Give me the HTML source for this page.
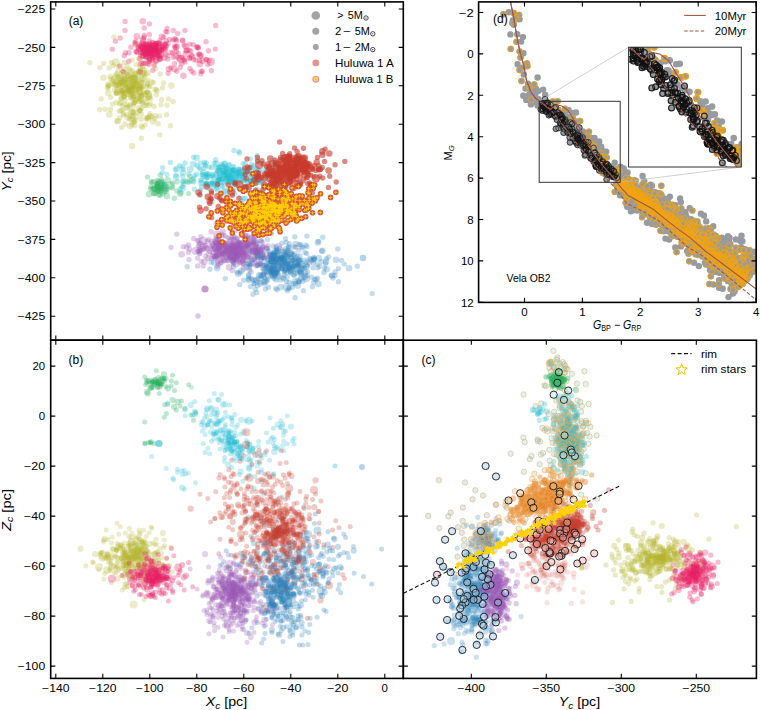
<!DOCTYPE html><html><head><meta charset="utf-8"><style>
html,body{margin:0;padding:0;background:#fff;width:760px;height:710px;overflow:hidden}
svg{display:block}
svg,text{font-family:"Liberation Sans",sans-serif}
text{fill:#000}
.r2_8 circle{r:2.8px}.r2_9 circle{r:2.9px}
.rh circle{r:2.7px}.rb circle{r:3.6px}
</style></head><body>
<svg width="760" height="710" viewBox="0 0 760 710" font-family="Liberation Sans, sans-serif">
<rect width="760" height="710" fill="#fff"/>
<g fill="none" stroke="#b3b52a" stroke-opacity="0.27" stroke-linecap="round"><path stroke-width="5.4" d="M112.7 79.5h.01M139.9 110.4h.01M133.3 82h.01M135.8 89.9h.01M139.9 84.9h.01M156.3 94.8h.01M150 113.8h.01M133.1 96.4h.01M153.5 82.6h.01M129.4 69.2h.01M129.5 119h.01M125.9 80h.01M145.8 73.9h.01M133 103.1h.01M118 77.7h.01M127.6 87.8h.01M123.4 92h.01M127.1 73.3h.01M99.9 67.6h.01M173.2 101.5h.01M142.3 65.8h.01M131 77.3h.01M103.7 63.4h.01M122 70.9h.01M146.4 117.7h.01M163.5 83h.01M121.4 81.2h.01M146.4 102.8h.01M129.5 106.2h.01M167 105.2h.01M121.6 98.5h.01M124.5 62.4h.01M141 76.4h.01M123.1 113.8h.01M150.1 86.2h.01M118.6 66.4h.01M159.8 134.9h.01M125 124h.01M135.5 45h.01M160.2 74h.01M122.4 105.9h.01M99.7 109.8h.01M131.2 91.7h.01M116.5 90.7h.01M119.8 117.8h.01M132 60.1h.01M160.9 104.7h.01M89.9 62.8h.01M141.2 119.3h.01M162.5 87.9h.01M110.5 109.3h.01M154.1 64h.01M122.9 86.4h.01M107.9 87.5h.01M154.9 89.8h.01M158.2 123.7h.01M113.5 65.8h.01M168.6 98.9h.01M109.2 67.9h.01M121.7 127.3h.01M148.1 80.3h.01M105.1 109.3h.01M155.5 68.6h.01M134.5 121.7h.01M154.3 106.5h.01M161.5 99.7h.01M170.5 125.8h.01M116.3 102.5h.01M136 73.2h.01M113.8 37.1h.01M141.3 138.2h.01M135.4 77.9h.01M155.5 115.7h.01M145.1 124.9h.01M136.4 64.5h.01M101.2 98.8h.01M133.3 87.3h.01M110.6 97.5h.01M140.5 87.6h.01M134.7 88.6h.01M166.5 114.7h.01M132.4 82.2h.01"/><path stroke-width="6.6" d="M138.3 96.7h.01M108.2 92.9h.01M141.3 56.6h.01M149.4 95.9h.01M132.1 146h.01M130.2 126.1h.01M115.7 85h.01M109.3 114.4h.01M130.9 111.6h.01M103.5 77.8h.01M153.2 121.5h.01M143.8 93.9h.01M171.3 85.6h.01M136 116.4h.01"/><path stroke-width="5.4" d="M138.7 94h.01M133.6 86.8h.01M151.6 116.5h.01M131.2 119.3h.01M110.1 76.4h.01M133.8 96.9h.01M126.5 87.3h.01M150.7 98.7h.01M121.3 76.1h.01M134 103.1h.01M128.2 76.6h.01M145.2 105.3h.01M138.3 72.7h.01M141.8 100.3h.01M139.7 110.5h.01M130.4 90.6h.01M142.9 67.3h.01M147.2 92.4h.01M152 82h.01M121 92.9h.01M150.4 103.6h.01M124.6 96.3h.01M149 85.9h.01M112.4 83.7h.01M157.1 90.7h.01M142.8 82h.01M123 110.1h.01M115.3 75h.01M117.3 88h.01M119.3 103.8h.01M127.6 104.9h.01M127.1 65.7h.01M129.1 81.9h.01M136.7 83.1h.01M144 72.5h.01M107.6 87.5h.01M132.4 91.9h.01M112.5 103.9h.01M117.7 70.9h.01M134.9 125.5h.01M139.9 59.6h.01M142.4 127.4h.01M116.2 93.4h.01M123.7 115.1h.01M159.4 115.9h.01M119.7 83.6h.01M146.8 119.1h.01M121.9 90.8h.01"/><path stroke-width="6.6" d="M142.9 87.1h.01M130 71h.01M134.5 78.4h.01M123.8 81.3h.01M132.1 111.9h.01M117.8 121.3h.01"/><path stroke-width="8.4" d="M115.7 62.5h.01"/><path stroke-width="5.4" d="M131.3 83.7h.01M138.4 89.7h.01M131.3 76.8h.01M125.6 85.1h.01M122 79.1h.01M117.6 75.9h.01M135.3 100.3h.01M132.6 115.8h.01M139.8 67.7h.01M116.5 93.6h.01M133.4 93.4h.01M133.6 105.8h.01M113.8 84.9h.01M147.4 83h.01M141.6 95.3h.01M124.9 100.3h.01M108.8 85.8h.01M155 118.7h.01M137.4 112.4h.01M149.3 105.2h.01M141.9 108.2h.01M147.7 91.8h.01M119 82.8h.01M133.4 122.4h.01M140.8 100.9h.01M138.2 76.7h.01M127.5 107.3h.01M119.4 111.2h.01M130.5 98.1h.01M131 88.5h.01M136.4 83.8h.01M156.3 89.3h.01M120.5 102.4h.01M110.5 79h.01M111.6 62.7h.01M125 82.7h.01M117.1 120.9h.01M132.7 70.9h.01M120.5 90.8h.01M141 126h.01M124.5 69.1h.01"/><path stroke-width="6.6" d="M148.8 97.2h.01M150 116.2h.01M142.7 73.3h.01M127.8 117.6h.01M141.2 82.8h.01"/><path stroke-width="8.4" d="M126.8 92.7h.01"/><path stroke-width="5.4" d="M131.9 87.5h.01M137.6 85.4h.01M134.4 76.6h.01M121.8 93.3h.01M114.3 77.5h.01M130.8 94.4h.01M116.5 92.9h.01M118.8 79.1h.01M146.5 86.5h.01M139.1 98.8h.01M140.6 69.8h.01M134.3 102.7h.01M130 104.9h.01M133.1 112.8h.01M124.1 104.5h.01M127.2 85.4h.01M144.6 77.8h.01M127.8 90.1h.01M122.1 86h.01M141.1 81.3h.01M146.1 105.2h.01M123.8 97.6h.01M135.4 120.5h.01M108.7 85.2h.01M120.9 110.4h.01M127.6 90.9h.01M126.7 114.6h.01M142.2 102.7h.01M131.7 124.8h.01M114.9 82.1h.01M145.6 98.7h.01M117.1 73.7h.01M141.5 114.2h.01"/><path stroke-width="6.6" d="M127.9 75.6h.01M132 81.8h.01M123.9 81h.01M139.8 92.6h.01M148.1 118.5h.01M148.9 93.7h.01M147.5 73.3h.01M139.3 108.1h.01"/><path stroke-width="5.4" d="M137.2 89.2h.01M134.6 84.4h.01M141 86.4h.01M123.4 75.2h.01M126.3 79.3h.01M133.7 77.2h.01M121.5 90.2h.01M130.5 90.9h.01M123.9 96.6h.01M130.9 97h.01M147.6 84.5h.01M141.8 96.3h.01M147.8 98.1h.01M138.8 101.5h.01M114.5 90.1h.01M125.7 85.6h.01M126.2 108.2h.01M134 111.3h.01M146.8 92h.01M142.9 79.2h.01M133.3 120.5h.01M118.8 76.6h.01M107.9 83.9h.01M130.1 116.6h.01M140.3 110.7h.01M144.5 69.7h.01M130.2 90h.01M148.2 117.5h.01"/><path stroke-width="6.6" d="M116.8 81.5h.01M139.3 71.7h.01"/><path stroke-width="5.4" d="M135.5 87.2h.01M140.1 88.9h.01M121.8 80.1h.01M136.4 92.3h.01M129.9 78.8h.01M129.7 88.4h.01M120.5 93.4h.01M127 83.3h.01M134 81.3h.01M125.4 92.8h.01M140.4 98h.01M112.8 81.3h.01M145.2 94.3h.01M117.7 85.4h.01M129.6 94.9h.01M138.9 81h.01M135.6 101.9h.01M144 75.1h.01M133.4 116.8h.01M139.2 71.6h.01M120.8 98.3h.01M142.5 102.9h.01M134 96.9h.01M122.2 84.8h.01"/><path stroke-width="6.6" d="M134.9 74.3h.01"/><path stroke-width="8.4" d="M123.4 73.8h.01"/><path stroke-width="5.4" d="M135.9 87.9h.01M134.9 82.8h.01M132.2 93.1h.01M140.8 87.7h.01M133.5 75.3h.01M124.8 96h.01M120.5 82.7h.01M128.1 85.8h.01M124.3 78.5h.01M140.9 95.9h.01M127.9 90.5h.01M117.5 92.1h.01M122.4 91.1h.01M135.2 88.7h.01"/><path stroke-width="6.6" d="M129.2 80.3h.01M136.6 99h.01"/><path stroke-width="5.4" d="M139.8 87.2h.01M132.4 85.8h.01M129.1 90.3h.01M133.1 77.9h.01M140.2 92.3h.01M123.3 82h.01M135.9 81.9h.01M132.9 98.9h.01"/><path stroke-width="6.6" d="M135.3 90.2h.01M119.2 86.2h.01M128.1 75.3h.01"/><path stroke-width="8.4" d="M127.4 89.8h.01"/><path stroke-width="5.4" d="M132.9 87.8h.01M128.7 90.9h.01M141.6 87.9h.01M135 81.7h.01M122.7 82.4h.01M130.5 80.2h.01M123.8 93.5h.01M132.7 94.3h.01M143.6 92.6h.01"/><path stroke-width="8.4" d="M130.1 87.8h.01"/><path stroke-width="5.4" d="M129.6 92.4h.01M137.9 86.1h.01M137 79.5h.01M132 85.9h.01M124.1 80.1h.01M122.5 90.4h.01"/><path stroke-width="8.4" d="M118 83.4h.01"/></g>
<g fill="none" stroke="#e91e63" stroke-opacity="0.3" stroke-linecap="round"><path stroke-width="5.4" d="M150.2 48.1h.01M140.3 45.7h.01M198.1 48.1h.01M160 40.4h.01M174.6 39h.01M146.5 50.9h.01M152.3 53.6h.01M128.9 52.7h.01M149.5 40.8h.01M125.1 21.4h.01M199.3 53.8h.01M156.7 50h.01M165 49h.01M145.6 43.4h.01M177 46.2h.01M168.2 73.2h.01M176.3 51.1h.01M208.9 60.7h.01M144.4 35.1h.01M190 58h.01M156.3 45.3h.01M184.5 60.1h.01M148.9 60h.01M142 63.2h.01M189.9 68.5h.01M160.7 47.4h.01M201.3 71.3h.01M208.5 50.7h.01M163.7 37.1h.01M128.7 61.3h.01M171.2 52.4h.01M139.1 58.6h.01M215.7 25.5h.01M211.4 70.7h.01M120 65.9h.01M149.4 34.5h.01M165.7 44.2h.01M173.3 57.3h.01M152.9 70.3h.01M145.6 56.4h.01M134.9 42.6h.01M140.3 71.8h.01M174.5 63.5h.01M167.8 59.1h.01M152.1 47.5h.01M215.3 49.1h.01M193.7 72.9h.01M196.1 60.2h.01M115.4 41.2h.01M206 41.8h.01M125 30.4h.01M184.9 30.4h.01M120.2 38h.01M149.4 23.9h.01M173.4 30.4h.01M167 28.5h.01M144.7 47.9h.01M151.5 53.8h.01M180.3 67.3h.01M182.7 40h.01M151.1 48.6h.01M112.3 49.2h.01M189.8 44.1h.01M136.4 51.6h.01M124.3 55.7h.01M190.7 51h.01M169.5 39.4h.01M177.7 33.5h.01M184.1 44.9h.01M149 64.6h.01M154.2 65.7h.01M156.1 43.5h.01M151.2 53.2h.01M130.9 47.3h.01M144.2 27.9h.01M157.4 55.2h.01M144.3 50.2h.01M123.2 71.4h.01"/><path stroke-width="6.6" d="M174.4 69.1h.01M202.5 60.9h.01M136.8 36.3h.01M156.5 60.7h.01M185.8 54h.01M141.5 52.3h.01M142.8 21.3h.01M179.1 58.3h.01M183.4 75.7h.01"/><path stroke-width="8.4" d="M160.6 54.4h.01"/><path stroke-width="5.4" d="M141.8 46.5h.01M149.6 56h.01M144.8 53.7h.01M125.4 52.7h.01M159.5 56h.01M149.6 43.3h.01M191.7 71.2h.01M206.3 59.4h.01M185 61.9h.01M202.4 71.2h.01M143.8 63h.01M176.8 71.2h.01M166.4 46.1h.01M175.7 39.3h.01M149.7 49.8h.01M135.2 43.8h.01M166 54.2h.01M136.9 52.4h.01M150.3 48.8h.01M154.9 53.2h.01M156 48.1h.01M151.9 60.6h.01M153.8 53.8h.01M165.7 31.6h.01M144.2 48.6h.01M198.4 47.2h.01M153.5 42.6h.01M207.8 64.5h.01M146.1 44.3h.01M193.3 44.7h.01M166.2 41h.01M182.6 40.8h.01M181.5 57.3h.01M151 50.2h.01"/><path stroke-width="6.6" d="M150.5 49.5h.01M158.7 50.9h.01M192.1 56.6h.01M199.7 64.2h.01M142.7 39.4h.01M176.1 47.4h.01M175.9 56.1h.01M158.7 43.3h.01M186.7 50.3h.01M168.9 69h.01M161.9 36.8h.01M200.3 55.2h.01M158.1 50.2h.01"/><path stroke-width="5.4" d="M147.8 52.2h.01M151.6 55.8h.01M153.8 47.7h.01M139.8 44.2h.01M160.9 50.6h.01M189.3 58.3h.01M144.1 37.3h.01M152.2 42.7h.01M138.6 49.1h.01M174.7 45.9h.01M161 45.4h.01M146.5 57h.01M149.5 51.5h.01M156.4 57.1h.01M172.7 53h.01M178.2 53.4h.01M186.3 50.6h.01M176.7 40.8h.01M164.5 58.2h.01M147.8 46.4h.01M167.9 43.8h.01M198.5 54.6h.01M145.1 63.3h.01M199.7 60.4h.01M167.1 32.1h.01M140.3 64h.01M196.9 47.5h.01M170.9 67.7h.01M154.6 50.9h.01M158.2 45h.01M135.7 41h.01M200.8 73.7h.01M145.6 57h.01M153 47.9h.01M150.3 52.8h.01"/><path stroke-width="6.6" d="M146.2 45.6h.01M155.6 50.2h.01M144.2 51.5h.01"/><path stroke-width="8.4" d="M181 59.2h.01M210.9 61.7h.01"/><path stroke-width="5.4" d="M152.1 55.1h.01M148.9 49.3h.01M144.8 53.8h.01M191.4 55.3h.01M155.3 50.8h.01M141.8 43h.01M161.6 50.2h.01M184 59.3h.01M138.5 46.4h.01M153.7 45.8h.01M150.1 50.8h.01M165 44h.01M157.7 55.1h.01M158.8 43.3h.01M142.9 49.6h.01M174.9 47.7h.01M152.5 46.7h.01M167.8 55.8h.01M193.6 59.5h.01M172.8 40.1h.01M155.8 60.7h.01M149.7 59h.01M181.8 63.5h.01M206.1 59.5h.01M189 50.2h.01M146.1 54.2h.01M200.9 56h.01M136 51.5h.01M197.1 46.7h.01M147.4 63.4h.01"/><path stroke-width="6.6" d="M146.6 44.7h.01M185.5 46.3h.01"/><path stroke-width="5.4" d="M149 52.7h.01M151.3 46.6h.01M153.3 57.5h.01M145.3 44.6h.01M161.2 54.7h.01M156.6 51.7h.01M163.5 48.6h.01M156 46.9h.01M159.8 59.1h.01M142.9 55.8h.01M154.9 51.6h.01M148.6 51.5h.01M137.9 47.5h.01M149 53.4h.01M142.5 44.5h.01M142.9 50.6h.01M143.4 39.5h.01M155.9 43.5h.01M144.3 50h.01M149.4 61.6h.01"/><path stroke-width="6.6" d="M150.7 45.8h.01"/><path stroke-width="8.4" d="M163.5 46h.01"/><path stroke-width="5.4" d="M146.4 53.3h.01M155.5 55.3h.01M152.4 59h.01M151.6 47.6h.01M151.6 52.9h.01M155.1 43.6h.01M147.8 48.3h.01M162.9 46.9h.01M140.5 47.7h.01M152.6 49.7h.01M148.4 53.2h.01M158.9 50.5h.01M146.1 47.6h.01M142.6 56.4h.01M153.6 49.9h.01M158.3 50.9h.01"/><path stroke-width="6.6" d="M159.8 58.8h.01"/><path stroke-width="5.4" d="M149.2 53.5h.01M154.3 48.2h.01M150 46h.01M145.2 51.1h.01M154.1 53.1h.01M161.4 49.7h.01M143.6 46.5h.01M140.3 49.7h.01M149.2 54.4h.01M149.9 59.9h.01M156.3 53.3h.01M148.3 47.2h.01M140.6 55h.01M160 59h.01"/><path stroke-width="6.6" d="M156 46.2h.01"/><path stroke-width="5.4" d="M145.7 54.5h.01M147.1 48.1h.01M158 55.3h.01M159.4 49.8h.01M152.8 57.1h.01M143.7 44.7h.01M147.3 53.5h.01M155.5 47.2h.01"/><path stroke-width="6.6" d="M150.6 48.8h.01M165.1 49.4h.01M150.6 51.9h.01M144.2 49.1h.01"/><path stroke-width="8.4" d="M153.7 46.3h.01"/><path stroke-width="5.4" d="M147 51.3h.01M153.7 50.4h.01M150.3 44.9h.01M151.7 50.1h.01M142.6 48.1h.01M158.9 52.3h.01M153 55.7h.01M141.9 52.8h.01M148.4 54.3h.01M158.6 44h.01M154 49.3h.01M147 57.5h.01"/><path stroke-width="5.4" d="M147.9 50.7h.01M153.8 49.7h.01M148.6 51.8h.01M150.5 44.9h.01M162.6 45.8h.01M157.2 45.2h.01M142.8 52.9h.01M152.2 55.3h.01M148.2 50.9h.01M159.6 56.4h.01M147.2 56.9h.01"/><path stroke-width="6.6" d="M155.6 50.2h.01M142.5 47.4h.01M154.5 50.8h.01"/></g>
<g fill="none" stroke="#27ae60" stroke-opacity="0.3" stroke-linecap="round"><path stroke-width="5.4" d="M151.2 181.8h.01M157 180.5h.01M158 190.9h.01M189.8 176.5h.01M174.4 198.2h.01M167.2 188.9h.01M157.2 186.4h.01M186 181h.01M160.3 174.9h.01M180.9 192.7h.01M177.1 181.7h.01M172.5 188h.01M182.2 186.4h.01M188.6 193.6h.01M161.9 187.9h.01M151 186.9h.01M162 181.5h.01M160.2 195h.01M147.5 177.1h.01"/><path stroke-width="6.6" d="M167.7 180h.01M166.9 196.1h.01M149 194.2h.01"/><path stroke-width="5.4" d="M156.6 184.9h.01M164.9 183.9h.01M151.8 182.7h.01M150.5 188.9h.01M162.9 193.9h.01M157 183.9h.01M161.5 179.5h.01"/><path stroke-width="6.6" d="M161 188.3h.01M154.7 193.2h.01M180.2 193.8h.01M192 180.4h.01"/><path stroke-width="8.4" d="M170.6 185.6h.01"/><path stroke-width="5.4" d="M164.6 191.5h.01M160.4 188.6h.01M155.3 193.1h.01M157.5 184.1h.01M166.9 186.9h.01M153.5 188.7h.01M176.8 191h.01M172.7 183h.01M157.2 183.8h.01M162.3 183.6h.01M189.4 181.9h.01"/><path stroke-width="5.4" d="M156.7 187h.01M162.3 186h.01M158.9 195.3h.01M153.7 193.5h.01M166.2 191.3h.01M158.9 181.3h.01M153.6 181.8h.01"/><path stroke-width="6.6" d="M155.1 187.9h.01"/><path stroke-width="5.4" d="M157.2 185.5h.01M158.4 187.1h.01M163.5 186.8h.01"/><path stroke-width="6.6" d="M153.2 189h.01"/><path stroke-width="5.4" d="M161.1 184.6h.01M165.7 189.7h.01"/><path stroke-width="6.6" d="M159.4 190h.01"/><path stroke-width="5.4" d="M157.6 189.9h.01"/><path stroke-width="6.6" d="M161.1 182.8h.01"/><path stroke-width="5.4" d="M158.8 186.8h.01"/><path stroke-width="6.6" d="M160.8 191.5h.01M164.5 185.9h.01"/><path stroke-width="5.4" d="M158.1 182.8h.01M154.9 189.1h.01M161 190.3h.01"/><path stroke-width="5.4" d="M157.3 184.5h.01"/><path stroke-width="6.6" d="M158.5 190.8h.01"/></g>
<g fill="none" stroke="#1fbcd2" stroke-opacity="0.3" stroke-linecap="round"><path stroke-width="5.4" d="M273.1 171.2h.01M250.2 158.9h.01M240.4 198h.01M249.3 189.9h.01M194.3 189.3h.01M205.2 183.9h.01M228.6 176.5h.01M221.4 185.2h.01M243.6 187.3h.01M224.4 167.5h.01M284.2 173.4h.01M205.5 165.9h.01M251.2 178h.01M232.8 173h.01M245.4 170.8h.01M260.1 180.9h.01M232.4 190.1h.01M226.1 181.7h.01M179.9 189.2h.01M206.4 175h.01M257.9 159.6h.01M230.8 181.8h.01M229.6 164.5h.01M242.5 179.2h.01M218 180.1h.01M175.4 169.7h.01M238.7 174.2h.01M166.9 174.5h.01M201.3 180.9h.01M255.7 170h.01M274.6 198.2h.01M260 171.8h.01M212.2 176.1h.01M194.7 175.6h.01M245.2 163.7h.01M170.4 162.4h.01M238.9 151.6h.01M274.7 190.1h.01M183.6 181.5h.01M255.9 177.5h.01M184.9 163h.01M236.9 187.3h.01M235.7 179.9h.01M258.2 197.8h.01M266.5 171.3h.01M267.8 177.4h.01M202.7 171.9h.01M285.1 159.3h.01M253.9 165.7h.01M234 150.5h.01M247.6 181.6h.01M211.7 167.4h.01M217.6 190.5h.01M268.1 185.8h.01M238.8 169h.01M164.2 184.2h.01M245.4 198.1h.01M212.1 201.4h.01M227.4 192.5h.01M255 183.5h.01M286.9 188.1h.01M200.6 162.9h.01M224.3 188.9h.01M198.9 167.4h.01M257 189.3h.01M273.3 177.9h.01M162.6 167.6h.01M200.7 190.1h.01M255.5 202.5h.01M261.5 163.4h.01M193.9 181.8h.01M162.3 172.7h.01M273.3 159.2h.01M199.9 195.5h.01M232.7 172.2h.01M233.8 166.7h.01M224.1 174h.01M179.7 165.8h.01M228.7 169.3h.01"/><path stroke-width="6.6" d="M193.2 164h.01M223.7 174.3h.01M277.8 180.9h.01M176.2 177.3h.01M216.4 163.9h.01M219 171h.01M196.6 157.9h.01M190.3 169.4h.01M182.9 172.5h.01M272.7 165.3h.01"/><path stroke-width="8.4" d="M212.8 185h.01"/><path stroke-width="5.4" d="M228.4 175.5h.01M225.9 166.7h.01M228.8 180.1h.01M209.2 167.1h.01M259.4 180.5h.01M279.6 184.3h.01M242.9 172.1h.01M226.1 171.3h.01M235.7 174.8h.01M234.5 193.8h.01M280.9 171.7h.01M276.5 178.3h.01M221.1 179.3h.01M257 155.4h.01M246.2 187.5h.01M205.8 183.9h.01M216.9 171.7h.01M193.6 178.4h.01M243 163.6h.01M213.6 177.4h.01M206.4 162.9h.01M250.8 181.2h.01M197.1 165.5h.01M221.6 164.4h.01M183.8 183.9h.01M263.8 169h.01M277 191.1h.01M233.5 169.6h.01M221.3 173.3h.01M239.9 180.6h.01M204.1 168.5h.01M251.6 164.4h.01M239.4 153.3h.01M215.6 159.8h.01M233.2 182.6h.01M201.7 186.7h.01M244.6 180h.01M208.2 188.1h.01M175.9 175.2h.01M238.7 170.1h.01M247.4 167.5h.01M223.9 195.1h.01M200.8 179.7h.01M258.9 170.6h.01M270 186.5h.01M224.4 182.9h.01M196.6 174.2h.01M182.8 176.5h.01M183.1 169.2h.01M193.7 157.3h.01M264.5 181.1h.01M260.8 191h.01M274 170.8h.01M243.9 198.7h.01M263.8 186.8h.01M267.2 173.8h.01M233.3 182.1h.01M188.9 174.2h.01M229.7 175.2h.01M241.7 188.4h.01"/><path stroke-width="6.6" d="M252.3 174.2h.01M204.3 175.9h.01M176.9 168.7h.01"/><path stroke-width="8.4" d="M215.9 183.7h.01"/><path stroke-width="5.4" d="M224.6 162.9h.01M225.4 178.5h.01M261.7 182.2h.01M256.8 180.2h.01M238 176.4h.01M232.4 178.2h.01M219.3 176.5h.01M227.2 168.2h.01M241.8 169.3h.01M217.6 180.9h.01M207.1 173.9h.01M235.2 170.4h.01M212.2 181.9h.01M187.9 182.1h.01M206.5 183.1h.01M212.5 174.9h.01M250.6 180.9h.01M276.9 185.1h.01M219.8 170.6h.01M224.2 173.9h.01M216.3 188.4h.01M242.3 174h.01M228.9 182.4h.01M202 174.9h.01M244.3 179.5h.01M204.4 162.3h.01M214.3 163.2h.01M182.4 181.5h.01M250.9 167.1h.01M266.3 187.2h.01M182.6 166.9h.01M235 170.3h.01M216.3 167.5h.01M229.9 176.1h.01M225.2 191.1h.01M200.2 169.3h.01M242.2 201.4h.01"/><path stroke-width="6.6" d="M247.6 173.6h.01M221.3 186.2h.01M237.5 182h.01M201.3 183.2h.01M256.1 169.3h.01M275.7 177.9h.01M182.7 188.4h.01"/><path stroke-width="5.4" d="M255.6 179h.01M226 176.4h.01M218.4 180.2h.01M229.6 179.4h.01M228.6 165.4h.01M236.9 173.3h.01M206.9 173.9h.01M231 171.9h.01M259 182.4h.01M207 184.3h.01M243.5 169.9h.01M243.3 176.2h.01M233.9 182.7h.01M212.5 183.5h.01M216.4 186.5h.01M204.8 164.6h.01M226.3 172.7h.01M242.8 181.5h.01M230.9 176.7h.01"/><path stroke-width="6.6" d="M212.3 175.2h.01M250.7 171.2h.01M251.6 182.7h.01"/><path stroke-width="8.4" d="M222.2 167.6h.01"/><path stroke-width="5.4" d="M231.1 181.3h.01M225.8 174h.01M222.5 178.5h.01M217.2 176.9h.01M208.3 177.3h.01M259.6 180h.01M251.5 180.2h.01M239.3 171.5h.01M234 170.8h.01M238.8 176.6h.01M230.8 174.4h.01M247.7 183h.01M216.2 183.7h.01M202.6 174.5h.01"/><path stroke-width="6.6" d="M210.1 184.4h.01M224.4 164.4h.01M248.8 169.9h.01M226.2 179.9h.01"/><path stroke-width="8.4" d="M219.4 171.2h.01"/><path stroke-width="5.4" d="M226.1 175.1h.01M208.6 173.9h.01M231.5 177.8h.01M218.4 167.8h.01M220.9 180h.01M229.6 170h.01M216.6 173.5h.01M212 183.1h.01M206.6 183.5h.01M242.6 177.5h.01"/><path stroke-width="6.6" d="M232.5 183h.01"/><path stroke-width="8.4" d="M236.6 174.1h.01M254.1 179.5h.01"/><path stroke-width="5.4" d="M227.2 178.2h.01M232.6 180.6h.01M219.2 179.8h.01M232.7 170h.01M219.3 166.9h.01M238 172.2h.01M250.7 180.8h.01M242.3 174.1h.01"/><path stroke-width="6.6" d="M206.1 177.2h.01M223.6 172h.01M232.2 175.2h.01"/><path stroke-width="5.4" d="M220 176.9h.01M234 179.6h.01M227 178.7h.01M238.7 169.5h.01M220.7 182.2h.01M234 184.7h.01M206.9 178.1h.01M254.1 179.5h.01"/><path stroke-width="6.6" d="M230 171h.01M241 175.6h.01M224 171.2h.01"/><path stroke-width="5.4" d="M232.5 178.3h.01M232.8 166.9h.01M228.3 175.5h.01M236.9 179.7h.01M236.4 174.7h.01M225.7 169h.01"/><path stroke-width="6.6" d="M219.4 178.6h.01"/><path stroke-width="8.4" d="M246 174.7h.01"/><path stroke-width="5.4" d="M228.8 179.4h.01M234.5 179.8h.01M232.5 170.4h.01M226.8 172.5h.01M239.9 172.8h.01M222.7 178.5h.01M222.5 166.7h.01"/></g>
<g fill="none" stroke="#c83a2c" stroke-opacity="0.6" stroke-linecap="round"><path stroke-width="5.4" d="M298.1 160.9h.01M302.2 169.3h.01M268 163.8h.01M303.2 181.1h.01M307.6 166.3h.01M257.4 177h.01M287 171.9h.01M285.7 164.7h.01M296.3 165.2h.01M318.5 169.6h.01M294.6 147.9h.01M344.8 161.4h.01M279.9 161.6h.01M244.9 186.9h.01M307.7 172.9h.01M238.9 198.3h.01M217.6 184.3h.01M257.4 157.3h.01M312.4 193.1h.01M322.7 178h.01M283.5 176.2h.01M296 156.6h.01M246.5 178.6h.01M282.6 153.4h.01M244.7 168.2h.01M211.3 191.3h.01M268.4 174.2h.01M312.4 169.4h.01M310.7 184.8h.01M272.9 183.8h.01M335 164.8h.01M257.2 192.5h.01M314 176.6h.01M275.2 162.3h.01M232.3 195.2h.01M290.2 167.3h.01M291.4 198.2h.01M289.5 162.1h.01M329.7 176.3h.01M199.5 207.1h.01M325.1 149.1h.01M268.3 168.8h.01M225.7 200h.01M261.9 160.6h.01M209.8 203.4h.01M294.2 188.5h.01M328.4 187.4h.01M304.4 161.8h.01M283.1 169.3h.01M249.7 167.7h.01M206.1 208.7h.01M303.5 148.2h.01M296.7 173.1h.01M279.6 142h.01M235.2 182.8h.01M247 158.9h.01M291.8 166.3h.01M290.9 172.6h.01M211.6 217.5h.01M291 183.1h.01M277 185.9h.01M267.1 202.4h.01M336.2 182h.01M228.1 184.8h.01M307.3 177.5h.01M324.5 161.4h.01M253.5 197.7h.01M294.4 160.9h.01M255.8 183.3h.01M218.3 206.5h.01M279.8 180h.01"/><path stroke-width="6.6" d="M264.4 184.7h.01M207.8 196.7h.01M198.6 192.5h.01M264.5 178.2h.01M280.6 170.2h.01M283.7 184.3h.01M316.7 162.3h.01M295.9 174.4h.01M297.1 183.4h.01M328.6 170.6h.01M217.5 196.3h.01M289 156.5h.01M329.3 153.5h.01M270.2 158.6h.01M266.5 196.4h.01M322.4 154.8h.01M206.8 186.5h.01"/><path stroke-width="8.4" d="M275.5 175.5h.01M289.7 177.3h.01M278.8 193h.01"/><path stroke-width="5.4" d="M278 178.5h.01M303.8 172.2h.01M211 198.5h.01M283.8 188.4h.01M301.4 162.1h.01M199.8 194.6h.01M296.6 171.5h.01M280.7 157.4h.01M320.4 169.6h.01M284.9 161.2h.01M289.3 163.4h.01M308.8 166.7h.01M298.5 158.4h.01M308.6 174.7h.01M263.5 164h.01M261.5 177.2h.01M280.3 171.4h.01M211.5 193.3h.01M245.1 174.4h.01M263.1 189.4h.01M317.4 157.4h.01M247.6 167h.01M289.7 157.6h.01M288.1 196.2h.01M294.7 176.1h.01M307.8 183.6h.01M283.9 177.7h.01M280.5 165.9h.01M255.7 190.3h.01M271.2 181.4h.01M300.2 177.7h.01M275.5 164.3h.01M313.5 185.6h.01M314.4 165.4h.01M222 200.9h.01M275.5 170.7h.01M297.1 151.5h.01M315.9 170.6h.01M283.3 173.1h.01M280.8 184.2h.01M295.3 169.9h.01M254 179.7h.01M304.9 165.7h.01M257.4 161.2h.01M271.4 174.4h.01"/><path stroke-width="6.6" d="M288.2 170.6h.01M299.8 183.1h.01M295.6 163.5h.01M248.6 187h.01M268.7 186.4h.01M275.7 189.5h.01M304.9 157.8h.01M322.4 151.4h.01M256.8 173.1h.01M200.6 210.6h.01M268.9 167.6h.01"/><path stroke-width="8.4" d="M289 181.2h.01M270.5 174.4h.01M288.5 169.7h.01M316 178.5h.01M239.3 184.5h.01M231.3 191.9h.01"/><path stroke-width="5.4" d="M280.8 176.1h.01M285.6 186.4h.01M285.6 169.5h.01M274.4 174.5h.01M294.8 168.8h.01M283.9 164.1h.01M297 175h.01M304.4 169.7h.01M322.2 167.5h.01M267.9 174.9h.01M287.8 174h.01M291.6 181.1h.01M310.7 175.3h.01M260 192.7h.01M266.6 166.6h.01M300.3 185h.01M257 177.7h.01M286.6 168.8h.01M289.4 157.6h.01M270.9 182.7h.01M288.4 174.2h.01M292.8 172.5h.01M309.8 183h.01M285.6 181.7h.01M219.7 198.3h.01M312.6 168.5h.01M247.4 171.6h.01M271.6 170.7h.01M281 176.5h.01M235 184.1h.01M290.9 162.5h.01M273.3 191.2h.01M293.5 178.4h.01M302.2 158.5h.01M319.6 176.2h.01M267.4 186.9h.01M258.7 173.1h.01"/><path stroke-width="6.6" d="M300.3 166.1h.01M296.7 160.2h.01M276.3 179.9h.01M209.6 201.3h.01M304.6 175.6h.01M306.2 163.4h.01M271.5 163.6h.01M282 190.2h.01M283.5 157.8h.01M245.4 187.4h.01M277.9 164.3h.01"/><path stroke-width="8.4" d="M259.1 165.1h.01M293.2 167.9h.01"/><path stroke-width="5.4" d="M287.9 183.5h.01M289.5 168.8h.01M296.9 168.2h.01M285.1 165.1h.01M281 177.9h.01M302.3 168.1h.01M296.2 175.7h.01M307.7 173.3h.01M276.1 181.5h.01M210.9 199.2h.01M287.5 169.5h.01M290.7 175.8h.01M318.4 165.7h.01M286.7 160.2h.01M299.5 185h.01M272.6 168.6h.01M221.4 200.1h.01M300.5 163.8h.01M276.8 172.3h.01M258.8 175.7h.01M272.8 185.3h.01M275.1 160.2h.01M306.2 177.9h.01M282.9 183.2h.01M278.3 166.6h.01M289.7 153.7h.01M297.1 173.4h.01"/><path stroke-width="6.6" d="M285.2 174.7h.01M272.9 175.8h.01M265.7 175.3h.01M280.5 160.3h.01"/><path stroke-width="8.4" d="M309.8 167.7h.01M297.9 158.3h.01M277.1 193.6h.01"/><path stroke-width="5.4" d="M288.9 170.3h.01M272.9 179.2h.01M305.2 165.2h.01M264.7 173.8h.01M306.6 172.1h.01M301.3 169.9h.01M292.7 159.9h.01M309.7 163.9h.01M274.7 183.9h.01M296 186h.01M272.3 170.8h.01M285.3 185.6h.01M297.4 172.5h.01"/><path stroke-width="6.6" d="M295.9 170.3h.01M297.6 163.4h.01M286.5 164h.01M288.5 169.6h.01M289.8 178.1h.01M319.2 169.2h.01M285.6 157.4h.01M278.7 177.9h.01"/><path stroke-width="8.4" d="M280.5 170.4h.01M302.9 158.8h.01M258.3 178h.01"/><path stroke-width="5.4" d="M284.2 166.9h.01M291.6 169h.01M294.6 164.6h.01M280.8 175h.01M289 178.6h.01M284.9 171.9h.01M276.6 176.8h.01M287.3 158.4h.01M298.9 159.1h.01M272.9 171.1h.01M269.6 167.5h.01M283.2 180.2h.01"/><path stroke-width="6.6" d="M286.2 173.7h.01M300.9 168.5h.01M275.3 183.3h.01M269.9 179.5h.01M267.5 172.9h.01M276 166.1h.01M307.1 164h.01M292.4 170.5h.01"/><path stroke-width="8.4" d="M295.6 173.6h.01M272.6 189.2h.01"/><path stroke-width="5.4" d="M288.2 173h.01M284.3 170.4h.01M300.5 170h.01M295.5 163.2h.01M287.9 165.3h.01M283.6 160.3h.01M268.8 173.8h.01M279.3 182h.01M289.5 179h.01M284.1 170h.01M279 167.4h.01"/><path stroke-width="6.6" d="M293.9 174.2h.01M300.7 164.6h.01M276.5 176.1h.01M306.8 168.1h.01M298.6 156.1h.01"/><path stroke-width="8.4" d="M291.1 158.7h.01"/><path stroke-width="5.4" d="M285.1 171.1h.01M289.9 172.7h.01M293 167h.01M282.3 167.3h.01M281.9 178.4h.01M287.3 165.1h.01"/><path stroke-width="6.6" d="M296.1 162.3h.01M287.8 156.9h.01"/><path stroke-width="8.4" d="M292.5 173.8h.01M276 175.9h.01M304.9 169.2h.01"/><path stroke-width="5.4" d="M286.3 172.9h.01M282.7 168.4h.01M293.7 170.3h.01M298.1 162.6h.01M303.9 170h.01M272.1 174.9h.01M290.2 177.2h.01M292.5 172.1h.01M290.2 166.7h.01M290.1 160.8h.01M286.8 172.8h.01"/><path stroke-width="6.6" d="M277.5 179.5h.01M278.5 172.1h.01M295.3 178.9h.01"/><path stroke-width="5.4" d="M289.2 171h.01M282.4 172.8h.01M294.7 171.7h.01M295.7 165.1h.01M292.8 176.1h.01M270.9 175.1h.01M296.7 159.5h.01"/><path stroke-width="6.6" d="M300.4 172.5h.01M288.7 170.8h.01"/><path stroke-width="8.4" d="M305.2 164.6h.01"/></g>
<g fill="none" stroke-linecap="round"><path stroke="#2a80b9" stroke-opacity="0.28" stroke-width="5.4" d="M291 270.6h.01M285.8 252.7h.01M271.5 272.9h.01M281.3 257.4h.01M248.5 276.3h.01M264.4 283.6h.01M257.6 278.4h.01M331 275.6h.01M287.6 263.6h.01M269.7 268.2h.01M314.8 279.2h.01M314.4 258.1h.01M276.4 273.2h.01M277.1 289.8h.01M293.6 255.1h.01M313.4 262.9h.01M258.3 252.6h.01M300.5 260.3h.01M299.6 271.1h.01M260.6 240.6h.01M317.7 267.7h.01M285.5 238.8h.01M250.3 265.3h.01M294.1 275.4h.01M253.1 250h.01M283.8 278.8h.01M209.9 269.3h.01M252.8 279.4h.01M240 272.7h.01M325.6 263.6h.01M307.4 265.6h.01M243.8 280.2h.01M261.9 249.7h.01M294.8 236.8h.01M328.6 256.9h.01M267 279h.01M257.5 265.6h.01M306.6 253.6h.01M255.2 289.2h.01M275 254.7h.01M289.4 243.8h.01M285.3 269.1h.01M307.2 275.4h.01M265.4 289h.01M303 247.6h.01M233.6 266.5h.01M338.4 281.8h.01M276.3 247.3h.01M302.9 281.2h.01M248.9 256.4h.01M249.8 270h.01M289.2 282.1h.01M211 262h.01M279.2 277.1h.01M271.6 233.6h.01M322.8 237.2h.01M323.8 272.5h.01M281.9 243.3h.01M309.6 258.3h.01M225.3 278.6h.01M253 294.3h.01M289 287.5h.01M338.5 268.6h.01M268.9 250.9h.01M372.2 293.6h.01M303.5 290.7h.01M267.4 239.6h.01M290.2 271.1h.01M281.3 254.8h.01M313 267.7h.01M344.2 264.1h.01M295.1 297.7h.01M239.7 284.4h.01M263.1 265.4h.01M298.9 250.1h.01M312.4 286.7h.01M337.8 249h.01M279.3 259.9h.01M285.2 269.5h.01M250.4 286.6h.01M274.9 265.4h.01M246.2 252.2h.01M341.5 260.4h.01M357.3 266.2h.01M306.9 236.1h.01M187.2 266.7h.01M273.3 252.9h.01M288.4 257.2h.01M293.2 267h.01M268.2 268.2h.01M274.3 278.4h.01"/><path stroke="#2a80b9" stroke-opacity="0.28" stroke-width="6.6" d="M271.6 259.3h.01M277.8 264.9h.01M264.3 271.6h.01M295.7 244h.01M317.8 242.4h.01M263.2 256.6h.01M276.9 224.6h.01M295.5 262.1h.01M256.5 259.5h.01M322.4 250.8h.01M252 228.5h.01M217.2 268.2h.01M295.1 281.3h.01M270.9 261.5h.01M349.1 268.3h.01M318.4 283.9h.01M336 259.8h.01"/><path stroke="#2a80b9" stroke-opacity="0.28" stroke-width="8.4" d="M235.4 258.6h.01M285.5 263.2h.01M244.9 244.9h.01"/><path stroke="#9b59b6" stroke-opacity="0.3" stroke-width="5.4" d="M229.6 256.3h.01M250 244h.01M243.9 258.4h.01M215.1 256.3h.01M230.1 249.4h.01M235.9 248.6h.01M270 254.6h.01M267.9 231.6h.01M241.4 249.3h.01M238 243.1h.01M231.8 243.3h.01M186.6 247h.01M261.9 258.3h.01M171.1 247.5h.01M237.2 238.2h.01M258.5 263.4h.01M219.2 252h.01M245.4 235.1h.01M260.8 251.4h.01M221.5 245.6h.01M254.2 236.4h.01M209.7 251.4h.01M223.5 260.1h.01M246.7 254.2h.01M255.3 249.9h.01M207.9 258.2h.01M199.6 253.7h.01M237.3 256.7h.01M233.2 262.4h.01M218.7 264.3h.01M267.6 245.5h.01M254.3 259.9h.01M216.3 223.6h.01M207.3 241.2h.01M176.7 234.1h.01M226.5 252.5h.01M262.4 242.5h.01M264.1 273.8h.01M240.6 248h.01M248.2 248.8h.01M234.2 251.6h.01M245 243h.01M255.8 244.2h.01M198.8 240.6h.01M229.1 248.1h.01M210.6 246.4h.01M188.5 252.3h.01M231.8 237.8h.01M203.2 266h.01M295.8 247.6h.01M225.3 236h.01M193.8 238.5h.01M189 259.6h.01M197.6 258.1h.01M238.4 254.4h.01M239.9 262.7h.01M201.3 261.5h.01M262.8 247.1h.01M226.6 243h.01M240.6 249.4h.01M248 239.3h.01M228.2 260.8h.01M231.1 257.2h.01M197.6 265.9h.01M219.1 251.5h.01M236 249.9h.01M250.9 272.1h.01M225.6 250.8h.01M286.8 251.7h.01M217 256.2h.01M221.3 244.6h.01M252.1 251.7h.01M211 231.7h.01"/><path stroke="#9b59b6" stroke-opacity="0.3" stroke-width="6.6" d="M216.2 242.9h.01M244 268.4h.01M222.7 231.5h.01M229 267.3h.01M238.3 243.3h.01M236.1 229.6h.01M181.6 254.2h.01M276.3 259h.01M230.5 249h.01"/><path stroke="#9b59b6" stroke-opacity="0.3" stroke-width="8.4" d="M203.6 247.1h.01M278.1 247.3h.01M216.3 241.3h.01"/><path stroke="#2a80b9" stroke-opacity="0.28" stroke-width="5.4" d="M275.7 261.4h.01M289.1 254.1h.01M270.8 254.9h.01M267.7 259.9h.01M292.3 268.8h.01M313.7 282.3h.01M272.3 274.2h.01M297.3 256.8h.01M278.7 269h.01M253.1 263.5h.01M288.2 261.5h.01M270.5 269.2h.01M297.2 270.9h.01M282 257.5h.01M266.3 267h.01M275.7 288.4h.01M313.8 257.4h.01M284.6 270.3h.01M250 251h.01M255.2 280.2h.01M248.5 278.9h.01M257.5 285.7h.01M305 252.4h.01M268.4 287.3h.01M293.1 283.8h.01M317.5 278.2h.01M303.5 277.8h.01M278.4 275h.01M306.9 246.8h.01M257.3 250.8h.01M233.4 263.7h.01M272.9 246h.01M333 278.1h.01M326.3 258.7h.01M276 279.9h.01M286.4 281.1h.01M254.4 258.2h.01M301.5 272.9h.01M283.1 277.7h.01M286.2 242.5h.01M307.5 271.8h.01M260.7 263.9h.01M280.1 258.5h.01M289.1 288.9h.01M294.2 246.8h.01M318.6 241.4h.01M287.8 266.7h.01M311.6 277.3h.01M317.4 264.1h.01M301.6 246.9h.01M276.2 268.5h.01M273.8 256.6h.01M335.2 271.8h.01M321.5 261.8h.01M272.9 261.5h.01M321.9 251h.01M256.7 292.5h.01M291.7 270.2h.01"/><path stroke="#2a80b9" stroke-opacity="0.28" stroke-width="6.6" d="M265.4 281.8h.01M286.3 249.1h.01M241.4 270.8h.01M256.7 243.2h.01M306.4 266.7h.01M280.6 287.2h.01M262.9 275.6h.01M298.5 280.6h.01M299 262.5h.01M281.8 263.4h.01M304.7 260.8h.01M246.5 267h.01M274.9 251.5h.01M326.8 269.3h.01M233.4 258.3h.01M214.3 262.5h.01"/><path stroke="#2a80b9" stroke-opacity="0.28" stroke-width="8.4" d="M260.6 256.3h.01M265.7 250.4h.01"/><path stroke="#9b59b6" stroke-opacity="0.3" stroke-width="5.4" d="M231.9 250.5h.01M230.5 246h.01M253.3 245.4h.01M242.9 251.4h.01M243.1 263.9h.01M213.3 252.5h.01M216 256.4h.01M233.2 239.5h.01M238 248.4h.01M229.3 254.5h.01M235.3 243.9h.01M221.6 253.8h.01M219 242.1h.01M233.5 258.4h.01M224.9 247.8h.01M250.5 237.2h.01M241.1 242.9h.01M197.8 251h.01M224.7 243.1h.01M243.8 256.9h.01M203.6 249h.01M267.4 248.4h.01M220.2 247.1h.01M252.8 249.9h.01M239.3 247.4h.01M261.5 263.7h.01M257.6 249.3h.01M205.5 256.2h.01M211.4 248.2h.01M231.9 249.9h.01M223.8 261.1h.01M263 246.1h.01M234.6 259.6h.01M225.7 251h.01M249 253h.01M188.6 245h.01M256.1 265.8h.01M197.3 240.8h.01M236.5 251.7h.01M261.4 241h.01M230.8 245.1h.01M250.3 257.9h.01M183.3 246.8h.01M244.1 249h.01M223.2 235.8h.01M228.2 237.6h.01M218.3 248.2h.01M198.5 245.4h.01M245.2 237.8h.01M225.7 250.1h.01M232.2 270.6h.01M248.6 245.8h.01M217.6 261.9h.01M236 254h.01M238.9 247h.01M211.2 258.4h.01M233.3 249.4h.01M242.8 232.7h.01M255.9 241h.01"/><path stroke="#9b59b6" stroke-opacity="0.3" stroke-width="6.6" d="M247.4 244.6h.01M269.6 255.8h.01M239 254.9h.01M204.5 261.7h.01M211.9 241.7h.01"/><path stroke="#9b59b6" stroke-opacity="0.3" stroke-width="8.4" d="M217.1 234.6h.01M258.9 255.5h.01M203.2 240.8h.01"/><path stroke="#2a80b9" stroke-opacity="0.28" stroke-width="5.4" d="M277.8 272.9h.01M274.3 255h.01M283.9 254.4h.01M284.2 261.7h.01M281.9 268.5h.01M264.3 277.9h.01M272.4 276.9h.01M278.8 258.9h.01M251 278.2h.01M314.6 259.3h.01M279.2 264.2h.01M302.1 267.7h.01M256.3 253.2h.01M266.3 265.2h.01M316.1 279.7h.01M254.2 283.2h.01M251.3 260.2h.01M298 265h.01M299.7 272.8h.01M298.9 281.9h.01M247.7 263.8h.01M272.6 270.4h.01M266.4 272.2h.01M260.5 274.9h.01M300.8 244.6h.01M306.8 262h.01M275.8 258.2h.01M257.4 265.2h.01M284 274.9h.01M288.1 262.7h.01M324.4 267.9h.01M319.5 266.3h.01M280.3 279.9h.01M305.9 245.3h.01M230 257.4h.01"/><path stroke="#2a80b9" stroke-opacity="0.28" stroke-width="6.6" d="M271.4 260.9h.01M272.4 268.6h.01M299.4 256.3h.01M238.1 273.8h.01M258.6 247.9h.01M294.1 259.5h.01M292.6 266.8h.01M260.3 283.6h.01M261.8 255.1h.01M289.3 247.7h.01M293.5 273.9h.01M332.2 275.6h.01M291 254.1h.01M284 259.5h.01M305.1 276.6h.01M326.1 261.7h.01M287.2 271.6h.01M271 254.8h.01"/><path stroke="#2a80b9" stroke-opacity="0.28" stroke-width="8.4" d="M286.8 287.1h.01M279.5 249.9h.01"/><path stroke="#9b59b6" stroke-opacity="0.3" stroke-width="5.4" d="M233.9 251.7h.01M253.8 241.5h.01M233.5 243.2h.01M239.9 248.6h.01M227.7 248.4h.01M215.6 255.6h.01M238.7 242.5h.01M219.2 245.8h.01M223 252.2h.01M243.3 260.6h.01M218.9 241.1h.01M248.8 247.5h.01M220.6 256.5h.01M231.6 259.2h.01M256.1 252.5h.01M269.1 256.7h.01M257.1 257.1h.01M221.8 234.3h.01M205.7 245.3h.01M254.9 246.1h.01M247.5 240.8h.01M264 257.8h.01M229.8 246.7h.01M247.8 257.4h.01M233.5 236h.01M242.5 255.2h.01M200.8 236.7h.01M224.7 243.3h.01M226 257.3h.01M262.8 247.5h.01M221 262.7h.01M223.1 249.6h.01M229.2 249.3h.01M237.4 254h.01M208.7 239.6h.01M227.8 254.9h.01M257.7 264.8h.01M234.3 247.8h.01M212.3 243.8h.01M199.8 243.1h.01M217.4 266.3h.01M189.5 249h.01M240 242.8h.01M229.7 247.2h.01M256.4 251.1h.01"/><path stroke="#9b59b6" stroke-opacity="0.3" stroke-width="6.6" d="M238.4 259.2h.01M215.3 249.1h.01M242.5 248.9h.01M208.8 253.2h.01M237.9 247.9h.01M251.7 263.5h.01M235 248.2h.01"/><path stroke="#9b59b6" stroke-opacity="0.3" stroke-width="8.4" d="M195.5 250.9h.01"/><path stroke="#2a80b9" stroke-opacity="0.28" stroke-width="5.4" d="M277.5 271.8h.01M275.2 276.2h.01M273.6 255.8h.01M275.8 260.8h.01M282.6 258.9h.01M286 265h.01M285.2 254.8h.01M267.3 280.8h.01M281.2 267.1h.01M263.3 274.5h.01M261.2 259.4h.01M292.4 260.6h.01M300.8 271.9h.01M248.6 274.7h.01M255.9 252.1h.01M303.5 265.6h.01M298.7 259.1h.01M237 272.1h.01M311.3 260.7h.01M292.6 266.5h.01M288.6 247.1h.01M259.6 282.4h.01M291.2 252.3h.01M292.3 287.3h.01M277.6 252.7h.01M265.7 267.9h.01M298 264.3h.01M298.8 281.9h.01M284.3 272h.01M269.7 270.6h.01M283.9 260.9h.01M287.3 290.8h.01M254 283.9h.01M334.9 275.5h.01M299.1 244.5h.01M287.2 276.8h.01"/><path stroke="#2a80b9" stroke-opacity="0.28" stroke-width="6.6" d="M269.1 258.4h.01M290.7 271.5h.01M273.8 266.4h.01M280.2 257.1h.01M248.9 280.1h.01M249 263h.01M306.5 278.9h.01M319 258.3h.01"/><path stroke="#9b59b6" stroke-opacity="0.3" stroke-width="5.4" d="M232.3 248.5h.01M236.9 246.9h.01M218.2 253.9h.01M230.3 240.5h.01M252 242.7h.01M217.1 243.1h.01M230.6 253.5h.01M215.2 258.2h.01M227 249.9h.01M256.9 252.7h.01M245.5 260.4h.01M222.3 246.1h.01M254.7 238.6h.01M240.1 243.6h.01M247.4 244.8h.01M246.6 240.1h.01M244.7 254.8h.01M206.8 247.4h.01M240.9 252.2h.01M232.3 244.9h.01M199.7 250.5h.01M223.4 253.4h.01M222.7 258.6h.01M234.7 255.8h.01M237.2 239.1h.01M257.2 247h.01M242.2 245.8h.01M229.1 258.3h.01M217.8 248.2h.01M228.2 245.2h.01M239.9 253.8h.01M212.9 245.8h.01M236.6 247.1h.01M216.3 238h.01M252.4 248.4h.01M266.7 248h.01M260.3 264.2h.01M264.2 257.1h.01M240.2 252.9h.01M237.7 247.7h.01M226 250.8h.01M220.5 262.9h.01"/><path stroke="#9b59b6" stroke-opacity="0.3" stroke-width="6.6" d="M234.8 252.1h.01"/><path stroke="#9b59b6" stroke-opacity="0.3" stroke-width="8.4" d="M237.6 259.7h.01M252.5 257.7h.01"/><path stroke="#2a80b9" stroke-opacity="0.28" stroke-width="5.4" d="M284.4 260.9h.01M272.4 255.9h.01M274.7 275.4h.01M284.9 251h.01M276.2 270.8h.01M280.8 257.2h.01M275.4 266.2h.01M288.3 268.9h.01M291.6 257.4h.01M290.9 263.7h.01M258 255.4h.01M281.9 268.8h.01M295.9 265.6h.01M261.3 278.3h.01M280.8 264.2h.01M264.4 258.7h.01M310.6 259.2h.01M277 251.8h.01M299.5 260.7h.01M267.1 266.2h.01M301.2 268.7h.01M276.8 259.6h.01M294.7 253.6h.01M295.4 283.7h.01M248.8 264.7h.01M286.9 256.2h.01"/><path stroke="#2a80b9" stroke-opacity="0.28" stroke-width="6.6" d="M271.7 261h.01M301.4 273.9h.01M256.2 280.5h.01M271 271.1h.01"/><path stroke="#2a80b9" stroke-opacity="0.28" stroke-width="8.4" d="M268.5 274.9h.01"/><path stroke="#9b59b6" stroke-opacity="0.3" stroke-width="5.4" d="M233.9 248.6h.01M215.9 251.8h.01M225.1 246.1h.01M221.8 254.7h.01M255.6 252.9h.01M213.8 256.5h.01M233.4 259.5h.01M253.3 243.5h.01M227.8 250.5h.01M217.4 244.8h.01M230.1 244.7h.01M246.6 255.9h.01M253.5 238h.01M246 245.7h.01M240.6 249.4h.01M199.8 253.4h.01M220.1 260.1h.01M225.2 260.6h.01M221.2 242h.01M206.7 248.9h.01M230.2 252h.01M234 259.7h.01M258.5 248.4h.01M236.6 252.2h.01M225.8 250.9h.01M246.4 245.8h.01M218.7 247.8h.01M249.9 250.8h.01M232.5 248.1h.01M241.4 251.9h.01"/><path stroke="#9b59b6" stroke-opacity="0.3" stroke-width="6.6" d="M240 245.8h.01M242.9 261.5h.01M238.4 254.7h.01M246.9 236.1h.01"/><path stroke="#9b59b6" stroke-opacity="0.3" stroke-width="8.4" d="M236.7 243h.01M200.9 245.5h.01M261.6 253.9h.01M234.7 250.6h.01"/><path stroke="#2a80b9" stroke-opacity="0.28" stroke-width="5.4" d="M277.5 269.9h.01M273.2 272.2h.01M286.5 264h.01M279.8 265.9h.01M285.7 255.3h.01M289.4 268.6h.01M295.4 257.9h.01M299.1 266.9h.01M272.4 253.7h.01M294.1 266.4h.01M261.3 276.3h.01M276.4 249.9h.01M313.4 259.3h.01M282.4 251.5h.01M291.7 254.2h.01M271.3 267.9h.01M281.2 257.9h.01M304.6 267.8h.01M264.1 281.8h.01M249.6 267.3h.01M302 263.2h.01M288 250.5h.01M308.9 263.2h.01"/><path stroke="#2a80b9" stroke-opacity="0.28" stroke-width="6.6" d="M280.4 259.1h.01M267.2 263.8h.01M300.9 278.7h.01M257.9 255.1h.01M296.4 272.8h.01M272.6 259h.01M304.8 272.9h.01M297.9 285.6h.01"/><path stroke="#2a80b9" stroke-opacity="0.28" stroke-width="8.4" d="M273.6 261.7h.01"/><path stroke="#9b59b6" stroke-opacity="0.3" stroke-width="5.4" d="M234.1 246.2h.01M231.1 250h.01M240.6 246.8h.01M218.9 254.8h.01M226.5 248.5h.01M256.5 251.7h.01M236.2 248.1h.01M256.4 243.5h.01M219.1 245.8h.01M216.5 250.1h.01M244 252.1h.01M223.8 254.2h.01M250 244.9h.01M245.5 246.2h.01M198.5 251.5h.01M241.7 253.7h.01M243 263.3h.01M214.6 257.1h.01M242.2 242.3h.01M239 246.5h.01M253.4 248.1h.01M236.3 253.7h.01M232.2 261h.01M231.9 245.8h.01M251.7 237.5h.01M246.4 237.3h.01M233.9 245.2h.01M217.2 239.6h.01M225.2 243.2h.01M236.8 251.9h.01M230.4 250.4h.01"/><path stroke="#9b59b6" stroke-opacity="0.3" stroke-width="6.6" d="M231.6 251.7h.01M228.3 257.1h.01M230.2 239.8h.01M243.3 252.4h.01"/><path stroke="#9b59b6" stroke-opacity="0.3" stroke-width="8.4" d="M236.4 256.6h.01M224 249.9h.01"/><path stroke="#2a80b9" stroke-opacity="0.28" stroke-width="5.4" d="M281.6 259.1h.01M278.4 263.1h.01M272.2 258.4h.01M273.3 271.6h.01M272.8 266.2h.01M268.8 263.4h.01M276.6 255.7h.01M278 270h.01M290.4 272.5h.01M313.6 260h.01M297.7 265.1h.01M303.1 268.6h.01M289.2 265.5h.01M275.5 274h.01"/><path stroke="#2a80b9" stroke-opacity="0.28" stroke-width="6.6" d="M286.7 256.8h.01M285.4 269.9h.01M259.2 275.2h.01M268.6 271.8h.01M283.2 266.8h.01"/><path stroke="#2a80b9" stroke-opacity="0.28" stroke-width="8.4" d="M290.3 264.3h.01M263.7 266.8h.01M297.1 267.5h.01"/><path stroke="#9b59b6" stroke-opacity="0.3" stroke-width="5.4" d="M233.6 248h.01M239.7 246h.01M239.1 250.8h.01M258.6 249.7h.01M217.3 255h.01M227.4 247.2h.01M222 244.7h.01M215.1 247.2h.01M243.5 253.3h.01M224 251.1h.01M228.4 247.9h.01M237.2 251.3h.01M239.6 246h.01M254.9 253.9h.01M233 247.5h.01M248.3 245.4h.01M219.3 254.5h.01M252.9 242.1h.01M237.9 251.4h.01M242.2 261.1h.01M226.4 255.3h.01M239.4 245.9h.01M234.8 237.8h.01M219.6 249.7h.01M246.1 246.8h.01M240.6 256.9h.01M221.4 243.8h.01M233.1 248.1h.01"/><path stroke="#9b59b6" stroke-opacity="0.3" stroke-width="6.6" d="M234.5 256.1h.01M216.4 242h.01M233.8 248.1h.01M201.3 249.1h.01"/><path stroke="#9b59b6" stroke-opacity="0.3" stroke-width="8.4" d="M232.2 255.3h.01M236.2 263.3h.01M231 255.4h.01"/><path stroke="#2a80b9" stroke-opacity="0.28" stroke-width="5.4" d="M273.7 261.4h.01M283.5 259.1h.01M270 265.3h.01M272.2 270.8h.01M282.8 264.1h.01M291.6 267.9h.01M274.6 252.9h.01M298.7 260.8h.01"/><path stroke="#2a80b9" stroke-opacity="0.28" stroke-width="6.6" d="M277.6 257.8h.01M286.5 268.7h.01M292.7 261.3h.01M275.2 272.4h.01M264.5 268.8h.01"/><path stroke="#2a80b9" stroke-opacity="0.28" stroke-width="8.4" d="M286.1 257h.01"/><path stroke="#9b59b6" stroke-opacity="0.3" stroke-width="5.4" d="M236.7 247.6h.01M220 251.5h.01M236.9 257.3h.01M229.4 248.8h.01M216.5 245.2h.01M243.4 256h.01M225 245.2h.01M233 261.2h.01M256 251.1h.01M232.1 255.6h.01M224.2 253.6h.01M260.5 250.1h.01M239.6 252.9h.01M213.2 248.7h.01M250.5 241.9h.01M235.9 245.2h.01M200.7 250.6h.01M231.3 249.8h.01M228.2 260.4h.01"/><path stroke="#9b59b6" stroke-opacity="0.3" stroke-width="6.6" d="M242.3 250.9h.01M236.5 248.7h.01M243.9 244.8h.01M213.3 256h.01"/><path stroke="#9b59b6" stroke-opacity="0.3" stroke-width="8.4" d="M230.3 250.4h.01"/><path stroke="#2a80b9" stroke-opacity="0.28" stroke-width="5.4" d="M288.9 267.6h.01M281.6 259.1h.01M274.3 255.7h.01M281.8 268.5h.01M273.8 266.5h.01M285.4 264.4h.01M271.3 262.3h.01M274.3 273h.01M270.2 269.8h.01M293.9 259.8h.01"/><path stroke="#2a80b9" stroke-opacity="0.28" stroke-width="6.6" d="M277.4 250.9h.01M298.2 265.5h.01M274.5 273.1h.01"/><path stroke="#2a80b9" stroke-opacity="0.28" stroke-width="8.4" d="M277.8 260.5h.01"/><path stroke="#9b59b6" stroke-opacity="0.3" stroke-width="5.4" d="M230.9 246.5h.01M234.3 250.1h.01M239.5 246.9h.01M227.8 252.5h.01M234.5 259.1h.01M237.5 254.4h.01M220.7 243.8h.01M244.7 252.6h.01M231.8 245.6h.01M221.7 253.6h.01M226.1 246.2h.01M240.5 248.8h.01M238.2 244.4h.01M247.5 243.6h.01M226.4 246h.01M232.9 251.7h.01M217 255.6h.01M252.1 242.6h.01M260.7 252.5h.01M240.4 258.7h.01"/><path stroke="#9b59b6" stroke-opacity="0.3" stroke-width="6.6" d="M232 255.8h.01M252.8 250.9h.01M219.5 248.9h.01"/><path stroke="#9b59b6" stroke-opacity="0.3" stroke-width="8.4" d="M216.1 248.3h.01"/><path stroke="#2a80b9" stroke-opacity="0.28" stroke-width="5.4" d="M289 267.4h.01M282.7 257.7h.01M271.6 258.1h.01M276.5 269.4h.01M291.1 257.6h.01M283.5 262.7h.01M271 267.6h.01M275.5 262.4h.01"/><path stroke="#2a80b9" stroke-opacity="0.28" stroke-width="6.6" d="M295.7 262.9h.01"/><path stroke="#2a80b9" stroke-opacity="0.28" stroke-width="8.4" d="M273.2 256.4h.01M272.6 274.4h.01"/><path stroke="#9b59b6" stroke-opacity="0.3" stroke-width="5.4" d="M232.9 245.2h.01M238.9 250.2h.01M232.3 251.6h.01M228.1 249h.01M219.6 248.1h.01M238 255.2h.01M234 247.3h.01M216.4 243.1h.01M252.7 252.2h.01M255.9 248.1h.01M233 247h.01M217.7 257.7h.01M238.2 251.3h.01M228.4 248.1h.01M216.8 251.3h.01"/><path stroke="#9b59b6" stroke-opacity="0.3" stroke-width="6.6" d="M238.8 244.1h.01M232.8 256.8h.01M244.9 248.5h.01M244.9 256.6h.01M222.7 248.1h.01M221.6 242.3h.01"/><path stroke="#9b59b6" stroke-opacity="0.3" stroke-width="8.4" d="M224.7 254.5h.01"/></g>
<circle cx="205" cy="289" r="3.6" fill="#9b59b6" fill-opacity=".6"/><circle cx="198" cy="316" r="2.7" fill="#9b59b6" fill-opacity=".35"/><circle cx="363" cy="258" r="3.3" fill="#2a80b9" fill-opacity=".35"/>
<path fill="none" stroke="#d0452c" stroke-opacity="0.92" stroke-width="5.6" stroke-linecap="round" d="M274.4 226.1h.01M245.0 209.9h.01M239.8 221.8h.01M265.8 224.0h.01M272.8 202.5h.01M266.4 224.8h.01M262.0 200.9h.01M268.0 213.3h.01M262.5 212.5h.01M236.0 226.3h.01M259.8 224.6h.01M289.9 200.1h.01M253.7 218.6h.01M296.1 197.8h.01M262.9 234.6h.01M282.6 207.3h.01M260.4 223.7h.01M278.7 211.2h.01M268.0 204.6h.01M279.7 208.9h.01M261.2 199.0h.01M250.6 193.6h.01M256.1 217.8h.01M256.0 202.7h.01M234.3 213.8h.01M271.1 212.6h.01M244.8 221.2h.01M312.5 212.8h.01M263.7 206.5h.01M262.5 207.6h.01M269.2 211.7h.01M252.2 184.3h.01M271.0 202.4h.01M266.6 206.7h.01M247.5 205.8h.01M222.2 242.1h.01M254.8 215.9h.01M237.6 220.9h.01M262.0 223.3h.01M288.0 205.3h.01M273.5 205.2h.01M257.6 217.8h.01M273.6 193.0h.01M218.1 224.7h.01M293.9 209.8h.01M262.0 222.1h.01M262.6 222.4h.01M277.8 211.6h.01M276.0 221.8h.01M273.7 191.6h.01M278.5 209.5h.01M247.7 229.3h.01M271.5 206.5h.01M297.0 205.2h.01M271.9 190.2h.01M263.4 211.9h.01M262.6 216.4h.01M230.8 205.6h.01M288.1 194.8h.01M290.3 214.0h.01M286.4 192.3h.01M273.4 210.9h.01M295.5 213.6h.01M257.2 205.4h.01M281.8 220.2h.01M284.9 198.5h.01M309.0 198.0h.01M285.3 214.8h.01M335.9 192.3h.01M253.5 219.5h.01M314.5 198.2h.01M220.9 193.3h.01M295.0 203.6h.01M274.6 204.1h.01M233.7 222.7h.01M267.5 206.6h.01M294.5 211.6h.01M251.1 194.4h.01M232.3 233.0h.01M265.7 218.6h.01M230.3 201.3h.01M274.6 198.3h.01M264.3 221.3h.01M284.3 216.1h.01M253.9 219.6h.01M265.7 208.4h.01M265.0 224.0h.01M241.9 235.0h.01M222.2 225.1h.01M263.0 194.3h.01M247.5 212.1h.01M261.3 211.1h.01M266.7 208.1h.01M276.4 215.0h.01M273.3 218.1h.01M261.5 216.3h.01M285.6 205.8h.01M254.3 226.2h.01M293.5 206.0h.01M260.0 196.6h.01M266.5 211.0h.01M285.6 201.1h.01M243.8 222.7h.01M320.5 193.8h.01M274.6 196.3h.01M275.8 213.7h.01M274.8 219.3h.01M249.7 204.0h.01M221.7 219.5h.01M295.7 200.1h.01M256.6 211.5h.01M278.7 215.5h.01M247.1 206.4h.01M259.6 207.1h.01M250.0 217.6h.01M306.4 209.8h.01M223.3 209.8h.01M239.7 203.2h.01M296.6 206.9h.01M312.2 203.1h.01M286.1 210.4h.01M285.4 204.6h.01M292.9 216.7h.01M227.0 197.9h.01M269.2 215.2h.01M282.1 211.4h.01M217.0 227.3h.01M250.3 209.7h.01M273.7 221.3h.01M287.9 206.5h.01M261.5 201.6h.01M262.8 227.2h.01M252.6 216.5h.01M254.6 220.6h.01M320.3 212.4h.01M307.0 202.7h.01M252.6 221.8h.01M287.5 209.3h.01M277.2 211.4h.01M255.7 208.7h.01M292.0 187.9h.01M254.6 206.1h.01M256.6 207.0h.01M251.4 210.4h.01M253.4 193.8h.01M294.0 208.1h.01M272.9 211.0h.01M274.6 207.0h.01M296.2 196.4h.01M286.8 199.5h.01M262.2 217.6h.01M257.2 213.4h.01M271.4 197.5h.01M270.8 217.3h.01M251.2 204.2h.01M302.3 196.1h.01M280.7 213.1h.01M258.3 219.3h.01M261.1 217.8h.01M297.4 220.0h.01M250.7 201.9h.01M256.6 192.2h.01M281.8 206.3h.01M264.1 215.4h.01M230.6 213.0h.01M303.0 203.8h.01M264.8 221.4h.01M314.7 185.0h.01M315.4 200.7h.01M238.1 217.5h.01M273.1 194.6h.01M286.8 200.2h.01M286.6 204.7h.01M262.9 200.4h.01M263.3 200.2h.01M273.2 206.1h.01M239.8 205.1h.01M290.6 212.0h.01M228.1 216.1h.01M305.7 216.8h.01M330.6 197.4h.01M275.5 214.3h.01M263.6 202.4h.01M257.9 228.2h.01M252.7 198.2h.01M275.5 205.8h.01M269.0 194.5h.01M254.6 208.1h.01M280.1 231.7h.01M226.1 201.8h.01M274.8 211.7h.01M274.3 220.7h.01M221.9 209.0h.01M290.8 219.5h.01M266.8 215.6h.01M274.5 205.4h.01M231.6 216.0h.01M314.0 199.1h.01M270.4 215.5h.01M249.5 209.9h.01M242.4 205.7h.01M291.2 193.6h.01M240.7 209.2h.01M254.0 202.2h.01M253.0 209.9h.01M294.6 204.7h.01M240.2 212.3h.01M253.3 213.2h.01M235.2 203.4h.01M293.5 214.8h.01M308.7 205.7h.01M259.3 213.8h.01M269.4 205.7h.01M245.0 207.8h.01M260.4 214.9h.01M278.6 213.3h.01M245.3 190.2h.01M239.1 205.5h.01M283.5 189.4h.01M273.6 203.8h.01M208.9 216.8h.01M273.5 224.4h.01M287.1 206.9h.01M270.8 228.2h.01M255.4 207.6h.01M285.0 190.9h.01M211.2 212.9h.01M230.2 227.9h.01M257.2 228.2h.01M258.7 235.2h.01M298.7 218.7h.01M299.1 209.7h.01M233.8 215.2h.01M256.9 198.1h.01M270.9 209.2h.01M247.0 206.3h.01M232.4 219.8h.01M268.4 220.0h.01M287.6 207.1h.01M261.0 216.4h.01M283.2 198.0h.01M236.4 213.7h.01M292.0 214.7h.01M255.6 203.5h.01M260.3 218.8h.01M217.4 210.9h.01M260.4 216.0h.01M228.9 210.0h.01M265.9 217.8h.01M232.8 220.4h.01M274.0 208.3h.01M255.0 214.8h.01M269.8 223.3h.01M272.0 205.1h.01M287.5 211.2h.01M265.8 199.7h.01M248.7 227.0h.01M298.4 186.4h.01M264.5 228.0h.01M274.6 205.0h.01M226.8 217.3h.01M245.9 220.3h.01M226.4 217.9h.01M301.6 218.3h.01M260.2 204.9h.01M253.7 214.6h.01M266.1 208.7h.01M251.8 208.1h.01M291.1 208.2h.01M272.0 218.9h.01M299.4 205.5h.01M271.4 221.0h.01M269.2 201.0h.01M313.2 188.4h.01M267.8 219.6h.01M250.0 228.6h.01M219.1 235.9h.01M260.6 222.7h.01M271.9 206.7h.01M246.2 214.8h.01M262.6 201.3h.01M263.5 212.0h.01M270.5 211.9h.01M251.9 219.9h.01M292.7 198.8h.01M273.3 209.5h.01M278.4 189.0h.01M258.6 218.4h.01M271.1 212.6h.01M249.5 201.4h.01M269.6 207.2h.01M254.8 198.4h.01M252.1 198.1h.01M269.7 233.1h.01M267.9 212.3h.01M304.7 210.3h.01M272.6 210.8h.01M254.6 210.8h.01M226.8 220.7h.01M234.4 213.6h.01M288.4 197.6h.01M231.4 219.2h.01M267.8 206.5h.01M309.2 193.7h.01M242.4 207.5h.01M238.4 228.2h.01M242.7 223.5h.01M264.8 196.4h.01M287.8 199.8h.01M231.8 221.2h.01M244.3 209.2h.01M308.6 188.7h.01M245.2 207.7h.01M286.0 214.1h.01M236.7 210.2h.01M271.3 216.1h.01M239.1 204.0h.01M282.4 210.0h.01M272.2 208.7h.01M296.5 216.4h.01M242.6 226.8h.01M238.9 215.2h.01M293.0 213.0h.01M254.0 215.8h.01M282.6 206.5h.01M282.4 199.2h.01M308.9 192.7h.01M279.4 204.9h.01M254.1 233.2h.01M243.5 213.0h.01M286.0 223.1h.01M222.9 212.7h.01M256.0 201.9h.01M247.3 207.0h.01M274.7 192.0h.01M308.7 208.3h.01M279.9 207.2h.01M287.1 212.5h.01M295.0 205.5h.01M229.9 205.7h.01M284.1 207.4h.01M265.0 213.1h.01M264.2 204.4h.01M249.6 208.4h.01M278.5 219.3h.01M268.7 187.6h.01M218.0 222.4h.01M307.9 205.3h.01M279.5 194.8h.01M280.2 205.9h.01M286.6 206.9h.01M259.5 230.4h.01M294.4 208.1h.01M276.1 205.8h.01M247.3 218.2h.01M281.4 204.5h.01M235.5 222.0h.01M265.0 201.7h.01M282.0 209.8h.01M290.5 211.3h.01M250.3 215.5h.01M275.5 205.2h.01M317.0 197.9h.01M287.9 220.8h.01M264.6 211.4h.01M279.4 192.3h.01M276.1 204.1h.01M273.3 198.3h.01M292.4 203.5h.01M288.2 213.7h.01M299.1 207.3h.01M248.2 221.3h.01M257.0 231.8h.01M239.3 215.7h.01M248.7 203.3h.01M252.9 207.1h.01M275.2 219.3h.01M266.5 213.0h.01M252.9 173.8h.01M279.6 213.3h.01M277.2 220.7h.01M295.3 215.3h.01M289.3 209.9h.01M275.4 215.7h.01M285.8 202.7h.01M280.7 206.6h.01M278.4 207.8h.01M256.4 213.8h.01M259.3 197.7h.01M241.9 213.3h.01M283.1 203.2h.01M275.9 211.8h.01M240.0 214.6h.01M278.8 227.6h.01M247.0 215.0h.01M259.1 218.9h.01M254.4 192.3h.01M251.4 218.0h.01M284.4 184.3h.01M238.5 204.7h.01M260.9 228.3h.01M271.2 206.8h.01M277.3 217.3h.01M290.4 213.8h.01M271.0 203.9h.01M281.8 217.2h.01M268.4 209.3h.01M268.4 196.0h.01M273.1 209.4h.01M269.4 215.8h.01M262.3 204.6h.01M278.4 220.1h.01M240.4 221.3h.01M279.7 220.0h.01M280.7 191.9h.01M270.0 228.6h.01M281.0 208.7h.01M286.6 194.4h.01M237.6 219.1h.01M248.6 217.2h.01M276.3 210.2h.01M256.2 214.8h.01M278.5 221.8h.01M272.6 198.2h.01M272.9 212.0h.01M265.8 212.4h.01M271.5 228.3h.01M264.2 221.0h.01M264.4 186.6h.01M281.9 201.0h.01M256.8 216.5h.01M261.9 197.2h.01M293.0 214.3h.01M263.9 216.2h.01M270.9 221.9h.01M284.7 194.0h.01M294.5 207.6h.01M267.7 214.3h.01M301.0 203.9h.01M229.6 220.6h.01M257.7 210.9h.01M296.6 221.0h.01M241.6 221.4h.01M258.7 223.1h.01M244.9 219.3h.01M259.9 218.7h.01M268.2 215.3h.01M255.4 211.9h.01M266.5 217.2h.01M304.4 200.4h.01M268.9 204.6h.01M239.7 224.4h.01M283.4 206.0h.01M299.8 200.8h.01M264.6 202.1h.01M245.2 239.4h.01M274.4 207.4h.01M259.2 217.0h.01M250.4 193.0h.01M308.5 205.4h.01M254.8 209.3h.01M256.1 223.4h.01M291.6 203.6h.01M255.4 207.0h.01M264.6 212.0h.01M286.6 212.4h.01M279.1 210.5h.01M312.5 184.7h.01M265.3 198.5h.01M264.7 217.8h.01M260.3 193.8h.01M226.4 207.5h.01M257.3 205.5h.01M229.7 221.1h.01M309.3 200.5h.01M258.4 229.6h.01M273.6 221.6h.01M299.3 195.7h.01M283.1 203.0h.01M258.0 208.6h.01M259.2 211.3h.01M243.2 213.7h.01M312.7 198.8h.01M266.5 216.1h.01M230.4 188.9h.01M278.1 199.1h.01M246.5 222.8h.01M234.5 212.2h.01M281.9 198.2h.01M271.5 211.6h.01M262.7 208.5h.01M256.2 212.2h.01M265.9 203.0h.01M288.3 195.9h.01M267.0 233.4h.01M240.6 218.3h.01M243.4 191.2h.01M305.5 204.9h.01M251.9 217.0h.01M271.1 214.3h.01M279.6 229.0h.01M263.8 210.8h.01M252.9 219.9h.01M245.9 208.2h.01M230.3 204.2h.01M241.5 233.7h.01M264.2 212.4h.01M308.0 192.7h.01M266.8 207.6h.01M244.3 229.5h.01M273.3 205.3h.01M278.2 206.5h.01M239.9 188.9h.01M279.3 206.5h.01M275.6 210.0h.01M274.1 190.1h.01M291.1 211.4h.01M260.5 210.8h.01M247.3 205.1h.01M264.7 207.4h.01"/>
<path fill="#ffcc00" d="M274.4 223.6l.55 1.95 1.95.55-1.95.55-.55 1.95-.55-1.95-1.95-.55 1.95-.55zM245.0 207.4l.55 1.95 1.95.55-1.95.55-.55 1.95-.55-1.95-1.95-.55 1.95-.55zM239.8 219.3l.55 1.95 1.95.55-1.95.55-.55 1.95-.55-1.95-1.95-.55 1.95-.55zM265.8 221.5l.55 1.95 1.95.55-1.95.55-.55 1.95-.55-1.95-1.95-.55 1.95-.55zM272.8 200.0l.55 1.95 1.95.55-1.95.55-.55 1.95-.55-1.95-1.95-.55 1.95-.55zM266.4 222.3l.55 1.95 1.95.55-1.95.55-.55 1.95-.55-1.95-1.95-.55 1.95-.55zM262.0 198.4l.55 1.95 1.95.55-1.95.55-.55 1.95-.55-1.95-1.95-.55 1.95-.55zM268.0 210.8l.55 1.95 1.95.55-1.95.55-.55 1.95-.55-1.95-1.95-.55 1.95-.55zM262.5 210.0l.55 1.95 1.95.55-1.95.55-.55 1.95-.55-1.95-1.95-.55 1.95-.55zM236.0 223.8l.55 1.95 1.95.55-1.95.55-.55 1.95-.55-1.95-1.95-.55 1.95-.55zM259.8 222.1l.55 1.95 1.95.55-1.95.55-.55 1.95-.55-1.95-1.95-.55 1.95-.55zM289.9 197.6l.55 1.95 1.95.55-1.95.55-.55 1.95-.55-1.95-1.95-.55 1.95-.55zM253.7 216.1l.55 1.95 1.95.55-1.95.55-.55 1.95-.55-1.95-1.95-.55 1.95-.55zM296.1 195.3l.55 1.95 1.95.55-1.95.55-.55 1.95-.55-1.95-1.95-.55 1.95-.55zM262.9 232.1l.55 1.95 1.95.55-1.95.55-.55 1.95-.55-1.95-1.95-.55 1.95-.55zM282.6 204.8l.55 1.95 1.95.55-1.95.55-.55 1.95-.55-1.95-1.95-.55 1.95-.55zM260.4 221.2l.55 1.95 1.95.55-1.95.55-.55 1.95-.55-1.95-1.95-.55 1.95-.55zM278.7 208.7l.55 1.95 1.95.55-1.95.55-.55 1.95-.55-1.95-1.95-.55 1.95-.55zM268.0 202.1l.55 1.95 1.95.55-1.95.55-.55 1.95-.55-1.95-1.95-.55 1.95-.55zM279.7 206.4l.55 1.95 1.95.55-1.95.55-.55 1.95-.55-1.95-1.95-.55 1.95-.55zM261.2 196.5l.55 1.95 1.95.55-1.95.55-.55 1.95-.55-1.95-1.95-.55 1.95-.55zM250.6 191.1l.55 1.95 1.95.55-1.95.55-.55 1.95-.55-1.95-1.95-.55 1.95-.55zM256.1 215.3l.55 1.95 1.95.55-1.95.55-.55 1.95-.55-1.95-1.95-.55 1.95-.55zM256.0 200.2l.55 1.95 1.95.55-1.95.55-.55 1.95-.55-1.95-1.95-.55 1.95-.55zM234.3 211.3l.55 1.95 1.95.55-1.95.55-.55 1.95-.55-1.95-1.95-.55 1.95-.55zM271.1 210.1l.55 1.95 1.95.55-1.95.55-.55 1.95-.55-1.95-1.95-.55 1.95-.55zM244.8 218.7l.55 1.95 1.95.55-1.95.55-.55 1.95-.55-1.95-1.95-.55 1.95-.55zM312.5 210.3l.55 1.95 1.95.55-1.95.55-.55 1.95-.55-1.95-1.95-.55 1.95-.55zM263.7 204.0l.55 1.95 1.95.55-1.95.55-.55 1.95-.55-1.95-1.95-.55 1.95-.55zM262.5 205.1l.55 1.95 1.95.55-1.95.55-.55 1.95-.55-1.95-1.95-.55 1.95-.55zM269.2 209.2l.55 1.95 1.95.55-1.95.55-.55 1.95-.55-1.95-1.95-.55 1.95-.55zM252.2 181.8l.55 1.95 1.95.55-1.95.55-.55 1.95-.55-1.95-1.95-.55 1.95-.55zM271.0 199.9l.55 1.95 1.95.55-1.95.55-.55 1.95-.55-1.95-1.95-.55 1.95-.55zM266.6 204.2l.55 1.95 1.95.55-1.95.55-.55 1.95-.55-1.95-1.95-.55 1.95-.55zM247.5 203.3l.55 1.95 1.95.55-1.95.55-.55 1.95-.55-1.95-1.95-.55 1.95-.55zM222.2 239.6l.55 1.95 1.95.55-1.95.55-.55 1.95-.55-1.95-1.95-.55 1.95-.55zM254.8 213.4l.55 1.95 1.95.55-1.95.55-.55 1.95-.55-1.95-1.95-.55 1.95-.55zM237.6 218.4l.55 1.95 1.95.55-1.95.55-.55 1.95-.55-1.95-1.95-.55 1.95-.55zM262.0 220.8l.55 1.95 1.95.55-1.95.55-.55 1.95-.55-1.95-1.95-.55 1.95-.55zM288.0 202.8l.55 1.95 1.95.55-1.95.55-.55 1.95-.55-1.95-1.95-.55 1.95-.55zM273.5 202.7l.55 1.95 1.95.55-1.95.55-.55 1.95-.55-1.95-1.95-.55 1.95-.55zM257.6 215.3l.55 1.95 1.95.55-1.95.55-.55 1.95-.55-1.95-1.95-.55 1.95-.55zM273.6 190.5l.55 1.95 1.95.55-1.95.55-.55 1.95-.55-1.95-1.95-.55 1.95-.55zM218.1 222.2l.55 1.95 1.95.55-1.95.55-.55 1.95-.55-1.95-1.95-.55 1.95-.55zM293.9 207.3l.55 1.95 1.95.55-1.95.55-.55 1.95-.55-1.95-1.95-.55 1.95-.55zM262.0 219.6l.55 1.95 1.95.55-1.95.55-.55 1.95-.55-1.95-1.95-.55 1.95-.55zM262.6 219.9l.55 1.95 1.95.55-1.95.55-.55 1.95-.55-1.95-1.95-.55 1.95-.55zM277.8 209.1l.55 1.95 1.95.55-1.95.55-.55 1.95-.55-1.95-1.95-.55 1.95-.55zM276.0 219.3l.55 1.95 1.95.55-1.95.55-.55 1.95-.55-1.95-1.95-.55 1.95-.55zM273.7 189.1l.55 1.95 1.95.55-1.95.55-.55 1.95-.55-1.95-1.95-.55 1.95-.55zM278.5 207.0l.55 1.95 1.95.55-1.95.55-.55 1.95-.55-1.95-1.95-.55 1.95-.55zM247.7 226.8l.55 1.95 1.95.55-1.95.55-.55 1.95-.55-1.95-1.95-.55 1.95-.55zM271.5 204.0l.55 1.95 1.95.55-1.95.55-.55 1.95-.55-1.95-1.95-.55 1.95-.55zM297.0 202.7l.55 1.95 1.95.55-1.95.55-.55 1.95-.55-1.95-1.95-.55 1.95-.55zM271.9 187.7l.55 1.95 1.95.55-1.95.55-.55 1.95-.55-1.95-1.95-.55 1.95-.55zM263.4 209.4l.55 1.95 1.95.55-1.95.55-.55 1.95-.55-1.95-1.95-.55 1.95-.55zM262.6 213.9l.55 1.95 1.95.55-1.95.55-.55 1.95-.55-1.95-1.95-.55 1.95-.55zM230.8 203.1l.55 1.95 1.95.55-1.95.55-.55 1.95-.55-1.95-1.95-.55 1.95-.55zM288.1 192.3l.55 1.95 1.95.55-1.95.55-.55 1.95-.55-1.95-1.95-.55 1.95-.55zM290.3 211.5l.55 1.95 1.95.55-1.95.55-.55 1.95-.55-1.95-1.95-.55 1.95-.55zM286.4 189.8l.55 1.95 1.95.55-1.95.55-.55 1.95-.55-1.95-1.95-.55 1.95-.55zM273.4 208.4l.55 1.95 1.95.55-1.95.55-.55 1.95-.55-1.95-1.95-.55 1.95-.55zM295.5 211.1l.55 1.95 1.95.55-1.95.55-.55 1.95-.55-1.95-1.95-.55 1.95-.55zM257.2 202.9l.55 1.95 1.95.55-1.95.55-.55 1.95-.55-1.95-1.95-.55 1.95-.55zM281.8 217.7l.55 1.95 1.95.55-1.95.55-.55 1.95-.55-1.95-1.95-.55 1.95-.55zM284.9 196.0l.55 1.95 1.95.55-1.95.55-.55 1.95-.55-1.95-1.95-.55 1.95-.55zM309.0 195.5l.55 1.95 1.95.55-1.95.55-.55 1.95-.55-1.95-1.95-.55 1.95-.55zM285.3 212.3l.55 1.95 1.95.55-1.95.55-.55 1.95-.55-1.95-1.95-.55 1.95-.55zM335.9 189.8l.55 1.95 1.95.55-1.95.55-.55 1.95-.55-1.95-1.95-.55 1.95-.55zM253.5 217.0l.55 1.95 1.95.55-1.95.55-.55 1.95-.55-1.95-1.95-.55 1.95-.55zM314.5 195.7l.55 1.95 1.95.55-1.95.55-.55 1.95-.55-1.95-1.95-.55 1.95-.55zM220.9 190.8l.55 1.95 1.95.55-1.95.55-.55 1.95-.55-1.95-1.95-.55 1.95-.55zM295.0 201.1l.55 1.95 1.95.55-1.95.55-.55 1.95-.55-1.95-1.95-.55 1.95-.55zM274.6 201.6l.55 1.95 1.95.55-1.95.55-.55 1.95-.55-1.95-1.95-.55 1.95-.55zM233.7 220.2l.55 1.95 1.95.55-1.95.55-.55 1.95-.55-1.95-1.95-.55 1.95-.55zM267.5 204.1l.55 1.95 1.95.55-1.95.55-.55 1.95-.55-1.95-1.95-.55 1.95-.55zM294.5 209.1l.55 1.95 1.95.55-1.95.55-.55 1.95-.55-1.95-1.95-.55 1.95-.55zM251.1 191.9l.55 1.95 1.95.55-1.95.55-.55 1.95-.55-1.95-1.95-.55 1.95-.55zM232.3 230.5l.55 1.95 1.95.55-1.95.55-.55 1.95-.55-1.95-1.95-.55 1.95-.55zM265.7 216.1l.55 1.95 1.95.55-1.95.55-.55 1.95-.55-1.95-1.95-.55 1.95-.55zM230.3 198.8l.55 1.95 1.95.55-1.95.55-.55 1.95-.55-1.95-1.95-.55 1.95-.55zM274.6 195.8l.55 1.95 1.95.55-1.95.55-.55 1.95-.55-1.95-1.95-.55 1.95-.55zM264.3 218.8l.55 1.95 1.95.55-1.95.55-.55 1.95-.55-1.95-1.95-.55 1.95-.55zM284.3 213.6l.55 1.95 1.95.55-1.95.55-.55 1.95-.55-1.95-1.95-.55 1.95-.55zM253.9 217.1l.55 1.95 1.95.55-1.95.55-.55 1.95-.55-1.95-1.95-.55 1.95-.55zM265.7 205.9l.55 1.95 1.95.55-1.95.55-.55 1.95-.55-1.95-1.95-.55 1.95-.55zM265.0 221.5l.55 1.95 1.95.55-1.95.55-.55 1.95-.55-1.95-1.95-.55 1.95-.55zM241.9 232.5l.55 1.95 1.95.55-1.95.55-.55 1.95-.55-1.95-1.95-.55 1.95-.55zM222.2 222.6l.55 1.95 1.95.55-1.95.55-.55 1.95-.55-1.95-1.95-.55 1.95-.55zM263.0 191.8l.55 1.95 1.95.55-1.95.55-.55 1.95-.55-1.95-1.95-.55 1.95-.55zM247.5 209.6l.55 1.95 1.95.55-1.95.55-.55 1.95-.55-1.95-1.95-.55 1.95-.55zM261.3 208.6l.55 1.95 1.95.55-1.95.55-.55 1.95-.55-1.95-1.95-.55 1.95-.55zM266.7 205.6l.55 1.95 1.95.55-1.95.55-.55 1.95-.55-1.95-1.95-.55 1.95-.55zM276.4 212.5l.55 1.95 1.95.55-1.95.55-.55 1.95-.55-1.95-1.95-.55 1.95-.55zM273.3 215.6l.55 1.95 1.95.55-1.95.55-.55 1.95-.55-1.95-1.95-.55 1.95-.55zM261.5 213.8l.55 1.95 1.95.55-1.95.55-.55 1.95-.55-1.95-1.95-.55 1.95-.55zM285.6 203.3l.55 1.95 1.95.55-1.95.55-.55 1.95-.55-1.95-1.95-.55 1.95-.55zM254.3 223.7l.55 1.95 1.95.55-1.95.55-.55 1.95-.55-1.95-1.95-.55 1.95-.55zM293.5 203.5l.55 1.95 1.95.55-1.95.55-.55 1.95-.55-1.95-1.95-.55 1.95-.55zM260.0 194.1l.55 1.95 1.95.55-1.95.55-.55 1.95-.55-1.95-1.95-.55 1.95-.55zM266.5 208.5l.55 1.95 1.95.55-1.95.55-.55 1.95-.55-1.95-1.95-.55 1.95-.55zM285.6 198.6l.55 1.95 1.95.55-1.95.55-.55 1.95-.55-1.95-1.95-.55 1.95-.55zM243.8 220.2l.55 1.95 1.95.55-1.95.55-.55 1.95-.55-1.95-1.95-.55 1.95-.55zM320.5 191.3l.55 1.95 1.95.55-1.95.55-.55 1.95-.55-1.95-1.95-.55 1.95-.55zM274.6 193.8l.55 1.95 1.95.55-1.95.55-.55 1.95-.55-1.95-1.95-.55 1.95-.55zM275.8 211.2l.55 1.95 1.95.55-1.95.55-.55 1.95-.55-1.95-1.95-.55 1.95-.55zM274.8 216.8l.55 1.95 1.95.55-1.95.55-.55 1.95-.55-1.95-1.95-.55 1.95-.55zM249.7 201.5l.55 1.95 1.95.55-1.95.55-.55 1.95-.55-1.95-1.95-.55 1.95-.55zM221.7 217.0l.55 1.95 1.95.55-1.95.55-.55 1.95-.55-1.95-1.95-.55 1.95-.55zM295.7 197.6l.55 1.95 1.95.55-1.95.55-.55 1.95-.55-1.95-1.95-.55 1.95-.55zM256.6 209.0l.55 1.95 1.95.55-1.95.55-.55 1.95-.55-1.95-1.95-.55 1.95-.55zM278.7 213.0l.55 1.95 1.95.55-1.95.55-.55 1.95-.55-1.95-1.95-.55 1.95-.55zM247.1 203.9l.55 1.95 1.95.55-1.95.55-.55 1.95-.55-1.95-1.95-.55 1.95-.55zM259.6 204.6l.55 1.95 1.95.55-1.95.55-.55 1.95-.55-1.95-1.95-.55 1.95-.55zM250.0 215.1l.55 1.95 1.95.55-1.95.55-.55 1.95-.55-1.95-1.95-.55 1.95-.55zM306.4 207.3l.55 1.95 1.95.55-1.95.55-.55 1.95-.55-1.95-1.95-.55 1.95-.55zM223.3 207.3l.55 1.95 1.95.55-1.95.55-.55 1.95-.55-1.95-1.95-.55 1.95-.55zM239.7 200.7l.55 1.95 1.95.55-1.95.55-.55 1.95-.55-1.95-1.95-.55 1.95-.55zM296.6 204.4l.55 1.95 1.95.55-1.95.55-.55 1.95-.55-1.95-1.95-.55 1.95-.55zM312.2 200.6l.55 1.95 1.95.55-1.95.55-.55 1.95-.55-1.95-1.95-.55 1.95-.55zM286.1 207.9l.55 1.95 1.95.55-1.95.55-.55 1.95-.55-1.95-1.95-.55 1.95-.55zM285.4 202.1l.55 1.95 1.95.55-1.95.55-.55 1.95-.55-1.95-1.95-.55 1.95-.55zM292.9 214.2l.55 1.95 1.95.55-1.95.55-.55 1.95-.55-1.95-1.95-.55 1.95-.55zM227.0 195.4l.55 1.95 1.95.55-1.95.55-.55 1.95-.55-1.95-1.95-.55 1.95-.55zM269.2 212.7l.55 1.95 1.95.55-1.95.55-.55 1.95-.55-1.95-1.95-.55 1.95-.55zM282.1 208.9l.55 1.95 1.95.55-1.95.55-.55 1.95-.55-1.95-1.95-.55 1.95-.55zM217.0 224.8l.55 1.95 1.95.55-1.95.55-.55 1.95-.55-1.95-1.95-.55 1.95-.55zM250.3 207.2l.55 1.95 1.95.55-1.95.55-.55 1.95-.55-1.95-1.95-.55 1.95-.55zM273.7 218.8l.55 1.95 1.95.55-1.95.55-.55 1.95-.55-1.95-1.95-.55 1.95-.55zM287.9 204.0l.55 1.95 1.95.55-1.95.55-.55 1.95-.55-1.95-1.95-.55 1.95-.55zM261.5 199.1l.55 1.95 1.95.55-1.95.55-.55 1.95-.55-1.95-1.95-.55 1.95-.55zM262.8 224.7l.55 1.95 1.95.55-1.95.55-.55 1.95-.55-1.95-1.95-.55 1.95-.55zM252.6 214.0l.55 1.95 1.95.55-1.95.55-.55 1.95-.55-1.95-1.95-.55 1.95-.55zM254.6 218.1l.55 1.95 1.95.55-1.95.55-.55 1.95-.55-1.95-1.95-.55 1.95-.55zM320.3 209.9l.55 1.95 1.95.55-1.95.55-.55 1.95-.55-1.95-1.95-.55 1.95-.55zM307.0 200.2l.55 1.95 1.95.55-1.95.55-.55 1.95-.55-1.95-1.95-.55 1.95-.55zM252.6 219.3l.55 1.95 1.95.55-1.95.55-.55 1.95-.55-1.95-1.95-.55 1.95-.55zM287.5 206.8l.55 1.95 1.95.55-1.95.55-.55 1.95-.55-1.95-1.95-.55 1.95-.55zM277.2 208.9l.55 1.95 1.95.55-1.95.55-.55 1.95-.55-1.95-1.95-.55 1.95-.55zM255.7 206.2l.55 1.95 1.95.55-1.95.55-.55 1.95-.55-1.95-1.95-.55 1.95-.55zM292.0 185.4l.55 1.95 1.95.55-1.95.55-.55 1.95-.55-1.95-1.95-.55 1.95-.55zM254.6 203.6l.55 1.95 1.95.55-1.95.55-.55 1.95-.55-1.95-1.95-.55 1.95-.55zM256.6 204.5l.55 1.95 1.95.55-1.95.55-.55 1.95-.55-1.95-1.95-.55 1.95-.55zM251.4 207.9l.55 1.95 1.95.55-1.95.55-.55 1.95-.55-1.95-1.95-.55 1.95-.55zM253.4 191.3l.55 1.95 1.95.55-1.95.55-.55 1.95-.55-1.95-1.95-.55 1.95-.55zM294.0 205.6l.55 1.95 1.95.55-1.95.55-.55 1.95-.55-1.95-1.95-.55 1.95-.55zM272.9 208.5l.55 1.95 1.95.55-1.95.55-.55 1.95-.55-1.95-1.95-.55 1.95-.55zM274.6 204.5l.55 1.95 1.95.55-1.95.55-.55 1.95-.55-1.95-1.95-.55 1.95-.55zM296.2 193.9l.55 1.95 1.95.55-1.95.55-.55 1.95-.55-1.95-1.95-.55 1.95-.55zM286.8 197.0l.55 1.95 1.95.55-1.95.55-.55 1.95-.55-1.95-1.95-.55 1.95-.55zM262.2 215.1l.55 1.95 1.95.55-1.95.55-.55 1.95-.55-1.95-1.95-.55 1.95-.55zM257.2 210.9l.55 1.95 1.95.55-1.95.55-.55 1.95-.55-1.95-1.95-.55 1.95-.55zM271.4 195.0l.55 1.95 1.95.55-1.95.55-.55 1.95-.55-1.95-1.95-.55 1.95-.55zM270.8 214.8l.55 1.95 1.95.55-1.95.55-.55 1.95-.55-1.95-1.95-.55 1.95-.55zM251.2 201.7l.55 1.95 1.95.55-1.95.55-.55 1.95-.55-1.95-1.95-.55 1.95-.55zM302.3 193.6l.55 1.95 1.95.55-1.95.55-.55 1.95-.55-1.95-1.95-.55 1.95-.55zM280.7 210.6l.55 1.95 1.95.55-1.95.55-.55 1.95-.55-1.95-1.95-.55 1.95-.55zM258.3 216.8l.55 1.95 1.95.55-1.95.55-.55 1.95-.55-1.95-1.95-.55 1.95-.55zM261.1 215.3l.55 1.95 1.95.55-1.95.55-.55 1.95-.55-1.95-1.95-.55 1.95-.55zM297.4 217.5l.55 1.95 1.95.55-1.95.55-.55 1.95-.55-1.95-1.95-.55 1.95-.55zM250.7 199.4l.55 1.95 1.95.55-1.95.55-.55 1.95-.55-1.95-1.95-.55 1.95-.55zM256.6 189.7l.55 1.95 1.95.55-1.95.55-.55 1.95-.55-1.95-1.95-.55 1.95-.55zM281.8 203.8l.55 1.95 1.95.55-1.95.55-.55 1.95-.55-1.95-1.95-.55 1.95-.55zM264.1 212.9l.55 1.95 1.95.55-1.95.55-.55 1.95-.55-1.95-1.95-.55 1.95-.55zM230.6 210.5l.55 1.95 1.95.55-1.95.55-.55 1.95-.55-1.95-1.95-.55 1.95-.55zM303.0 201.3l.55 1.95 1.95.55-1.95.55-.55 1.95-.55-1.95-1.95-.55 1.95-.55zM264.8 218.9l.55 1.95 1.95.55-1.95.55-.55 1.95-.55-1.95-1.95-.55 1.95-.55zM314.7 182.5l.55 1.95 1.95.55-1.95.55-.55 1.95-.55-1.95-1.95-.55 1.95-.55zM315.4 198.2l.55 1.95 1.95.55-1.95.55-.55 1.95-.55-1.95-1.95-.55 1.95-.55zM238.1 215.0l.55 1.95 1.95.55-1.95.55-.55 1.95-.55-1.95-1.95-.55 1.95-.55zM273.1 192.1l.55 1.95 1.95.55-1.95.55-.55 1.95-.55-1.95-1.95-.55 1.95-.55zM286.8 197.7l.55 1.95 1.95.55-1.95.55-.55 1.95-.55-1.95-1.95-.55 1.95-.55zM286.6 202.2l.55 1.95 1.95.55-1.95.55-.55 1.95-.55-1.95-1.95-.55 1.95-.55zM262.9 197.9l.55 1.95 1.95.55-1.95.55-.55 1.95-.55-1.95-1.95-.55 1.95-.55zM263.3 197.7l.55 1.95 1.95.55-1.95.55-.55 1.95-.55-1.95-1.95-.55 1.95-.55zM273.2 203.6l.55 1.95 1.95.55-1.95.55-.55 1.95-.55-1.95-1.95-.55 1.95-.55zM239.8 202.6l.55 1.95 1.95.55-1.95.55-.55 1.95-.55-1.95-1.95-.55 1.95-.55zM290.6 209.5l.55 1.95 1.95.55-1.95.55-.55 1.95-.55-1.95-1.95-.55 1.95-.55zM228.1 213.6l.55 1.95 1.95.55-1.95.55-.55 1.95-.55-1.95-1.95-.55 1.95-.55zM305.7 214.3l.55 1.95 1.95.55-1.95.55-.55 1.95-.55-1.95-1.95-.55 1.95-.55zM330.6 194.9l.55 1.95 1.95.55-1.95.55-.55 1.95-.55-1.95-1.95-.55 1.95-.55zM275.5 211.8l.55 1.95 1.95.55-1.95.55-.55 1.95-.55-1.95-1.95-.55 1.95-.55zM263.6 199.9l.55 1.95 1.95.55-1.95.55-.55 1.95-.55-1.95-1.95-.55 1.95-.55zM257.9 225.7l.55 1.95 1.95.55-1.95.55-.55 1.95-.55-1.95-1.95-.55 1.95-.55zM252.7 195.7l.55 1.95 1.95.55-1.95.55-.55 1.95-.55-1.95-1.95-.55 1.95-.55zM275.5 203.3l.55 1.95 1.95.55-1.95.55-.55 1.95-.55-1.95-1.95-.55 1.95-.55zM269.0 192.0l.55 1.95 1.95.55-1.95.55-.55 1.95-.55-1.95-1.95-.55 1.95-.55zM254.6 205.6l.55 1.95 1.95.55-1.95.55-.55 1.95-.55-1.95-1.95-.55 1.95-.55zM280.1 229.2l.55 1.95 1.95.55-1.95.55-.55 1.95-.55-1.95-1.95-.55 1.95-.55zM226.1 199.3l.55 1.95 1.95.55-1.95.55-.55 1.95-.55-1.95-1.95-.55 1.95-.55zM274.8 209.2l.55 1.95 1.95.55-1.95.55-.55 1.95-.55-1.95-1.95-.55 1.95-.55zM274.3 218.2l.55 1.95 1.95.55-1.95.55-.55 1.95-.55-1.95-1.95-.55 1.95-.55zM221.9 206.5l.55 1.95 1.95.55-1.95.55-.55 1.95-.55-1.95-1.95-.55 1.95-.55zM290.8 217.0l.55 1.95 1.95.55-1.95.55-.55 1.95-.55-1.95-1.95-.55 1.95-.55zM266.8 213.1l.55 1.95 1.95.55-1.95.55-.55 1.95-.55-1.95-1.95-.55 1.95-.55zM274.5 202.9l.55 1.95 1.95.55-1.95.55-.55 1.95-.55-1.95-1.95-.55 1.95-.55zM231.6 213.5l.55 1.95 1.95.55-1.95.55-.55 1.95-.55-1.95-1.95-.55 1.95-.55zM314.0 196.6l.55 1.95 1.95.55-1.95.55-.55 1.95-.55-1.95-1.95-.55 1.95-.55zM270.4 213.0l.55 1.95 1.95.55-1.95.55-.55 1.95-.55-1.95-1.95-.55 1.95-.55zM249.5 207.4l.55 1.95 1.95.55-1.95.55-.55 1.95-.55-1.95-1.95-.55 1.95-.55zM242.4 203.2l.55 1.95 1.95.55-1.95.55-.55 1.95-.55-1.95-1.95-.55 1.95-.55zM291.2 191.1l.55 1.95 1.95.55-1.95.55-.55 1.95-.55-1.95-1.95-.55 1.95-.55zM240.7 206.7l.55 1.95 1.95.55-1.95.55-.55 1.95-.55-1.95-1.95-.55 1.95-.55zM254.0 199.7l.55 1.95 1.95.55-1.95.55-.55 1.95-.55-1.95-1.95-.55 1.95-.55zM253.0 207.4l.55 1.95 1.95.55-1.95.55-.55 1.95-.55-1.95-1.95-.55 1.95-.55zM294.6 202.2l.55 1.95 1.95.55-1.95.55-.55 1.95-.55-1.95-1.95-.55 1.95-.55zM240.2 209.8l.55 1.95 1.95.55-1.95.55-.55 1.95-.55-1.95-1.95-.55 1.95-.55zM253.3 210.7l.55 1.95 1.95.55-1.95.55-.55 1.95-.55-1.95-1.95-.55 1.95-.55zM235.2 200.9l.55 1.95 1.95.55-1.95.55-.55 1.95-.55-1.95-1.95-.55 1.95-.55zM293.5 212.3l.55 1.95 1.95.55-1.95.55-.55 1.95-.55-1.95-1.95-.55 1.95-.55zM308.7 203.2l.55 1.95 1.95.55-1.95.55-.55 1.95-.55-1.95-1.95-.55 1.95-.55zM259.3 211.3l.55 1.95 1.95.55-1.95.55-.55 1.95-.55-1.95-1.95-.55 1.95-.55zM269.4 203.2l.55 1.95 1.95.55-1.95.55-.55 1.95-.55-1.95-1.95-.55 1.95-.55zM245.0 205.3l.55 1.95 1.95.55-1.95.55-.55 1.95-.55-1.95-1.95-.55 1.95-.55zM260.4 212.4l.55 1.95 1.95.55-1.95.55-.55 1.95-.55-1.95-1.95-.55 1.95-.55zM278.6 210.8l.55 1.95 1.95.55-1.95.55-.55 1.95-.55-1.95-1.95-.55 1.95-.55zM245.3 187.7l.55 1.95 1.95.55-1.95.55-.55 1.95-.55-1.95-1.95-.55 1.95-.55zM239.1 203.0l.55 1.95 1.95.55-1.95.55-.55 1.95-.55-1.95-1.95-.55 1.95-.55zM283.5 186.9l.55 1.95 1.95.55-1.95.55-.55 1.95-.55-1.95-1.95-.55 1.95-.55zM273.6 201.3l.55 1.95 1.95.55-1.95.55-.55 1.95-.55-1.95-1.95-.55 1.95-.55zM208.9 214.3l.55 1.95 1.95.55-1.95.55-.55 1.95-.55-1.95-1.95-.55 1.95-.55zM273.5 221.9l.55 1.95 1.95.55-1.95.55-.55 1.95-.55-1.95-1.95-.55 1.95-.55zM287.1 204.4l.55 1.95 1.95.55-1.95.55-.55 1.95-.55-1.95-1.95-.55 1.95-.55zM270.8 225.7l.55 1.95 1.95.55-1.95.55-.55 1.95-.55-1.95-1.95-.55 1.95-.55zM255.4 205.1l.55 1.95 1.95.55-1.95.55-.55 1.95-.55-1.95-1.95-.55 1.95-.55zM285.0 188.4l.55 1.95 1.95.55-1.95.55-.55 1.95-.55-1.95-1.95-.55 1.95-.55zM211.2 210.4l.55 1.95 1.95.55-1.95.55-.55 1.95-.55-1.95-1.95-.55 1.95-.55zM230.2 225.4l.55 1.95 1.95.55-1.95.55-.55 1.95-.55-1.95-1.95-.55 1.95-.55zM257.2 225.7l.55 1.95 1.95.55-1.95.55-.55 1.95-.55-1.95-1.95-.55 1.95-.55zM258.7 232.7l.55 1.95 1.95.55-1.95.55-.55 1.95-.55-1.95-1.95-.55 1.95-.55zM298.7 216.2l.55 1.95 1.95.55-1.95.55-.55 1.95-.55-1.95-1.95-.55 1.95-.55zM299.1 207.2l.55 1.95 1.95.55-1.95.55-.55 1.95-.55-1.95-1.95-.55 1.95-.55zM233.8 212.7l.55 1.95 1.95.55-1.95.55-.55 1.95-.55-1.95-1.95-.55 1.95-.55zM256.9 195.6l.55 1.95 1.95.55-1.95.55-.55 1.95-.55-1.95-1.95-.55 1.95-.55zM270.9 206.7l.55 1.95 1.95.55-1.95.55-.55 1.95-.55-1.95-1.95-.55 1.95-.55zM247.0 203.8l.55 1.95 1.95.55-1.95.55-.55 1.95-.55-1.95-1.95-.55 1.95-.55zM232.4 217.3l.55 1.95 1.95.55-1.95.55-.55 1.95-.55-1.95-1.95-.55 1.95-.55zM268.4 217.5l.55 1.95 1.95.55-1.95.55-.55 1.95-.55-1.95-1.95-.55 1.95-.55zM287.6 204.6l.55 1.95 1.95.55-1.95.55-.55 1.95-.55-1.95-1.95-.55 1.95-.55zM261.0 213.9l.55 1.95 1.95.55-1.95.55-.55 1.95-.55-1.95-1.95-.55 1.95-.55zM283.2 195.5l.55 1.95 1.95.55-1.95.55-.55 1.95-.55-1.95-1.95-.55 1.95-.55zM236.4 211.2l.55 1.95 1.95.55-1.95.55-.55 1.95-.55-1.95-1.95-.55 1.95-.55zM292.0 212.2l.55 1.95 1.95.55-1.95.55-.55 1.95-.55-1.95-1.95-.55 1.95-.55zM255.6 201.0l.55 1.95 1.95.55-1.95.55-.55 1.95-.55-1.95-1.95-.55 1.95-.55zM260.3 216.3l.55 1.95 1.95.55-1.95.55-.55 1.95-.55-1.95-1.95-.55 1.95-.55zM217.4 208.4l.55 1.95 1.95.55-1.95.55-.55 1.95-.55-1.95-1.95-.55 1.95-.55zM260.4 213.5l.55 1.95 1.95.55-1.95.55-.55 1.95-.55-1.95-1.95-.55 1.95-.55zM228.9 207.5l.55 1.95 1.95.55-1.95.55-.55 1.95-.55-1.95-1.95-.55 1.95-.55zM265.9 215.3l.55 1.95 1.95.55-1.95.55-.55 1.95-.55-1.95-1.95-.55 1.95-.55zM232.8 217.9l.55 1.95 1.95.55-1.95.55-.55 1.95-.55-1.95-1.95-.55 1.95-.55zM274.0 205.8l.55 1.95 1.95.55-1.95.55-.55 1.95-.55-1.95-1.95-.55 1.95-.55zM255.0 212.3l.55 1.95 1.95.55-1.95.55-.55 1.95-.55-1.95-1.95-.55 1.95-.55zM269.8 220.8l.55 1.95 1.95.55-1.95.55-.55 1.95-.55-1.95-1.95-.55 1.95-.55zM272.0 202.6l.55 1.95 1.95.55-1.95.55-.55 1.95-.55-1.95-1.95-.55 1.95-.55zM287.5 208.7l.55 1.95 1.95.55-1.95.55-.55 1.95-.55-1.95-1.95-.55 1.95-.55zM265.8 197.2l.55 1.95 1.95.55-1.95.55-.55 1.95-.55-1.95-1.95-.55 1.95-.55zM248.7 224.5l.55 1.95 1.95.55-1.95.55-.55 1.95-.55-1.95-1.95-.55 1.95-.55zM298.4 183.9l.55 1.95 1.95.55-1.95.55-.55 1.95-.55-1.95-1.95-.55 1.95-.55zM264.5 225.5l.55 1.95 1.95.55-1.95.55-.55 1.95-.55-1.95-1.95-.55 1.95-.55zM274.6 202.5l.55 1.95 1.95.55-1.95.55-.55 1.95-.55-1.95-1.95-.55 1.95-.55zM226.8 214.8l.55 1.95 1.95.55-1.95.55-.55 1.95-.55-1.95-1.95-.55 1.95-.55zM245.9 217.8l.55 1.95 1.95.55-1.95.55-.55 1.95-.55-1.95-1.95-.55 1.95-.55zM226.4 215.4l.55 1.95 1.95.55-1.95.55-.55 1.95-.55-1.95-1.95-.55 1.95-.55zM301.6 215.8l.55 1.95 1.95.55-1.95.55-.55 1.95-.55-1.95-1.95-.55 1.95-.55zM260.2 202.4l.55 1.95 1.95.55-1.95.55-.55 1.95-.55-1.95-1.95-.55 1.95-.55zM253.7 212.1l.55 1.95 1.95.55-1.95.55-.55 1.95-.55-1.95-1.95-.55 1.95-.55zM266.1 206.2l.55 1.95 1.95.55-1.95.55-.55 1.95-.55-1.95-1.95-.55 1.95-.55zM251.8 205.6l.55 1.95 1.95.55-1.95.55-.55 1.95-.55-1.95-1.95-.55 1.95-.55zM291.1 205.7l.55 1.95 1.95.55-1.95.55-.55 1.95-.55-1.95-1.95-.55 1.95-.55zM272.0 216.4l.55 1.95 1.95.55-1.95.55-.55 1.95-.55-1.95-1.95-.55 1.95-.55zM299.4 203.0l.55 1.95 1.95.55-1.95.55-.55 1.95-.55-1.95-1.95-.55 1.95-.55zM271.4 218.5l.55 1.95 1.95.55-1.95.55-.55 1.95-.55-1.95-1.95-.55 1.95-.55zM269.2 198.5l.55 1.95 1.95.55-1.95.55-.55 1.95-.55-1.95-1.95-.55 1.95-.55zM313.2 185.9l.55 1.95 1.95.55-1.95.55-.55 1.95-.55-1.95-1.95-.55 1.95-.55zM267.8 217.1l.55 1.95 1.95.55-1.95.55-.55 1.95-.55-1.95-1.95-.55 1.95-.55zM250.0 226.1l.55 1.95 1.95.55-1.95.55-.55 1.95-.55-1.95-1.95-.55 1.95-.55zM219.1 233.4l.55 1.95 1.95.55-1.95.55-.55 1.95-.55-1.95-1.95-.55 1.95-.55zM260.6 220.2l.55 1.95 1.95.55-1.95.55-.55 1.95-.55-1.95-1.95-.55 1.95-.55zM271.9 204.2l.55 1.95 1.95.55-1.95.55-.55 1.95-.55-1.95-1.95-.55 1.95-.55zM246.2 212.3l.55 1.95 1.95.55-1.95.55-.55 1.95-.55-1.95-1.95-.55 1.95-.55zM262.6 198.8l.55 1.95 1.95.55-1.95.55-.55 1.95-.55-1.95-1.95-.55 1.95-.55zM263.5 209.5l.55 1.95 1.95.55-1.95.55-.55 1.95-.55-1.95-1.95-.55 1.95-.55zM270.5 209.4l.55 1.95 1.95.55-1.95.55-.55 1.95-.55-1.95-1.95-.55 1.95-.55zM251.9 217.4l.55 1.95 1.95.55-1.95.55-.55 1.95-.55-1.95-1.95-.55 1.95-.55zM292.7 196.3l.55 1.95 1.95.55-1.95.55-.55 1.95-.55-1.95-1.95-.55 1.95-.55zM273.3 207.0l.55 1.95 1.95.55-1.95.55-.55 1.95-.55-1.95-1.95-.55 1.95-.55zM278.4 186.5l.55 1.95 1.95.55-1.95.55-.55 1.95-.55-1.95-1.95-.55 1.95-.55zM258.6 215.9l.55 1.95 1.95.55-1.95.55-.55 1.95-.55-1.95-1.95-.55 1.95-.55zM271.1 210.1l.55 1.95 1.95.55-1.95.55-.55 1.95-.55-1.95-1.95-.55 1.95-.55zM249.5 198.9l.55 1.95 1.95.55-1.95.55-.55 1.95-.55-1.95-1.95-.55 1.95-.55zM269.6 204.7l.55 1.95 1.95.55-1.95.55-.55 1.95-.55-1.95-1.95-.55 1.95-.55zM254.8 195.9l.55 1.95 1.95.55-1.95.55-.55 1.95-.55-1.95-1.95-.55 1.95-.55zM252.1 195.6l.55 1.95 1.95.55-1.95.55-.55 1.95-.55-1.95-1.95-.55 1.95-.55zM269.7 230.6l.55 1.95 1.95.55-1.95.55-.55 1.95-.55-1.95-1.95-.55 1.95-.55zM267.9 209.8l.55 1.95 1.95.55-1.95.55-.55 1.95-.55-1.95-1.95-.55 1.95-.55zM304.7 207.8l.55 1.95 1.95.55-1.95.55-.55 1.95-.55-1.95-1.95-.55 1.95-.55zM272.6 208.3l.55 1.95 1.95.55-1.95.55-.55 1.95-.55-1.95-1.95-.55 1.95-.55zM254.6 208.3l.55 1.95 1.95.55-1.95.55-.55 1.95-.55-1.95-1.95-.55 1.95-.55zM226.8 218.2l.55 1.95 1.95.55-1.95.55-.55 1.95-.55-1.95-1.95-.55 1.95-.55zM234.4 211.1l.55 1.95 1.95.55-1.95.55-.55 1.95-.55-1.95-1.95-.55 1.95-.55zM288.4 195.1l.55 1.95 1.95.55-1.95.55-.55 1.95-.55-1.95-1.95-.55 1.95-.55zM231.4 216.7l.55 1.95 1.95.55-1.95.55-.55 1.95-.55-1.95-1.95-.55 1.95-.55zM267.8 204.0l.55 1.95 1.95.55-1.95.55-.55 1.95-.55-1.95-1.95-.55 1.95-.55zM309.2 191.2l.55 1.95 1.95.55-1.95.55-.55 1.95-.55-1.95-1.95-.55 1.95-.55zM242.4 205.0l.55 1.95 1.95.55-1.95.55-.55 1.95-.55-1.95-1.95-.55 1.95-.55zM238.4 225.7l.55 1.95 1.95.55-1.95.55-.55 1.95-.55-1.95-1.95-.55 1.95-.55zM242.7 221.0l.55 1.95 1.95.55-1.95.55-.55 1.95-.55-1.95-1.95-.55 1.95-.55zM264.8 193.9l.55 1.95 1.95.55-1.95.55-.55 1.95-.55-1.95-1.95-.55 1.95-.55zM287.8 197.3l.55 1.95 1.95.55-1.95.55-.55 1.95-.55-1.95-1.95-.55 1.95-.55zM231.8 218.7l.55 1.95 1.95.55-1.95.55-.55 1.95-.55-1.95-1.95-.55 1.95-.55zM244.3 206.7l.55 1.95 1.95.55-1.95.55-.55 1.95-.55-1.95-1.95-.55 1.95-.55zM308.6 186.2l.55 1.95 1.95.55-1.95.55-.55 1.95-.55-1.95-1.95-.55 1.95-.55zM245.2 205.2l.55 1.95 1.95.55-1.95.55-.55 1.95-.55-1.95-1.95-.55 1.95-.55zM286.0 211.6l.55 1.95 1.95.55-1.95.55-.55 1.95-.55-1.95-1.95-.55 1.95-.55zM236.7 207.7l.55 1.95 1.95.55-1.95.55-.55 1.95-.55-1.95-1.95-.55 1.95-.55zM271.3 213.6l.55 1.95 1.95.55-1.95.55-.55 1.95-.55-1.95-1.95-.55 1.95-.55zM239.1 201.5l.55 1.95 1.95.55-1.95.55-.55 1.95-.55-1.95-1.95-.55 1.95-.55zM282.4 207.5l.55 1.95 1.95.55-1.95.55-.55 1.95-.55-1.95-1.95-.55 1.95-.55zM272.2 206.2l.55 1.95 1.95.55-1.95.55-.55 1.95-.55-1.95-1.95-.55 1.95-.55zM296.5 213.9l.55 1.95 1.95.55-1.95.55-.55 1.95-.55-1.95-1.95-.55 1.95-.55zM242.6 224.3l.55 1.95 1.95.55-1.95.55-.55 1.95-.55-1.95-1.95-.55 1.95-.55zM238.9 212.7l.55 1.95 1.95.55-1.95.55-.55 1.95-.55-1.95-1.95-.55 1.95-.55zM293.0 210.5l.55 1.95 1.95.55-1.95.55-.55 1.95-.55-1.95-1.95-.55 1.95-.55zM254.0 213.3l.55 1.95 1.95.55-1.95.55-.55 1.95-.55-1.95-1.95-.55 1.95-.55zM282.6 204.0l.55 1.95 1.95.55-1.95.55-.55 1.95-.55-1.95-1.95-.55 1.95-.55zM282.4 196.7l.55 1.95 1.95.55-1.95.55-.55 1.95-.55-1.95-1.95-.55 1.95-.55zM308.9 190.2l.55 1.95 1.95.55-1.95.55-.55 1.95-.55-1.95-1.95-.55 1.95-.55zM279.4 202.4l.55 1.95 1.95.55-1.95.55-.55 1.95-.55-1.95-1.95-.55 1.95-.55zM254.1 230.7l.55 1.95 1.95.55-1.95.55-.55 1.95-.55-1.95-1.95-.55 1.95-.55zM243.5 210.5l.55 1.95 1.95.55-1.95.55-.55 1.95-.55-1.95-1.95-.55 1.95-.55zM286.0 220.6l.55 1.95 1.95.55-1.95.55-.55 1.95-.55-1.95-1.95-.55 1.95-.55zM222.9 210.2l.55 1.95 1.95.55-1.95.55-.55 1.95-.55-1.95-1.95-.55 1.95-.55zM256.0 199.4l.55 1.95 1.95.55-1.95.55-.55 1.95-.55-1.95-1.95-.55 1.95-.55zM247.3 204.5l.55 1.95 1.95.55-1.95.55-.55 1.95-.55-1.95-1.95-.55 1.95-.55zM274.7 189.5l.55 1.95 1.95.55-1.95.55-.55 1.95-.55-1.95-1.95-.55 1.95-.55zM308.7 205.8l.55 1.95 1.95.55-1.95.55-.55 1.95-.55-1.95-1.95-.55 1.95-.55zM279.9 204.7l.55 1.95 1.95.55-1.95.55-.55 1.95-.55-1.95-1.95-.55 1.95-.55zM287.1 210.0l.55 1.95 1.95.55-1.95.55-.55 1.95-.55-1.95-1.95-.55 1.95-.55zM295.0 203.0l.55 1.95 1.95.55-1.95.55-.55 1.95-.55-1.95-1.95-.55 1.95-.55zM229.9 203.2l.55 1.95 1.95.55-1.95.55-.55 1.95-.55-1.95-1.95-.55 1.95-.55zM284.1 204.9l.55 1.95 1.95.55-1.95.55-.55 1.95-.55-1.95-1.95-.55 1.95-.55zM265.0 210.6l.55 1.95 1.95.55-1.95.55-.55 1.95-.55-1.95-1.95-.55 1.95-.55zM264.2 201.9l.55 1.95 1.95.55-1.95.55-.55 1.95-.55-1.95-1.95-.55 1.95-.55zM249.6 205.9l.55 1.95 1.95.55-1.95.55-.55 1.95-.55-1.95-1.95-.55 1.95-.55zM278.5 216.8l.55 1.95 1.95.55-1.95.55-.55 1.95-.55-1.95-1.95-.55 1.95-.55zM268.7 185.1l.55 1.95 1.95.55-1.95.55-.55 1.95-.55-1.95-1.95-.55 1.95-.55zM218.0 219.9l.55 1.95 1.95.55-1.95.55-.55 1.95-.55-1.95-1.95-.55 1.95-.55zM307.9 202.8l.55 1.95 1.95.55-1.95.55-.55 1.95-.55-1.95-1.95-.55 1.95-.55zM279.5 192.3l.55 1.95 1.95.55-1.95.55-.55 1.95-.55-1.95-1.95-.55 1.95-.55zM280.2 203.4l.55 1.95 1.95.55-1.95.55-.55 1.95-.55-1.95-1.95-.55 1.95-.55zM286.6 204.4l.55 1.95 1.95.55-1.95.55-.55 1.95-.55-1.95-1.95-.55 1.95-.55zM259.5 227.9l.55 1.95 1.95.55-1.95.55-.55 1.95-.55-1.95-1.95-.55 1.95-.55zM294.4 205.6l.55 1.95 1.95.55-1.95.55-.55 1.95-.55-1.95-1.95-.55 1.95-.55zM276.1 203.3l.55 1.95 1.95.55-1.95.55-.55 1.95-.55-1.95-1.95-.55 1.95-.55zM247.3 215.7l.55 1.95 1.95.55-1.95.55-.55 1.95-.55-1.95-1.95-.55 1.95-.55zM281.4 202.0l.55 1.95 1.95.55-1.95.55-.55 1.95-.55-1.95-1.95-.55 1.95-.55zM235.5 219.5l.55 1.95 1.95.55-1.95.55-.55 1.95-.55-1.95-1.95-.55 1.95-.55zM265.0 199.2l.55 1.95 1.95.55-1.95.55-.55 1.95-.55-1.95-1.95-.55 1.95-.55zM282.0 207.3l.55 1.95 1.95.55-1.95.55-.55 1.95-.55-1.95-1.95-.55 1.95-.55zM290.5 208.8l.55 1.95 1.95.55-1.95.55-.55 1.95-.55-1.95-1.95-.55 1.95-.55zM250.3 213.0l.55 1.95 1.95.55-1.95.55-.55 1.95-.55-1.95-1.95-.55 1.95-.55zM275.5 202.7l.55 1.95 1.95.55-1.95.55-.55 1.95-.55-1.95-1.95-.55 1.95-.55zM317.0 195.4l.55 1.95 1.95.55-1.95.55-.55 1.95-.55-1.95-1.95-.55 1.95-.55zM287.9 218.3l.55 1.95 1.95.55-1.95.55-.55 1.95-.55-1.95-1.95-.55 1.95-.55zM264.6 208.9l.55 1.95 1.95.55-1.95.55-.55 1.95-.55-1.95-1.95-.55 1.95-.55zM279.4 189.8l.55 1.95 1.95.55-1.95.55-.55 1.95-.55-1.95-1.95-.55 1.95-.55zM276.1 201.6l.55 1.95 1.95.55-1.95.55-.55 1.95-.55-1.95-1.95-.55 1.95-.55zM273.3 195.8l.55 1.95 1.95.55-1.95.55-.55 1.95-.55-1.95-1.95-.55 1.95-.55zM292.4 201.0l.55 1.95 1.95.55-1.95.55-.55 1.95-.55-1.95-1.95-.55 1.95-.55zM288.2 211.2l.55 1.95 1.95.55-1.95.55-.55 1.95-.55-1.95-1.95-.55 1.95-.55zM299.1 204.8l.55 1.95 1.95.55-1.95.55-.55 1.95-.55-1.95-1.95-.55 1.95-.55zM248.2 218.8l.55 1.95 1.95.55-1.95.55-.55 1.95-.55-1.95-1.95-.55 1.95-.55zM257.0 229.3l.55 1.95 1.95.55-1.95.55-.55 1.95-.55-1.95-1.95-.55 1.95-.55zM239.3 213.2l.55 1.95 1.95.55-1.95.55-.55 1.95-.55-1.95-1.95-.55 1.95-.55zM248.7 200.8l.55 1.95 1.95.55-1.95.55-.55 1.95-.55-1.95-1.95-.55 1.95-.55zM252.9 204.6l.55 1.95 1.95.55-1.95.55-.55 1.95-.55-1.95-1.95-.55 1.95-.55zM275.2 216.8l.55 1.95 1.95.55-1.95.55-.55 1.95-.55-1.95-1.95-.55 1.95-.55zM266.5 210.5l.55 1.95 1.95.55-1.95.55-.55 1.95-.55-1.95-1.95-.55 1.95-.55zM252.9 171.3l.55 1.95 1.95.55-1.95.55-.55 1.95-.55-1.95-1.95-.55 1.95-.55zM279.6 210.8l.55 1.95 1.95.55-1.95.55-.55 1.95-.55-1.95-1.95-.55 1.95-.55zM277.2 218.2l.55 1.95 1.95.55-1.95.55-.55 1.95-.55-1.95-1.95-.55 1.95-.55zM295.3 212.8l.55 1.95 1.95.55-1.95.55-.55 1.95-.55-1.95-1.95-.55 1.95-.55zM289.3 207.4l.55 1.95 1.95.55-1.95.55-.55 1.95-.55-1.95-1.95-.55 1.95-.55zM275.4 213.2l.55 1.95 1.95.55-1.95.55-.55 1.95-.55-1.95-1.95-.55 1.95-.55zM285.8 200.2l.55 1.95 1.95.55-1.95.55-.55 1.95-.55-1.95-1.95-.55 1.95-.55zM280.7 204.1l.55 1.95 1.95.55-1.95.55-.55 1.95-.55-1.95-1.95-.55 1.95-.55zM278.4 205.3l.55 1.95 1.95.55-1.95.55-.55 1.95-.55-1.95-1.95-.55 1.95-.55zM256.4 211.3l.55 1.95 1.95.55-1.95.55-.55 1.95-.55-1.95-1.95-.55 1.95-.55zM259.3 195.2l.55 1.95 1.95.55-1.95.55-.55 1.95-.55-1.95-1.95-.55 1.95-.55zM241.9 210.8l.55 1.95 1.95.55-1.95.55-.55 1.95-.55-1.95-1.95-.55 1.95-.55zM283.1 200.7l.55 1.95 1.95.55-1.95.55-.55 1.95-.55-1.95-1.95-.55 1.95-.55zM275.9 209.3l.55 1.95 1.95.55-1.95.55-.55 1.95-.55-1.95-1.95-.55 1.95-.55zM240.0 212.1l.55 1.95 1.95.55-1.95.55-.55 1.95-.55-1.95-1.95-.55 1.95-.55zM278.8 225.1l.55 1.95 1.95.55-1.95.55-.55 1.95-.55-1.95-1.95-.55 1.95-.55zM247.0 212.5l.55 1.95 1.95.55-1.95.55-.55 1.95-.55-1.95-1.95-.55 1.95-.55zM259.1 216.4l.55 1.95 1.95.55-1.95.55-.55 1.95-.55-1.95-1.95-.55 1.95-.55zM254.4 189.8l.55 1.95 1.95.55-1.95.55-.55 1.95-.55-1.95-1.95-.55 1.95-.55zM251.4 215.5l.55 1.95 1.95.55-1.95.55-.55 1.95-.55-1.95-1.95-.55 1.95-.55zM284.4 181.8l.55 1.95 1.95.55-1.95.55-.55 1.95-.55-1.95-1.95-.55 1.95-.55zM238.5 202.2l.55 1.95 1.95.55-1.95.55-.55 1.95-.55-1.95-1.95-.55 1.95-.55zM260.9 225.8l.55 1.95 1.95.55-1.95.55-.55 1.95-.55-1.95-1.95-.55 1.95-.55zM271.2 204.3l.55 1.95 1.95.55-1.95.55-.55 1.95-.55-1.95-1.95-.55 1.95-.55zM277.3 214.8l.55 1.95 1.95.55-1.95.55-.55 1.95-.55-1.95-1.95-.55 1.95-.55zM290.4 211.3l.55 1.95 1.95.55-1.95.55-.55 1.95-.55-1.95-1.95-.55 1.95-.55zM271.0 201.4l.55 1.95 1.95.55-1.95.55-.55 1.95-.55-1.95-1.95-.55 1.95-.55zM281.8 214.7l.55 1.95 1.95.55-1.95.55-.55 1.95-.55-1.95-1.95-.55 1.95-.55zM268.4 206.8l.55 1.95 1.95.55-1.95.55-.55 1.95-.55-1.95-1.95-.55 1.95-.55zM268.4 193.5l.55 1.95 1.95.55-1.95.55-.55 1.95-.55-1.95-1.95-.55 1.95-.55zM273.1 206.9l.55 1.95 1.95.55-1.95.55-.55 1.95-.55-1.95-1.95-.55 1.95-.55zM269.4 213.3l.55 1.95 1.95.55-1.95.55-.55 1.95-.55-1.95-1.95-.55 1.95-.55zM262.3 202.1l.55 1.95 1.95.55-1.95.55-.55 1.95-.55-1.95-1.95-.55 1.95-.55zM278.4 217.6l.55 1.95 1.95.55-1.95.55-.55 1.95-.55-1.95-1.95-.55 1.95-.55zM240.4 218.8l.55 1.95 1.95.55-1.95.55-.55 1.95-.55-1.95-1.95-.55 1.95-.55zM279.7 217.5l.55 1.95 1.95.55-1.95.55-.55 1.95-.55-1.95-1.95-.55 1.95-.55zM280.7 189.4l.55 1.95 1.95.55-1.95.55-.55 1.95-.55-1.95-1.95-.55 1.95-.55zM270.0 226.1l.55 1.95 1.95.55-1.95.55-.55 1.95-.55-1.95-1.95-.55 1.95-.55zM281.0 206.2l.55 1.95 1.95.55-1.95.55-.55 1.95-.55-1.95-1.95-.55 1.95-.55zM286.6 191.9l.55 1.95 1.95.55-1.95.55-.55 1.95-.55-1.95-1.95-.55 1.95-.55zM237.6 216.6l.55 1.95 1.95.55-1.95.55-.55 1.95-.55-1.95-1.95-.55 1.95-.55zM248.6 214.7l.55 1.95 1.95.55-1.95.55-.55 1.95-.55-1.95-1.95-.55 1.95-.55zM276.3 207.7l.55 1.95 1.95.55-1.95.55-.55 1.95-.55-1.95-1.95-.55 1.95-.55zM256.2 212.3l.55 1.95 1.95.55-1.95.55-.55 1.95-.55-1.95-1.95-.55 1.95-.55zM278.5 219.3l.55 1.95 1.95.55-1.95.55-.55 1.95-.55-1.95-1.95-.55 1.95-.55zM272.6 195.7l.55 1.95 1.95.55-1.95.55-.55 1.95-.55-1.95-1.95-.55 1.95-.55zM272.9 209.5l.55 1.95 1.95.55-1.95.55-.55 1.95-.55-1.95-1.95-.55 1.95-.55zM265.8 209.9l.55 1.95 1.95.55-1.95.55-.55 1.95-.55-1.95-1.95-.55 1.95-.55zM271.5 225.8l.55 1.95 1.95.55-1.95.55-.55 1.95-.55-1.95-1.95-.55 1.95-.55zM264.2 218.5l.55 1.95 1.95.55-1.95.55-.55 1.95-.55-1.95-1.95-.55 1.95-.55zM264.4 184.1l.55 1.95 1.95.55-1.95.55-.55 1.95-.55-1.95-1.95-.55 1.95-.55zM281.9 198.5l.55 1.95 1.95.55-1.95.55-.55 1.95-.55-1.95-1.95-.55 1.95-.55zM256.8 214.0l.55 1.95 1.95.55-1.95.55-.55 1.95-.55-1.95-1.95-.55 1.95-.55zM261.9 194.7l.55 1.95 1.95.55-1.95.55-.55 1.95-.55-1.95-1.95-.55 1.95-.55zM293.0 211.8l.55 1.95 1.95.55-1.95.55-.55 1.95-.55-1.95-1.95-.55 1.95-.55zM263.9 213.7l.55 1.95 1.95.55-1.95.55-.55 1.95-.55-1.95-1.95-.55 1.95-.55zM270.9 219.4l.55 1.95 1.95.55-1.95.55-.55 1.95-.55-1.95-1.95-.55 1.95-.55zM284.7 191.5l.55 1.95 1.95.55-1.95.55-.55 1.95-.55-1.95-1.95-.55 1.95-.55zM294.5 205.1l.55 1.95 1.95.55-1.95.55-.55 1.95-.55-1.95-1.95-.55 1.95-.55zM267.7 211.8l.55 1.95 1.95.55-1.95.55-.55 1.95-.55-1.95-1.95-.55 1.95-.55zM301.0 201.4l.55 1.95 1.95.55-1.95.55-.55 1.95-.55-1.95-1.95-.55 1.95-.55zM229.6 218.1l.55 1.95 1.95.55-1.95.55-.55 1.95-.55-1.95-1.95-.55 1.95-.55zM257.7 208.4l.55 1.95 1.95.55-1.95.55-.55 1.95-.55-1.95-1.95-.55 1.95-.55zM296.6 218.5l.55 1.95 1.95.55-1.95.55-.55 1.95-.55-1.95-1.95-.55 1.95-.55zM241.6 218.9l.55 1.95 1.95.55-1.95.55-.55 1.95-.55-1.95-1.95-.55 1.95-.55zM258.7 220.6l.55 1.95 1.95.55-1.95.55-.55 1.95-.55-1.95-1.95-.55 1.95-.55zM244.9 216.8l.55 1.95 1.95.55-1.95.55-.55 1.95-.55-1.95-1.95-.55 1.95-.55zM259.9 216.2l.55 1.95 1.95.55-1.95.55-.55 1.95-.55-1.95-1.95-.55 1.95-.55zM268.2 212.8l.55 1.95 1.95.55-1.95.55-.55 1.95-.55-1.95-1.95-.55 1.95-.55zM255.4 209.4l.55 1.95 1.95.55-1.95.55-.55 1.95-.55-1.95-1.95-.55 1.95-.55zM266.5 214.7l.55 1.95 1.95.55-1.95.55-.55 1.95-.55-1.95-1.95-.55 1.95-.55zM304.4 197.9l.55 1.95 1.95.55-1.95.55-.55 1.95-.55-1.95-1.95-.55 1.95-.55zM268.9 202.1l.55 1.95 1.95.55-1.95.55-.55 1.95-.55-1.95-1.95-.55 1.95-.55zM239.7 221.9l.55 1.95 1.95.55-1.95.55-.55 1.95-.55-1.95-1.95-.55 1.95-.55zM283.4 203.5l.55 1.95 1.95.55-1.95.55-.55 1.95-.55-1.95-1.95-.55 1.95-.55zM299.8 198.3l.55 1.95 1.95.55-1.95.55-.55 1.95-.55-1.95-1.95-.55 1.95-.55zM264.6 199.6l.55 1.95 1.95.55-1.95.55-.55 1.95-.55-1.95-1.95-.55 1.95-.55zM245.2 236.9l.55 1.95 1.95.55-1.95.55-.55 1.95-.55-1.95-1.95-.55 1.95-.55zM274.4 204.9l.55 1.95 1.95.55-1.95.55-.55 1.95-.55-1.95-1.95-.55 1.95-.55zM259.2 214.5l.55 1.95 1.95.55-1.95.55-.55 1.95-.55-1.95-1.95-.55 1.95-.55zM250.4 190.5l.55 1.95 1.95.55-1.95.55-.55 1.95-.55-1.95-1.95-.55 1.95-.55zM308.5 202.9l.55 1.95 1.95.55-1.95.55-.55 1.95-.55-1.95-1.95-.55 1.95-.55zM254.8 206.8l.55 1.95 1.95.55-1.95.55-.55 1.95-.55-1.95-1.95-.55 1.95-.55zM256.1 220.9l.55 1.95 1.95.55-1.95.55-.55 1.95-.55-1.95-1.95-.55 1.95-.55zM291.6 201.1l.55 1.95 1.95.55-1.95.55-.55 1.95-.55-1.95-1.95-.55 1.95-.55zM255.4 204.5l.55 1.95 1.95.55-1.95.55-.55 1.95-.55-1.95-1.95-.55 1.95-.55zM264.6 209.5l.55 1.95 1.95.55-1.95.55-.55 1.95-.55-1.95-1.95-.55 1.95-.55zM286.6 209.9l.55 1.95 1.95.55-1.95.55-.55 1.95-.55-1.95-1.95-.55 1.95-.55zM279.1 208.0l.55 1.95 1.95.55-1.95.55-.55 1.95-.55-1.95-1.95-.55 1.95-.55zM312.5 182.2l.55 1.95 1.95.55-1.95.55-.55 1.95-.55-1.95-1.95-.55 1.95-.55zM265.3 196.0l.55 1.95 1.95.55-1.95.55-.55 1.95-.55-1.95-1.95-.55 1.95-.55zM264.7 215.3l.55 1.95 1.95.55-1.95.55-.55 1.95-.55-1.95-1.95-.55 1.95-.55zM260.3 191.3l.55 1.95 1.95.55-1.95.55-.55 1.95-.55-1.95-1.95-.55 1.95-.55zM226.4 205.0l.55 1.95 1.95.55-1.95.55-.55 1.95-.55-1.95-1.95-.55 1.95-.55zM257.3 203.0l.55 1.95 1.95.55-1.95.55-.55 1.95-.55-1.95-1.95-.55 1.95-.55zM229.7 218.6l.55 1.95 1.95.55-1.95.55-.55 1.95-.55-1.95-1.95-.55 1.95-.55zM309.3 198.0l.55 1.95 1.95.55-1.95.55-.55 1.95-.55-1.95-1.95-.55 1.95-.55zM258.4 227.1l.55 1.95 1.95.55-1.95.55-.55 1.95-.55-1.95-1.95-.55 1.95-.55zM273.6 219.1l.55 1.95 1.95.55-1.95.55-.55 1.95-.55-1.95-1.95-.55 1.95-.55zM299.3 193.2l.55 1.95 1.95.55-1.95.55-.55 1.95-.55-1.95-1.95-.55 1.95-.55zM283.1 200.5l.55 1.95 1.95.55-1.95.55-.55 1.95-.55-1.95-1.95-.55 1.95-.55zM258.0 206.1l.55 1.95 1.95.55-1.95.55-.55 1.95-.55-1.95-1.95-.55 1.95-.55zM259.2 208.8l.55 1.95 1.95.55-1.95.55-.55 1.95-.55-1.95-1.95-.55 1.95-.55zM243.2 211.2l.55 1.95 1.95.55-1.95.55-.55 1.95-.55-1.95-1.95-.55 1.95-.55zM312.7 196.3l.55 1.95 1.95.55-1.95.55-.55 1.95-.55-1.95-1.95-.55 1.95-.55zM266.5 213.6l.55 1.95 1.95.55-1.95.55-.55 1.95-.55-1.95-1.95-.55 1.95-.55zM230.4 186.4l.55 1.95 1.95.55-1.95.55-.55 1.95-.55-1.95-1.95-.55 1.95-.55zM278.1 196.6l.55 1.95 1.95.55-1.95.55-.55 1.95-.55-1.95-1.95-.55 1.95-.55zM246.5 220.3l.55 1.95 1.95.55-1.95.55-.55 1.95-.55-1.95-1.95-.55 1.95-.55zM234.5 209.7l.55 1.95 1.95.55-1.95.55-.55 1.95-.55-1.95-1.95-.55 1.95-.55zM281.9 195.7l.55 1.95 1.95.55-1.95.55-.55 1.95-.55-1.95-1.95-.55 1.95-.55zM271.5 209.1l.55 1.95 1.95.55-1.95.55-.55 1.95-.55-1.95-1.95-.55 1.95-.55zM262.7 206.0l.55 1.95 1.95.55-1.95.55-.55 1.95-.55-1.95-1.95-.55 1.95-.55zM256.2 209.7l.55 1.95 1.95.55-1.95.55-.55 1.95-.55-1.95-1.95-.55 1.95-.55zM265.9 200.5l.55 1.95 1.95.55-1.95.55-.55 1.95-.55-1.95-1.95-.55 1.95-.55zM288.3 193.4l.55 1.95 1.95.55-1.95.55-.55 1.95-.55-1.95-1.95-.55 1.95-.55zM267.0 230.9l.55 1.95 1.95.55-1.95.55-.55 1.95-.55-1.95-1.95-.55 1.95-.55zM240.6 215.8l.55 1.95 1.95.55-1.95.55-.55 1.95-.55-1.95-1.95-.55 1.95-.55zM243.4 188.7l.55 1.95 1.95.55-1.95.55-.55 1.95-.55-1.95-1.95-.55 1.95-.55zM305.5 202.4l.55 1.95 1.95.55-1.95.55-.55 1.95-.55-1.95-1.95-.55 1.95-.55zM251.9 214.5l.55 1.95 1.95.55-1.95.55-.55 1.95-.55-1.95-1.95-.55 1.95-.55zM271.1 211.8l.55 1.95 1.95.55-1.95.55-.55 1.95-.55-1.95-1.95-.55 1.95-.55zM279.6 226.5l.55 1.95 1.95.55-1.95.55-.55 1.95-.55-1.95-1.95-.55 1.95-.55zM263.8 208.3l.55 1.95 1.95.55-1.95.55-.55 1.95-.55-1.95-1.95-.55 1.95-.55zM252.9 217.4l.55 1.95 1.95.55-1.95.55-.55 1.95-.55-1.95-1.95-.55 1.95-.55zM245.9 205.7l.55 1.95 1.95.55-1.95.55-.55 1.95-.55-1.95-1.95-.55 1.95-.55zM230.3 201.7l.55 1.95 1.95.55-1.95.55-.55 1.95-.55-1.95-1.95-.55 1.95-.55zM241.5 231.2l.55 1.95 1.95.55-1.95.55-.55 1.95-.55-1.95-1.95-.55 1.95-.55zM264.2 209.9l.55 1.95 1.95.55-1.95.55-.55 1.95-.55-1.95-1.95-.55 1.95-.55zM308.0 190.2l.55 1.95 1.95.55-1.95.55-.55 1.95-.55-1.95-1.95-.55 1.95-.55zM266.8 205.1l.55 1.95 1.95.55-1.95.55-.55 1.95-.55-1.95-1.95-.55 1.95-.55zM244.3 227.0l.55 1.95 1.95.55-1.95.55-.55 1.95-.55-1.95-1.95-.55 1.95-.55zM273.3 202.8l.55 1.95 1.95.55-1.95.55-.55 1.95-.55-1.95-1.95-.55 1.95-.55zM278.2 204.0l.55 1.95 1.95.55-1.95.55-.55 1.95-.55-1.95-1.95-.55 1.95-.55zM239.9 186.4l.55 1.95 1.95.55-1.95.55-.55 1.95-.55-1.95-1.95-.55 1.95-.55zM279.3 204.0l.55 1.95 1.95.55-1.95.55-.55 1.95-.55-1.95-1.95-.55 1.95-.55zM275.6 207.5l.55 1.95 1.95.55-1.95.55-.55 1.95-.55-1.95-1.95-.55 1.95-.55zM274.1 187.6l.55 1.95 1.95.55-1.95.55-.55 1.95-.55-1.95-1.95-.55 1.95-.55zM291.1 208.9l.55 1.95 1.95.55-1.95.55-.55 1.95-.55-1.95-1.95-.55 1.95-.55zM260.5 208.3l.55 1.95 1.95.55-1.95.55-.55 1.95-.55-1.95-1.95-.55 1.95-.55zM247.3 202.6l.55 1.95 1.95.55-1.95.55-.55 1.95-.55-1.95-1.95-.55 1.95-.55zM264.7 204.9l.55 1.95 1.95.55-1.95.55-.55 1.95-.55-1.95-1.95-.55 1.95-.55z"/>
<g fill="none" stroke="#27ae60" stroke-opacity="0.3" stroke-linecap="round"><path stroke-width="5" d="M164 379.1h.01M159.3 393.4h.01M181.4 401.1h.01M162.1 383.9h.01M190.9 415h.01M188.7 384.7h.01M184.9 408.6h.01M157.5 384h.01M166.1 386.6h.01M148.5 442.5h.01M195.7 413.2h.01M156.3 370.7h.01M164.7 404.7h.01M172.5 375.3h.01M144.7 422h.01M171.1 386.1h.01M171.3 380.9h.01M176.2 382.8h.01M164.2 417.2h.01M180.1 406h.01M166.4 413.4h.01M174.5 390.5h.01M193.5 420.3h.01M154.2 443.4h.01M144.7 377.1h.01"/><path stroke-width="6.2" d="M151.2 387.5h.01M148.3 380.9h.01M158.5 378.1h.01M147 392h.01M174.1 406.8h.01M172.6 400.1h.01"/><path stroke-width="5" d="M166.1 378.6h.01M152.4 381.7h.01M150.9 441.6h.01M144.7 443.7h.01M176.3 410.1h.01M148.1 381.6h.01M159.7 387.4h.01M167.6 404.3h.01"/><path stroke-width="6.2" d="M150.2 388.1h.01M158.8 381.6h.01M147.8 393.5h.01M167.9 388.4h.01M177.7 401.9h.01"/><path stroke-width="5" d="M164.5 381.2h.01M153 387.3h.01M155.1 381.5h.01M160.2 379.1h.01M160.9 385.6h.01M150.3 442.8h.01M145.1 443.1h.01M146.4 380.3h.01M145.6 384.5h.01M150.4 382.9h.01"/><path stroke-width="6.2" d="M163.9 374.4h.01"/><path stroke-width="5" d="M163.4 378.9h.01M158.4 381.3h.01M154.5 383.9h.01M157.6 387.8h.01M151.5 387.4h.01M146.9 383.1h.01M151.6 379.9h.01M151.1 442.9h.01"/><path stroke-width="5" d="M157.3 382.1h.01M164 378.3h.01M161.4 384.1h.01M152.9 381.7h.01M157.5 386.7h.01"/><path stroke-width="5" d="M157.8 383.4h.01M155.5 379.8h.01M162.1 378.1h.01M152.5 383.2h.01"/><path stroke-width="6.2" d="M158.7 383.4h.01"/><path stroke-width="5" d="M160.6 384.1h.01M154.6 384.8h.01M154.8 379.3h.01"/><path stroke-width="5" d="M156.8 382.9h.01M162.4 381.2h.01M152.3 382.2h.01"/><path stroke-width="5" d="M160.2 383.8h.01M154.3 382.3h.01"/><path stroke-width="5" d="M156.9 383.1h.01"/></g>
<g fill="none" stroke="#1fbcd2" stroke-opacity="0.25" stroke-linecap="round"><path stroke-width="5" d="M212.9 434.8h.01M247.7 477.3h.01M247.6 447.1h.01M282.7 423.9h.01M251.2 451.8h.01M209.8 421.7h.01M274.4 446.3h.01M213.9 439h.01M238.7 453.2h.01M272.8 437.3h.01M255 476.5h.01M261.8 458.1h.01M229.2 432.9h.01M231.6 418.6h.01M254.1 488.5h.01M204.5 417.9h.01M232 424.7h.01M223.9 433.1h.01M219.3 442.7h.01M258.6 441.6h.01M235.5 435.7h.01M167.5 402.9h.01M195.5 482.7h.01M209.4 400.7h.01M242 459.2h.01M270.1 418.1h.01M225.4 450.2h.01M225.3 426.7h.01M219.9 448.9h.01M177.3 469.3h.01M219.1 421.3h.01M224.7 457.6h.01M203.3 443.7h.01M224.2 417.5h.01M272.6 474.6h.01M216.8 414.7h.01M292.4 440.6h.01M151.6 456.5h.01M269.6 460.3h.01M285.6 430.9h.01M184.4 489.5h.01M263.6 494.4h.01M236.2 460.8h.01M236.9 441.7h.01M248.6 455.4h.01M218.8 437.7h.01M211.8 426.8h.01M214.8 423.4h.01M246.6 459.8h.01M201.8 421.8h.01M278.7 448.9h.01M221.5 394.5h.01M282 497h.01M266.4 433.1h.01M252.2 421.3h.01M207.9 448.2h.01M202.4 431.3h.01M205.2 434.6h.01M246.3 440.6h.01M185.5 473.9h.01M266.8 475.2h.01M231.7 467.8h.01M166.2 468.6h.01M287 443.7h.01M257.2 461.9h.01M251.1 459.8h.01M192.6 415.1h.01M209.7 453.8h.01M211.5 414.7h.01M261 472.3h.01M214.3 393.5h.01M225.4 412.3h.01M194.6 411.1h.01M283.5 450.4h.01M283.7 440.9h.01M257.4 466.3h.01M253 447.7h.01M258.3 446.3h.01M282.7 445.6h.01M229.8 405h.01M185.2 415.7h.01M283.6 435.3h.01M172.9 478.3h.01M265.1 452.4h.01M242.6 481.3h.01M223.6 441.4h.01M220.4 430.5h.01M268.1 441.9h.01M234.9 414.6h.01M225.5 437.3h.01M181.9 470.8h.01M287.3 415.9h.01M194.6 401.8h.01M273.4 428.3h.01M191.5 387.5h.01M237.8 424.8h.01M246.3 420.7h.01M205.6 413.2h.01M261.9 481.6h.01M205.1 452.4h.01"/><path stroke-width="6.2" d="M204.7 426.5h.01M231.6 449.8h.01M277.6 424.5h.01M249.3 467.3h.01M274.3 452h.01M243.6 432.2h.01M240.6 471.7h.01M185.1 409.6h.01M211.3 409.2h.01M190.7 405.1h.01M218.4 399.8h.01M225.1 404.2h.01M291 426.6h.01M241.2 419.8h.01"/><path stroke-width="8" d="M230.6 441.3h.01M241.6 448.1h.01"/><path stroke-width="5" d="M276.9 447.3h.01M246.4 446.4h.01M226.7 443.2h.01M206.8 416.6h.01M230.4 447.9h.01M228.7 435.8h.01M239.8 458.5h.01M223.8 429.6h.01M233.2 437.8h.01M225.2 424.6h.01M280.8 420.8h.01M228.1 430.9h.01M232.3 420.8h.01M249 451h.01M294.1 443.9h.01M228.2 416.4h.01M283.6 431.6h.01M234.7 443.8h.01M211.5 441.3h.01M233.8 458.6h.01M214.8 422.9h.01M207.4 424.5h.01M224.3 461.3h.01M177.6 472.3h.01M239.5 474.4h.01M249.2 459.3h.01M221.7 440.8h.01M272.9 442.9h.01M273.9 473.7h.01M224.8 450.5h.01M253.5 452.5h.01M209.3 420.6h.01M259.9 463.2h.01M249.3 475.2h.01M210.7 407.2h.01M247.5 442.2h.01M184.3 470.5h.01M251.8 465.1h.01M271.1 438.5h.01M206.8 409.8h.01M219.2 423.5h.01M195.8 411.8h.01M218.2 399.6h.01M265.2 454.6h.01M294.2 438.3h.01M240.2 434.2h.01M261.6 469.8h.01M253.1 448.2h.01M182.4 474.4h.01M234.5 432h.01M188.1 472.9h.01M173.6 479.8h.01M222.4 419.8h.01M236 427.3h.01M201.2 424.8h.01M216.3 417.5h.01M234.8 444.7h.01"/><path stroke-width="6.2" d="M234.1 452.7h.01M216 409.7h.01M281.7 426.9h.01M228.2 464.9h.01M182.1 487.5h.01M222.9 404.5h.01"/><path stroke-width="8" d="M258.7 454.6h.01M239.2 449.3h.01M215.4 432.5h.01M248.6 420.7h.01"/><path stroke-width="5" d="M249.9 448h.01M241.4 448.6h.01M231.9 451.4h.01M239.2 456.1h.01M229.1 446.1h.01M247.7 443.7h.01M236.7 446.7h.01M231.7 417.5h.01M216.1 432.3h.01M217.9 420.9h.01M207.7 424.7h.01M220 439.5h.01M230.8 432.5h.01M274.8 439.5h.01M233.9 436.2h.01M217.7 412.7h.01M250 461.3h.01M211 420.8h.01M216 424.8h.01M210.4 432.1h.01M226 431.6h.01M274.8 448.2h.01M237 442.2h.01M203.1 422.3h.01M280 427.4h.01"/><path stroke-width="6.2" d="M231.4 441.3h.01M225.8 437h.01M220.6 429.7h.01M207.1 408.5h.01M249.2 468.7h.01M194.9 414.3h.01M224.3 445.9h.01"/><path stroke-width="5" d="M231 436.8h.01M240 446.6h.01M231.1 449.8h.01M240 457.7h.01M234.3 441.5h.01M250 444.2h.01M230.6 443.9h.01M214.9 434.1h.01M216.9 424.7h.01M221.9 440.3h.01M228.6 433h.01M208 424.2h.01M226.3 447.2h.01M239.7 452.8h.01M220.9 420.4h.01"/><path stroke-width="6.2" d="M249.5 450.6h.01M222.3 433.9h.01M214.6 413h.01"/><path stroke-width="5" d="M228.3 439.6h.01M241.6 454.2h.01M218.3 421.9h.01M229.3 449.1h.01M213.7 433.7h.01M237.3 449.4h.01M230 430.7h.01M218.1 439.2h.01M236.2 444.6h.01M252.7 449.6h.01M230.4 453.9h.01M249.4 444.2h.01"/><path stroke-width="6.2" d="M230.9 444.4h.01"/><path stroke-width="5" d="M232.5 445.2h.01M227.4 441.5h.01M216.6 432.9h.01M237.5 454.4h.01M231.4 437.4h.01M233.8 451.1h.01M227.3 449.2h.01M241.6 458.3h.01M240.1 445.6h.01M242.4 450.9h.01M237.2 441.4h.01"/><path stroke-width="5" d="M234 441.5h.01M237.8 455.9h.01M232.7 448.7h.01M229.2 443.4h.01"/><path stroke-width="6.2" d="M228.6 436.3h.01"/><path stroke-width="5" d="M234.3 442.8h.01M232.4 439h.01M228.3 441.2h.01"/><path stroke-width="5" d="M234.7 442.8h.01M228.8 443h.01M228.8 436.6h.01"/><path stroke-width="5" d="M234.6 442.2h.01M229.1 440.2h.01"/></g>
<g fill="none" stroke="#b3b52a" stroke-opacity="0.25" stroke-linecap="round"><path stroke-width="5" d="M100 554.7h.01M138.8 565h.01M103.8 578.9h.01M121.5 558.5h.01M123.3 573.9h.01M114.4 557.2h.01M132.9 554.8h.01M156.7 544.3h.01M122.6 546.1h.01M118.4 569.3h.01M104.6 573.5h.01M137.4 547.5h.01M158.8 562.4h.01M137.6 553h.01M144.6 548.1h.01M129.9 561.5h.01M126.3 583.6h.01M146.3 558.8h.01M125.3 554.7h.01M128.9 550.5h.01M143 587h.01M141.3 540.3h.01M117 523.3h.01M131.9 532.9h.01M106.2 530h.01M151 527h.01M111.2 560h.01M146.4 536.3h.01M125.4 562.7h.01M106.4 558h.01M148.1 573.3h.01M155.5 553h.01M172.4 571.8h.01M144.1 599.7h.01M140.4 558.1h.01M114.1 572.6h.01M149.2 532.7h.01M133.4 576h.01M131.3 571.9h.01M142.2 578.6h.01M133.4 559.2h.01M163.6 564.2h.01M117.3 550.6h.01M152.4 558.1h.01M111.7 542.9h.01M138 537.5h.01M93.5 562.7h.01M85.7 566.1h.01M117.7 561.6h.01M107.4 553h.01M141.9 551.8h.01M125.3 533.3h.01M124.5 587.7h.01M139.4 533.1h.01M118.9 534.3h.01M170.9 547.3h.01M156 538.9h.01M143.5 530.3h.01M133.8 567.5h.01M166.6 559.1h.01M117.4 543.6h.01M161.5 553.5h.01M112.1 537.1h.01M159.8 548.7h.01M164.2 539.9h.01M133.3 551.2h.01M164.4 545.7h.01M161.7 557.8h.01M120.3 526.6h.01M128.5 576.4h.01M111.1 582.8h.01M129.2 557.6h.01M129.3 528.6h.01M146.5 580.9h.01M125.3 555.8h.01M128.8 536.3h.01"/><path stroke-width="6.2" d="M169 566.2h.01M148.8 554.3h.01M80.5 548.7h.01M104.7 539h.01M149.7 543.8h.01M152.1 564.9h.01M112.5 549.1h.01M162.8 533.1h.01M117.6 578.6h.01M95.1 554.2h.01M134.8 557.6h.01"/><path stroke-width="8" d="M99.1 567.3h.01M126.1 568.7h.01M131.2 541.9h.01M112.5 566.7h.01M143.1 568.8h.01M156.8 571.4h.01M133.7 604.4h.01"/><path stroke-width="5" d="M120.6 548.3h.01M128.8 546h.01M133.9 549.8h.01M124.4 558.5h.01M144.6 553.1h.01M136.9 554.8h.01M126.7 565.4h.01M117.5 557.9h.01M152.6 564.9h.01M116 549.5h.01M137.4 543.7h.01M143.1 544.4h.01M130.9 536.8h.01M143 557.3h.01M121.4 568.6h.01M147.1 559.3h.01M137 568h.01M103.8 540h.01M139.5 539h.01M105.9 556.1h.01M99 569.8h.01M136.3 578h.01M108.3 561.7h.01M128.5 569.9h.01M153.2 543.1h.01M126.7 586.6h.01M145.3 579.6h.01M158.4 560.5h.01M109.4 570.4h.01M165.6 568.1h.01M159 572.6h.01M116 567.8h.01M111.5 557.4h.01M131.1 578.2h.01M129.5 550.3h.01M140.9 573.1h.01M148.6 574.1h.01M152 528.2h.01M123.9 577.8h.01M130 557.9h.01M124 542.9h.01M139 530h.01M122.4 590.1h.01M128.3 563.3h.01M108 539.4h.01M135.1 555.4h.01M149 552.4h.01M125.6 552.5h.01M117.5 562.3h.01M132.6 565.7h.01M139.5 549.4h.01M163.6 547.7h.01M92.5 562.1h.01M116 572.9h.01M140.5 579.3h.01M157.5 566.2h.01"/><path stroke-width="6.2" d="M129.5 556.9h.01M138.9 548.3h.01M154.4 554.1h.01M122.7 553h.01M102.4 552.8h.01M137.7 560.2h.01M144.6 565.8h.01M153.6 572.9h.01"/><path stroke-width="5" d="M131.9 558.4h.01M145.8 553.8h.01M146.8 546.4h.01M134.2 546.2h.01M143.1 542.3h.01M128.2 546.1h.01M123.6 556.2h.01M122.7 561.6h.01M136 550.7h.01M131.5 550.6h.01M123.4 548.3h.01M152.4 564.4h.01M127.9 555.9h.01M136.7 567.4h.01M124.1 565.8h.01M136.3 555.3h.01M139 539.2h.01M101.9 552.6h.01M111.1 563.7h.01M107.5 554.5h.01M146.8 560.3h.01M100.7 557.1h.01M116.2 550.4h.01M141.2 552.7h.01M115.8 554.9h.01M133.6 575.6h.01M157 552.5h.01M127.3 572.9h.01M116.7 565.9h.01M141.8 548.1h.01M127.8 586.8h.01M118.3 570.6h.01M140.2 534h.01M155 544.8h.01M134.9 536.5h.01M110.1 569.1h.01M135.9 550.4h.01M118.4 544.8h.01M156 560.8h.01M157.9 557h.01M150 572.1h.01M121.9 575.4h.01M141.1 563.7h.01M133 559.3h.01M103.5 542h.01M156.2 572.8h.01M162.6 565.6h.01M145.1 565.4h.01M129.3 565.4h.01"/><path stroke-width="6.2" d="M141.7 558h.01M144.2 575.2h.01"/><path stroke-width="8" d="M130.8 564.8h.01"/><path stroke-width="5" d="M145.3 546.5h.01M129.8 546h.01M129.7 560.1h.01M126 562.5h.01M138.5 550.8h.01M129.4 554.1h.01M134.7 553.3h.01M130.5 565h.01M141.9 542.2h.01M137.9 565.7h.01M122.6 551.9h.01M145.5 551.2h.01M137 575.2h.01M153.6 566.2h.01M133.5 543.5h.01M116.7 550.3h.01M111.9 554.5h.01M140.3 554.8h.01M154 553.9h.01M126.2 571.4h.01M138.9 559h.01M145.3 573.6h.01M136.5 538.5h.01M143.7 558.3h.01M124.8 584.3h.01M148.8 564.8h.01M125.6 557.9h.01M133.9 558.7h.01M100.8 552.9h.01M120.8 544.7h.01M126.6 575.6h.01M133.7 553.9h.01M113.7 566.3h.01M155.1 558.1h.01M135.1 569.4h.01M131.2 578.4h.01M141.9 563.6h.01M162.4 565.3h.01M110 564.1h.01M115.9 556.7h.01"/><path stroke-width="6.2" d="M105.1 558h.01M121.2 557.8h.01M122.5 566.4h.01"/><path stroke-width="8" d="M107.3 569.9h.01"/><path stroke-width="5" d="M130.4 548.5h.01M145.4 542.5h.01M126.2 554.1h.01M129.4 568.5h.01M138.9 550.4h.01M136.2 556.3h.01M132.4 552.6h.01M105.5 557.6h.01M124.6 549.7h.01M128.3 543.6h.01M157.4 551.7h.01M141.2 560.6h.01M135.2 542.7h.01M144.9 552.7h.01M134.8 551.7h.01M139.4 569h.01M109.4 559.8h.01M154 563.5h.01M123.6 565.1h.01M147.4 556.7h.01M120.7 557.8h.01M119.5 547.9h.01M125.4 571.6h.01M140.9 544.5h.01M100.4 553.4h.01M117.6 566.5h.01M146.8 572.1h.01M133.7 576.8h.01M134.8 556.5h.01M139.5 554.9h.01M113 548.9h.01"/><path stroke-width="8" d="M127.7 560.4h.01M135.5 562.9h.01"/><path stroke-width="5" d="M126.9 557.8h.01M126.5 563.8h.01M137.2 549.8h.01M128.4 567.6h.01M130.5 544.9h.01M142 541.8h.01M124.1 554.7h.01M131.3 551.1h.01M139 558.6h.01M147.5 551.1h.01M142.3 550.1h.01M138.6 568h.01M108.4 556.6h.01M124.6 549.7h.01M116.4 549h.01M138.1 552.4h.01M120.6 545.4h.01M150.5 561.8h.01M128.6 572.9h.01M133.7 553h.01"/><path stroke-width="6.2" d="M132.6 557.9h.01M144.5 545.8h.01M135.3 545h.01M102.4 558.6h.01"/><path stroke-width="8" d="M142.9 564.2h.01"/><path stroke-width="5" d="M126.6 556h.01M131.3 556.8h.01M135.9 552.4h.01M140.3 552.5h.01M122.8 558.4h.01M142.8 544h.01M129.2 561.4h.01M138.5 556.4h.01M143.4 560.7h.01M108.5 557.3h.01M136.6 546.3h.01M126.2 565.8h.01M146.5 551.2h.01M139.1 565h.01M120.6 547.9h.01M130.6 552h.01M131.7 556.2h.01"/><path stroke-width="8" d="M131.8 542.1h.01"/><path stroke-width="5" d="M122.8 562.1h.01M141.8 549.5h.01M136.3 553.4h.01M130.2 555.5h.01M139 542.4h.01M131.3 547.1h.01M144.4 540.6h.01M132.2 554.3h.01M125.6 567.4h.01M135.9 558.6h.01M137.8 563.5h.01M141.3 566.1h.01M124.9 557.9h.01M146.9 549.8h.01M117.6 546.7h.01"/><path stroke-width="6.2" d="M129.4 560.8h.01M125.7 553.4h.01M107.7 554.9h.01M139.4 554.9h.01"/><path stroke-width="5" d="M127 563.2h.01M127.7 558.4h.01M123.9 552.8h.01M134.7 549.7h.01M142.8 553.2h.01M132.2 561.2h.01M137.3 562.1h.01M141.7 558.8h.01M144.3 543h.01"/><path stroke-width="8" d="M138.4 549.2h.01M136.7 556h.01"/><path stroke-width="5" d="M128.8 562.8h.01M131.9 556.7h.01M135.1 550h.01M126.8 557.4h.01M139.2 552.3h.01M136.3 557.1h.01M124.2 552.8h.01M123 561.6h.01M142.2 548.8h.01M139.6 564.7h.01"/></g>
<g fill="none" stroke="#e91e63" stroke-opacity="0.3" stroke-linecap="round"><path stroke-width="5" d="M155.3 597.6h.01M156.9 578.4h.01M166.8 577.6h.01M129 563.4h.01M150.9 560.5h.01M138.4 585h.01M150.4 565.9h.01M143.7 566.7h.01M122.1 575.4h.01M161.9 576.3h.01M139.6 571.2h.01M180.2 570.2h.01M148.1 582.6h.01M153 584.1h.01M166.4 584.2h.01M133.2 578.9h.01M157.5 586.2h.01M163.3 567.5h.01M161.8 594.3h.01M146.7 587.6h.01M173.9 577.8h.01M139.3 594.6h.01M178.5 582.8h.01M155.4 591.9h.01M161.1 580.8h.01M178.1 575.3h.01M162.1 589.7h.01M154.6 568.4h.01M166.6 558.1h.01M168.4 601h.01M172.6 590.7h.01M149.8 578.7h.01M192.6 586.7h.01M171.5 548.6h.01M143 580.6h.01M135.3 590.1h.01M132.5 585.8h.01M129.8 582.5h.01M153.6 573.8h.01M138.5 564.9h.01M154.1 574.9h.01M188.5 562.4h.01M158.8 563.3h.01M127.5 574.4h.01M153.2 581.5h.01M148.8 577.8h.01M168.3 568.5h.01M171.1 583.2h.01M158.3 554.5h.01M173.9 555.7h.01M184.2 590.1h.01"/><path stroke-width="6.2" d="M165.9 572.7h.01M159.4 570.9h.01M138.9 577h.01M147.6 572.4h.01M145.2 554.6h.01M186.1 575.7h.01M150.4 595.8h.01M182.1 565h.01"/><path stroke-width="8" d="M133.2 572.8h.01M111.9 578.7h.01"/><path stroke-width="5" d="M153.7 577.6h.01M158.4 566.9h.01M167.8 571.3h.01M157.8 573.9h.01M139.4 585.9h.01M159.4 579.4h.01M148.9 564.9h.01M166.6 588h.01M164.4 573.7h.01M139.7 568.4h.01M148.8 569.4h.01M157.7 584.7h.01M132.2 576.4h.01M168.8 579.2h.01M130.5 571.7h.01M163.5 592.9h.01M163 568.7h.01M143.6 570.3h.01M180.9 585h.01M149 578.2h.01M172.8 592.5h.01M159.8 590.3h.01M152.2 572.8h.01M133.7 591.2h.01M141.3 594.4h.01M155.1 577.5h.01M153.6 561.6h.01M164.2 582.9h.01M163.9 577.5h.01M154.1 578.5h.01M159 580.4h.01M146 596.5h.01M150.5 574.1h.01"/><path stroke-width="6.2" d="M151.5 595.6h.01M143.7 575.7h.01M152.3 584.1h.01M147.1 589.4h.01M138.5 574.8h.01M148 558.3h.01M144.9 583.2h.01M183.7 577.3h.01"/><path stroke-width="8" d="M133.8 584.9h.01M178.1 567.6h.01"/><path stroke-width="5" d="M153.8 595.9h.01M162.3 577.9h.01M152.7 568.2h.01M156.2 572.6h.01M151.8 586.8h.01M149.2 570.9h.01M167.9 571.5h.01M143.7 588h.01M139.9 575.3h.01M148.3 576.9h.01M158.8 583.2h.01M135.4 571.5h.01M167.2 585.2h.01M148.5 594.9h.01M165.3 593.5h.01M129.4 579.1h.01M144.9 563.6h.01M143.5 569.4h.01M172.6 580.5h.01M134.6 578.1h.01M164.7 566.1h.01M146.4 558.9h.01M159.3 575.6h.01M152.1 580.2h.01M130.8 571.4h.01M159.6 593.1h.01M169.8 576.5h.01M159.2 569.5h.01M179.1 572.6h.01M155.7 577.3h.01M163.8 575.2h.01"/><path stroke-width="6.2" d="M151.1 561.1h.01M139.8 584h.01"/><path stroke-width="8" d="M154.1 579.2h.01"/><path stroke-width="5" d="M153.6 583.8h.01M160.4 576.2h.01M160.1 581.2h.01M151.2 566.8h.01M152.4 594.3h.01M165 579h.01M151.4 561.6h.01M147.5 576h.01M155 569.3h.01M140.7 573.6h.01M150.4 587.4h.01M163.1 568.3h.01M147.9 570.1h.01M134.6 580.2h.01M155.8 576.9h.01M144.7 564.7h.01M145.4 584.7h.01M156 571.6h.01"/><path stroke-width="6.2" d="M148.3 580.7h.01M167.8 566.8h.01M170 588h.01"/><path stroke-width="8" d="M155 577.4h.01"/><path stroke-width="5" d="M153.4 581.7h.01M157.6 578.5h.01M165.3 579.1h.01M151.1 569.2h.01M146.1 576.1h.01M150.1 574.2h.01M147 567.3h.01M155.8 572.1h.01M148.2 580.5h.01M141.8 575.4h.01M154.9 565.2h.01M166.1 567.9h.01M138.2 579h.01M152.8 578.4h.01M151 586.8h.01M136.9 573.4h.01"/><path stroke-width="6.2" d="M152.2 593.2h.01M158.4 576.7h.01M161.7 569.8h.01"/><path stroke-width="5" d="M150.6 580.5h.01M155.3 584.6h.01M155.2 579.1h.01M161.5 579.6h.01M157.7 574.4h.01M151.3 570.6h.01M148.4 574.3h.01M156.8 569.9h.01M138 575.2h.01M146.3 580.1h.01M141.6 571.8h.01M151.7 576h.01M165 569.4h.01"/><path stroke-width="6.2" d="M166.7 577.9h.01"/><path stroke-width="5" d="M160.4 577.2h.01M151.3 582.1h.01M151.4 570.2h.01M148.5 575.5h.01M155.7 581.1h.01M156.3 575.4h.01M143.6 571.6h.01M155.8 569.9h.01M155.8 580.8h.01M140.8 575.3h.01M164.8 578.1h.01M160 577.8h.01M145.6 580h.01M163.3 566.3h.01"/><path stroke-width="5" d="M157.7 580.3h.01M160.1 576.6h.01M150.9 574.5h.01M155.7 574.4h.01M152.7 569.9h.01M145.8 578.5h.01M152 581.7h.01M167.6 578.6h.01"/><path stroke-width="8" d="M151.3 581.4h.01"/><path stroke-width="5" d="M151.7 573.9h.01M152.2 579.5h.01M156.3 581.8h.01M151.4 584.5h.01M154.4 570.1h.01"/><path stroke-width="6.2" d="M149.5 579.7h.01"/><path stroke-width="8" d="M161.1 576.4h.01"/><path stroke-width="5" d="M147.5 574.1h.01M152.2 575.8h.01M153.4 580.7h.01M157.7 581.6h.01M166.6 576.9h.01"/><path stroke-width="6.2" d="M162.2 579h.01"/><path stroke-width="8" d="M158.2 574.1h.01"/></g>
<circle cx="335" cy="466" r="2.5" fill="#1fbcd2" fill-opacity=".35"/><circle cx="362" cy="467" r="3" fill="#2a80b9" fill-opacity=".35"/><circle cx="159" cy="443.5" r="3.6" fill="#1fbcd2" fill-opacity=".6"/>
<g fill="none" stroke-linecap="round"><path stroke="#9b59b6" stroke-opacity="0.27" stroke-width="5" d="M231.5 575.4h.01M250 601.7h.01M235.1 597.7h.01M203.3 594.8h.01M218.1 592.5h.01M212.9 599.9h.01M208.9 603.5h.01M244 590.6h.01M225.8 602.3h.01M229.3 629.7h.01M240.8 587.7h.01M266.6 580.2h.01M225.5 615.3h.01M224.3 588h.01M228.3 591.7h.01M210.5 615.7h.01M233.5 602h.01M236.2 593.3h.01M253.1 572h.01M236.4 566.4h.01M233.4 623h.01M226 621.4h.01M209.9 607.6h.01M208.6 567.1h.01M221.6 596.7h.01M231.1 596.3h.01M238.7 607.9h.01M240.4 602.8h.01M245.5 620.1h.01M240.4 612.8h.01M237.3 625.8h.01M265.9 591.5h.01M235.6 583.4h.01M263.2 604.5h.01M248.1 582.4h.01M213.3 586.8h.01M229.6 584.8h.01M237.8 579.7h.01M214.1 622.7h.01M219.5 582.5h.01M259.8 594.1h.01M268.7 612.1h.01M231.7 617.7h.01M190.2 569h.01M218.6 612.9h.01M244.5 605.8h.01M212 580.1h.01M257.6 584.3h.01M229.6 604.3h.01M215.6 604.4h.01M224.3 625.6h.01M251.5 589.1h.01M235.2 588.3h.01M219 572.9h.01M247.9 595.6h.01M243.3 580.7h.01M236.1 571.5h.01M204 610.4h.01M218.2 627.4h.01M240.6 595.8h.01M247 642.2h.01M246.3 610.8h.01M217.2 577h.01M233.3 589.8h.01M259 602.9h.01M197.1 589h.01M227.7 592h.01M251 558.4h.01M256.5 616.7h.01M263.4 583.2h.01M233.6 631h.01M233.8 562.3h.01M273 608.4h.01M218.2 617.6h.01M222.1 605.7h.01M228.2 554.7h.01M254.4 607.5h.01M207.8 583.1h.01M209 633.8h.01M241 620.6h.01M241.3 568.6h.01M208.6 593.1h.01M224.6 568.3h.01M231.4 580.4h.01M242 629.3h.01M244.1 591.7h.01M272.4 625.1h.01M230.6 613.2h.01M253.8 599.7h.01M230.3 596.2h.01M255.3 592.3h.01M235.6 613h.01M220.5 557.3h.01M245.2 557.8h.01M265.4 625.2h.01M257.7 575h.01M222.1 564.7h.01M237.2 617.4h.01M254 632.5h.01M223 636.9h.01M240.6 586.1h.01M245.1 598.9h.01M225.9 597.1h.01M214.6 630.8h.01M240.2 596.8h.01"/><path stroke="#9b59b6" stroke-opacity="0.27" stroke-width="6.2" d="M232.9 608.9h.01M264.6 619.9h.01M261.9 612.6h.01M246.2 571.9h.01M229.5 568.3h.01M205.1 554.2h.01M254.5 622.4h.01M271.8 601.8h.01M247 633h.01M250.7 637h.01M252.4 578.3h.01M209.3 620.8h.01"/><path stroke="#9b59b6" stroke-opacity="0.27" stroke-width="8" d="M224.7 579.5h.01"/><path stroke="#2a80b9" stroke-opacity="0.28" stroke-width="5" d="M282 585h.01M293.5 593.4h.01M279.5 579.3h.01M266.9 558.6h.01M288.4 585.4h.01M343.8 534h.01M272.2 567.8h.01M273.8 578.6h.01M285.2 604.6h.01M266 577.8h.01M277.6 570.4h.01M275.7 604.8h.01M316.5 569.1h.01M260.9 570.2h.01M303.5 547.7h.01M291.7 564.1h.01M270.5 555.4h.01M273.6 613.9h.01M291.4 604.4h.01M223.6 561.4h.01M302.7 582.8h.01M274.6 591.9h.01M219.9 565.4h.01M270.3 596.1h.01M316.7 578.3h.01M306 594.3h.01M286.5 626.7h.01M298 615.8h.01M296.9 588.2h.01M264 553.2h.01M282.1 549.3h.01M325.9 572.3h.01M277.1 534h.01M270.3 587.3h.01M339.4 584.5h.01M299.2 556.7h.01M311.4 555h.01M268.5 601.7h.01M285 588.6h.01M261.4 606.6h.01M275.5 597.6h.01M271.9 632.6h.01M267.8 612.1h.01M305 568.7h.01M256 570h.01M276.5 558.2h.01M336 567.7h.01M265 633.5h.01M283.6 555.2h.01M280.8 561.2h.01M283.8 599.3h.01M287.2 593.7h.01M348.7 557.4h.01M275.9 553.8h.01M281 620.5h.01M276.5 585.6h.01M287.9 579.2h.01M270.4 572.1h.01M298.1 577.6h.01M282.2 592.8h.01M234 584h.01M290 636.4h.01M321.4 570.7h.01M288.8 541.3h.01M257.4 622.5h.01M284.1 565.4h.01M318.3 584.5h.01M326.1 611.5h.01M338.2 589.2h.01M276.4 609h.01M226.7 567h.01M298.3 608.9h.01M275.5 538.9h.01M289.7 614.3h.01M293.7 568.4h.01M303.9 576.6h.01M272.4 533.4h.01M254.8 563.5h.01M332.7 575.4h.01M303.5 507h.01M313.4 585.1h.01M290.9 590.1h.01M309.1 546.4h.01M320.7 555.1h.01M243.7 592.2h.01M341.6 568.3h.01M240.7 553.1h.01M304.3 563.1h.01M293.2 559.8h.01M302.1 627h.01M282.9 641.6h.01M317.7 546.5h.01M282.9 613.1h.01M333.7 538h.01M285.1 560h.01M317.1 617.2h.01M226.2 550.7h.01M308.8 578.3h.01M264.1 626.2h.01M291 625.1h.01M246.4 619.7h.01M293.5 577.4h.01M290 600h.01M363.5 576.4h.01M305.1 551.9h.01M338 573h.01M340.1 554.3h.01M294.9 621.9h.01M371.6 584.1h.01M303.9 557.6h.01M258.7 580.2h.01M311.9 565.6h.01M340.7 592.8h.01M301.9 635h.01M286.7 617.9h.01M333.6 559.7h.01M313.1 597.3h.01M347.4 553.2h.01M310.1 618.3h.01M301.6 601.1h.01M328.2 582.6h.01M286.3 544.9h.01M315.1 513.9h.01M332.6 551h.01M273.1 528.9h.01M300.5 593.2h.01M284.8 576.1h.01M278 616.6h.01M304.9 631h.01M314.3 523.4h.01M264.9 595.7h.01M327.9 531.7h.01M251.7 557.4h.01M296.5 603.4h.01M278.3 580.9h.01M278.2 527.9h.01M257.7 557.5h.01M272.1 546.8h.01M308.5 541.4h.01M278.6 520h.01M312.5 590.2h.01M256.9 596.2h.01M285.3 581.8h.01M323.4 576h.01M238.3 590.9h.01M263.7 638.9h.01M269.6 606.8h.01M308 644.4h.01M251.9 627.8h.01M282.8 527h.01M248.4 517.3h.01M280.2 626.5h.01M264.5 524.9h.01M290.3 551.9h.01M281.3 630.8h.01M287.3 610.5h.01M381.6 549h.01M325.4 565.4h.01M262.5 582.1h.01M299.5 563h.01M236.8 564.6h.01M282.1 601.6h.01M270.1 540.1h.01M278.2 634h.01M290.7 532.4h.01M271 563.7h.01M250.9 536.2h.01M241.2 576.9h.01M309.8 624.4h.01M283.9 519h.01M316.1 541.7h.01M272.1 618h.01M260.6 561.3h.01M261.7 642.9h.01M323.7 547.5h.01M288 556.5h.01M249.3 633.2h.01M261.9 611h.01M278 588h.01M329 559.2h.01M326.7 552h.01M275 621.4h.01M314 574.3h.01M231.2 555.3h.01M264.6 565.8h.01M280.3 597.7h.01M266.3 619.3h.01M244 610.2h.01M302.7 644.9h.01M354.1 573.3h.01"/><path stroke="#2a80b9" stroke-opacity="0.28" stroke-width="6.2" d="M318.9 564.9h.01M327.7 544.7h.01M248.7 562.5h.01M242.7 557.4h.01M296.6 627h.01M254.1 543.2h.01M294.5 582.2h.01M252.1 583.2h.01M265.1 544.1h.01M259.8 518.3h.01M338 546.8h.01M257.2 552.6h.01M353.7 550.6h.01M299.8 535.7h.01"/><path stroke="#2a80b9" stroke-opacity="0.28" stroke-width="8" d="M308.1 534.3h.01M289.4 571.9h.01M320.7 590.9h.01M292.1 546.6h.01M291.5 630.9h.01M317.4 530.5h.01"/><path stroke="#c83a2c" stroke-opacity="0.27" stroke-width="5" d="M233 513.1h.01M245.7 572.5h.01M268 560.7h.01M288.2 527.4h.01M266.8 509h.01M246.7 489.2h.01M284.3 543.9h.01M224.9 487h.01M228.8 469.8h.01M285.1 478.2h.01M296.7 537.2h.01M230.9 539.2h.01M293.1 529.9h.01M218.9 477.9h.01M255.3 505.4h.01M294.2 576.5h.01M263.3 545.3h.01M250.4 554.2h.01M214.6 518.6h.01M255.5 556.5h.01M280.7 503h.01M273.1 506.4h.01M244.9 522.2h.01M275.9 527h.01M287.4 512.5h.01M266.9 482.2h.01M298.3 519.9h.01M309.5 514.8h.01M271.3 491.2h.01M288.8 573.5h.01M275.7 537.9h.01M298.3 515.1h.01M294 520.6h.01M271 543.7h.01M246.6 546.3h.01M261.7 540.7h.01M244.3 504.7h.01M259.5 562h.01M288 582h.01M300.4 561.6h.01M286.8 533.3h.01M268.5 503.6h.01M266.6 450.8h.01M278.2 574.1h.01M318.8 511.4h.01M300 547h.01M277.7 531.3h.01M274.6 580.3h.01M253.6 519.1h.01M344.5 578.6h.01M291.5 508.8h.01M303.3 522.4h.01M253.5 497.5h.01M291.3 534.1h.01M277.8 499.6h.01M257.6 544.4h.01M285.3 499.3h.01M297.1 502.9h.01M231.1 476.6h.01M231.2 482.8h.01M252.3 539.8h.01M256.4 525.3h.01M320.9 501h.01M257.9 515.1h.01M261.7 521.1h.01M263.4 607.4h.01M268.2 532.8h.01M299.9 525.4h.01M307.7 538.7h.01M283.1 568.3h.01M283 589.8h.01M274.8 512.4h.01M257 569h.01M319.2 534h.01M246.3 500.2h.01M263.3 485.1h.01M295.2 542.9h.01M262.1 588.2h.01M270 525.4h.01M267.5 515.8h.01M287.4 483.6h.01M263 532.8h.01M218.8 553.8h.01M215.8 491.8h.01M311.9 578.9h.01M240.4 528.1h.01M280.7 481.9h.01M224.7 513.7h.01M242.4 539.5h.01M312.6 499.5h.01M261.4 499.2h.01M296.6 559.3h.01M240.2 461.3h.01M286.3 522.5h.01M219.8 512.8h.01M229.6 497.5h.01M244.9 577.2h.01M237.3 494.2h.01M256.3 491.6h.01M339 527.8h.01M255 532.5h.01M279.4 516.2h.01M306.5 496.2h.01M285.3 516.8h.01M304.8 529.6h.01M304.1 508.4h.01M291.6 524.5h.01M261.8 577.9h.01M283 539.2h.01M310.1 545.2h.01M263 511.4h.01M276.8 522.5h.01M295.2 511.8h.01M314 536.7h.01M262.9 572.4h.01M266.2 539.4h.01M224.2 477.4h.01M207.8 498.5h.01M289.1 548.3h.01M313.9 574.9h.01M251.3 487h.01M309.4 550.4h.01M303.7 558.8h.01M303.8 586.6h.01M300 491.6h.01M264.7 492.8h.01M272.2 518.7h.01M286.1 505h.01M210.6 522.1h.01M288.1 494.1h.01M245.6 511h.01M286.4 556.5h.01M280.9 534.8h.01M234.7 555.8h.01M254.7 511h.01M262.9 479.7h.01M231.6 506.1h.01M252.1 491.5h.01M245.9 478.3h.01M258 472.2h.01M332.8 547.5h.01M266.7 499.5h.01M302.3 575.6h.01M319.1 523.1h.01M319.5 570.7h.01M235.8 544h.01M256.2 585h.01M307.3 618.3h.01M283.9 560.4h.01M252.5 566.1h.01M272.9 501.5h.01M310 519.1h.01M270.8 510.8h.01M222.4 517.4h.01M230.2 492.6h.01M241.8 513h.01M296 553.4h.01M244.8 551.4h.01M286.2 607.5h.01M316.8 584.2h.01M247.8 564.7h.01M281.3 450.8h.01M242.9 562.1h.01M302.4 542.3h.01M335.7 520.8h.01M291.4 516.9h.01M241.1 489h.01M228.7 527.2h.01M220 539.2h.01M244.3 493.7h.01M267.4 566.8h.01M272 604h.01M282.2 581.2h.01M281.1 526.4h.01M332.6 530h.01M268.6 521.4h.01M237.2 484.8h.01M264.9 474.1h.01M267.7 546.5h.01M228.4 566.7h.01M286.2 462.6h.01M323.9 544.8h.01M254.4 551.3h.01M305.7 503.4h.01M302.7 570.4h.01M231.6 460.3h.01M252.1 464.3h.01M224.3 497.7h.01M251.6 522.9h.01M273.3 564.9h.01M280 463.4h.01M259 450.2h.01M277.9 564.6h.01M254.1 574.4h.01M294.8 568.6h.01M253.5 561.4h.01M200 494.3h.01M275.2 484.3h.01M350.2 526.4h.01M289.9 542.9h.01M243.8 455.4h.01M270.5 496.7h.01M278.4 530.8h.01M232.7 529.8h.01M277.8 594.6h.01M225.2 504h.01M282.6 520.2h.01M271.1 537.3h.01M269.1 556.2h.01M281.2 534.5h.01M274.4 532.6h.01M260.5 455.3h.01M328.2 566.8h.01M259.3 461.9h.01M257.2 537.6h.01M308.9 507.5h.01M228.5 509.1h.01M284.9 531.5h.01M287.8 589h.01"/><path stroke="#c83a2c" stroke-opacity="0.27" stroke-width="6.2" d="M273.1 476.6h.01M273.1 571h.01M283 550.3h.01M280.9 511.3h.01M291.3 475.9h.01M274.2 554.1h.01M264.8 526.4h.01M273.4 589.2h.01M266.7 551.2h.01M277.7 543.6h.01M244.1 557.2h.01M238 504.6h.01M320.5 600.4h.01M312.9 562.2h.01M314.4 507.2h.01M190.6 508.7h.01M294.2 582.7h.01M258.2 481.1h.01M250.7 504h.01M255.3 454.7h.01M315.5 480.3h.01M232.7 522.1h.01M318.2 541.9h.01"/><path stroke="#c83a2c" stroke-opacity="0.27" stroke-width="8" d="M246.4 432.2h.01M240.8 534.2h.01M314 489.9h.01M329.1 585.2h.01M245.8 445.1h.01"/><path stroke="#9b59b6" stroke-opacity="0.27" stroke-width="5" d="M231.7 573.8h.01M241.9 589h.01M220.4 593.5h.01M225.5 590.5h.01M216.4 589.6h.01M226.3 586h.01M239.6 583.9h.01M233.3 613.1h.01M238.8 593.2h.01M260.6 601.4h.01M214.2 626h.01M214.7 596h.01M243.6 614.8h.01M227.6 600.8h.01M222.1 616.6h.01M246.5 599.9h.01M214 614.8h.01M260.8 611.9h.01M237.7 610.3h.01M229.3 631.7h.01M222.2 600.2h.01M248.6 605.7h.01M225.8 605.3h.01M230.8 582h.01M248.9 584.7h.01M236.7 577.3h.01M247.3 590h.01M207.9 580.2h.01M223.9 576.5h.01M221.9 585.5h.01M211.9 599.6h.01M242.7 601.9h.01M218.5 582.5h.01M238.6 615.3h.01M255.2 584.5h.01M213 609.7h.01M219.4 570h.01M202.6 596.2h.01M242.8 623.3h.01M207.1 612.5h.01M232.8 592.7h.01M226.7 591.7h.01M228.6 578.1h.01M248 572.3h.01M248.2 611h.01M212.8 578.7h.01M212.3 583.2h.01M230.9 607h.01M226.2 570.9h.01M243.9 594.1h.01M207.5 596.2h.01M255.1 590.1h.01M234.6 597h.01M254.6 602.1h.01M262.3 622.9h.01M243.6 629.6h.01M210.2 622.1h.01M224.4 595.8h.01M239.7 566.9h.01M274.9 609.2h.01M237.4 589h.01M270.9 603h.01M236.4 570.6h.01M253.5 610.7h.01M244.4 607h.01M230.1 596.4h.01M239.4 594.5h.01M223.7 609.5h.01M233.3 563.9h.01M256.1 620.4h.01"/><path stroke="#9b59b6" stroke-opacity="0.27" stroke-width="6.2" d="M233.1 586.6h.01M233.3 602.7h.01M243 579.1h.01M227.1 626.4h.01M219 605.6h.01M232.4 592.1h.01M232.3 587.9h.01M264.5 577.9h.01M267.9 609.4h.01"/><path stroke="#9b59b6" stroke-opacity="0.27" stroke-width="8" d="M233.2 594.2h.01M232 619.2h.01M251.7 579.5h.01"/><path stroke="#2a80b9" stroke-opacity="0.28" stroke-width="5" d="M280.2 583.3h.01M285.3 586h.01M294.2 596.3h.01M277.8 592h.01M290.4 607h.01M271.4 601.9h.01M274.3 580.1h.01M276 560.7h.01M274.7 567.3h.01M299.5 554.6h.01M286.5 594h.01M268.5 584.5h.01M303.8 545.8h.01M286.4 580.4h.01M307.6 567.7h.01M269.1 572.6h.01M318 564.2h.01M287.4 600.5h.01M304.9 581.4h.01M277.3 620h.01M262 577.6h.01M286.6 616.8h.01M301 576.4h.01M284.8 604.7h.01M316.4 582h.01M293.4 574.4h.01M268.6 559.4h.01M272.6 606.4h.01M309.1 592.4h.01M252.6 563.6h.01M280.8 596h.01M309.5 584.9h.01M298 579.8h.01M306.2 532.5h.01M273 611.1h.01M298.7 589.3h.01M264.3 554h.01M293.4 567.3h.01M303.3 565.8h.01M287.5 567.7h.01M252.2 584.9h.01M286.3 572.4h.01M268.6 553.4h.01M299.1 606.4h.01M278.9 602.9h.01M308.2 548.4h.01M338.5 556h.01M258.2 608.6h.01M277.3 607.8h.01M304 537h.01M273.1 597.8h.01M273.8 571.9h.01M233.9 587.8h.01M291.5 621h.01M293.4 625.1h.01M279.5 555.3h.01M298.7 560h.01M344 552.6h.01M285.1 610.6h.01M290.2 611.4h.01M292.3 556.5h.01M289 590.3h.01M345.5 537.6h.01M262.1 542.8h.01M282.8 620.6h.01M323.9 610h.01M230.4 568.7h.01M306.2 562h.01M282.8 552.4h.01M298.5 619.8h.01M244.9 555.8h.01M266.7 577.7h.01M294.1 562.5h.01M310.6 580h.01M305.4 599.8h.01M320.5 586.1h.01M255.9 566.4h.01M258.2 572.9h.01M304.2 591.3h.01M332.1 571.8h.01M271.7 617.6h.01M300.5 615.2h.01M284.7 589.9h.01M294.3 542.8h.01M308.4 574.7h.01M290 630.2h.01M292.7 635h.01M274.5 550.8h.01M308.8 632.5h.01M323.3 556.4h.01M280 568.1h.01M290.3 548.5h.01M266.7 544.1h.01M300.6 549.7h.01M329 578.7h.01M328.4 583.2h.01M289.1 542.7h.01M280.9 578.5h.01M318.5 557.7h.01M266.9 604.3h.01M265 612.9h.01M306.6 540.7h.01M306.7 553.5h.01M282.5 545.8h.01M353.5 546.5h.01M320.6 595.2h.01M236.2 594.4h.01M330 550.7h.01M262.1 585.8h.01M283.5 603.2h.01M299.4 644.9h.01M324.6 567.5h.01M282 597.4h.01"/><path stroke="#2a80b9" stroke-opacity="0.28" stroke-width="6.2" d="M277 614.7h.01M272.1 590.4h.01M267.1 596h.01M340.1 567.1h.01M322.5 573.6h.01M324.7 592.2h.01M285.5 563.1h.01M280.2 586.9h.01M283.1 627.7h.01M334.4 539.3h.01M279.2 634.8h.01M303.3 557.6h.01M315.8 546.5h.01M271.9 630.1h.01M273.6 536.5h.01M241.3 563.8h.01"/><path stroke="#2a80b9" stroke-opacity="0.28" stroke-width="8" d="M293.2 585.5h.01M281.1 531.8h.01"/><path stroke="#c83a2c" stroke-opacity="0.27" stroke-width="5" d="M283.4 547.9h.01M274.6 502.5h.01M289.9 530.5h.01M273.6 524.6h.01M295.9 513.8h.01M269.9 510.7h.01M287.3 511.2h.01M284.4 531.5h.01M273.2 529.2h.01M278.8 505.1h.01M256.9 504.1h.01M260.4 540.5h.01M259.6 512.4h.01M294.9 521.6h.01M267.1 533.2h.01M294.2 533.1h.01M258.2 547.5h.01M301.7 514.5h.01M274.5 545.9h.01M308.9 518.8h.01M303.1 544.2h.01M281.6 543.2h.01M267.8 484.7h.01M266.2 610.3h.01M262.8 588.8h.01M246.3 521.8h.01M285.9 524.8h.01M262.2 500.3h.01M235 514.4h.01M244 505.8h.01M256.8 497.5h.01M275.4 570.1h.01M248.1 487.3h.01M342.7 574.8h.01M281.4 567.6h.01M282.2 522.4h.01M318.3 511.6h.01M266.8 548.6h.01M263.1 535.4h.01M293.9 503.8h.01M296.6 562.4h.01M299 528.1h.01M270.7 551.1h.01M284.3 515.7h.01M265.5 509.2h.01M234.1 474.4h.01M228.4 482.3h.01M256.4 530.8h.01M253.4 516.2h.01M231.5 541.2h.01M285.2 538.6h.01M252.8 538h.01M239.9 540.1h.01M266.9 519.5h.01M274 512.7h.01M287.2 579h.01M273.9 492.8h.01M245.9 533.1h.01M269.3 525.7h.01M240.7 528.1h.01M243 553.2h.01M316.7 574.3h.01M280 516.9h.01M292.6 541.6h.01M292.4 507.9h.01M310.3 552.4h.01M269.4 477.3h.01M272.7 507.1h.01M248.5 503.7h.01M226.1 511.2h.01M244.1 499.6h.01M266.5 542.7h.01M236.5 492.2h.01M215 518.4h.01M282.6 485.4h.01M242.1 561.2h.01M277.3 480.5h.01M261.7 573h.01M244.8 578.7h.01M262.5 522.9h.01M228.1 506.8h.01M238.5 506.3h.01M303 519.8h.01M288 556.7h.01M224.8 478.9h.01M305.8 498.9h.01M285.7 565h.01M256.2 526.3h.01M261.7 490.7h.01M235.3 557.5h.01M257.9 518.4h.01M288.9 474.5h.01M271.4 567.1h.01M279.5 509.5h.01M301.3 532h.01M226.6 493.4h.01M315.5 493.9h.01M265.2 561.3h.01M291.1 572.7h.01M320.5 568.3h.01M278 528.4h.01M260.8 527.3h.01M288.1 542.8h.01M278.5 574.9h.01M283.4 474.7h.01M245.4 511.1h.01M272.5 487h.01M274.7 563.8h.01M305.2 526.2h.01M230.5 490.5h.01M263.7 514.4h.01M271.5 497.4h.01M299.6 571.4h.01M292.4 526.3h.01M220.1 474.5h.01M260.8 479.3h.01M256.6 553.8h.01M237 483.2h.01M253.2 508.9h.01M250.5 564.9h.01M279.8 536.1h.01M247.6 552.4h.01M245.7 570h.01M266.9 538.3h.01M265 480.6h.01M279.2 550.1h.01M275.6 535.1h.01M271.4 587.6h.01"/><path stroke="#c83a2c" stroke-opacity="0.27" stroke-width="6.2" d="M276.8 535.7h.01M299.6 558h.01M260 557.8h.01M296.1 548.4h.01M278.8 527.5h.01M270.7 572.8h.01M279.9 498.6h.01M270.7 557.2h.01M299 539.1h.01M272.1 539.2h.01M221.3 516.8h.01M258.3 566.8h.01M259.9 578.6h.01M301.7 579.1h.01M284.8 589.2h.01M289.8 521h.01M287.7 494.4h.01M252.6 560.2h.01M230.3 516.5h.01M279.9 558.7h.01"/><path stroke="#c83a2c" stroke-opacity="0.27" stroke-width="8" d="M268.1 492.4h.01M289.2 488.3h.01M249.4 477.7h.01"/><path stroke="#9b59b6" stroke-opacity="0.27" stroke-width="5" d="M230.6 589.6h.01M228.8 593.7h.01M235.1 593.2h.01M233.4 611.4h.01M218 592.6h.01M241 581.5h.01M233.3 574.6h.01M233.7 582.2h.01M212.3 598.2h.01M223.2 586.4h.01M226.8 603.5h.01M233.7 602.5h.01M223.4 619.1h.01M244.2 612.2h.01M231 615.5h.01M226.3 582.1h.01M228.8 599.4h.01M237.1 586.3h.01M251.4 585.7h.01M247.4 594.1h.01M243.3 585.3h.01M213.8 586.7h.01M238.9 606.6h.01M218.9 581.8h.01M222.2 597.9h.01M230.7 625.3h.01M240.5 615.9h.01M222.7 591.8h.01M221.8 576.3h.01M233.3 607.1h.01M229.1 573.7h.01M232.7 595.9h.01M213.4 617.9h.01M239.7 599.3h.01M225.2 614h.01M221.5 606.1h.01M226.6 589.2h.01M209.2 581.1h.01M251.2 574.4h.01M233.9 590.2h.01M206.9 614.6h.01M256.2 583.7h.01M240.6 590.4h.01M217.5 573.2h.01M230.9 589.8h.01M229.7 584.3h.01M242.2 626.7h.01M212.5 577.3h.01M258.2 609.2h.01M234.4 600.2h.01M254.8 601.2h.01M211.4 614.1h.01M244 603.8h.01M251.1 591.9h.01M246.6 589.5h.01M211.7 607.9h.01M238.9 565h.01M206.9 609.9h.01M236.8 587.2h.01M217 610.9h.01M238.9 576.1h.01"/><path stroke="#9b59b6" stroke-opacity="0.27" stroke-width="6.2" d="M241 590.8h.01M248.8 599.3h.01M206.8 594h.01M244.8 621.2h.01"/><path stroke="#9b59b6" stroke-opacity="0.27" stroke-width="8" d="M229.3 564h.01"/><path stroke="#2a80b9" stroke-opacity="0.28" stroke-width="5" d="M277.8 581.2h.01M279.9 587.2h.01M285.9 585.6h.01M294 607.1h.01M270.9 593.1h.01M292.3 584.3h.01M276.3 568.8h.01M299.3 556.5h.01M273.8 578.2h.01M270.1 603h.01M276.2 591h.01M283.6 596.5h.01M268.2 587.7h.01M307.2 570.8h.01M267.5 580.9h.01M323.6 573h.01M268.6 598.5h.01M273.7 586.8h.01M274.5 604.6h.01M301.2 586.7h.01M307.4 590.9h.01M281.5 591.5h.01M314.4 566.3h.01M276.3 557.6h.01M288.6 560.2h.01M292 564.5h.01M272 610.2h.01M288.2 619.4h.01M281.4 561.2h.01M286.9 607h.01M285.6 601.4h.01M262.8 556h.01M281 621.5h.01M285.6 564.9h.01M262.8 580.1h.01M276.2 597.1h.01M286.4 593.2h.01M305.6 585.2h.01M302.2 566.6h.01M295.7 562h.01M280.4 612.5h.01M265.9 591.7h.01M291 577.8h.01M313.5 583.3h.01M319.8 563.7h.01M250.5 560.6h.01M267 551.5h.01M288.9 597.1h.01M301 617.2h.01M324.4 588.2h.01M305.5 558.6h.01M293.4 621.5h.01M299.1 592.2h.01M287 587.2h.01M318.7 571.4h.01M285.5 614.9h.01M267.8 542.6h.01M283.9 581.7h.01M290.3 552.4h.01M306.3 538h.01M296.1 577.7h.01M273.4 564.9h.01M308.9 595.2h.01M311.1 579.1h.01M292.7 617.2h.01M255.4 566.7h.01M297.4 567.6h.01M301.9 575.3h.01M297.4 619.5h.01M308 575.7h.01M284.5 554.1h.01M264.6 613.9h.01M309.2 556.1h.01M261.1 584.5h.01M321.7 553.6h.01M279.9 608.2h.01M329.6 548.1h.01M296 627.5h.01"/><path stroke="#2a80b9" stroke-opacity="0.28" stroke-width="6.2" d="M291.3 572.6h.01M268.7 560.5h.01M293.5 595.2h.01M292.8 600.6h.01M322 595.9h.01M279 575.5h.01M300.9 605.3h.01M334.1 568.8h.01M301.6 622.8h.01"/><path stroke="#2a80b9" stroke-opacity="0.28" stroke-width="8" d="M285.4 575.3h.01"/><path stroke="#c83a2c" stroke-opacity="0.27" stroke-width="5" d="M277.1 536.8h.01M286.6 513.9h.01M267.4 512.1h.01M259.5 558.5h.01M257.8 505.3h.01M295.4 534.6h.01M294.2 511.6h.01M266.7 531.4h.01M293 520.1h.01M302 518.1h.01M278.8 531h.01M269.6 523.3h.01M296.1 515.7h.01M288.2 534.2h.01M255.1 499.3h.01M286.3 524.6h.01M282.9 521h.01M232.8 511.2h.01M246.3 518.9h.01M285.8 508.9h.01M275.4 544.4h.01M262.4 536.3h.01M284.6 550.4h.01M268.8 547.4h.01M263.9 522h.01M284.5 537.7h.01M303.2 546.4h.01M243.8 508.7h.01M273.9 532.3h.01M259.8 515h.01M274.6 551.8h.01M287.9 529.3h.01M255.2 518.1h.01M278 571.6h.01M254.2 532.2h.01M282.3 533.9h.01M275.5 505h.01M257.4 547.8h.01M276.7 511.8h.01M242.7 525.9h.01M263.4 502.9h.01M265 542.8h.01M259 540.8h.01M269.2 541.4h.01M267.9 552.8h.01M241.7 537.5h.01M298.2 548h.01M232.7 473.4h.01M274.1 574.7h.01M282.2 512.8h.01M270.1 518.1h.01M228.4 507h.01M287.8 498h.01M269.9 477.2h.01M288.9 492.5h.01M261.1 491.7h.01M250 500.5h.01M281.5 526.2h.01M230.6 541.6h.01M284.2 561.1h.01M291.6 571h.01M303.8 542h.01M299.1 511.9h.01M297.7 538.6h.01M300 534.6h.01M289.3 472.9h.01M314.5 577.2h.01M291 538.9h.01M274.8 565.4h.01M253.8 551.3h.01M244.6 496.6h.01M283 545.5h.01M270.3 499.3h.01M237.4 494.3h.01M247.8 486h.01M285.9 541.9h.01M278 529.6h.01M269.8 568.3h.01"/><path stroke="#c83a2c" stroke-opacity="0.27" stroke-width="6.2" d="M271.7 536.7h.01M294.1 543.7h.01M294.3 527.8h.01M274.7 520.6h.01M268.4 558.3h.01M258.3 528.8h.01M303.4 527.7h.01M265.1 516.6h.01M233.5 487.3h.01M288.4 546.1h.01M273.4 527.2h.01M236.7 555.4h.01M230.2 515.9h.01"/><path stroke="#c83a2c" stroke-opacity="0.27" stroke-width="8" d="M298.3 559.6h.01M291.1 559.1h.01"/><path stroke="#9b59b6" stroke-opacity="0.27" stroke-width="5" d="M234.7 593.4h.01M239.8 588.9h.01M230.4 597.5h.01M239.9 580h.01M215.2 589.5h.01M238.9 594.5h.01M234.5 610.8h.01M222.9 588.2h.01M227.6 588.4h.01M233.6 574.2h.01M235.1 583.7h.01M242.5 615.9h.01M232.9 589.3h.01M235.2 599.6h.01M228.8 580.9h.01M211.4 597.8h.01M222 583.9h.01M245.9 598.4h.01M234.3 605.8h.01M224.9 600.4h.01M254.3 585.2h.01M245.7 591.2h.01M217.8 579.7h.01M221.2 573.5h.01M250.2 583.2h.01M229 594.7h.01M230.6 612.8h.01M240.7 609.3h.01M230.2 571.6h.01M219.5 608.7h.01M220.8 593h.01M224.1 579h.01M246.5 612.7h.01M210.9 602.2h.01M225.2 592.2h.01M235.2 598.8h.01M238.6 588.1h.01M234.4 617.9h.01M212.8 616.8h.01M252.7 593.3h.01M228.8 618.1h.01M253.7 576.9h.01M234.5 589.9h.01M206.7 592h.01M233.5 584.9h.01"/><path stroke="#9b59b6" stroke-opacity="0.27" stroke-width="6.2" d="M216.8 596.9h.01M242.6 602.2h.01M223.6 612.1h.01M245.2 585.5h.01M239.4 623.7h.01"/><path stroke="#9b59b6" stroke-opacity="0.27" stroke-width="8" d="M227.6 624.1h.01M249.7 603.9h.01"/><path stroke="#2a80b9" stroke-opacity="0.28" stroke-width="5" d="M280.6 579.4h.01M273.6 592.8h.01M271.6 600.2h.01M277.4 590.9h.01M304.9 570.9h.01M270.9 581h.01M290.2 587.4h.01M280.1 598.5h.01M281.3 593.1h.01M273.7 605.6h.01M290.2 594.1h.01M292.7 572.4h.01M284.4 577.1h.01M285.3 584h.01M294.6 593.4h.01M298.7 558.6h.01M271.3 585.8h.01M269.1 604.6h.01M285.7 591.4h.01M304.8 583.6h.01M275.3 582h.01M289.9 598.6h.01M293.7 562.9h.01M315 580.8h.01M319.9 572.3h.01M278.5 616h.01M280 583.8h.01M284.3 600.7h.01M290.9 617.3h.01M304.5 561.9h.01M322.8 577.1h.01M299.4 579.3h.01M268.3 611h.01M322.9 568.9h.01M299.4 593.3h.01M287.6 558.9h.01M282.8 616.2h.01M270.7 567.4h.01M265.6 553.4h.01M293 576.9h.01"/><path stroke="#2a80b9" stroke-opacity="0.28" stroke-width="6.2" d="M280.5 585.6h.01M276 575.9h.01M326.6 572.6h.01M268.7 591.7h.01M283.7 564.7h.01M272.4 614.8h.01M294.7 585.4h.01M288.1 605.8h.01M298.8 552.2h.01M285.9 584.4h.01"/><path stroke="#2a80b9" stroke-opacity="0.28" stroke-width="8" d="M263.8 579h.01M278.1 559.5h.01"/><path stroke="#c83a2c" stroke-opacity="0.27" stroke-width="5" d="M301.8 562.2h.01M275.6 530.4h.01M266.5 532.9h.01M258.2 557.8h.01M292.3 547.4h.01M234.3 511.7h.01M293.6 534.5h.01M283.9 518.7h.01M281.3 530.8h.01M290.1 529.6h.01M288.8 536.8h.01M281.8 507.9h.01M287 513.5h.01M276.4 570.3h.01M285.4 529h.01M297.4 557.4h.01M266.6 522.6h.01M271.7 523.6h.01M300.3 543.3h.01M274.7 501.1h.01M270.8 544.1h.01M289.9 509.1h.01M301.4 524.5h.01M260.9 524.4h.01M283.7 540.5h.01M269.1 560.4h.01M283 523.8h.01M281.4 550.4h.01M299.2 514.4h.01M257 513.9h.01M299.6 548h.01M258.5 497h.01M256.6 503h.01M261.5 518h.01M242.4 506.7h.01M247.3 497.9h.01M303.1 518.5h.01M252.6 530.3h.01M295 519.3h.01M270.2 535.3h.01M265 538.5h.01M234.5 485.2h.01M296.5 562.8h.01M288.5 542.2h.01M245.4 512.2h.01M272.5 515.5h.01M263.7 546.6h.01M268.1 473.4h.01M294.5 512.6h.01"/><path stroke="#c83a2c" stroke-opacity="0.27" stroke-width="6.2" d="M277.2 535.5h.01M245.5 519.7h.01M288.9 521.5h.01M299.6 534.6h.01M252.9 518.1h.01M287.1 553.5h.01"/><path stroke="#c83a2c" stroke-opacity="0.27" stroke-width="8" d="M267.1 511.2h.01M278.1 512.5h.01"/><path stroke="#9b59b6" stroke-opacity="0.27" stroke-width="5" d="M234 590.4h.01M239.4 591.6h.01M231.7 596.1h.01M227.2 588h.01M217.6 589.9h.01M215.9 597.7h.01M243.6 590.6h.01M234 602.6h.01M230.8 574.8h.01M232.1 585.1h.01M221.2 581.6h.01M238.1 581.7h.01M243.7 579.2h.01M236.3 586.8h.01M242.1 598.2h.01M220 577.4h.01M222 589.6h.01M236.1 596.2h.01M222.7 598.4h.01M254.3 587.8h.01M240.7 587h.01M241.9 604.9h.01M228.3 580.4h.01M229 599.9h.01M231.3 594.5h.01M226.4 594.1h.01M227.6 589h.01M247.7 585h.01M256.1 582.7h.01M245.2 610.7h.01M235.4 577.9h.01"/><path stroke="#9b59b6" stroke-opacity="0.27" stroke-width="6.2" d="M232.6 591.3h.01M221.7 611.9h.01M238.6 616.3h.01M231.6 585.7h.01"/><path stroke="#9b59b6" stroke-opacity="0.27" stroke-width="8" d="M237.2 609.3h.01M248.3 596.3h.01M221.8 605.1h.01"/><path stroke="#2a80b9" stroke-opacity="0.28" stroke-width="5" d="M278.2 580.5h.01M276.8 585.7h.01M273 601.9h.01M283.4 582.8h.01M284.5 593h.01M279.5 597.6h.01M291.4 586.3h.01M286 587.6h.01M271.2 597.1h.01M277.5 593.5h.01M283.3 600.7h.01M268.6 585.7h.01M288.4 576.9h.01M289.8 604.6h.01M284.4 607.7h.01M275.5 577.2h.01M288.2 596.5h.01M293.1 559h.01M274 612.9h.01M311.3 580.5h.01M286.8 586.9h.01M295.6 563.7h.01M307.8 569.5h.01M286 567.8h.01M269.4 606h.01M298.8 559.4h.01M266.4 610.3h.01"/><path stroke="#2a80b9" stroke-opacity="0.28" stroke-width="6.2" d="M273.5 590.9h.01M292.7 594.4h.01M294.2 570.9h.01M266.5 592.1h.01"/><path stroke="#c83a2c" stroke-opacity="0.27" stroke-width="5" d="M274.4 537h.01M298.6 560.2h.01M272.1 532.2h.01M264.6 510h.01M292.5 522.1h.01M268 535.2h.01M258 559.5h.01M282.4 517.7h.01M286 533.8h.01M288.1 524.7h.01M283.7 513.3h.01M273.2 503.8h.01M270.3 520.3h.01M274.4 511.4h.01M295.3 545.9h.01M245.1 523.4h.01M292.4 530.1h.01M264 520.7h.01M286.6 540h.01M255.4 514.5h.01M258.8 501.5h.01M270.1 514.2h.01M287.8 532.2h.01M301.7 538.9h.01M299.3 525.4h.01M278 502h.01M257.8 527h.01M298.7 550.5h.01M301.1 519.2h.01M303.5 532.5h.01M291 511.3h.01M247.2 519.1h.01"/><path stroke="#c83a2c" stroke-opacity="0.27" stroke-width="6.2" d="M297.1 534h.01M278.8 531.7h.01M298.1 515.2h.01M271 540.5h.01M260.7 517.2h.01"/><path stroke="#c83a2c" stroke-opacity="0.27" stroke-width="8" d="M279.6 528.5h.01M280.9 539h.01M253.1 519.7h.01M288.1 553.2h.01"/><path stroke="#9b59b6" stroke-opacity="0.27" stroke-width="5" d="M243 593.5h.01M238.6 589.2h.01M235.4 597.1h.01M226.7 592.1h.01M238.6 610.4h.01M225.4 584.4h.01M234.3 605.2h.01M232.9 589.8h.01M241.7 581.9h.01M234.5 582.4h.01M243.3 587h.01M216.6 586.5h.01M221.2 581.5h.01M240.2 598.5h.01M229 576.9h.01M217.7 607.8h.01M225.7 590.2h.01M221.7 588.1h.01M251.4 587.8h.01M237.3 591h.01M220.6 604.6h.01M232 572.3h.01M235.3 595.3h.01M243.4 610.6h.01M235.3 599.7h.01M248.2 593.7h.01M241.4 606.2h.01M236.5 585h.01"/><path stroke="#9b59b6" stroke-opacity="0.27" stroke-width="6.2" d="M233.2 590.8h.01M229.2 597.5h.01M230.3 584.8h.01M245.3 599.2h.01M222.5 595.1h.01M235.4 576h.01M242 592.6h.01M241.9 619.9h.01"/><path stroke="#9b59b6" stroke-opacity="0.27" stroke-width="8" d="M214.5 595.8h.01M229.4 597.4h.01"/><path stroke="#2a80b9" stroke-opacity="0.28" stroke-width="5" d="M279.8 580.1h.01M271.1 592.4h.01M280.3 598.8h.01M281.1 592h.01M274 605.5h.01M276.9 576.9h.01M287.6 590.1h.01M270.2 597.8h.01M280.5 586.5h.01M290.7 596.1h.01M275 595.2h.01M284.7 605.5h.01M268.1 585.6h.01M286.4 597.7h.01M287 575.8h.01M283.8 587.9h.01"/><path stroke="#2a80b9" stroke-opacity="0.28" stroke-width="6.2" d="M283.8 583h.01M289.2 604h.01"/><path stroke="#2a80b9" stroke-opacity="0.28" stroke-width="8" d="M274.5 587.8h.01M293.6 575.3h.01M265.5 592.8h.01"/><path stroke="#c83a2c" stroke-opacity="0.27" stroke-width="5" d="M281.1 518.1h.01M266.1 508.6h.01M256.5 555.7h.01M293 520.6h.01M284.7 530.8h.01M266.8 533.2h.01M285.5 523.6h.01M301.7 517.2h.01M296.8 534.2h.01M265.9 520.5h.01M259.9 521h.01M277 531.2h.01M257.3 501.8h.01M280.2 513.4h.01M284.1 509.2h.01M287.1 537.2h.01M286.7 553.1h.01M293.3 527.3h.01M276.7 503.4h.01M272.3 521.5h.01"/><path stroke="#c83a2c" stroke-opacity="0.27" stroke-width="6.2" d="M276.6 530.6h.01M280.5 535.6h.01M256.2 514.7h.01M272 534.4h.01M282.2 541h.01M298.2 524.2h.01"/><path stroke="#c83a2c" stroke-opacity="0.27" stroke-width="8" d="M274.6 542.6h.01M285.8 531h.01"/><path stroke="#9b59b6" stroke-opacity="0.27" stroke-width="5" d="M233.4 590.9h.01M241.9 589.9h.01M227.9 594.7h.01M224.6 589.2h.01M234.4 610.7h.01M232.5 592.1h.01M238 594.2h.01M228.6 586.5h.01M223.9 583.3h.01M248.5 599.9h.01M214.4 594.5h.01M239.6 601.6h.01M217.5 589.1h.01M232.9 605.8h.01M237.4 606.3h.01M241.4 578.9h.01M234.7 585.5h.01M222.5 578h.01M220.4 597.4h.01M241.9 590.3h.01M232.9 581.9h.01M240.4 613.6h.01M247.8 586.4h.01"/><path stroke="#9b59b6" stroke-opacity="0.27" stroke-width="6.2" d="M232 600.1h.01M245.5 594.1h.01M237.4 584.6h.01M230.6 575.8h.01"/><path stroke="#2a80b9" stroke-opacity="0.28" stroke-width="5" d="M284.9 585.9h.01M282.2 596.3h.01M279.1 591.5h.01M281.8 601.9h.01M267.1 588.3h.01M275.4 604.9h.01M280.7 587.4h.01M291.4 594.3h.01M287.4 581.8h.01M285.8 606h.01M270.6 605.2h.01M271.3 592.6h.01M287.8 597.1h.01M291.7 572.1h.01M290.9 588.4h.01M272.8 577.8h.01M268.7 599.1h.01"/><path stroke="#2a80b9" stroke-opacity="0.28" stroke-width="6.2" d="M281 579.8h.01"/><path stroke="#2a80b9" stroke-opacity="0.28" stroke-width="8" d="M273.9 583.8h.01"/><path stroke="#c83a2c" stroke-opacity="0.27" stroke-width="5" d="M277.3 531.1h.01M267.6 534.4h.01M287 528.3h.01M280 527.8h.01M282.7 521.7h.01M264.9 510.7h.01M293.5 532.3h.01M265.9 506.1h.01M298 533.8h.01M267.7 521.5h.01M273 543.7h.01M281.6 514.1h.01M271 539.5h.01M255.9 515.1h.01M282.8 542h.01M285.8 510.1h.01M275.3 501.1h.01"/><path stroke="#c83a2c" stroke-opacity="0.27" stroke-width="6.2" d="M258.1 559.4h.01M276.4 515.3h.01M285.4 551h.01"/><path stroke="#c83a2c" stroke-opacity="0.27" stroke-width="8" d="M282.9 534.8h.01M275.3 534.9h.01"/><path stroke="#9b59b6" stroke-opacity="0.27" stroke-width="5" d="M242.7 593.3h.01M240.1 588.2h.01M230.6 593.1h.01M225.1 590.4h.01M233.6 589.5h.01M236.2 606.9h.01M231 593h.01M239.8 601.8h.01M232.6 582.4h.01M225.6 583h.01M235.3 594.5h.01M223.6 599.1h.01M235.8 585.4h.01M244.5 581h.01M248.2 587.8h.01M239.6 580.5h.01M227.7 601.6h.01M228.8 580.1h.01M221.4 585h.01M243 610.5h.01M225.6 586h.01"/><path stroke="#9b59b6" stroke-opacity="0.27" stroke-width="6.2" d="M230.8 587.5h.01M233.4 600.8h.01M248.4 597.4h.01M239.7 588.8h.01"/><path stroke="#9b59b6" stroke-opacity="0.27" stroke-width="8" d="M235.2 596.6h.01"/><path stroke="#2a80b9" stroke-opacity="0.28" stroke-width="5" d="M281.4 592.5h.01M286 588.5h.01M275.4 590.4h.01M293.6 593.9h.01M288.4 593.3h.01M277.5 594.8h.01"/><path stroke="#2a80b9" stroke-opacity="0.28" stroke-width="6.2" d="M272.8 604.7h.01M276.5 581.5h.01"/><path stroke="#2a80b9" stroke-opacity="0.28" stroke-width="8" d="M281.1 583.6h.01M283.9 599.7h.01"/><path stroke="#c83a2c" stroke-opacity="0.27" stroke-width="5" d="M277.2 529.6h.01M276.2 534.3h.01M267.5 533.8h.01M281.7 518.5h.01M286.1 530.9h.01M284.5 524.3h.01M266.6 519.3h.01M271 543.7h.01M294.7 535.3h.01"/><path stroke="#c83a2c" stroke-opacity="0.27" stroke-width="6.2" d="M282.2 534.2h.01"/><path stroke="#c83a2c" stroke-opacity="0.27" stroke-width="8" d="M273.9 534.3h.01M283.3 530.3h.01"/><path stroke="#9b59b6" stroke-opacity="0.27" stroke-width="5" d="M242.1 589.6h.01M236.2 589.1h.01M232.1 585.8h.01M230 589.5h.01M233.5 607.2h.01M240.3 595.1h.01M236.4 591.4h.01M228.1 583.3h.01M222.1 580.7h.01M229.3 599.2h.01M231.7 595.5h.01M224.5 587h.01M249.5 599.1h.01"/><path stroke="#9b59b6" stroke-opacity="0.27" stroke-width="6.2" d="M230.1 590.2h.01M233.8 596.3h.01M251.4 587.9h.01"/><path stroke="#9b59b6" stroke-opacity="0.27" stroke-width="8" d="M221.7 595.1h.01"/><path stroke="#2a80b9" stroke-opacity="0.28" stroke-width="5" d="M284.3 585h.01M280.4 595.7h.01M280.9 591.5h.01M283.3 599.9h.01M287.6 594.3h.01M286.6 588.7h.01M273.8 592.4h.01"/><path stroke="#2a80b9" stroke-opacity="0.28" stroke-width="6.2" d="M281.1 580.6h.01M277.4 588h.01M274.3 606.1h.01M272.2 601.3h.01"/><path stroke="#c83a2c" stroke-opacity="0.27" stroke-width="5" d="M276.6 532.6h.01M278.7 528.3h.01M274.2 536.7h.01M289.6 529.9h.01M293.6 534.7h.01M283 518.2h.01M270.1 520.6h.01"/><path stroke="#c83a2c" stroke-opacity="0.27" stroke-width="6.2" d="M285.2 525.2h.01"/><path stroke="#c83a2c" stroke-opacity="0.27" stroke-width="8" d="M284.3 533h.01M266.3 538h.01"/><path stroke="#9b59b6" stroke-opacity="0.27" stroke-width="5" d="M232.7 587h.01M229.7 590.9h.01M230.6 596.2h.01M243 589h.01M238.2 585.9h.01M235.5 599.6h.01M234.1 591.9h.01M225.6 589h.01M233.1 582.5h.01M222.2 584.8h.01M240 590.5h.01M235.5 597.3h.01M228.5 583.4h.01M248.4 598.4h.01"/><path stroke="#9b59b6" stroke-opacity="0.27" stroke-width="6.2" d="M234.9 592.1h.01M242.6 597.9h.01"/><path stroke="#2a80b9" stroke-opacity="0.28" stroke-width="5" d="M279.7 584.2h.01M285.7 585.8h.01M281.7 595.1h.01M281.8 601.9h.01M274.1 587.9h.01M274.4 605.1h.01M287.1 593.1h.01"/><path stroke="#c83a2c" stroke-opacity="0.27" stroke-width="5" d="M279 535.8h.01M279.9 530.4h.01M273.8 530.4h.01M264.9 536.8h.01M284.4 531.4h.01M276.2 539.2h.01M266.4 532.5h.01M286.4 531h.01M287.1 526.1h.01"/></g>
<g fill="none" stroke="#b3b52a" stroke-opacity="0.28" stroke-linecap="round"><path stroke-width="5.2" d="M612 557.2h.01M675.7 558.1h.01M666.2 556.6h.01M625 562.4h.01M642.6 565.7h.01M646.8 571.5h.01M687 560.1h.01M656.9 586.5h.01M654.3 558h.01M581.3 567.2h.01M636.5 556h.01M658.9 557.7h.01M648.5 563.4h.01M699.4 560.9h.01M672.4 569.1h.01M674.5 542.6h.01M632.5 565.1h.01M673.8 575.1h.01M668.7 548.7h.01M679.1 550.8h.01M657 538h.01M653.9 543.7h.01M612.4 602.4h.01M674.2 553.9h.01M637.6 561.7h.01M665.4 582.1h.01M623 571.2h.01M626.6 550.6h.01M664.5 562.5h.01M687.2 544.8h.01M648.8 541.5h.01M693.7 572h.01M660.2 569.2h.01M680.1 556.8h.01M644 533.2h.01M658 563.8h.01M677.3 568h.01M669.6 560.3h.01M684.7 565.1h.01M669.3 537.7h.01M636.9 579.1h.01M647.4 550h.01M628.6 545.9h.01M673 547.5h.01M632.2 560.5h.01M631.3 550.4h.01M615.8 563h.01M660.9 548.7h.01M652.9 565.6h.01M649.8 579.6h.01M675.6 588.3h.01M641.5 571.3h.01M618.6 540.1h.01M679.3 577.5h.01M632.8 529.1h.01M626.1 575.7h.01M656 573.3h.01M659.4 554.5h.01M624.1 588.9h.01M637.2 536.4h.01M690.8 562.7h.01M616.8 549.3h.01M661.5 586.6h.01M678.2 545.1h.01M606 564.9h.01M630.9 579.6h.01M662 558h.01M621 565.2h.01M631.1 601.4h.01M627.9 557.6h.01M708.9 539.2h.01M657.7 563h.01M629.6 569.1h.01M628.7 583.8h.01M615.4 575.1h.01M666 569.1h.01M639.4 588.4h.01M669.6 600h.01M653.4 548.7h.01M637.9 550.4h.01M662.1 592.3h.01M574.9 549h.01M653 522.9h.01M653.7 560h.01M692.3 549.9h.01M613.5 569.9h.01M668.5 543.7h.01M665.2 561.6h.01M660.9 553.3h.01M561.9 528.7h.01M736.4 526.7h.01M702.7 568.9h.01M696.5 515.1h.01"/><path stroke-width="6.2" d="M643.1 554.5h.01M640.8 542.7h.01M635.6 573h.01M700.2 552.8h.01M649.2 556h.01M683.4 541.8h.01M661.7 526h.01M618.7 557.2h.01M562.5 517.5h.01"/><path stroke-width="5.2" d="M666.6 553.5h.01M660 556.9h.01M654.9 554.3h.01M642.4 550.6h.01M665 558.1h.01M650.8 565.9h.01M649.8 572.7h.01M654.4 544.3h.01M651.4 558.5h.01M698.8 563.6h.01M658.8 561.8h.01M614 559.6h.01M646.8 560.3h.01M660.2 571.2h.01M632.7 568.6h.01M674.6 559.9h.01M673.7 546.4h.01M669.9 559.9h.01M681.2 564.6h.01M612 554.3h.01M633.1 554.2h.01M659 546.6h.01M671.8 578.7h.01M628.4 549.3h.01M581.6 568.3h.01M637.9 556.5h.01M632.1 532h.01M640.3 546.6h.01M669.3 569.2h.01M669.4 548.1h.01M639.1 571.4h.01M663 550.5h.01M623.1 577.6h.01M627.3 564.3h.01M635.1 581.1h.01M641.2 566h.01M625.7 545.1h.01M659.9 558.2h.01M625.5 581.6h.01M680.4 579.3h.01M676.5 584.5h.01M644.2 571.6h.01M640 560.5h.01M618.8 553.1h.01M639 592h.01M635 561.1h.01M690.3 552.6h.01M680.5 557h.01M630 578.1h.01M621.3 571.5h.01"/><path stroke-width="6.2" d="M674.2 554.3h.01M675.6 541.3h.01M657.4 536.3h.01M642.3 537.8h.01M614.3 545.8h.01M648.1 552.7h.01M662 563.7h.01"/><path stroke-width="8" d="M648.7 542.8h.01"/><path stroke-width="5.2" d="M665 552.7h.01M651.7 556.4h.01M656.4 555h.01M660 557.6h.01M652.5 564.7h.01M674 557.1h.01M665.7 558.5h.01M652.8 545.6h.01M644.4 552.5h.01M643.4 546.4h.01M648.5 569.4h.01M669.6 556.3h.01M653.4 540.7h.01M644.5 558.5h.01M678.1 541.8h.01M669.8 562.5h.01M656.3 560.5h.01M659.2 568.6h.01M679.8 561.2h.01M634.6 569.9h.01M658 550.6h.01M639.9 554.9h.01M670.2 567.7h.01M650.9 576h.01M662.5 561.7h.01M643.9 568.3h.01M679 554.6h.01M634.2 534.9h.01M648 562.2h.01M662.5 547.5h.01M653.2 570.5h.01M635.2 559.7h.01M630.8 563.1h.01M673.3 539.2h.01M629.3 549.9h.01M677 565.1h.01M654.7 560.3h.01M669.3 551.6h.01M683.2 567.9h.01M624.4 573.9h.01M663.1 553.9h.01M622.2 569.7h.01M669.2 580.1h.01"/><path stroke-width="6.2" d="M674.2 551.2h.01M671.2 546.4h.01M651.2 550.8h.01"/><path stroke-width="8" d="M627.9 568.3h.01M687.6 547.7h.01"/><path stroke-width="5.2" d="M658.8 558.6h.01M662.9 555.8h.01M664 562.2h.01M674.6 552.8h.01M653.5 555.7h.01M669.3 557.5h.01M656 564.3h.01M647.8 567.7h.01M650.6 545.9h.01M675.1 546.8h.01M673.6 560.8h.01M656.6 569h.01M645.9 572.7h.01M655.8 540.2h.01M640.8 558.8h.01M678.3 560.4h.01M641.7 564.7h.01M632.7 569.6h.01M683.4 562.2h.01M657.7 558.1h.01M649.2 553.3h.01M670.2 568.6h.01M652.9 575.4h.01M663 566.6h.01M657.6 551.5h.01M664.3 561.7h.01M660 546.2h.01M631.1 564.6h.01M649.8 538.7h.01M641 545.2h.01M636.4 572.4h.01M634.9 561.4h.01"/><path stroke-width="6.2" d="M666.4 551.7h.01M643.5 552.1h.01M663.6 556.5h.01M647.4 562.1h.01"/><path stroke-width="8" d="M626.9 546.9h.01"/><path stroke-width="5.2" d="M662.2 556h.01M666.4 551h.01M649.8 569.3h.01M654.9 557.4h.01M650.9 564.6h.01M670.7 559.6h.01M655.2 563h.01M663.5 558.2h.01M659.7 565.3h.01M678 553h.01M639.5 554.3h.01M640.1 559.1h.01M650.2 555.3h.01M648.5 573.8h.01M645.3 566.4h.01M657.7 572.2h.01M647.3 559.4h.01M654.1 542.2h.01M676.7 562.2h.01M666.1 569h.01M645.4 552.8h.01M661 549.6h.01M668.8 555.5h.01M644.5 548h.01M632.2 570.3h.01M671 550.4h.01"/><path stroke-width="6.2" d="M661.2 557.9h.01M656.2 548.1h.01"/><path stroke-width="5.2" d="M658.8 556.8h.01M664.6 555.4h.01M665.2 560.5h.01M653.6 561.3h.01M672.1 559.5h.01M659.8 561.8h.01M650.6 556h.01M644.3 566.3h.01M668.6 547.6h.01M674.1 551.1h.01M663.3 549.3h.01M653.4 541h.01M658 568h.01M645.8 553.2h.01M642 562.1h.01M659.6 556.6h.01M676.8 558.2h.01M641.5 557.5h.01M678.2 564.9h.01M650.2 575.3h.01M652 567.5h.01"/><path stroke-width="6.2" d="M648.2 560.7h.01M658.8 556.8h.01"/><path stroke-width="5.2" d="M656.9 557.9h.01M661.8 555h.01M649.1 559h.01M670.3 550.4h.01M674.5 555.4h.01M664.1 551.2h.01M648.3 568.1h.01M650.7 563.2h.01M643.8 564.4h.01M645 554.3h.01M661.4 565.6h.01M658.7 571.5h.01M656.1 543.6h.01"/><path stroke-width="6.2" d="M667.8 554.7h.01M664 559.3h.01M663.8 559.7h.01M656.5 558.9h.01"/><path stroke-width="5.2" d="M661.7 557h.01M655.9 561.1h.01M655.7 555.5h.01M661.6 559.4h.01M675.5 554.4h.01M647.2 564.5h.01M663.9 551.7h.01M669.3 558.4h.01"/><path stroke-width="8" d="M648.5 558.8h.01M664.9 563.7h.01"/><path stroke-width="5.2" d="M660.1 556.3h.01M648.4 556.6h.01M655.3 557.3h.01M677.2 553.1h.01M648.3 562.6h.01M654.6 562.5h.01M663.7 553h.01"/><path stroke-width="6.2" d="M660.4 561.1h.01M666.7 558.9h.01"/><path stroke-width="5.2" d="M663.4 556.2h.01M662.5 561.1h.01M657.3 562.3h.01M647.4 557.8h.01M645.4 563.8h.01M659.2 555.8h.01M659.2 557.9h.01"/><path stroke-width="6.2" d="M652.5 556.2h.01"/></g>
<g fill="none" stroke="#e91e63" stroke-opacity="0.3" stroke-linecap="round"><path stroke-width="5.2" d="M705.6 575.9h.01M695.3 577.2h.01M698.9 555h.01M695.7 584.2h.01M672.6 578.2h.01M696.3 567.8h.01M688.6 582.9h.01M671.6 594h.01M688.1 576.7h.01M681.3 552.2h.01M689.7 597.2h.01M698.8 574.3h.01M701 586.2h.01M713.4 574.7h.01M686 547.1h.01M690.8 566.3h.01M675.1 571.9h.01M694.8 572.3h.01M681.9 585.8h.01M710.6 587.7h.01M681.9 575.8h.01M678.7 581.2h.01M684.7 580.8h.01M695.4 560.4h.01M693 601.8h.01M708.1 582.9h.01M702.5 580.2h.01M685.1 563.3h.01M703.3 568.7h.01M718 562.2h.01M673 565.1h.01M697.4 598.8h.01M701.3 593.9h.01M695.3 578.2h.01M710.8 555.2h.01M697.3 566.2h.01M717.3 583.5h.01M693.2 572.5h.01M689.8 576.5h.01"/><path stroke-width="6.2" d="M703.5 560.9h.01M690 571.2h.01M695 589h.01M678.8 590.1h.01M705.3 552.6h.01"/><path stroke-width="8" d="M689.1 556.6h.01M712.2 566.5h.01"/><path stroke-width="5.2" d="M695.4 556.1h.01M692.2 576.1h.01M696 580.9h.01M701.8 555.7h.01M683.9 555.5h.01M696.2 571.4h.01M701.1 587.3h.01M687.1 585.2h.01M685.9 577h.01M691.8 570.5h.01M710.2 569.9h.01M683.9 572.9h.01M674.7 570.5h.01M687 569.6h.01M682.1 579.9h.01M692.5 586.4h.01M706.5 578.9h.01M688.8 561.3h.01M711.5 584.2h.01M714.3 567.8h.01M700.3 582.5h.01M692.2 599.9h.01M698.7 575.2h.01M694 576.8h.01M681.5 549.6h.01M702.1 568.9h.01M698.4 560.5h.01M673.9 592.7h.01M704.6 573.9h.01M701.2 594.3h.01M694.9 564.7h.01M691.7 571.3h.01"/><path stroke-width="6.2" d="M696.5 565.5h.01M676.7 580.4h.01M706.1 565.3h.01M713.1 576.1h.01M690.6 580.9h.01M694.4 591.1h.01M689.3 553.8h.01M678.8 587.1h.01"/><path stroke-width="5.2" d="M694.2 576.1h.01M689 575.3h.01M699.3 573.2h.01M697.3 568.2h.01M695.9 581.8h.01M703 583.7h.01M691.5 566.5h.01M688.8 581.9h.01M683.2 584h.01M711.3 568h.01M696.5 563h.01M686 560h.01M700.2 589.9h.01M684.5 578.3h.01M700.8 554.3h.01M690.1 593h.01M706.4 570.6h.01M675.6 570.8h.01M705.4 578.6h.01M696.4 577.4h.01M700.7 578.6h.01M676 579.4h.01M684.1 555.1h.01M692 570.8h.01M708.9 563.1h.01M695.3 587.4h.01"/><path stroke-width="6.2" d="M696.8 557.5h.01M711.7 586.6h.01"/><path stroke-width="8" d="M683.4 571.6h.01M702.7 562.5h.01"/><path stroke-width="5.2" d="M694 578.7h.01M688.9 571.2h.01M693.1 567.3h.01M692.8 557h.01M680.6 574.5h.01M703.1 588.4h.01M704.8 563.2h.01M700.3 552.7h.01M684 586.6h.01M689.6 576.5h.01M700.5 573.3h.01M708.5 577.1h.01M702.8 577.2h.01M688.4 584.6h.01M679.2 583.9h.01M698.7 567.6h.01M687.7 566.2h.01M693.1 573.6h.01"/><path stroke-width="6.2" d="M694.3 572h.01M709.6 568h.01M705.1 583.3h.01M684.1 579.6h.01M695.6 571.8h.01"/><path stroke-width="8" d="M697 577.9h.01"/><path stroke-width="5.2" d="M696.8 576.8h.01M697.6 572.3h.01M686.3 574.1h.01M691.8 582.1h.01M693.3 567.4h.01M688.1 569.1h.01M706.3 568.6h.01M697.1 581.3h.01M702.4 559.6h.01M681.2 578.7h.01M704.1 588h.01M690.9 573.8h.01M687.6 578.5h.01M708.9 573.3h.01M703.5 564.1h.01M701.7 583.5h.01M702 571.6h.01M699.3 567.4h.01M687.3 585.5h.01M695.4 571.9h.01"/><path stroke-width="6.2" d="M693 573.8h.01M676.4 576.5h.01M706.1 580.1h.01"/><path stroke-width="5.2" d="M690.3 573.7h.01M695.1 572.6h.01M696.8 577h.01M697.2 567h.01M683.3 573.9h.01M693.3 570h.01M700.6 572.2h.01M705.2 566.2h.01M701.1 585h.01M692.9 565.2h.01"/><path stroke-width="6.2" d="M689.5 578.8h.01M688.6 580.3h.01"/><path stroke-width="5.2" d="M695.3 571.9h.01M692.9 576.6h.01M695.2 581h.01M696.9 566h.01M691.3 571.8h.01M685 579.2h.01M704.3 562h.01M693.3 563.1h.01M689.3 580.9h.01"/><path stroke-width="6.2" d="M686.5 571.4h.01"/><path stroke-width="8" d="M701.1 572.2h.01"/><path stroke-width="5.2" d="M694 576h.01M690.1 579.8h.01M689.2 573.9h.01M696.2 575.3h.01M695 570.1h.01"/><path stroke-width="8" d="M694.5 568.3h.01M681.8 576.7h.01M704.6 569.5h.01"/><path stroke-width="5.2" d="M695.6 572.7h.01M692.6 577h.01M686.8 571.2h.01M690.2 574.2h.01M693.5 566.3h.01M686.7 581.5h.01M696.9 572.5h.01M682.8 573.5h.01"/><path stroke-width="6.2" d="M697.2 578.8h.01"/><path stroke-width="5.2" d="M692.5 581.2h.01"/><path stroke-width="6.2" d="M693.4 575.6h.01M688.1 576.9h.01M692.7 575h.01M698.3 570.1h.01"/><path stroke-width="8" d="M695.9 569.4h.01M699.9 579.1h.01"/></g>
<g fill="none" stroke="#1fbcd2" stroke-opacity="0.3" stroke-linecap="round"><path stroke-width="5.2" d="M568.3 439.9h.01M571.8 443h.01M565.8 426.1h.01M575.5 473.6h.01M571.6 432.9h.01M534.2 409.9h.01M566.1 445.6h.01M556.4 439.3h.01M539.3 420.2h.01M572.7 426.5h.01M563.8 459.4h.01M583.8 445h.01M576.4 444.6h.01M561.1 452.2h.01M575.5 452.2h.01M539.6 412.7h.01M570.2 457.9h.01M561.2 445.9h.01M565.8 411h.01M582.8 463.1h.01M568.5 452.6h.01M568.8 473h.01M575.8 459.1h.01M573 468.1h.01M586.3 456.4h.01M571.5 444.5h.01M572.3 406.6h.01M571.9 395.5h.01M546.2 418.5h.01M561.4 435.1h.01M553.9 461.4h.01M574.9 438.3h.01M570.1 447.6h.01M569.4 493.4h.01M560.7 416.9h.01M575.7 431.1h.01M575.2 416.3h.01M557.6 469.9h.01M561.4 407.6h.01M566.5 440.2h.01M553.7 424h.01M555 449.2h.01M576.4 443.7h.01M560.3 422.3h.01M569.1 484.9h.01M558 495.3h.01M566.7 466.1h.01M544.7 403.9h.01M566.9 432.9h.01M557.9 455.9h.01M581 456.6h.01M560.1 403.1h.01M565.7 393.8h.01M566.1 450.7h.01M577.5 405.9h.01M566.3 444.2h.01M553.1 466.4h.01M576.3 447h.01M575.4 389.2h.01"/><path stroke-width="6.2" d="M546.8 411.6h.01M581.8 436.2h.01M567.5 420.8h.01M582.2 472.1h.01M570.8 447.8h.01M561.4 465.1h.01M554.6 415.7h.01M574.7 411.3h.01"/><path stroke-width="8" d="M559.9 397.3h.01"/><path stroke-width="5.2" d="M566 458.3h.01M572.3 476.4h.01M574.6 434.3h.01M564.3 428.6h.01M557.2 435.1h.01M576.7 443.5h.01M576.2 426.5h.01M562.7 411.7h.01M563.4 463.7h.01M571 461.7h.01M570.5 451h.01M566.5 409.3h.01M570.4 443.9h.01M570.1 456.5h.01M573.9 409.9h.01M564.1 438.4h.01M560.2 458.7h.01M544.8 419.2h.01M565.1 470.9h.01M568.7 398.2h.01M574.4 448.2h.01M575.6 461.6h.01M569.3 436.6h.01M537.6 414.4h.01M576.8 456h.01M568.6 425.3h.01M563.5 396.8h.01M581.2 463.7h.01M576.7 415.1h.01M582.7 445.3h.01M562 420.7h.01M568.6 419.4h.01M570.7 430.2h.01M577.7 442.7h.01M563.7 416h.01M570.3 482.4h.01M560.2 426.6h.01M582.5 438.7h.01"/><path stroke-width="6.2" d="M573.8 439.3h.01M539.3 408.2h.01M561.9 453h.01M560.2 445h.01M570.2 469.2h.01M532.6 409.9h.01M568.8 445.9h.01M574.3 419.9h.01M553.5 424h.01M568.8 443.4h.01M575.9 448.2h.01"/><path stroke-width="8" d="M568.8 444.6h.01M570.1 404.7h.01"/><path stroke-width="5.2" d="M567 443.4h.01M572.4 444h.01M573.8 439.5h.01M565.3 447.6h.01M577.1 445.1h.01M576.6 427.8h.01M561.9 409.1h.01M563.4 428.8h.01M564.4 460.8h.01M543.1 409h.01M571.2 446.2h.01M574.5 434.3h.01M573.2 459.1h.01M561.5 441.7h.01M568 439.1h.01M571.7 446.2h.01M569.6 469.2h.01M582.8 460.1h.01M577.7 449.5h.01M568.9 476.9h.01M575.9 416.1h.01M564.5 468.4h.01M572.4 444.6h.01M577.1 454.6h.01M554.9 437.6h.01M576.2 410.8h.01M565.8 443h.01M584.4 442.5h.01M567.7 434.5h.01"/><path stroke-width="6.2" d="M571 452.8h.01M538 412.4h.01M559.7 452h.01M572.9 406h.01M570.9 416.1h.01M568.1 448.1h.01"/><path stroke-width="8" d="M568.6 423.4h.01"/><path stroke-width="5.2" d="M569.6 439.2h.01M573.1 446.4h.01M564.4 408.3h.01M566.6 425.9h.01M567.8 444.5h.01M565.1 462.2h.01M577 435h.01M567.5 450.4h.01M573.1 430.4h.01M541.4 411.9h.01M570.2 454.8h.01M567.7 444.3h.01M557.8 441.6h.01M568.9 418.4h.01M559.4 447.4h.01M575.6 418.6h.01M563.8 429.7h.01M571.9 409.3h.01M567.6 472.9h.01M571.5 465.5h.01M571.4 434.9h.01M579.1 454.1h.01M568.3 443.5h.01"/><path stroke-width="6.2" d="M563.2 453.3h.01M575.5 446.3h.01M572.5 440.4h.01M570.1 449.3h.01"/><path stroke-width="8" d="M565.8 443.5h.01M581.3 444.3h.01"/><path stroke-width="5.2" d="M568.5 445h.01M564.4 441.3h.01M565.6 425.6h.01M579.1 445h.01M571.9 444.6h.01M567.2 451.5h.01M569.9 438.4h.01M577.8 440.1h.01M571.7 445.8h.01M575.5 448.2h.01M574.1 456.5h.01M570.4 438.7h.01M569.9 424.4h.01M567.4 420.3h.01M565.3 441.6h.01M568.1 456h.01M558.1 449h.01M567.8 446.5h.01M538.1 413.4h.01M539.9 408.8h.01M567.5 445.9h.01"/><path stroke-width="6.2" d="M575.5 428.1h.01M564.5 459.6h.01M571.4 433.1h.01M576.8 416.9h.01M580.1 457.9h.01"/><path stroke-width="8" d="M567 414.5h.01"/><path stroke-width="5.2" d="M571.2 444.6h.01M566.3 441.7h.01M566.4 448.1h.01M575.7 444.4h.01M580 442h.01M570.5 444.5h.01M572.9 439.4h.01M569.5 435.8h.01M571 445h.01M566.6 440.8h.01M577.5 447h.01M568.6 426.1h.01M568 418.4h.01M565.7 442.4h.01M577.1 415.4h.01M567.2 462.4h.01M561.8 461h.01M570.3 445.3h.01M563.2 451.8h.01"/><path stroke-width="6.2" d="M573.9 429.3h.01M573.4 451.1h.01"/><path stroke-width="8" d="M563.1 427.6h.01M559.3 442.7h.01"/><path stroke-width="5.2" d="M569.6 448.7h.01M574.4 445.7h.01M563 443h.01M569.7 444h.01M569.7 435h.01M567.7 427h.01M566.1 439.5h.01M575.1 439.2h.01M567.1 419.8h.01M575.1 444.2h.01M574.2 450.3h.01M565.4 451.7h.01"/><path stroke-width="6.2" d="M570.1 442.8h.01M574.4 428.2h.01M569.6 444.4h.01"/><path stroke-width="5.2" d="M570.5 442.7h.01M571.2 448.1h.01M567.1 439.5h.01M566.6 451.3h.01M569.4 443.5h.01M569.3 447.5h.01M563.8 427.8h.01M573.4 433.3h.01M574.8 443.2h.01M564.3 444.2h.01M569.8 447.2h.01M567 422.2h.01"/><path stroke-width="6.2" d="M575.8 446.1h.01M560 441h.01"/><path stroke-width="5.2" d="M569.6 448.2h.01M574.1 444.5h.01M573.3 444.5h.01M568.6 445.9h.01M563.6 440.2h.01M567.9 443.4h.01M567.8 426.5h.01M575.7 449.7h.01"/><path stroke-width="6.2" d="M568.7 443h.01"/><path stroke-width="8" d="M567.4 435.5h.01"/><path stroke-width="5.2" d="M570.7 444.2h.01M565.2 443.4h.01M573.7 440.3h.01M575.2 444.5h.01M568.1 447.9h.01M565.4 443.4h.01M571 446.3h.01M565.6 441.7h.01M568.7 424.3h.01"/><path stroke-width="8" d="M571.8 449.8h.01M571.3 431.3h.01M571.3 442.2h.01"/></g>
<g fill="none" stroke="#e67e22" stroke-opacity="0.42" stroke-linecap="round"><path stroke-width="5.2" d="M545.3 492.2h.01M524.5 497.8h.01M559.8 485.3h.01M552.9 501.3h.01M546.5 497.6h.01M558.1 498.7h.01M521.7 513.1h.01M547 510.6h.01M523.3 503.9h.01M582 480.6h.01M540.3 502.9h.01M554.4 507h.01M550.1 489.8h.01M545.1 483.1h.01M539.9 496h.01M574.9 462.6h.01M571 483.7h.01M576.1 481.3h.01M532.4 507.8h.01M539.9 514.5h.01M528.5 495.9h.01M558.4 489.6h.01M528.3 509.7h.01M551.7 495h.01M527.6 514.5h.01M569.1 493.4h.01M562 494.8h.01M551.4 511.1h.01M544.8 506.4h.01M535.8 501.3h.01M545.2 501.9h.01M570.7 479.1h.01M516.9 507.2h.01M510.8 509h.01M534.9 495.4h.01M565.8 480.6h.01M520.4 520.2h.01M550.5 502.5h.01M540.3 496.7h.01M576.9 488.4h.01M563.8 490.3h.01M513.4 515.8h.01M551.4 495.2h.01M539.9 477.1h.01M524.2 522.9h.01M571.9 473.7h.01M569.7 488.6h.01M540.9 503.6h.01M491.5 522.2h.01M529.8 502.8h.01M562.5 502.9h.01M557 498.5h.01M591.7 474.9h.01M499.6 520.7h.01M540.8 522.4h.01M513.9 522.3h.01M525.4 505.2h.01"/><path stroke-width="6.2" d="M553.6 485.4h.01M534.5 488.6h.01M513.2 498.4h.01M540.1 509h.01"/><path stroke-width="5.2" d="M544.2 493.1h.01M524.3 508h.01M559.7 483.3h.01M545.8 506.5h.01M522.7 499.4h.01M520.9 503.5h.01M538.4 500.6h.01M554.4 490.4h.01M529.3 500.2h.01M539.8 507.4h.01M548.9 492.1h.01M531 491h.01M569.5 485.5h.01M576.3 479.8h.01M538.4 487h.01M536.8 491.8h.01M524.8 512.6h.01M560.5 492h.01M533.9 501.5h.01M571.8 495.9h.01M517.6 510.8h.01M551.7 486.8h.01M531.3 496.1h.01M558 496.2h.01M541.5 482.3h.01M548.4 499h.01M531.3 512.3h.01M565.8 492.7h.01M537.9 499.5h.01M554 512.9h.01M534.4 509h.01M546.3 485.4h.01M543.8 498h.01M543.9 511.5h.01M553 495h.01M552.1 508.5h.01M558.7 498.9h.01M566.2 505h.01M511.3 511.1h.01"/><path stroke-width="6.2" d="M553.3 497.9h.01M552.3 503.3h.01M545.3 499.9h.01M530.1 505.7h.01M585 482h.01M540.2 506.4h.01"/><path stroke-width="8" d="M568.1 479.5h.01M576.3 486.1h.01"/><path stroke-width="5.2" d="M542.3 493.3h.01M560.6 481.8h.01M547.8 501.1h.01M531.7 507.8h.01M551.6 497.7h.01M540.8 506.4h.01M542.3 501.1h.01M522 500.8h.01M551 504.7h.01M539 488h.01M556.4 495.2h.01M546.8 489.8h.01M551 493.2h.01M518.7 514.5h.01M518.9 506.5h.01M546.9 495.1h.01M532.7 503.4h.01M549 484.4h.01M527.3 502.4h.01M544.7 479.7h.01M545.3 510.8h.01M570 493.7h.01M562.3 486.8h.01M568.3 482.1h.01M546.8 495.7h.01M528.3 495.8h.01M579 482.1h.01M539.9 506.6h.01M533.9 503.8h.01M536.9 511.5h.01M548.4 489.4h.01M551.5 514h.01M552.5 498.5h.01"/><path stroke-width="6.2" d="M526.8 508.1h.01M556.1 484.2h.01M535.2 484.1h.01M534.5 497.5h.01M558.5 490.7h.01M537.2 498.7h.01M555.8 508.6h.01"/><path stroke-width="8" d="M557.1 500.7h.01"/><path stroke-width="5.2" d="M544.3 496.4h.01M545.1 490h.01M551.3 499.1h.01M557.7 482.1h.01M562.3 485.4h.01M555.3 495.8h.01M540 501.4h.01M531 505.9h.01M526.7 507.2h.01M534.7 499.2h.01M548.4 503.5h.01M549 494.2h.01M556.9 500.8h.01M560.1 494.5h.01M522.6 501.6h.01M537.9 494.4h.01M527.4 499.7h.01M549.5 483h.01M532.8 487.8h.01M535.6 506.1h.01M540.6 506.6h.01M557.1 490.7h.01M541 501.6h.01M546.1 501.2h.01M532.8 510.6h.01"/><path stroke-width="6.2" d="M544.3 507h.01M551.8 490h.01M544.9 480.4h.01M567.8 494.2h.01"/><path stroke-width="5.2" d="M545.5 492.7h.01M541.2 493.7h.01M549.4 498.6h.01M541.3 505.1h.01M557 496h.01M561 485.8h.01M532.9 504.3h.01M527.3 508.8h.01M523.1 505.4h.01M554.2 503.1h.01M550.7 497.8h.01M533.8 498.2h.01M536.3 493.4h.01M549.1 505.9h.01M554.2 483.8h.01M534.1 486.7h.01M541.8 498.6h.01M567.1 492.1h.01M546.1 502.6h.01M537.8 504.3h.01M545.3 508.2h.01M558 490.3h.01"/><path stroke-width="6.2" d="M544.4 499.9h.01M551.2 489.5h.01M523 496.9h.01"/><path stroke-width="5.2" d="M544.1 495.3h.01M549.6 499.6h.01M543.1 499.6h.01M543.5 506.7h.01M558 495.5h.01M551 500.2h.01M548 495.2h.01M550.3 487.7h.01M535.8 503.2h.01M564 482.7h.01M541.8 490.9h.01M558.5 486.8h.01M537.5 496.7h.01M553.1 483h.01M553.5 492.8h.01M552.6 504.5h.01M528.8 509.4h.01M547.7 504.4h.01M543.4 505.8h.01M543.6 501.4h.01"/><path stroke-width="6.2" d="M525.8 505h.01M557.4 500.8h.01M520.9 502.8h.01M533.6 502.2h.01"/><path stroke-width="5.2" d="M549.2 495.7h.01M544.1 498.2h.01M549.5 502.5h.01M560.2 498.5h.01M540.6 502.2h.01M531.8 504.2h.01M534.2 500.2h.01M522.4 501.9h.01M549.1 486h.01M558.9 483.7h.01M550.3 498h.01M563.4 484.3h.01M552.9 498.8h.01M544 503.1h.01M559.3 493h.01M536.8 507.4h.01"/><path stroke-width="6.2" d="M543.8 490.7h.01M539.2 497.2h.01"/><path stroke-width="8" d="M526.1 508.6h.01M555.1 487.9h.01"/><path stroke-width="5.2" d="M550.9 496.2h.01M541.9 500.5h.01M549 500.5h.01M542.6 505.4h.01M544.8 495.1h.01M532.9 502.6h.01M537.9 503.3h.01M560.7 487.4h.01M551.2 502h.01M557.2 492.2h.01M520.7 498.2h.01"/><path stroke-width="6.2" d="M525 509.1h.01M550.2 490h.01"/><path stroke-width="8" d="M545.6 494.2h.01M558.2 500.1h.01M564.1 482h.01"/><path stroke-width="5.2" d="M545.8 492.7h.01M551.3 498.5h.01M541 493.7h.01M541.7 498.2h.01M557.4 495h.01M530.5 505.5h.01M526 506.1h.01M562.1 482.4h.01M550.4 489.5h.01M553.1 499.9h.01M543.4 498.3h.01M551.6 504.7h.01"/><path stroke-width="6.2" d="M534.6 501.3h.01"/><path stroke-width="8" d="M541.3 503.9h.01"/><path stroke-width="5.2" d="M549.9 501.5h.01M545.7 493.8h.01M549.6 496.6h.01M541.3 498.6h.01M560.4 495.8h.01M541.8 505.4h.01M556 498.9h.01M542.5 489.8h.01M526.8 507h.01M560.8 485.8h.01M551.6 489.6h.01M550.8 502.3h.01"/><path stroke-width="8" d="M536.7 502.5h.01"/></g>
<g fill="none" stroke="#c83a2c" stroke-opacity="0.32" stroke-linecap="round"><path stroke-width="5.2" d="M571.2 529.7h.01M568 512.8h.01M546.3 528.8h.01M558.7 518.7h.01M531.2 554.3h.01M562 540.8h.01M548.2 547.6h.01M524.2 533.4h.01M535 543.6h.01M552.7 547.7h.01M579.9 518.3h.01M568.7 519.9h.01M554.3 536h.01M529.6 548.1h.01M550.2 531.3h.01M534.9 522.6h.01M562.5 530.9h.01M541.7 540.7h.01M543.8 522.7h.01M587 523.7h.01M536.9 537.6h.01M560.6 535h.01M567.6 533h.01M560.3 514.4h.01M582.9 542.1h.01M592.2 516.1h.01M546.1 554.5h.01M545.4 517.5h.01M573.9 515.4h.01M590.3 505.3h.01M530.7 534.8h.01M550.9 554.8h.01M565.6 547.2h.01M539.1 528.6h.01M586.4 530.2h.01M545.3 533.2h.01M574.3 535.2h.01M555.1 528.7h.01M556 541.9h.01M570 538h.01M519.1 533h.01M529 563.2h.01M521.4 545.6h.01M564 522.6h.01M580.2 525.4h.01M526.2 539.5h.01M579.9 531.5h.01M555.8 506.4h.01M560.7 545.7h.01M536.5 551.3h.01M577.5 511.7h.01M564.8 527h.01M604.4 510.3h.01M596.1 526.4h.01M567.5 507.1h.01M568.3 551.5h.01M574.5 546.2h.01M540.1 544.9h.01M560.1 525.2h.01M540.8 570h.01M551.2 523.5h.01M562.6 553.9h.01M577.1 522.1h.01M564.6 517h.01M563.5 503.7h.01M540.8 533.2h.01M608.7 489.8h.01M545.4 537.7h.01M573.9 526.1h.01M600.3 522.8h.01M571.3 521h.01M566.5 527.9h.01M572.8 531h.01M582 526.1h.01M554.1 517.3h.01M576.9 502.7h.01M508.2 551.5h.01"/><path stroke-width="6.2" d="M574.9 525.4h.01M550.6 539.8h.01M565.1 524.6h.01"/><path stroke-width="5.2" d="M571.2 531.5h.01M580.6 516.6h.01M565.7 532.9h.01M571.3 519.5h.01M564.9 511.9h.01M562.1 529.1h.01M560.3 534.6h.01M555.5 520h.01M561.6 519h.01M560.5 510.1h.01M569 527.5h.01M559.6 541h.01M543.1 542h.01M554.7 540.1h.01M535.8 537h.01M566.5 544.6h.01M546 536h.01M587.9 528.5h.01M552.3 547.1h.01M579.2 522.2h.01M577.1 534.6h.01M530.1 536.3h.01M574.6 514.5h.01M565.6 521.6h.01M553.7 552.7h.01M544.4 524.9h.01M583.6 524.9h.01M573.4 538h.01M536.5 541.6h.01M598.1 530h.01M542.1 553.7h.01M531.5 542.8h.01M538.7 546.4h.01M566.3 552.6h.01M548.6 526.4h.01M553.9 508.3h.01M581.6 511.3h.01M525.5 539h.01M561.6 555.8h.01M535.6 522.1h.01M563.6 526.8h.01M582.3 532.9h.01M548.1 542.6h.01M592.5 518.5h.01M561.9 549.1h.01M565.7 533.1h.01M573.4 525.7h.01M557.2 535.6h.01M582.5 544.7h.01M566.2 522.2h.01M574 526.7h.01M568.4 539.1h.01"/><path stroke-width="6.2" d="M551.4 532.5h.01M539 528.4h.01M555.6 525.1h.01M557.5 545.6h.01M544.9 547.9h.01M572.4 519.5h.01M593.3 512.4h.01M547.7 537h.01"/><path stroke-width="8" d="M575.3 527.2h.01M532 554.3h.01M569.5 508.3h.01"/><path stroke-width="5.2" d="M563.2 530.4h.01M577.5 514.2h.01M545.7 544.3h.01M561.8 540.8h.01M569.8 515.5h.01M555.7 534.3h.01M544.2 539.2h.01M533.8 538.7h.01M569.7 523.5h.01M540.2 544.2h.01M555.1 527.7h.01M560.9 525.8h.01M566.4 510.9h.01M551.8 531.8h.01M581.3 517.3h.01M541.4 524.8h.01M574.1 537.3h.01M584.3 524.2h.01M539.3 529.3h.01M548 529.3h.01M545.3 533.8h.01M538.9 535.9h.01M556 517.2h.01M568.6 528.6h.01M562.3 514.1h.01M549.6 553.3h.01M573 522.4h.01M551.2 519.7h.01M570.8 545h.01M565.7 520.4h.01M526 537.4h.01M548.8 548.7h.01M587.9 527.1h.01"/><path stroke-width="6.2" d="M578.3 522.8h.01M565 535.6h.01M550.7 539.2h.01M563.9 525.2h.01M575.3 528.8h.01"/><path stroke-width="8" d="M570.3 532.3h.01M577.7 530.4h.01M556.4 551h.01M534.8 547.2h.01"/><path stroke-width="5.2" d="M559.4 530.8h.01M574 523.9h.01M545.3 537.5h.01M554.3 538.2h.01M547.5 541.8h.01M567.3 519.8h.01M564.3 542.7h.01M574.9 517.2h.01M563.2 527.5h.01M577.3 521h.01M582.2 521.1h.01M550.7 530.8h.01M579.1 515.3h.01M572.6 536.6h.01M545.4 527.5h.01M540 542.6h.01M559.3 522.7h.01M568.1 524.2h.01M544.5 547.9h.01M536.4 529.4h.01M569.4 513.1h.01M579.1 535.5h.01M546.3 532.6h.01M554.3 526.7h.01M534.2 545.6h.01M575.5 511h.01M551.7 519.6h.01M530.4 539.6h.01M566.3 529.7h.01M573.5 529.1h.01M555.9 517.9h.01M545.8 541.9h.01"/><path stroke-width="6.2" d="M567 531h.01M562.4 537.8h.01M535.9 538.2h.01M573 531.5h.01M581 526.5h.01M552.7 548.3h.01M561.4 532.3h.01M539 533.7h.01"/><path stroke-width="5.2" d="M569.1 528.2h.01M561.1 530.2h.01M562.6 536.7h.01M558.5 540.4h.01M557.7 534.2h.01M562.8 523.5h.01M552.5 528.2h.01M576.6 532.1h.01M542.9 537.2h.01M547.6 531.3h.01M536.6 538.6h.01M557.2 527.4h.01M566.1 529.8h.01M582.6 524.4h.01M537.8 543.6h.01M542.8 543.8h.01M549.7 549.8h.01M577.9 514.7h.01M547.8 536h.01M572.9 537.3h.01M535.6 548.6h.01M560 516.3h.01M564.7 527.5h.01M573.2 518.3h.01M565.2 542.8h.01M553.1 533h.01"/><path stroke-width="6.2" d="M577.3 522.1h.01M568.8 521.4h.01M567.8 534.7h.01M552.7 538.7h.01M571.9 527.2h.01M536 531.3h.01M557.3 520.6h.01M577.8 525.5h.01M570.9 527.5h.01"/><path stroke-width="8" d="M557.2 547.3h.01"/><path stroke-width="5.2" d="M566.1 530.3h.01M574.1 520.8h.01M558.3 539h.01M562.6 534.6h.01M559.5 531h.01M567.2 523.6h.01M548.2 538.1h.01M572.4 529.9h.01M570 517.8h.01M550.8 532.3h.01M559.9 522.1h.01M565.3 530.5h.01M543 541.3h.01M532.7 540.6h.01M584.2 521.2h.01M570.4 538.6h.01M566.7 525.9h.01M561.1 528.8h.01M538.9 531.3h.01M572.4 527.2h.01M539.7 546.1h.01M574.9 522.1h.01M576.3 533.6h.01"/><path stroke-width="6.2" d="M539.6 537.8h.01M545 532.3h.01"/><path stroke-width="8" d="M578.2 527h.01M564.7 541.4h.01M554.1 524.2h.01"/><path stroke-width="5.2" d="M565.7 534.6h.01M578 522.2h.01M559 537.6h.01M573 520.7h.01M576.3 517.6h.01M576.2 526.7h.01M566.5 523.1h.01M572.1 530.6h.01M549 538.8h.01M548.4 530.7h.01M562.9 529.9h.01M562 523.8h.01M582.2 524.2h.01M541.2 540.5h.01M558.4 531.5h.01M553.2 529.6h.01M571.6 523.1h.01M578.5 531.5h.01M572.1 537h.01"/><path stroke-width="6.2" d="M567.2 528.3h.01M535.4 537.3h.01M539.8 528h.01"/><path stroke-width="8" d="M565.3 517.5h.01"/><path stroke-width="5.2" d="M565 528.8h.01M569.9 528.2h.01M562.7 532.6h.01M573.3 523.2h.01M578.2 521.3h.01M558.4 535.9h.01M578.7 526.7h.01M551 536.3h.01M565.2 536.6h.01M560.7 522.9h.01M568.3 521.4h.01M557 529.1h.01M573.6 531.3h.01M549.9 530.4h.01M566.2 523.8h.01M540.6 543.9h.01M561.2 540.6h.01M551.8 525.8h.01M532.3 538.6h.01M545 540.7h.01M538.9 530.4h.01M565 528.1h.01"/><path stroke-width="6.2" d="M543.7 537.7h.01M568.9 533.7h.01"/><path stroke-width="5.2" d="M564.6 527h.01M572 520.6h.01M576.5 519.9h.01M558.8 535.1h.01M561.5 530.4h.01M569.1 526.1h.01M562.9 536.8h.01M548.2 534.3h.01M581.4 523.1h.01M551.6 537.4h.01M540.3 539.6h.01M534.2 540.5h.01M566 522.5h.01M570.8 528.4h.01"/><path stroke-width="6.2" d="M566.2 532h.01M574.5 524.8h.01M563.9 521.5h.01M546.1 539.5h.01M577.1 530.4h.01"/><path stroke-width="5.2" d="M567.1 527.7h.01M569.2 532.1h.01M563.5 530.7h.01M573.6 521.3h.01M574.7 527.6h.01M556.6 538.2h.01M577.8 519.5h.01M561.7 537.5h.01M564.4 522.8h.01M569.2 523.7h.01M545.8 540h.01M579 524.2h.01M538.6 542.2h.01M548 535.3h.01"/><path stroke-width="6.2" d="M572.4 527.6h.01"/></g>
<g fill="none" stroke="#c83a2c" stroke-opacity="0.15" stroke-linecap="round"><path stroke-width="5.2" d="M545.3 555.9h.01M526.8 586.7h.01M551.8 581.8h.01M561.6 557h.01M547.9 568.6h.01M538.9 589.2h.01M547.1 602.7h.01M517.6 574.8h.01M521.9 568h.01M547.3 591.9h.01M560.3 588.6h.01M582.5 601.8h.01M558.6 565.7h.01M567.2 572.2h.01M538.7 562h.01M552.8 553.4h.01M532.6 570h.01M547.7 577.7h.01M543.8 565.7h.01M571.3 603.4h.01M540.9 574.2h.01M544.6 582.4h.01M562.9 566.7h.01M564.1 578.6h.01M552.6 557.9h.01M526.6 563.7h.01M582.9 592.5h.01M506.9 568.4h.01M574.1 589.3h.01M589 558.4h.01M526.6 574.8h.01M570.1 540.4h.01M550.5 564.8h.01M553.7 544.2h.01M561.2 542.1h.01M536.1 573.6h.01M546.6 551.1h.01M547.4 560.2h.01M573.8 577.2h.01M560.1 547.8h.01M556.8 560.2h.01M547.7 545.7h.01M571.1 554h.01M545 537.5h.01"/><path stroke-width="6.2" d="M534 557.6h.01M566.9 551.5h.01M561.3 582.7h.01"/><path stroke-width="8" d="M557.4 574.9h.01M533.6 584.8h.01M585.3 566.1h.01"/><path stroke-width="5.2" d="M546.8 553.3h.01M561.1 575.3h.01M554.8 571.7h.01M555.2 564.9h.01M542.4 557.9h.01M544.8 564.5h.01M543.8 576.4h.01M530.2 566.5h.01M550.3 574.1h.01M548.2 587.9h.01M541.9 569.2h.01M539.2 563.9h.01M567 549.8h.01M534.9 571.2h.01M529.3 573.9h.01"/><path stroke-width="6.2" d="M556.9 586.1h.01M534.5 556.3h.01M533 581.8h.01M521.6 564.7h.01M573.5 573.3h.01M537.4 589.3h.01M564.3 555.2h.01"/><path stroke-width="8" d="M563.6 565.1h.01M557.7 554.6h.01"/><path stroke-width="5.2" d="M562.7 564.9h.01M557.3 575.1h.01M540.9 566.2h.01M546.3 574.9h.01M546.1 558.4h.01M558.7 589.7h.01M540 578.4h.01M542.5 552.9h.01M556.4 553.7h.01M553.5 584.7h.01M564.3 570.2h.01M562.3 574.1h.01M545.5 567.9h.01M542.2 572.9h.01M533.9 560.4h.01M533.4 572.2h.01M552 575.1h.01M522.7 568.7h.01"/><path stroke-width="5.2" d="M543.8 572.1h.01M543 553.5h.01M557.1 553.8h.01M559.2 571.3h.01M562.5 577.5h.01M545.9 562.1h.01M558.9 564.3h.01M536.4 560.2h.01"/><path stroke-width="6.2" d="M563.5 567.7h.01M548.8 555.5h.01M564.7 562.5h.01M551.5 585.2h.01"/><path stroke-width="5.2" d="M545.1 574h.01M542.9 556.7h.01M548.6 557.1h.01M564.6 565.4h.01"/><path stroke-width="5.2" d="M544 575.3h.01M545.6 555.3h.01"/></g>
<g fill="none" stroke="#2a80b9" stroke-opacity="0.24" stroke-linecap="round"><path stroke-width="5.2" d="M454.8 584.6h.01M485.2 632.2h.01M483.2 593.3h.01M460.3 627.7h.01M460.8 572.6h.01M481.8 610.9h.01M471.6 559h.01M489.1 590.1h.01M499.8 523.9h.01M468.3 571.3h.01M470.3 578.2h.01M474.4 610.8h.01M470.8 585.2h.01M453.5 608.4h.01M465.3 618.7h.01M488 608.9h.01M483.6 540h.01M457.3 621.4h.01M488.8 574.8h.01M478.9 575.9h.01M469.1 594.6h.01M500.7 534.1h.01M481.9 606.4h.01M486.2 535.9h.01M465.5 605.2h.01M478.2 595.6h.01M462.2 583.9h.01M487 616.5h.01M492.8 563.8h.01M475.6 583.4h.01M473.8 538.6h.01M484.5 549.3h.01M481 531h.01M465.9 580.9h.01M488.1 641h.01M465.2 555.7h.01M486.7 581.7h.01M477.3 619.3h.01M462 642.1h.01M477.4 605.6h.01M474.5 572.1h.01M476.1 529.1h.01M478.7 542.3h.01M492.3 605.5h.01M480.7 557.7h.01M490.3 585.6h.01M498.2 539.9h.01M457.2 548.3h.01M480.1 536h.01M456.8 598h.01M434.2 645.6h.01M477.6 589.5h.01M484.8 588.8h.01M483 584.7h.01M471.6 629.6h.01M468.4 563.8h.01M461.8 602.7h.01M461.2 612.1h.01M486.7 627.9h.01M464.3 633.3h.01M479.6 601h.01M484.2 526.9h.01M448.3 621.6h.01M484.9 577.2h.01M472.1 618.3h.01M499.7 571.5h.01M454.4 591.9h.01M454.6 625.8h.01M472.2 544.1h.01M477.8 517.3h.01M496.5 607.8h.01M451 602.2h.01M466.5 525.1h.01M461.2 652.1h.01M471.8 526.6h.01M497.4 576.2h.01M465.7 600.1h.01M496.2 593h.01M491.6 525.3h.01M486.2 561.9h.01M476.3 657.2h.01M464.5 591.3h.01M486 622.6h.01M480 632.3h.01M492.4 539.7h.01M455.2 577.2h.01M503.5 598.8h.01M471.9 604h.01M450.3 584.5h.01M460.2 563.9h.01M475 623.7h.01M495.9 518.6h.01M521.2 616.6h.01M491.4 621.2h.01M493 545.3h.01M444.1 567.7h.01M465.1 574.4h.01M489.2 558.4h.01M473.6 598.2h.01M458.3 633.7h.01M495.1 597.7h.01M486 604.2h.01M470.3 552.3h.01M477.3 642h.01M479.7 589.2h.01M475 590.1h.01M448.6 570.1h.01M444.1 643.9h.01M477.9 584.2h.01M466.4 623.2h.01M481 623.5h.01M476.6 549.6h.01M471 586h.01M454.5 615.2h.01M492 579.1h.01M467 582.1h.01"/><path stroke-width="6.2" d="M494.8 534.4h.01M487.9 542.4h.01M473 598.4h.01M473.1 565.2h.01M483.1 568.6h.01M492.4 630.7h.01M487.2 530.9h.01M467.8 610.1h.01M500 589.5h.01M494.6 550.6h.01"/><path stroke-width="8" d="M488.7 597.2h.01M451.1 641h.01"/><path stroke-width="5.2" d="M474.1 601.9h.01M460.4 621h.01M485 572.8h.01M473.9 568.7h.01M465.3 594.1h.01M464.8 586.1h.01M459.4 583.6h.01M482.6 594.2h.01M475.8 585.1h.01M471.6 610.2h.01M465.7 578.9h.01M481.7 548.5h.01M451.7 607.2h.01M468.5 553.8h.01M478.1 542.7h.01M471 590.6h.01M478.7 568.8h.01M477.2 605.1h.01M469.6 604.4h.01M486.2 538.4h.01M487.3 568.5h.01M471.9 595.8h.01M477.1 610h.01M489.6 630.4h.01M477.5 595.5h.01M481.4 576.4h.01M496.4 539.6h.01M488.4 544.6h.01M495.7 530.5h.01M461.1 603.4h.01M483.9 605.7h.01M458.8 597.1h.01M466.9 607.9h.01M487.2 643.7h.01M468.1 631.6h.01M452.9 588.1h.01M479.1 589.6h.01M490.2 535.3h.01M463.8 598.9h.01M463.2 569.3h.01M467.2 566.9h.01M469.2 599.4h.01M473.1 617.6h.01M481.8 539.9h.01M484 526.9h.01M461.2 616.4h.01M462.8 644.8h.01M488.9 563.9h.01M450.5 600.7h.01M454.9 619.2h.01M471.4 545.5h.01M456.6 625.1h.01M454.2 594.4h.01M458.3 577.5h.01M485.2 628.6h.01M483.7 611.7h.01M451.7 579h.01M466.2 616.5h.01M463 625.3h.01M475.2 574.6h.01M491.6 585.5h.01M481.1 581.9h.01M487.5 590.4h.01M457.7 608.5h.01M453.9 628.8h.01M486.8 582.8h.01M486.2 621.8h.01M474.6 556.3h.01M486 600.3h.01M501.5 532.8h.01M491.8 547.9h.01M482.6 616.1h.01M499.7 586.5h.01"/><path stroke-width="6.2" d="M470.8 583.4h.01M484.1 532.5h.01M470.9 560.8h.01M469.6 575.4h.01M489.8 595.2h.01M483.3 586.7h.01M467.3 621.4h.01M472.1 624.9h.01M493.8 621.6h.01"/><path stroke-width="8" d="M478.7 621h.01M480.1 560.6h.01M465.3 558.4h.01"/><path stroke-width="5.2" d="M475.8 600.4h.01M458.6 624.6h.01M474.5 566.1h.01M470 568.7h.01M459.5 582.6h.01M474.5 583.6h.01M487.1 535.8h.01M481.3 552.1h.01M466.1 576.7h.01M483.3 591.4h.01M464.2 619.5h.01M467.6 586.3h.01M467.9 606.4h.01M468.8 594.4h.01M461.8 587.7h.01M480.8 541.8h.01M469.5 600.5h.01M490.9 626.4h.01M479 585.4h.01M496.6 540.7h.01M458.3 594.2h.01M494.8 535.9h.01M479.3 579.8h.01M478.6 606.6h.01M475.4 618.6h.01M488.8 543.5h.01M479.8 619.6h.01M480.3 535.3h.01M487.9 586.9h.01M468.6 560.9h.01M477 570h.01M464.7 599.7h.01M472.1 631.9h.01M475 560.1h.01M485.7 643.7h.01M468.7 580.9h.01M465 611.9h.01M470.8 575.3h.01M468.8 555.3h.01M470.8 621.4h.01M485.1 540.6h.01M459.7 603.2h.01M468.7 543.6h.01M458.1 613.4h.01M451.7 621.1h.01M477.3 575.6h.01M486.2 529.6h.01M454.7 588.6h.01M492.3 584.4h.01M475.3 545.1h.01M462.6 593.3h.01M485.1 626.8h.01M479.8 558.5h.01M454.5 579.3h.01M484 574.9h.01M473.3 605.3h.01M491.6 631.5h.01M480.7 591h.01M466.1 630.2h.01"/><path stroke-width="6.2" d="M482.7 569.2h.01M476.1 540.2h.01M485.2 596.2h.01M452 606.1h.01M487.3 613.1h.01M483.5 561.6h.01"/><path stroke-width="8" d="M475.3 593.2h.01M477.4 612.5h.01"/><path stroke-width="5.2" d="M486.5 571.3h.01M472.1 599.3h.01M471.8 583.9h.01M478 570.2h.01M462.8 578h.01M475.3 586.9h.01M483.2 590.3h.01M476.9 582.1h.01M479 598.7h.01M470.1 595.1h.01M487.3 593.3h.01M468.8 577.1h.01M486 540.1h.01M477.1 594.6h.01M491.5 535.9h.01M481.8 585.3h.01M460.7 584.3h.01M461.8 603h.01M498.5 539.8h.01M478.3 538.1h.01M471.7 629.1h.01M467.7 602.1h.01M486.5 583.8h.01M452.9 604.7h.01M453.4 620.1h.01M485.6 640.1h.01M473.8 599.7h.01M484.2 611.3h.01M469.1 572.6h.01M492.4 546h.01M474.1 576.4h.01M456.3 596.9h.01M473.5 613.6h.01M487.4 529.6h.01M469 608.8h.01M493.4 587.2h.01M484.2 578.5h.01M472.8 624.7h.01M472.5 603.9h.01M466.5 592.1h.01M472.1 590h.01M483 595.7h.01M468.9 553.9h.01"/><path stroke-width="6.2" d="M477.3 604.7h.01M463.8 621.5h.01M478.3 618.2h.01M479.5 546.4h.01M470 559.3h.01M467.3 586.2h.01"/><path stroke-width="8" d="M488.7 598.9h.01M472.3 568h.01M469.2 617.9h.01"/><path stroke-width="5.2" d="M468.6 583.8h.01M466.4 596.3h.01M464.7 579.6h.01M480.5 579.7h.01M461.1 623.7h.01M479.6 569h.01M484.9 589.6h.01M479.3 619.9h.01M476.2 584.7h.01M468.4 576.2h.01M484.7 569.5h.01M488.5 538.1h.01M484.8 594.9h.01M476.2 593.4h.01M471.7 572.3h.01M467.1 569h.01M482.3 540.9h.01M474.2 604.5h.01M472.9 557.1h.01M473 617.4h.01M479.7 589.7h.01M466.9 604h.01M471.3 561.3h.01M453.6 623.7h.01M481.8 598.2h.01M478.9 607.7h.01M486.2 582.9h.01M463.2 619.3h.01M471.6 592.1h.01M470.4 607h.01M467.1 613.4h.01M471.5 579.4h.01M459.2 597h.01M466.2 551.9h.01"/><path stroke-width="6.2" d="M472.1 599.8h.01M491.6 534.1h.01M488.5 543.9h.01"/><path stroke-width="8" d="M496.9 543.7h.01M461 603.8h.01M486.8 529.4h.01M474.3 623.8h.01"/><path stroke-width="5.2" d="M469.5 597.9h.01M476.7 568.1h.01M470.8 584.5h.01M463 582.4h.01M463.9 620.5h.01M479.6 573.2h.01M475.1 598.2h.01M481.2 568.1h.01M478.6 592.1h.01M469.9 567.9h.01M468 574.4h.01M471 556.2h.01M476.6 586.7h.01M487.1 536.2h.01M469.9 604.8h.01M467.1 592h.01M460.8 604.9h.01M470.5 595.3h.01M482.6 578.5h.01M459.5 598.2h.01M480.9 538.2h.01M475.5 607h.01"/><path stroke-width="6.2" d="M481.9 587.2h.01M476 581.1h.01M486.2 542.5h.01"/><path stroke-width="8" d="M475.5 621.9h.01M467.6 612.1h.01"/><path stroke-width="5.2" d="M471.8 596.4h.01M480.2 619.1h.01M471.3 582.2h.01M481.2 584h.01M473.3 587.6h.01M467.3 599.5h.01M480.8 590.7h.01M470.6 576.2h.01M482.7 572.1h.01M470.5 555.4h.01M484.7 538.7h.01M466.1 579.4h.01M473.4 604h.01M468.9 587.3h.01M474.9 621.4h.01M460.8 620.7h.01M489.4 544.4h.01M467.7 565.2h.01M469.2 611.7h.01"/><path stroke-width="6.2" d="M478.5 566.4h.01M477.1 600.4h.01M485.8 589.9h.01M476 572.6h.01"/><path stroke-width="8" d="M481.8 596.2h.01"/><path stroke-width="5.2" d="M469.8 595h.01M481.5 582.6h.01M474.1 584.6h.01M474.4 594.2h.01M477.9 590.5h.01M469.8 577.4h.01M462.9 581.3h.01M488.2 540.1h.01M482 594.3h.01M475.6 567.5h.01M472.4 556h.01M486.3 587.4h.01M476.4 599.8h.01M473.1 606.8h.01"/><path stroke-width="6.2" d="M476.1 619.6h.01M471.7 601.2h.01"/><path stroke-width="5.2" d="M478.7 584.4h.01M476.3 588.4h.01M472.1 585h.01M480.1 591.1h.01M475.5 617.1h.01M470 594h.01M466 582.2h.01M487 543.7h.01"/><path stroke-width="6.2" d="M472.9 598.1h.01M480.4 621.7h.01"/><path stroke-width="8" d="M465.2 575.2h.01"/><path stroke-width="5.2" d="M470.4 598.9h.01M480.2 584.7h.01M471.2 587.1h.01M478.9 589.1h.01M464.3 579.7h.01M476.9 593.6h.01M477.8 617.4h.01M473.1 618.3h.01M466.4 575.7h.01"/></g>
<g fill="none" stroke="#9b59b6" stroke-opacity="0.32" stroke-linecap="round"><path stroke-width="5.2" d="M498.4 602.1h.01M501.5 620.9h.01M510.1 593.3h.01M495.9 573.5h.01M503.7 575h.01M494.8 591.5h.01M488.2 616.2h.01M502.3 589h.01M499.1 615.3h.01M492.7 611.2h.01M507.9 599.1h.01M479.6 589.6h.01M490.1 574.9h.01M493.2 584.4h.01M488.2 599.4h.01M503.5 596.7h.01M498.8 630.6h.01M487.1 585.7h.01M501.8 563.7h.01M487.7 591.1h.01M507.6 619.1h.01M494.2 603.6h.01M479 600.9h.01M509.9 588.4h.01M494 619.7h.01M515.4 586.3h.01M492 625h.01M486.7 606.3h.01M512.3 570.9h.01M502.8 583.5h.01M487.3 611.7h.01M508.3 580.3h.01M483.8 595h.01M507.8 610.2h.01M502.1 602.7h.01M482 605.2h.01M502.3 570.3h.01M514.8 595.4h.01M496.1 585.7h.01M497 587.1h.01M501.9 598.2h.01M504.9 628h.01M504.4 607h.01M516.2 603.7h.01M495.1 569.2h.01M500.7 609.7h.01M491.4 595.4h.01M492.7 602.8h.01M497.1 602.2h.01"/><path stroke-width="6.2" d="M489.9 579.9h.01M496 597h.01M501.9 608.3h.01M497.4 580.9h.01"/><path stroke-width="5.2" d="M497.9 599h.01M504.1 586h.01M506.1 599.4h.01M502.5 603.5h.01M491.7 590.4h.01M493.9 581.5h.01M508.1 591.1h.01M500.1 613.2h.01M491.7 600.7h.01M490.6 585.2h.01M500.8 595.3h.01M496.7 589.6h.01M485.3 597.6h.01M487.2 573.5h.01M486.7 592.2h.01M494.4 612.7h.01M497.7 605.9h.01M485.3 587.5h.01M494.7 576.8h.01M499.4 583.2h.01M506.2 616.3h.01M496.7 569.7h.01M510.5 596h.01M509.1 603h.01M495 594.7h.01M492.1 573h.01M506.5 579.6h.01M505.6 608.3h.01M496.7 620h.01M501.4 561.2h.01M498.1 605h.01M499.9 599.9h.01M486 603h.01M490.6 596.3h.01"/><path stroke-width="6.2" d="M499.7 577.4h.01M487.6 611.8h.01M516.9 582.7h.01M506.3 564.3h.01M498.5 584.7h.01M491.3 601.5h.01"/><path stroke-width="5.2" d="M497.1 598.9h.01M506.7 598.4h.01M495.1 590.6h.01M490.2 582.4h.01M499.5 614.3h.01M498.9 594.6h.01M502.9 578.6h.01M503.6 604.5h.01M498.1 575.9h.01M484.6 590.2h.01M499.9 609.7h.01M498.5 604.7h.01M491.6 573.5h.01M489.7 589.4h.01M491.2 598.1h.01M495.9 570.5h.01M508.5 588.6h.01M493.4 614.1h.01M503.8 595.1h.01M507 618.2h.01M491.2 604.7h.01M500.1 600.1h.01M486.9 616.2h.01M486.9 585.7h.01M493.8 583.9h.01M486 574.8h.01M495.4 580.7h.01M509.2 593h.01M491.3 610.1h.01M506.6 581.2h.01M499 587.6h.01M495.4 603.2h.01"/><path stroke-width="6.2" d="M486.8 607.5h.01"/><path stroke-width="8" d="M500.3 584h.01"/><path stroke-width="5.2" d="M500.4 601h.01M499.3 613.2h.01M498.2 589.9h.01M491.6 590.6h.01M493 582.9h.01M503.7 606.8h.01M494.2 604.8h.01M488.1 585.3h.01M505.2 583.8h.01M484.3 590.8h.01M500.8 586h.01M501.6 574.1h.01M499 601.7h.01M497.8 571.7h.01M500.8 617.6h.01M494.9 577h.01M498.4 597.1h.01M492.5 570.8h.01M488.6 574.9h.01M495.2 617.4h.01M493.4 598.2h.01M495.7 587.4h.01"/><path stroke-width="6.2" d="M503.7 596.9h.01M492.5 598.9h.01M498.5 581.2h.01M498.5 607.3h.01M488.9 604.3h.01M490.1 611.2h.01M506.6 616h.01"/><path stroke-width="5.2" d="M500.7 600.5h.01M500.8 580.7h.01M491.1 580.8h.01M499.4 589.7h.01M495.8 585.8h.01M500.5 607.4h.01M490.6 598.9h.01M488.8 588.2h.01M499.4 594.1h.01M486 593.2h.01M494.9 605.8h.01M505.6 582.6h.01M496.7 602.9h.01M488.4 610.9h.01M481.9 589.4h.01M491.8 614.5h.01M509.3 619.2h.01M495.9 581h.01"/><path stroke-width="6.2" d="M503.8 614.4h.01M504.6 596.3h.01M493.5 593.3h.01M497.9 576.2h.01M498 617.9h.01M486.7 576.4h.01"/><path stroke-width="5.2" d="M498.2 602h.01M502.7 593.2h.01M490.3 591.8h.01M501 580.1h.01M494 599.4h.01M501.8 611.7h.01M491.5 586h.01M496.9 577.3h.01M498.6 597.3h.01M487 587h.01M495 593.1h.01M493.5 613.6h.01M498 584h.01M505.7 579.5h.01M504.9 585.4h.01M503.4 599.2h.01M493.5 604.3h.01"/><path stroke-width="6.2" d="M491.9 580.4h.01M496.6 588.5h.01M504.7 605h.01M496.2 607.7h.01M498.3 602.3h.01"/><path stroke-width="5.2" d="M497.3 600.4h.01M493.4 591.8h.01M496 587.4h.01M500.4 583.7h.01M491.4 585.1h.01M491.2 599.7h.01M497.2 606.1h.01M488.6 589.3h.01M500.3 613.2h.01M494.3 581.5h.01M502 591.8h.01M501.3 597.5h.01M499.2 576.8h.01M505.7 594.5h.01M494 575.6h.01M496.6 601.9h.01"/><path stroke-width="6.2" d="M502.8 603.4h.01M488.9 580.9h.01M498.1 593.8h.01"/><path stroke-width="5.2" d="M498.1 601.2h.01M494.7 586.5h.01M499.5 586.1h.01M500.5 580.6h.01M501.2 607.5h.01M490.9 590.6h.01M496 606.3h.01M495.6 579.5h.01M490.9 602.4h.01M493 594.6h.01M491.5 582.5h.01M501.4 594h.01M487.1 586.9h.01M495.4 605.7h.01"/><path stroke-width="6.2" d="M498.6 599h.01"/><path stroke-width="8" d="M500.5 573.7h.01"/><path stroke-width="5.2" d="M498 598.5h.01M499.2 602.8h.01M502.9 606.2h.01M496.4 602.8h.01M491.5 598.6h.01M498.4 610.2h.01M496.6 577.1h.01M501.6 591.9h.01M499.1 581.4h.01"/><path stroke-width="6.2" d="M494.6 584.6h.01M489.2 589.8h.01"/><path stroke-width="8" d="M498.5 589.9h.01"/><path stroke-width="5.2" d="M499.1 599.4h.01M493.4 583.2h.01M496.7 588.8h.01M502.5 603.2h.01M500.2 609.3h.01M495.4 601.8h.01M498.1 584.2h.01M494.4 609h.01M493.8 595.4h.01M486.8 591.3h.01"/><path stroke-width="8" d="M492.9 579.3h.01"/></g>
<g class="rh" stroke="#eba855" stroke-opacity=".62" stroke-width=".8"><g fill="#1fbcd2" fill-opacity=".16"><circle cx="562.3" cy="428.7" r="2.7"/><circle cx="559.0" cy="430.1" r="2.7"/><circle cx="564.6" cy="420.6" r="2.7"/><circle cx="577.0" cy="414.7" r="2.7"/><circle cx="569.8" cy="426.1" r="2.7"/><circle cx="567.6" cy="369.2" r="2.7"/><circle cx="560.5" cy="431.6" r="2.7"/><circle cx="576.0" cy="390.1" r="2.7"/><circle cx="576.2" cy="437.9" r="2.7"/><circle cx="569.7" cy="403.2" r="2.7"/><circle cx="569.1" cy="435.6" r="2.7"/><circle cx="560.5" cy="424.2" r="2.7"/><circle cx="570.5" cy="423.5" r="2.7"/><circle cx="564.9" cy="403.2" r="2.7"/><circle cx="570.0" cy="453.2" r="2.7"/><circle cx="560.7" cy="433.2" r="2.7"/><circle cx="565.3" cy="456.9" r="2.7"/><circle cx="571.3" cy="436.1" r="2.7"/><circle cx="567.9" cy="474.3" r="2.7"/><circle cx="565.6" cy="454.9" r="2.7"/><circle cx="581.3" cy="451.5" r="2.7"/><circle cx="578.1" cy="460.5" r="2.7"/><circle cx="582.6" cy="433.9" r="2.7"/><circle cx="590.3" cy="426.9" r="2.7"/><circle cx="574.1" cy="448.4" r="2.7"/><circle cx="556.2" cy="400.5" r="2.7"/><circle cx="557.8" cy="434.8" r="2.7"/><circle cx="560.7" cy="464.2" r="2.7"/><circle cx="574.0" cy="407.2" r="2.7"/><circle cx="583.8" cy="433.3" r="2.7"/><circle cx="589.6" cy="436.6" r="2.7"/><circle cx="572.4" cy="417.5" r="2.7"/><circle cx="566.6" cy="450.5" r="2.7"/><circle cx="584.4" cy="371.2" r="2.7"/><circle cx="577.9" cy="444.0" r="2.7"/><circle cx="565.2" cy="399.9" r="2.7"/><circle cx="571.4" cy="404.2" r="2.7"/><circle cx="560.3" cy="457.5" r="2.7"/><circle cx="578.6" cy="436.0" r="2.7"/><circle cx="558.5" cy="434.6" r="2.7"/><circle cx="553.8" cy="418.4" r="2.7"/><circle cx="570.0" cy="431.2" r="2.7"/><circle cx="546.5" cy="428.6" r="2.7"/><circle cx="582.6" cy="443.2" r="2.7"/><circle cx="560.4" cy="415.5" r="2.7"/><circle cx="560.6" cy="459.3" r="2.7"/><circle cx="566.2" cy="423.5" r="2.7"/><circle cx="566.9" cy="429.5" r="2.7"/><circle cx="569.9" cy="462.7" r="2.7"/><circle cx="565.2" cy="448.8" r="2.7"/><circle cx="568.4" cy="451.7" r="2.7"/><circle cx="568.2" cy="413.9" r="2.7"/><circle cx="568.3" cy="425.3" r="2.7"/><circle cx="567.1" cy="446.2" r="2.7"/><circle cx="566.4" cy="446.8" r="2.7"/><circle cx="558.5" cy="472.2" r="2.7"/><circle cx="576.9" cy="441.1" r="2.7"/><circle cx="564.8" cy="464.6" r="2.7"/><circle cx="564.6" cy="455.0" r="2.7"/><circle cx="580.1" cy="401.9" r="2.7"/><circle cx="560.6" cy="421.6" r="2.7"/><circle cx="567.0" cy="393.7" r="2.7"/><circle cx="569.7" cy="407.4" r="2.7"/><circle cx="581.3" cy="420.9" r="2.7"/><circle cx="559.3" cy="439.8" r="2.7"/><circle cx="567.6" cy="454.2" r="2.7"/><circle cx="588.5" cy="404.0" r="2.7"/><circle cx="577.1" cy="438.0" r="2.7"/><circle cx="570.1" cy="438.7" r="2.7"/><circle cx="573.3" cy="441.7" r="2.7"/><circle cx="564.0" cy="398.6" r="2.7"/><circle cx="557.7" cy="448.6" r="2.7"/><circle cx="570.8" cy="454.7" r="2.7"/><circle cx="572.3" cy="473.9" r="2.7"/><circle cx="567.9" cy="449.0" r="2.7"/><circle cx="585.9" cy="423.0" r="2.7"/><circle cx="564.3" cy="434.4" r="2.7"/><circle cx="564.1" cy="421.8" r="2.7"/><circle cx="581.2" cy="494.6" r="2.7"/><circle cx="565.0" cy="432.6" r="2.7"/><circle cx="565.0" cy="469.4" r="2.7"/><circle cx="549.7" cy="460.7" r="2.7"/><circle cx="581.9" cy="406.1" r="2.7"/><circle cx="573.8" cy="447.2" r="2.7"/><circle cx="575.5" cy="465.6" r="2.7"/><circle cx="571.8" cy="373.8" r="2.7"/><circle cx="559.7" cy="408.1" r="2.7"/><circle cx="563.9" cy="443.3" r="2.7"/><circle cx="586.0" cy="420.8" r="2.7"/><circle cx="580.4" cy="464.7" r="2.7"/><circle cx="552.6" cy="428.1" r="2.7"/><circle cx="562.1" cy="416.5" r="2.7"/><circle cx="565.2" cy="468.3" r="2.7"/><circle cx="567.8" cy="445.4" r="2.7"/><circle cx="571.9" cy="462.3" r="2.7"/><circle cx="562.7" cy="377.0" r="2.7"/><circle cx="577.5" cy="400.4" r="2.7"/><circle cx="579.8" cy="464.2" r="2.7"/><circle cx="560.7" cy="447.0" r="2.7"/><circle cx="570.5" cy="470.5" r="2.7"/><circle cx="582.3" cy="423.1" r="2.7"/><circle cx="559.6" cy="405.7" r="2.7"/><circle cx="574.1" cy="461.3" r="2.7"/><circle cx="566.3" cy="435.3" r="2.7"/><circle cx="559.7" cy="437.0" r="2.7"/><circle cx="551.7" cy="438.3" r="2.7"/><circle cx="587.1" cy="433.0" r="2.7"/><circle cx="562.5" cy="445.6" r="2.7"/><circle cx="567.7" cy="418.3" r="2.7"/><circle cx="569.7" cy="456.1" r="2.7"/><circle cx="575.4" cy="427.9" r="2.7"/><circle cx="569.5" cy="421.2" r="2.7"/><circle cx="571.1" cy="441.3" r="2.7"/><circle cx="557.1" cy="441.4" r="2.7"/><circle cx="571.9" cy="407.6" r="2.7"/><circle cx="553.8" cy="420.0" r="2.7"/><circle cx="576.0" cy="426.4" r="2.7"/><circle cx="579.2" cy="432.7" r="2.7"/><circle cx="568.0" cy="454.1" r="2.7"/><circle cx="567.6" cy="443.7" r="2.7"/><circle cx="559.6" cy="421.5" r="2.7"/><circle cx="556.7" cy="454.7" r="2.7"/><circle cx="583.7" cy="449.0" r="2.7"/><circle cx="567.7" cy="504.2" r="2.7"/><circle cx="558.6" cy="399.4" r="2.7"/><circle cx="565.8" cy="430.3" r="2.7"/><circle cx="577.6" cy="427.3" r="2.7"/><circle cx="577.2" cy="420.9" r="2.7"/><circle cx="557.9" cy="439.4" r="2.7"/><circle cx="566.4" cy="464.1" r="2.7"/><circle cx="579.3" cy="449.2" r="2.7"/><circle cx="577.5" cy="440.6" r="2.7"/><circle cx="588.2" cy="423.3" r="2.7"/><circle cx="571.5" cy="451.8" r="2.7"/><circle cx="548.6" cy="414.1" r="2.7"/><circle cx="570.5" cy="475.4" r="2.7"/><circle cx="560.8" cy="463.1" r="2.7"/><circle cx="555.9" cy="443.0" r="2.7"/><circle cx="588.4" cy="443.8" r="2.7"/><circle cx="571.4" cy="431.7" r="2.7"/><circle cx="557.5" cy="423.6" r="2.7"/><circle cx="580.8" cy="459.7" r="2.7"/><circle cx="583.0" cy="426.8" r="2.7"/><circle cx="571.4" cy="469.2" r="2.7"/><circle cx="564.1" cy="414.1" r="2.7"/><circle cx="573.5" cy="417.3" r="2.7"/><circle cx="579.8" cy="439.3" r="2.7"/><circle cx="564.5" cy="470.7" r="2.7"/><circle cx="578.9" cy="441.8" r="2.7"/><circle cx="572.8" cy="469.6" r="2.7"/><circle cx="573.0" cy="438.3" r="2.7"/><circle cx="568.5" cy="401.8" r="2.7"/><circle cx="576.9" cy="457.2" r="2.7"/><circle cx="562.6" cy="427.7" r="2.7"/><circle cx="571.5" cy="478.7" r="2.7"/><circle cx="571.9" cy="440.5" r="2.7"/><circle cx="585.7" cy="473.2" r="2.7"/><circle cx="580.9" cy="454.3" r="2.7"/><circle cx="553.6" cy="468.2" r="2.7"/><circle cx="565.8" cy="438.3" r="2.7"/><circle cx="568.8" cy="440.5" r="2.7"/><circle cx="569.6" cy="452.6" r="2.7"/><circle cx="564.8" cy="466.6" r="2.7"/><circle cx="570.1" cy="406.1" r="2.7"/><circle cx="582.1" cy="434.9" r="2.7"/><circle cx="576.8" cy="383.6" r="2.7"/><circle cx="568.6" cy="444.6" r="2.7"/><circle cx="562.8" cy="385.8" r="2.7"/><circle cx="566.5" cy="411.7" r="2.7"/><circle cx="572.3" cy="468.8" r="2.7"/><circle cx="565.9" cy="368.5" r="2.7"/><circle cx="554.4" cy="367.9" r="2.7"/><circle cx="551.4" cy="363.4" r="2.7"/><circle cx="559.8" cy="363.7" r="2.7"/><circle cx="565.1" cy="372.4" r="2.7"/><circle cx="560.6" cy="367.7" r="2.7"/><circle cx="551.7" cy="361.7" r="2.7"/><circle cx="556.3" cy="371.4" r="2.7"/><circle cx="557.0" cy="359.5" r="2.7"/><circle cx="548.8" cy="363.2" r="2.7"/><circle cx="562.6" cy="362.2" r="2.7"/><circle cx="557.3" cy="357.4" r="2.7"/><circle cx="565.4" cy="365.9" r="2.7"/><circle cx="553.9" cy="366.9" r="2.7"/><circle cx="550.2" cy="361.8" r="2.7"/><circle cx="550.4" cy="362.4" r="2.7"/><circle cx="550.9" cy="371.4" r="2.7"/><circle cx="553.1" cy="366.8" r="2.7"/><circle cx="549.4" cy="363.9" r="2.7"/><circle cx="563.8" cy="364.4" r="2.7"/><circle cx="553.4" cy="350.8" r="2.7"/><circle cx="560.3" cy="376.2" r="2.7"/><circle cx="549.3" cy="367.9" r="2.7"/><circle cx="557.2" cy="362.6" r="2.7"/><circle cx="564.0" cy="368.9" r="2.7"/><circle cx="554.2" cy="454.1" r="2.7"/><circle cx="573.5" cy="436.5" r="2.7"/><circle cx="578.1" cy="449.2" r="2.7"/><circle cx="571.1" cy="466.3" r="2.7"/><circle cx="523.9" cy="471.8" r="2.7"/><circle cx="561.0" cy="451.5" r="2.7"/><circle cx="579.8" cy="456.9" r="2.7"/><circle cx="529.8" cy="459.2" r="2.7"/><circle cx="585.6" cy="384.0" r="2.7"/><circle cx="556.3" cy="429.1" r="2.7"/><circle cx="541.2" cy="403.5" r="2.7"/><circle cx="564.7" cy="466.6" r="2.7"/><circle cx="554.9" cy="428.7" r="2.7"/><circle cx="537.8" cy="441.0" r="2.7"/><circle cx="570.1" cy="452.3" r="2.7"/><circle cx="578.1" cy="450.5" r="2.7"/><circle cx="566.5" cy="428.5" r="2.7"/><circle cx="596.6" cy="435.4" r="2.7"/><circle cx="543.8" cy="482.2" r="2.7"/><circle cx="579.1" cy="461.6" r="2.7"/><circle cx="554.2" cy="411.8" r="2.7"/><circle cx="537.7" cy="439.5" r="2.7"/><circle cx="564.1" cy="436.7" r="2.7"/><circle cx="566.1" cy="449.2" r="2.7"/><circle cx="558.2" cy="416.1" r="2.7"/><circle cx="540.1" cy="441.6" r="2.7"/><circle cx="583.6" cy="426.1" r="2.7"/><circle cx="547.4" cy="431.3" r="2.7"/><circle cx="576.2" cy="446.8" r="2.7"/><circle cx="552.5" cy="442.8" r="2.7"/><circle cx="535.8" cy="406.2" r="2.7"/><circle cx="539.7" cy="464.3" r="2.7"/><circle cx="555.3" cy="418.4" r="2.7"/><circle cx="510.6" cy="453.7" r="2.7"/><circle cx="543.0" cy="452.9" r="2.7"/><circle cx="552.6" cy="430.9" r="2.7"/><circle cx="545.8" cy="386.1" r="2.7"/><circle cx="549.3" cy="449.8" r="2.7"/><circle cx="559.8" cy="438.8" r="2.7"/><circle cx="541.0" cy="454.6" r="2.7"/><circle cx="561.2" cy="442.2" r="2.7"/><circle cx="542.4" cy="427.8" r="2.7"/><circle cx="561.8" cy="404.2" r="2.7"/><circle cx="544.7" cy="429.8" r="2.7"/><circle cx="531.4" cy="456.0" r="2.7"/><circle cx="559.0" cy="438.8" r="2.7"/><circle cx="566.3" cy="416.1" r="2.7"/><circle cx="578.2" cy="434.5" r="2.7"/><circle cx="524.7" cy="442.1" r="2.7"/><circle cx="523.4" cy="437.5" r="2.7"/><circle cx="573.0" cy="442.5" r="2.7"/><circle cx="563.1" cy="427.7" r="2.7"/><circle cx="556.5" cy="419.7" r="2.7"/><circle cx="597.1" cy="498.7" r="2.7"/><circle cx="567.2" cy="429.3" r="2.7"/><circle cx="581.2" cy="411.6" r="2.7"/><circle cx="550.8" cy="465.3" r="2.7"/><circle cx="564.9" cy="435.0" r="2.7"/><circle cx="523.6" cy="394.5" r="2.7"/><circle cx="561.4" cy="445.7" r="2.7"/></g><g fill="#27ae60" fill-opacity=".16"><circle cx="555.1" cy="389.0" r="2.7"/><circle cx="566.2" cy="381.3" r="2.7"/><circle cx="560.6" cy="378.1" r="2.7"/><circle cx="564.3" cy="372.9" r="2.7"/><circle cx="554.4" cy="381.3" r="2.7"/><circle cx="553.3" cy="378.0" r="2.7"/><circle cx="564.6" cy="390.0" r="2.7"/><circle cx="554.9" cy="383.1" r="2.7"/><circle cx="553.8" cy="373.2" r="2.7"/><circle cx="554.4" cy="376.0" r="2.7"/><circle cx="553.3" cy="379.1" r="2.7"/><circle cx="544.5" cy="385.4" r="2.7"/></g><g fill="#e67e22" fill-opacity=".16"><circle cx="551.9" cy="501.0" r="2.7"/><circle cx="556.6" cy="505.2" r="2.7"/><circle cx="515.0" cy="491.2" r="2.7"/><circle cx="539.7" cy="498.5" r="2.7"/><circle cx="570.4" cy="479.1" r="2.7"/><circle cx="551.2" cy="497.9" r="2.7"/><circle cx="547.9" cy="506.1" r="2.7"/><circle cx="533.0" cy="502.9" r="2.7"/><circle cx="535.6" cy="483.7" r="2.7"/><circle cx="550.2" cy="478.6" r="2.7"/><circle cx="543.5" cy="497.8" r="2.7"/><circle cx="569.8" cy="491.4" r="2.7"/><circle cx="546.2" cy="501.6" r="2.7"/><circle cx="577.1" cy="471.9" r="2.7"/><circle cx="557.8" cy="490.3" r="2.7"/><circle cx="560.8" cy="506.2" r="2.7"/><circle cx="543.0" cy="493.0" r="2.7"/><circle cx="523.7" cy="505.2" r="2.7"/><circle cx="545.1" cy="498.4" r="2.7"/><circle cx="544.1" cy="481.2" r="2.7"/><circle cx="547.1" cy="482.5" r="2.7"/><circle cx="539.9" cy="495.7" r="2.7"/><circle cx="558.9" cy="505.5" r="2.7"/><circle cx="512.8" cy="511.1" r="2.7"/><circle cx="535.3" cy="509.9" r="2.7"/><circle cx="561.2" cy="508.7" r="2.7"/><circle cx="561.6" cy="486.9" r="2.7"/><circle cx="527.4" cy="510.4" r="2.7"/><circle cx="554.4" cy="491.0" r="2.7"/><circle cx="564.4" cy="487.9" r="2.7"/><circle cx="551.2" cy="474.9" r="2.7"/><circle cx="559.8" cy="487.6" r="2.7"/><circle cx="523.6" cy="495.3" r="2.7"/><circle cx="538.5" cy="483.7" r="2.7"/><circle cx="535.3" cy="511.7" r="2.7"/><circle cx="561.4" cy="500.4" r="2.7"/><circle cx="545.6" cy="494.5" r="2.7"/><circle cx="560.7" cy="475.7" r="2.7"/><circle cx="510.2" cy="515.7" r="2.7"/><circle cx="542.5" cy="525.9" r="2.7"/><circle cx="540.4" cy="494.9" r="2.7"/><circle cx="550.0" cy="505.9" r="2.7"/><circle cx="498.3" cy="517.4" r="2.7"/><circle cx="530.4" cy="487.1" r="2.7"/><circle cx="526.5" cy="493.6" r="2.7"/><circle cx="533.2" cy="486.0" r="2.7"/><circle cx="564.7" cy="497.5" r="2.7"/><circle cx="521.7" cy="510.7" r="2.7"/><circle cx="530.5" cy="489.9" r="2.7"/><circle cx="544.7" cy="470.2" r="2.7"/><circle cx="542.0" cy="514.6" r="2.7"/><circle cx="534.8" cy="530.8" r="2.7"/><circle cx="529.1" cy="501.8" r="2.7"/><circle cx="524.4" cy="511.8" r="2.7"/><circle cx="546.9" cy="498.4" r="2.7"/><circle cx="545.8" cy="494.1" r="2.7"/><circle cx="545.8" cy="499.5" r="2.7"/><circle cx="552.3" cy="482.6" r="2.7"/><circle cx="519.5" cy="518.2" r="2.7"/><circle cx="536.4" cy="517.3" r="2.7"/><circle cx="529.6" cy="497.2" r="2.7"/><circle cx="521.8" cy="499.0" r="2.7"/><circle cx="544.0" cy="544.9" r="2.7"/><circle cx="511.2" cy="518.2" r="2.7"/><circle cx="546.7" cy="531.0" r="2.7"/><circle cx="523.9" cy="511.1" r="2.7"/><circle cx="527.3" cy="490.2" r="2.7"/><circle cx="527.9" cy="498.0" r="2.7"/><circle cx="536.6" cy="509.9" r="2.7"/><circle cx="523.4" cy="502.0" r="2.7"/><circle cx="514.9" cy="514.6" r="2.7"/><circle cx="553.8" cy="504.0" r="2.7"/><circle cx="556.0" cy="498.5" r="2.7"/><circle cx="558.8" cy="493.1" r="2.7"/><circle cx="520.5" cy="511.1" r="2.7"/><circle cx="531.9" cy="502.4" r="2.7"/><circle cx="539.7" cy="504.8" r="2.7"/><circle cx="530.9" cy="501.3" r="2.7"/><circle cx="550.5" cy="470.5" r="2.7"/><circle cx="531.5" cy="508.7" r="2.7"/><circle cx="547.3" cy="494.8" r="2.7"/><circle cx="541.1" cy="494.3" r="2.7"/><circle cx="552.2" cy="511.2" r="2.7"/><circle cx="553.9" cy="490.9" r="2.7"/><circle cx="540.7" cy="493.2" r="2.7"/><circle cx="544.4" cy="490.1" r="2.7"/><circle cx="550.6" cy="489.9" r="2.7"/><circle cx="507.3" cy="519.0" r="2.7"/><circle cx="528.9" cy="514.2" r="2.7"/><circle cx="558.0" cy="483.0" r="2.7"/><circle cx="527.9" cy="501.3" r="2.7"/><circle cx="514.1" cy="511.1" r="2.7"/><circle cx="548.7" cy="488.2" r="2.7"/><circle cx="522.2" cy="504.7" r="2.7"/><circle cx="513.0" cy="510.0" r="2.7"/><circle cx="527.8" cy="497.1" r="2.7"/><circle cx="585.2" cy="499.0" r="2.7"/><circle cx="541.2" cy="528.1" r="2.7"/><circle cx="555.6" cy="493.4" r="2.7"/><circle cx="525.4" cy="519.0" r="2.7"/><circle cx="528.1" cy="490.1" r="2.7"/><circle cx="530.1" cy="513.0" r="2.7"/><circle cx="535.3" cy="502.3" r="2.7"/><circle cx="539.8" cy="501.7" r="2.7"/><circle cx="535.4" cy="495.0" r="2.7"/><circle cx="548.5" cy="470.0" r="2.7"/><circle cx="564.7" cy="491.6" r="2.7"/><circle cx="552.4" cy="485.1" r="2.7"/><circle cx="545.1" cy="499.4" r="2.7"/><circle cx="553.2" cy="490.6" r="2.7"/><circle cx="495.8" cy="504.8" r="2.7"/><circle cx="542.0" cy="493.4" r="2.7"/><circle cx="523.9" cy="514.4" r="2.7"/><circle cx="526.4" cy="502.9" r="2.7"/><circle cx="564.7" cy="518.0" r="2.7"/><circle cx="517.9" cy="509.0" r="2.7"/><circle cx="528.1" cy="510.4" r="2.7"/><circle cx="532.3" cy="507.4" r="2.7"/><circle cx="506.8" cy="507.8" r="2.7"/><circle cx="520.1" cy="496.2" r="2.7"/><circle cx="541.2" cy="503.7" r="2.7"/><circle cx="515.5" cy="510.1" r="2.7"/><circle cx="542.0" cy="499.3" r="2.7"/><circle cx="555.6" cy="484.8" r="2.7"/><circle cx="558.2" cy="486.2" r="2.7"/><circle cx="539.9" cy="493.1" r="2.7"/><circle cx="547.6" cy="491.9" r="2.7"/><circle cx="535.2" cy="494.9" r="2.7"/><circle cx="537.0" cy="500.3" r="2.7"/><circle cx="542.0" cy="494.0" r="2.7"/><circle cx="546.3" cy="514.4" r="2.7"/><circle cx="523.8" cy="512.2" r="2.7"/><circle cx="553.5" cy="475.8" r="2.7"/><circle cx="526.1" cy="510.4" r="2.7"/><circle cx="505.5" cy="501.5" r="2.7"/><circle cx="534.4" cy="473.8" r="2.7"/><circle cx="554.2" cy="516.6" r="2.7"/><circle cx="557.5" cy="477.0" r="2.7"/><circle cx="534.8" cy="481.6" r="2.7"/><circle cx="539.3" cy="511.0" r="2.7"/><circle cx="536.0" cy="500.6" r="2.7"/><circle cx="531.5" cy="493.4" r="2.7"/><circle cx="518.7" cy="528.7" r="2.7"/><circle cx="531.2" cy="511.1" r="2.7"/><circle cx="530.3" cy="511.8" r="2.7"/><circle cx="535.3" cy="483.7" r="2.7"/><circle cx="553.2" cy="508.8" r="2.7"/><circle cx="536.2" cy="492.4" r="2.7"/><circle cx="510.7" cy="514.0" r="2.7"/><circle cx="543.5" cy="511.6" r="2.7"/><circle cx="534.7" cy="493.8" r="2.7"/><circle cx="537.1" cy="509.1" r="2.7"/><circle cx="524.0" cy="496.7" r="2.7"/><circle cx="530.1" cy="489.4" r="2.7"/><circle cx="529.0" cy="501.6" r="2.7"/><circle cx="556.6" cy="499.0" r="2.7"/><circle cx="553.2" cy="497.0" r="2.7"/><circle cx="524.8" cy="506.5" r="2.7"/><circle cx="542.0" cy="492.6" r="2.7"/><circle cx="517.6" cy="508.0" r="2.7"/><circle cx="528.6" cy="494.7" r="2.7"/><circle cx="519.7" cy="515.0" r="2.7"/><circle cx="532.2" cy="478.9" r="2.7"/><circle cx="552.9" cy="474.0" r="2.7"/><circle cx="536.8" cy="495.4" r="2.7"/><circle cx="522.5" cy="520.5" r="2.7"/><circle cx="539.9" cy="494.0" r="2.7"/><circle cx="546.0" cy="482.9" r="2.7"/><circle cx="546.0" cy="498.2" r="2.7"/><circle cx="564.2" cy="493.0" r="2.7"/><circle cx="565.2" cy="500.5" r="2.7"/><circle cx="536.0" cy="501.6" r="2.7"/><circle cx="525.9" cy="504.4" r="2.7"/><circle cx="518.1" cy="515.2" r="2.7"/><circle cx="553.1" cy="479.8" r="2.7"/><circle cx="542.7" cy="490.9" r="2.7"/><circle cx="533.2" cy="490.2" r="2.7"/><circle cx="530.0" cy="498.6" r="2.7"/><circle cx="556.9" cy="486.8" r="2.7"/><circle cx="552.1" cy="472.1" r="2.7"/><circle cx="525.3" cy="505.7" r="2.7"/><circle cx="535.6" cy="505.5" r="2.7"/><circle cx="545.0" cy="482.9" r="2.7"/><circle cx="545.5" cy="521.1" r="2.7"/><circle cx="512.7" cy="519.8" r="2.7"/><circle cx="555.2" cy="490.4" r="2.7"/><circle cx="519.5" cy="521.7" r="2.7"/><circle cx="516.9" cy="508.3" r="2.7"/><circle cx="537.8" cy="497.4" r="2.7"/><circle cx="559.9" cy="500.9" r="2.7"/></g><g fill="#2a80b9" fill-opacity=".16"><circle cx="509.3" cy="520.6" r="2.7"/><circle cx="462.6" cy="520.9" r="2.7"/><circle cx="428.2" cy="515.8" r="2.7"/><circle cx="496.2" cy="504.6" r="2.7"/><circle cx="486.8" cy="515.2" r="2.7"/><circle cx="454.3" cy="573.9" r="2.7"/><circle cx="484.9" cy="525.9" r="2.7"/><circle cx="483.2" cy="535.2" r="2.7"/><circle cx="505.5" cy="505.7" r="2.7"/><circle cx="472.5" cy="560.7" r="2.7"/><circle cx="487.0" cy="525.0" r="2.7"/><circle cx="484.6" cy="532.8" r="2.7"/><circle cx="476.6" cy="534.4" r="2.7"/><circle cx="461.8" cy="532.8" r="2.7"/><circle cx="475.3" cy="490.2" r="2.7"/><circle cx="464.2" cy="539.6" r="2.7"/><circle cx="483.6" cy="564.9" r="2.7"/><circle cx="439.3" cy="528.1" r="2.7"/><circle cx="484.9" cy="523.0" r="2.7"/><circle cx="464.0" cy="525.9" r="2.7"/><circle cx="471.0" cy="539.2" r="2.7"/><circle cx="476.8" cy="534.0" r="2.7"/><circle cx="494.8" cy="523.2" r="2.7"/><circle cx="463.9" cy="545.6" r="2.7"/><circle cx="458.1" cy="527.2" r="2.7"/><circle cx="470.6" cy="562.0" r="2.7"/><circle cx="470.7" cy="547.4" r="2.7"/><circle cx="475.6" cy="534.8" r="2.7"/><circle cx="450.7" cy="512.5" r="2.7"/><circle cx="479.7" cy="525.3" r="2.7"/><circle cx="488.0" cy="538.4" r="2.7"/><circle cx="483.0" cy="495.5" r="2.7"/><circle cx="465.0" cy="482.5" r="2.7"/><circle cx="438.9" cy="480.1" r="2.7"/><circle cx="509.6" cy="501.0" r="2.7"/><circle cx="457.5" cy="556.6" r="2.7"/><circle cx="472.6" cy="499.2" r="2.7"/><circle cx="448.3" cy="516.3" r="2.7"/><circle cx="495.9" cy="522.3" r="2.7"/><circle cx="462.9" cy="507.5" r="2.7"/><circle cx="482.2" cy="540.3" r="2.7"/><circle cx="480.4" cy="538.4" r="2.7"/><circle cx="488.4" cy="530.2" r="2.7"/><circle cx="488.5" cy="538.4" r="2.7"/><circle cx="484.2" cy="545.6" r="2.7"/><circle cx="475.4" cy="533.4" r="2.7"/><circle cx="492.2" cy="542.0" r="2.7"/><circle cx="476.4" cy="546.1" r="2.7"/><circle cx="475.8" cy="550.2" r="2.7"/><circle cx="486.3" cy="551.1" r="2.7"/><circle cx="489.0" cy="546.5" r="2.7"/><circle cx="491.3" cy="544.9" r="2.7"/><circle cx="482.5" cy="543.1" r="2.7"/><circle cx="479.3" cy="546.3" r="2.7"/><circle cx="490.6" cy="535.2" r="2.7"/><circle cx="472.3" cy="541.5" r="2.7"/><circle cx="486.6" cy="537.9" r="2.7"/><circle cx="476.4" cy="539.3" r="2.7"/><circle cx="482.5" cy="538.2" r="2.7"/><circle cx="486.4" cy="536.1" r="2.7"/><circle cx="483.4" cy="543.9" r="2.7"/><circle cx="490.8" cy="536.4" r="2.7"/><circle cx="485.5" cy="544.6" r="2.7"/><circle cx="471.9" cy="526.6" r="2.7"/><circle cx="490.6" cy="538.2" r="2.7"/><circle cx="490.3" cy="542.2" r="2.7"/><circle cx="483.6" cy="551.2" r="2.7"/><circle cx="479.6" cy="529.5" r="2.7"/><circle cx="486.9" cy="551.0" r="2.7"/><circle cx="486.2" cy="548.7" r="2.7"/></g></g>
<g fill="none" stroke="#27ae60" stroke-opacity="0.4" stroke-linecap="round"><path stroke-width="5.2" d="M558.9 379.2h.01M551.6 380.9h.01M563.2 381.3h.01M558 384.4h.01M561.2 388.3h.01M558.5 369.9h.01M554.8 374.1h.01M558.8 380.1h.01M550.3 375.4h.01M545.9 376.9h.01M567.9 378.2h.01M551.9 386.1h.01"/><path stroke-width="5.2" d="M557.8 382.1h.01M559 387.5h.01M560.7 378.1h.01M552.2 378h.01M556.5 380.7h.01M553.9 376.9h.01M553.8 385.8h.01M560.7 377.6h.01"/><path stroke-width="5.2" d="M556.1 377.1h.01M562.9 386.2h.01M550.8 378.3h.01M557.9 380.3h.01M557.9 386.2h.01M558.9 381.5h.01"/><path stroke-width="6.2" d="M562.3 380.3h.01"/><path stroke-width="8" d="M552.9 383.5h.01"/><path stroke-width="5.2" d="M554.3 380.3h.01M564.5 379.8h.01M559.3 379.6h.01M558.7 375.1h.01M557.8 384.8h.01M548.9 376.6h.01"/><path stroke-width="5.2" d="M556 383.8h.01M550.9 378.9h.01M557.4 376.5h.01M561.6 378.3h.01M556.3 381.9h.01M560.6 383.6h.01"/><path stroke-width="5.2" d="M556.3 377.9h.01M559.5 383h.01M563 378.9h.01M554.6 382.5h.01"/><path stroke-width="5.2" d="M560.1 382.4h.01M559 377.4h.01M555 381h.01M553.8 376.7h.01"/><path stroke-width="5.2" d="M562 379.4h.01M553.5 384.4h.01M557 380.2h.01M557.8 385.8h.01"/><path stroke-width="6.2" d="M556 380.1h.01"/><path stroke-width="5.2" d="M559.2 381.2h.01M558.3 376.8h.01M554.6 381.8h.01"/><path stroke-width="5.2" d="M557.6 384.2h.01M557.6 375.9h.01M552.3 381.7h.01"/><path stroke-width="8" d="M563.2 380h.01"/></g>
<g class="rb" stroke="#111" stroke-opacity=".85" stroke-width="1"><g fill="#9fc8e8" fill-opacity=".45"><circle cx="465.4" cy="570.8" r="3.6"/><circle cx="452.1" cy="531.2" r="3.6"/><circle cx="489.4" cy="574.3" r="3.6"/><circle cx="490.5" cy="584.8" r="3.6"/><circle cx="473.5" cy="588.8" r="3.6"/><circle cx="486.0" cy="562.7" r="3.6"/><circle cx="465.6" cy="602.4" r="3.6"/><circle cx="490.9" cy="564.9" r="3.6"/><circle cx="445.1" cy="539.7" r="3.6"/><circle cx="484.0" cy="616.7" r="3.6"/><circle cx="447.5" cy="599.2" r="3.6"/><circle cx="463.7" cy="618.9" r="3.6"/><circle cx="461.7" cy="572.6" r="3.6"/><circle cx="459.8" cy="592.2" r="3.6"/><circle cx="487.8" cy="579.3" r="3.6"/><circle cx="447.1" cy="620.0" r="3.6"/><circle cx="466.2" cy="568.5" r="3.6"/><circle cx="450.6" cy="572.2" r="3.6"/><circle cx="482.1" cy="576.8" r="3.6"/><circle cx="482.6" cy="604.0" r="3.6"/><circle cx="435.0" cy="582.6" r="3.6"/><circle cx="476.7" cy="644.9" r="3.6"/><circle cx="474.7" cy="559.7" r="3.6"/><circle cx="462.0" cy="605.4" r="3.6"/><circle cx="512.9" cy="555.2" r="3.6"/><circle cx="459.2" cy="615.8" r="3.6"/><circle cx="443.1" cy="566.6" r="3.6"/><circle cx="482.0" cy="624.0" r="3.6"/><circle cx="439.9" cy="561.2" r="3.6"/><circle cx="475.7" cy="592.8" r="3.6"/><circle cx="485.3" cy="554.9" r="3.6"/><circle cx="505.2" cy="593.0" r="3.6"/><circle cx="477.8" cy="599.8" r="3.6"/><circle cx="479.7" cy="635.6" r="3.6"/><circle cx="465.5" cy="553.3" r="3.6"/><circle cx="467.2" cy="582.4" r="3.6"/><circle cx="498.0" cy="602.5" r="3.6"/><circle cx="484.4" cy="596.6" r="3.6"/><circle cx="485.9" cy="586.3" r="3.6"/><circle cx="440.2" cy="636.8" r="3.6"/><circle cx="467.3" cy="595.9" r="3.6"/><circle cx="484.5" cy="569.5" r="3.6"/><circle cx="436.5" cy="599.9" r="3.6"/><circle cx="483.5" cy="625.7" r="3.6"/><circle cx="460.2" cy="608.4" r="3.6"/><circle cx="495.9" cy="622.4" r="3.6"/><circle cx="473.5" cy="567.0" r="3.6"/><circle cx="480.9" cy="531.2" r="3.6"/><circle cx="473.6" cy="599.8" r="3.6"/><circle cx="495.4" cy="617.1" r="3.6"/><circle cx="534.9" cy="580.0" r="3.6"/><circle cx="493.0" cy="636.4" r="3.6"/><circle cx="475.9" cy="562.1" r="3.6"/><circle cx="462.4" cy="649.9" r="3.6"/><circle cx="463.7" cy="599.1" r="3.6"/></g><g fill="#f0b0a8" fill-opacity=".45"><circle cx="574.6" cy="532.7" r="3.6"/><circle cx="577.2" cy="544.5" r="3.6"/><circle cx="571.7" cy="540.2" r="3.6"/><circle cx="548.6" cy="528.9" r="3.6"/><circle cx="549.3" cy="553.4" r="3.6"/><circle cx="560.2" cy="529.8" r="3.6"/><circle cx="564.5" cy="532.7" r="3.6"/><circle cx="560.4" cy="569.4" r="3.6"/><circle cx="536.9" cy="544.1" r="3.6"/><circle cx="550.3" cy="553.4" r="3.6"/><circle cx="536.7" cy="534.6" r="3.6"/><circle cx="539.7" cy="529.9" r="3.6"/><circle cx="575.9" cy="534.6" r="3.6"/><circle cx="552.6" cy="541.3" r="3.6"/><circle cx="560.0" cy="533.5" r="3.6"/><circle cx="574.6" cy="549.1" r="3.6"/><circle cx="542.7" cy="522.1" r="3.6"/><circle cx="530.5" cy="538.5" r="3.6"/><circle cx="549.5" cy="551.9" r="3.6"/><circle cx="561.8" cy="553.1" r="3.6"/><circle cx="594.2" cy="553.4" r="3.6"/><circle cx="582.7" cy="560.6" r="3.6"/><circle cx="546.5" cy="566.1" r="3.6"/><circle cx="551.3" cy="562.1" r="3.6"/><circle cx="545.3" cy="548.0" r="3.6"/><circle cx="561.4" cy="555.8" r="3.6"/><circle cx="562.9" cy="537.6" r="3.6"/><circle cx="550.6" cy="540.6" r="3.6"/><circle cx="577.3" cy="563.5" r="3.6"/><circle cx="566.3" cy="529.2" r="3.6"/><circle cx="559.2" cy="556.5" r="3.6"/><circle cx="582.2" cy="539.3" r="3.6"/><circle cx="520.2" cy="538.4" r="3.6"/><circle cx="528.2" cy="550.4" r="3.6"/><circle cx="565.0" cy="550.9" r="3.6"/></g><g fill="#f0c090" fill-opacity=".45"><circle cx="538.6" cy="520.8" r="3.6"/><circle cx="567.2" cy="522.6" r="3.6"/><circle cx="573.6" cy="499.5" r="3.6"/><circle cx="553.3" cy="486.2" r="3.6"/><circle cx="559.8" cy="491.6" r="3.6"/><circle cx="558.4" cy="500.8" r="3.6"/><circle cx="508.5" cy="500.5" r="3.6"/><circle cx="559.7" cy="494.0" r="3.6"/><circle cx="531.3" cy="502.3" r="3.6"/><circle cx="578.6" cy="485.9" r="3.6"/><circle cx="520.2" cy="493.2" r="3.6"/><circle cx="533.4" cy="507.8" r="3.6"/></g><g fill="#b0e4ea" fill-opacity=".45"><circle cx="563.9" cy="399.9" r="3.6"/><circle cx="568.2" cy="390.5" r="3.6"/><circle cx="564.6" cy="435.4" r="3.6"/><circle cx="563.4" cy="455.2" r="3.6"/><circle cx="570.8" cy="449.6" r="3.6"/><circle cx="574.9" cy="456.2" r="3.6"/><circle cx="553.7" cy="394.7" r="3.6"/><circle cx="571.8" cy="452.5" r="3.6"/></g><g fill="#60c090" fill-opacity=".45"><circle cx="558.8" cy="372.2" r="3.6"/><circle cx="557.4" cy="382.8" r="3.6"/></g><g fill="#b8d8ee" fill-opacity=".6"><circle cx="485.6" cy="466" r="3.6"/><circle cx="496" cy="476.5" r="3.6"/></g><circle cx="437" cy="574.7" r="3.6" fill="#f0c8d8" fill-opacity=".7"/></g>
<path d="M403.5 593.3L620.5 485.5" stroke="#111" stroke-width="1.1" stroke-dasharray="4 2.4" fill="none"/>
<path fill="#ffd200" d="M507.0 535.8l.8 1.7 1.8.2-1.3 1.3.3 1.8-1.6-.9-1.6.9.3-1.8-1.3-1.3 1.8-.2zM511.5 537.7l.8 1.7 1.8.2-1.3 1.3.3 1.8-1.6-.9-1.6.9.3-1.8-1.3-1.3 1.8-.2zM519.5 532.2l.8 1.7 1.8.2-1.3 1.3.3 1.8-1.6-.9-1.6.9.3-1.8-1.3-1.3 1.8-.2zM574.0 505.8l.8 1.7 1.8.2-1.3 1.3.3 1.8-1.6-.9-1.6.9.3-1.8-1.3-1.3 1.8-.2zM584.4 498.6l.8 1.7 1.8.2-1.3 1.3.3 1.8-1.6-.9-1.6.9.3-1.8-1.3-1.3 1.8-.2zM571.4 506.0l.8 1.7 1.8.2-1.3 1.3.3 1.8-1.6-.9-1.6.9.3-1.8-1.3-1.3 1.8-.2zM564.5 510.2l.8 1.7 1.8.2-1.3 1.3.3 1.8-1.6-.9-1.6.9.3-1.8-1.3-1.3 1.8-.2zM582.1 500.4l.8 1.7 1.8.2-1.3 1.3.3 1.8-1.6-.9-1.6.9.3-1.8-1.3-1.3 1.8-.2zM497.8 540.4l.8 1.7 1.8.2-1.3 1.3.3 1.8-1.6-.9-1.6.9.3-1.8-1.3-1.3 1.8-.2zM469.1 557.6l.8 1.7 1.8.2-1.3 1.3.3 1.8-1.6-.9-1.6.9.3-1.8-1.3-1.3 1.8-.2zM476.5 551.3l.8 1.7 1.8.2-1.3 1.3.3 1.8-1.6-.9-1.6.9.3-1.8-1.3-1.3 1.8-.2zM572.2 506.3l.8 1.7 1.8.2-1.3 1.3.3 1.8-1.6-.9-1.6.9.3-1.8-1.3-1.3 1.8-.2zM568.4 506.8l.8 1.7 1.8.2-1.3 1.3.3 1.8-1.6-.9-1.6.9.3-1.8-1.3-1.3 1.8-.2zM522.8 530.7l.8 1.7 1.8.2-1.3 1.3.3 1.8-1.6-.9-1.6.9.3-1.8-1.3-1.3 1.8-.2zM481.0 550.0l.8 1.7 1.8.2-1.3 1.3.3 1.8-1.6-.9-1.6.9.3-1.8-1.3-1.3 1.8-.2zM570.5 504.8l.8 1.7 1.8.2-1.3 1.3.3 1.8-1.6-.9-1.6.9.3-1.8-1.3-1.3 1.8-.2zM521.9 530.9l.8 1.7 1.8.2-1.3 1.3.3 1.8-1.6-.9-1.6.9.3-1.8-1.3-1.3 1.8-.2zM579.5 502.9l.8 1.7 1.8.2-1.3 1.3.3 1.8-1.6-.9-1.6.9.3-1.8-1.3-1.3 1.8-.2zM508.3 537.4l.8 1.7 1.8.2-1.3 1.3.3 1.8-1.6-.9-1.6.9.3-1.8-1.3-1.3 1.8-.2zM476.5 557.5l.8 1.7 1.8.2-1.3 1.3.3 1.8-1.6-.9-1.6.9.3-1.8-1.3-1.3 1.8-.2zM501.5 541.4l.8 1.7 1.8.2-1.3 1.3.3 1.8-1.6-.9-1.6.9.3-1.8-1.3-1.3 1.8-.2zM492.3 545.9l.8 1.7 1.8.2-1.3 1.3.3 1.8-1.6-.9-1.6.9.3-1.8-1.3-1.3 1.8-.2zM465.6 557.8l.8 1.7 1.8.2-1.3 1.3.3 1.8-1.6-.9-1.6.9.3-1.8-1.3-1.3 1.8-.2zM566.3 507.8l.8 1.7 1.8.2-1.3 1.3.3 1.8-1.6-.9-1.6.9.3-1.8-1.3-1.3 1.8-.2zM498.6 542.1l.8 1.7 1.8.2-1.3 1.3.3 1.8-1.6-.9-1.6.9.3-1.8-1.3-1.3 1.8-.2zM505.9 538.9l.8 1.7 1.8.2-1.3 1.3.3 1.8-1.6-.9-1.6.9.3-1.8-1.3-1.3 1.8-.2zM531.0 529.2l.8 1.7 1.8.2-1.3 1.3.3 1.8-1.6-.9-1.6.9.3-1.8-1.3-1.3 1.8-.2zM537.6 523.4l.8 1.7 1.8.2-1.3 1.3.3 1.8-1.6-.9-1.6.9.3-1.8-1.3-1.3 1.8-.2zM473.2 557.0l.8 1.7 1.8.2-1.3 1.3.3 1.8-1.6-.9-1.6.9.3-1.8-1.3-1.3 1.8-.2zM546.3 519.5l.8 1.7 1.8.2-1.3 1.3.3 1.8-1.6-.9-1.6.9.3-1.8-1.3-1.3 1.8-.2zM504.5 540.9l.8 1.7 1.8.2-1.3 1.3.3 1.8-1.6-.9-1.6.9.3-1.8-1.3-1.3 1.8-.2zM486.7 546.1l.8 1.7 1.8.2-1.3 1.3.3 1.8-1.6-.9-1.6.9.3-1.8-1.3-1.3 1.8-.2zM580.6 501.1l.8 1.7 1.8.2-1.3 1.3.3 1.8-1.6-.9-1.6.9.3-1.8-1.3-1.3 1.8-.2zM544.5 520.1l.8 1.7 1.8.2-1.3 1.3.3 1.8-1.6-.9-1.6.9.3-1.8-1.3-1.3 1.8-.2zM495.5 544.5l.8 1.7 1.8.2-1.3 1.3.3 1.8-1.6-.9-1.6.9.3-1.8-1.3-1.3 1.8-.2zM525.8 531.3l.8 1.7 1.8.2-1.3 1.3.3 1.8-1.6-.9-1.6.9.3-1.8-1.3-1.3 1.8-.2zM512.3 534.6l.8 1.7 1.8.2-1.3 1.3.3 1.8-1.6-.9-1.6.9.3-1.8-1.3-1.3 1.8-.2zM475.2 555.3l.8 1.7 1.8.2-1.3 1.3.3 1.8-1.6-.9-1.6.9.3-1.8-1.3-1.3 1.8-.2zM487.7 545.2l.8 1.7 1.8.2-1.3 1.3.3 1.8-1.6-.9-1.6.9.3-1.8-1.3-1.3 1.8-.2zM469.4 557.5l.8 1.7 1.8.2-1.3 1.3.3 1.8-1.6-.9-1.6.9.3-1.8-1.3-1.3 1.8-.2zM568.8 508.2l.8 1.7 1.8.2-1.3 1.3.3 1.8-1.6-.9-1.6.9.3-1.8-1.3-1.3 1.8-.2zM489.6 546.2l.8 1.7 1.8.2-1.3 1.3.3 1.8-1.6-.9-1.6.9.3-1.8-1.3-1.3 1.8-.2zM500.4 544.2l.8 1.7 1.8.2-1.3 1.3.3 1.8-1.6-.9-1.6.9.3-1.8-1.3-1.3 1.8-.2zM464.2 559.6l.8 1.7 1.8.2-1.3 1.3.3 1.8-1.6-.9-1.6.9.3-1.8-1.3-1.3 1.8-.2zM514.8 536.7l.8 1.7 1.8.2-1.3 1.3.3 1.8-1.6-.9-1.6.9.3-1.8-1.3-1.3 1.8-.2zM470.8 555.3l.8 1.7 1.8.2-1.3 1.3.3 1.8-1.6-.9-1.6.9.3-1.8-1.3-1.3 1.8-.2zM493.2 550.0l.8 1.7 1.8.2-1.3 1.3.3 1.8-1.6-.9-1.6.9.3-1.8-1.3-1.3 1.8-.2zM571.3 506.8l.8 1.7 1.8.2-1.3 1.3.3 1.8-1.6-.9-1.6.9.3-1.8-1.3-1.3 1.8-.2zM560.7 507.2l.8 1.7 1.8.2-1.3 1.3.3 1.8-1.6-.9-1.6.9.3-1.8-1.3-1.3 1.8-.2zM501.9 540.3l.8 1.7 1.8.2-1.3 1.3.3 1.8-1.6-.9-1.6.9.3-1.8-1.3-1.3 1.8-.2zM526.4 530.3l.8 1.7 1.8.2-1.3 1.3.3 1.8-1.6-.9-1.6.9.3-1.8-1.3-1.3 1.8-.2zM462.4 562.5l.8 1.7 1.8.2-1.3 1.3.3 1.8-1.6-.9-1.6.9.3-1.8-1.3-1.3 1.8-.2zM544.6 518.1l.8 1.7 1.8.2-1.3 1.3.3 1.8-1.6-.9-1.6.9.3-1.8-1.3-1.3 1.8-.2zM550.8 514.1l.8 1.7 1.8.2-1.3 1.3.3 1.8-1.6-.9-1.6.9.3-1.8-1.3-1.3 1.8-.2zM530.3 532.0l.8 1.7 1.8.2-1.3 1.3.3 1.8-1.6-.9-1.6.9.3-1.8-1.3-1.3 1.8-.2zM522.4 533.0l.8 1.7 1.8.2-1.3 1.3.3 1.8-1.6-.9-1.6.9.3-1.8-1.3-1.3 1.8-.2zM470.6 556.7l.8 1.7 1.8.2-1.3 1.3.3 1.8-1.6-.9-1.6.9.3-1.8-1.3-1.3 1.8-.2zM560.2 512.8l.8 1.7 1.8.2-1.3 1.3.3 1.8-1.6-.9-1.6.9.3-1.8-1.3-1.3 1.8-.2zM568.9 509.2l.8 1.7 1.8.2-1.3 1.3.3 1.8-1.6-.9-1.6.9.3-1.8-1.3-1.3 1.8-.2zM505.4 541.6l.8 1.7 1.8.2-1.3 1.3.3 1.8-1.6-.9-1.6.9.3-1.8-1.3-1.3 1.8-.2zM457.2 564.2l.8 1.7 1.8.2-1.3 1.3.3 1.8-1.6-.9-1.6.9.3-1.8-1.3-1.3 1.8-.2zM500.1 543.0l.8 1.7 1.8.2-1.3 1.3.3 1.8-1.6-.9-1.6.9.3-1.8-1.3-1.3 1.8-.2zM525.9 530.4l.8 1.7 1.8.2-1.3 1.3.3 1.8-1.6-.9-1.6.9.3-1.8-1.3-1.3 1.8-.2zM515.2 531.5l.8 1.7 1.8.2-1.3 1.3.3 1.8-1.6-.9-1.6.9.3-1.8-1.3-1.3 1.8-.2zM537.5 522.1l.8 1.7 1.8.2-1.3 1.3.3 1.8-1.6-.9-1.6.9.3-1.8-1.3-1.3 1.8-.2zM556.0 514.0l.8 1.7 1.8.2-1.3 1.3.3 1.8-1.6-.9-1.6.9.3-1.8-1.3-1.3 1.8-.2zM579.6 503.3l.8 1.7 1.8.2-1.3 1.3.3 1.8-1.6-.9-1.6.9.3-1.8-1.3-1.3 1.8-.2zM562.6 509.7l.8 1.7 1.8.2-1.3 1.3.3 1.8-1.6-.9-1.6.9.3-1.8-1.3-1.3 1.8-.2zM579.8 499.8l.8 1.7 1.8.2-1.3 1.3.3 1.8-1.6-.9-1.6.9.3-1.8-1.3-1.3 1.8-.2zM489.7 546.8l.8 1.7 1.8.2-1.3 1.3.3 1.8-1.6-.9-1.6.9.3-1.8-1.3-1.3 1.8-.2zM556.4 512.5l.8 1.7 1.8.2-1.3 1.3.3 1.8-1.6-.9-1.6.9.3-1.8-1.3-1.3 1.8-.2zM549.2 516.9l.8 1.7 1.8.2-1.3 1.3.3 1.8-1.6-.9-1.6.9.3-1.8-1.3-1.3 1.8-.2zM474.0 557.2l.8 1.7 1.8.2-1.3 1.3.3 1.8-1.6-.9-1.6.9.3-1.8-1.3-1.3 1.8-.2zM568.3 508.2l.8 1.7 1.8.2-1.3 1.3.3 1.8-1.6-.9-1.6.9.3-1.8-1.3-1.3 1.8-.2zM565.6 508.3l.8 1.7 1.8.2-1.3 1.3.3 1.8-1.6-.9-1.6.9.3-1.8-1.3-1.3 1.8-.2zM479.8 549.4l.8 1.7 1.8.2-1.3 1.3.3 1.8-1.6-.9-1.6.9.3-1.8-1.3-1.3 1.8-.2zM464.9 557.5l.8 1.7 1.8.2-1.3 1.3.3 1.8-1.6-.9-1.6.9.3-1.8-1.3-1.3 1.8-.2zM582.6 501.4l.8 1.7 1.8.2-1.3 1.3.3 1.8-1.6-.9-1.6.9.3-1.8-1.3-1.3 1.8-.2zM510.7 538.1l.8 1.7 1.8.2-1.3 1.3.3 1.8-1.6-.9-1.6.9.3-1.8-1.3-1.3 1.8-.2zM537.6 524.2l.8 1.7 1.8.2-1.3 1.3.3 1.8-1.6-.9-1.6.9.3-1.8-1.3-1.3 1.8-.2zM512.3 536.6l.8 1.7 1.8.2-1.3 1.3.3 1.8-1.6-.9-1.6.9.3-1.8-1.3-1.3 1.8-.2zM540.2 522.5l.8 1.7 1.8.2-1.3 1.3.3 1.8-1.6-.9-1.6.9.3-1.8-1.3-1.3 1.8-.2zM479.0 549.7l.8 1.7 1.8.2-1.3 1.3.3 1.8-1.6-.9-1.6.9.3-1.8-1.3-1.3 1.8-.2zM543.0 517.3l.8 1.7 1.8.2-1.3 1.3.3 1.8-1.6-.9-1.6.9.3-1.8-1.3-1.3 1.8-.2zM531.3 524.2l.8 1.7 1.8.2-1.3 1.3.3 1.8-1.6-.9-1.6.9.3-1.8-1.3-1.3 1.8-.2zM548.8 515.2l.8 1.7 1.8.2-1.3 1.3.3 1.8-1.6-.9-1.6.9.3-1.8-1.3-1.3 1.8-.2zM566.5 507.5l.8 1.7 1.8.2-1.3 1.3.3 1.8-1.6-.9-1.6.9.3-1.8-1.3-1.3 1.8-.2zM569.0 504.8l.8 1.7 1.8.2-1.3 1.3.3 1.8-1.6-.9-1.6.9.3-1.8-1.3-1.3 1.8-.2zM536.6 521.8l.8 1.7 1.8.2-1.3 1.3.3 1.8-1.6-.9-1.6.9.3-1.8-1.3-1.3 1.8-.2zM497.4 544.6l.8 1.7 1.8.2-1.3 1.3.3 1.8-1.6-.9-1.6.9.3-1.8-1.3-1.3 1.8-.2zM582.7 498.9l.8 1.7 1.8.2-1.3 1.3.3 1.8-1.6-.9-1.6.9.3-1.8-1.3-1.3 1.8-.2zM491.2 546.6l.8 1.7 1.8.2-1.3 1.3.3 1.8-1.6-.9-1.6.9.3-1.8-1.3-1.3 1.8-.2zM576.2 500.2l.8 1.7 1.8.2-1.3 1.3.3 1.8-1.6-.9-1.6.9.3-1.8-1.3-1.3 1.8-.2zM486.3 549.0l.8 1.7 1.8.2-1.3 1.3.3 1.8-1.6-.9-1.6.9.3-1.8-1.3-1.3 1.8-.2zM565.9 505.4l.8 1.7 1.8.2-1.3 1.3.3 1.8-1.6-.9-1.6.9.3-1.8-1.3-1.3 1.8-.2zM581.8 502.7l.8 1.7 1.8.2-1.3 1.3.3 1.8-1.6-.9-1.6.9.3-1.8-1.3-1.3 1.8-.2zM538.9 519.8l.8 1.7 1.8.2-1.3 1.3.3 1.8-1.6-.9-1.6.9.3-1.8-1.3-1.3 1.8-.2zM470.7 558.4l.8 1.7 1.8.2-1.3 1.3.3 1.8-1.6-.9-1.6.9.3-1.8-1.3-1.3 1.8-.2zM530.1 526.7l.8 1.7 1.8.2-1.3 1.3.3 1.8-1.6-.9-1.6.9.3-1.8-1.3-1.3 1.8-.2zM554.5 520.6l.8 1.7 1.8.2-1.3 1.3.3 1.8-1.6-.9-1.6.9.3-1.8-1.3-1.3 1.8-.2zM523.1 532.8l.8 1.7 1.8.2-1.3 1.3.3 1.8-1.6-.9-1.6.9.3-1.8-1.3-1.3 1.8-.2zM484.8 550.2l.8 1.7 1.8.2-1.3 1.3.3 1.8-1.6-.9-1.6.9.3-1.8-1.3-1.3 1.8-.2zM498.2 543.4l.8 1.7 1.8.2-1.3 1.3.3 1.8-1.6-.9-1.6.9.3-1.8-1.3-1.3 1.8-.2zM567.6 507.1l.8 1.7 1.8.2-1.3 1.3.3 1.8-1.6-.9-1.6.9.3-1.8-1.3-1.3 1.8-.2zM527.4 527.6l.8 1.7 1.8.2-1.3 1.3.3 1.8-1.6-.9-1.6.9.3-1.8-1.3-1.3 1.8-.2zM499.1 539.8l.8 1.7 1.8.2-1.3 1.3.3 1.8-1.6-.9-1.6.9.3-1.8-1.3-1.3 1.8-.2zM525.4 529.2l.8 1.7 1.8.2-1.3 1.3.3 1.8-1.6-.9-1.6.9.3-1.8-1.3-1.3 1.8-.2zM577.3 501.7l.8 1.7 1.8.2-1.3 1.3.3 1.8-1.6-.9-1.6.9.3-1.8-1.3-1.3 1.8-.2zM508.9 537.3l.8 1.7 1.8.2-1.3 1.3.3 1.8-1.6-.9-1.6.9.3-1.8-1.3-1.3 1.8-.2zM458.3 561.4l.8 1.7 1.8.2-1.3 1.3.3 1.8-1.6-.9-1.6.9.3-1.8-1.3-1.3 1.8-.2zM566.9 508.8l.8 1.7 1.8.2-1.3 1.3.3 1.8-1.6-.9-1.6.9.3-1.8-1.3-1.3 1.8-.2zM544.8 518.9l.8 1.7 1.8.2-1.3 1.3.3 1.8-1.6-.9-1.6.9.3-1.8-1.3-1.3 1.8-.2zM457.8 562.6l.8 1.7 1.8.2-1.3 1.3.3 1.8-1.6-.9-1.6.9.3-1.8-1.3-1.3 1.8-.2zM556.0 515.3l.8 1.7 1.8.2-1.3 1.3.3 1.8-1.6-.9-1.6.9.3-1.8-1.3-1.3 1.8-.2zM472.4 557.1l.8 1.7 1.8.2-1.3 1.3.3 1.8-1.6-.9-1.6.9.3-1.8-1.3-1.3 1.8-.2zM476.9 551.5l.8 1.7 1.8.2-1.3 1.3.3 1.8-1.6-.9-1.6.9.3-1.8-1.3-1.3 1.8-.2zM534.2 522.3l.8 1.7 1.8.2-1.3 1.3.3 1.8-1.6-.9-1.6.9.3-1.8-1.3-1.3 1.8-.2zM468.2 559.3l.8 1.7 1.8.2-1.3 1.3.3 1.8-1.6-.9-1.6.9.3-1.8-1.3-1.3 1.8-.2zM469.8 555.5l.8 1.7 1.8.2-1.3 1.3.3 1.8-1.6-.9-1.6.9.3-1.8-1.3-1.3 1.8-.2zM521.6 528.1l.8 1.7 1.8.2-1.3 1.3.3 1.8-1.6-.9-1.6.9.3-1.8-1.3-1.3 1.8-.2zM488.7 549.9l.8 1.7 1.8.2-1.3 1.3.3 1.8-1.6-.9-1.6.9.3-1.8-1.3-1.3 1.8-.2zM506.3 540.3l.8 1.7 1.8.2-1.3 1.3.3 1.8-1.6-.9-1.6.9.3-1.8-1.3-1.3 1.8-.2zM463.6 564.1l.8 1.7 1.8.2-1.3 1.3.3 1.8-1.6-.9-1.6.9.3-1.8-1.3-1.3 1.8-.2zM572.9 508.9l.8 1.7 1.8.2-1.3 1.3.3 1.8-1.6-.9-1.6.9.3-1.8-1.3-1.3 1.8-.2zM508.5 537.0l.8 1.7 1.8.2-1.3 1.3.3 1.8-1.6-.9-1.6.9.3-1.8-1.3-1.3 1.8-.2zM471.2 552.7l.8 1.7 1.8.2-1.3 1.3.3 1.8-1.6-.9-1.6.9.3-1.8-1.3-1.3 1.8-.2zM498.1 544.7l.8 1.7 1.8.2-1.3 1.3.3 1.8-1.6-.9-1.6.9.3-1.8-1.3-1.3 1.8-.2zM467.7 555.3l.8 1.7 1.8.2-1.3 1.3.3 1.8-1.6-.9-1.6.9.3-1.8-1.3-1.3 1.8-.2zM488.9 548.0l.8 1.7 1.8.2-1.3 1.3.3 1.8-1.6-.9-1.6.9.3-1.8-1.3-1.3 1.8-.2zM554.3 517.0l.8 1.7 1.8.2-1.3 1.3.3 1.8-1.6-.9-1.6.9.3-1.8-1.3-1.3 1.8-.2zM544.7 520.6l.8 1.7 1.8.2-1.3 1.3.3 1.8-1.6-.9-1.6.9.3-1.8-1.3-1.3 1.8-.2zM571.0 504.0l.8 1.7 1.8.2-1.3 1.3.3 1.8-1.6-.9-1.6.9.3-1.8-1.3-1.3 1.8-.2zM567.8 506.1l.8 1.7 1.8.2-1.3 1.3.3 1.8-1.6-.9-1.6.9.3-1.8-1.3-1.3 1.8-.2zM576.2 501.1l.8 1.7 1.8.2-1.3 1.3.3 1.8-1.6-.9-1.6.9.3-1.8-1.3-1.3 1.8-.2zM559.3 513.4l.8 1.7 1.8.2-1.3 1.3.3 1.8-1.6-.9-1.6.9.3-1.8-1.3-1.3 1.8-.2zM567.1 507.2l.8 1.7 1.8.2-1.3 1.3.3 1.8-1.6-.9-1.6.9.3-1.8-1.3-1.3 1.8-.2zM568.9 507.0l.8 1.7 1.8.2-1.3 1.3.3 1.8-1.6-.9-1.6.9.3-1.8-1.3-1.3 1.8-.2zM568.1 508.4l.8 1.7 1.8.2-1.3 1.3.3 1.8-1.6-.9-1.6.9.3-1.8-1.3-1.3 1.8-.2zM579.4 502.8l.8 1.7 1.8.2-1.3 1.3.3 1.8-1.6-.9-1.6.9.3-1.8-1.3-1.3 1.8-.2zM560.7 509.7l.8 1.7 1.8.2-1.3 1.3.3 1.8-1.6-.9-1.6.9.3-1.8-1.3-1.3 1.8-.2zM551.3 515.6l.8 1.7 1.8.2-1.3 1.3.3 1.8-1.6-.9-1.6.9.3-1.8-1.3-1.3 1.8-.2zM558.8 513.5l.8 1.7 1.8.2-1.3 1.3.3 1.8-1.6-.9-1.6.9.3-1.8-1.3-1.3 1.8-.2zM569.5 504.3l.8 1.7 1.8.2-1.3 1.3.3 1.8-1.6-.9-1.6.9.3-1.8-1.3-1.3 1.8-.2zM555.9 512.3l.8 1.7 1.8.2-1.3 1.3.3 1.8-1.6-.9-1.6.9.3-1.8-1.3-1.3 1.8-.2zM548.8 516.1l.8 1.7 1.8.2-1.3 1.3.3 1.8-1.6-.9-1.6.9.3-1.8-1.3-1.3 1.8-.2zM567.5 506.9l.8 1.7 1.8.2-1.3 1.3.3 1.8-1.6-.9-1.6.9.3-1.8-1.3-1.3 1.8-.2zM558.0 511.9l.8 1.7 1.8.2-1.3 1.3.3 1.8-1.6-.9-1.6.9.3-1.8-1.3-1.3 1.8-.2zM555.0 511.5l.8 1.7 1.8.2-1.3 1.3.3 1.8-1.6-.9-1.6.9.3-1.8-1.3-1.3 1.8-.2zM563.9 511.7l.8 1.7 1.8.2-1.3 1.3.3 1.8-1.6-.9-1.6.9.3-1.8-1.3-1.3 1.8-.2zM567.7 509.8l.8 1.7 1.8.2-1.3 1.3.3 1.8-1.6-.9-1.6.9.3-1.8-1.3-1.3 1.8-.2zM560.0 512.9l.8 1.7 1.8.2-1.3 1.3.3 1.8-1.6-.9-1.6.9.3-1.8-1.3-1.3 1.8-.2zM558.7 510.9l.8 1.7 1.8.2-1.3 1.3.3 1.8-1.6-.9-1.6.9.3-1.8-1.3-1.3 1.8-.2zM548.3 517.2l.8 1.7 1.8.2-1.3 1.3.3 1.8-1.6-.9-1.6.9.3-1.8-1.3-1.3 1.8-.2zM553.7 514.1l.8 1.7 1.8.2-1.3 1.3.3 1.8-1.6-.9-1.6.9.3-1.8-1.3-1.3 1.8-.2zM585.0 503.2l.8 1.7 1.8.2-1.3 1.3.3 1.8-1.6-.9-1.6.9.3-1.8-1.3-1.3 1.8-.2zM581.5 503.2l.8 1.7 1.8.2-1.3 1.3.3 1.8-1.6-.9-1.6.9.3-1.8-1.3-1.3 1.8-.2zM578.4 504.6l.8 1.7 1.8.2-1.3 1.3.3 1.8-1.6-.9-1.6.9.3-1.8-1.3-1.3 1.8-.2zM552.7 516.5l.8 1.7 1.8.2-1.3 1.3.3 1.8-1.6-.9-1.6.9.3-1.8-1.3-1.3 1.8-.2zM573.7 506.8l.8 1.7 1.8.2-1.3 1.3.3 1.8-1.6-.9-1.6.9.3-1.8-1.3-1.3 1.8-.2zM572.6 507.7l.8 1.7 1.8.2-1.3 1.3.3 1.8-1.6-.9-1.6.9.3-1.8-1.3-1.3 1.8-.2zM543.9 518.8l.8 1.7 1.8.2-1.3 1.3.3 1.8-1.6-.9-1.6.9.3-1.8-1.3-1.3 1.8-.2zM547.7 521.1l.8 1.7 1.8.2-1.3 1.3.3 1.8-1.6-.9-1.6.9.3-1.8-1.3-1.3 1.8-.2zM569.4 508.7l.8 1.7 1.8.2-1.3 1.3.3 1.8-1.6-.9-1.6.9.3-1.8-1.3-1.3 1.8-.2zM557.9 513.1l.8 1.7 1.8.2-1.3 1.3.3 1.8-1.6-.9-1.6.9.3-1.8-1.3-1.3 1.8-.2zM541.3 519.5l.8 1.7 1.8.2-1.3 1.3.3 1.8-1.6-.9-1.6.9.3-1.8-1.3-1.3 1.8-.2zM575.0 503.4l.8 1.7 1.8.2-1.3 1.3.3 1.8-1.6-.9-1.6.9.3-1.8-1.3-1.3 1.8-.2zM582.8 501.3l.8 1.7 1.8.2-1.3 1.3.3 1.8-1.6-.9-1.6.9.3-1.8-1.3-1.3 1.8-.2zM544.5 517.9l.8 1.7 1.8.2-1.3 1.3.3 1.8-1.6-.9-1.6.9.3-1.8-1.3-1.3 1.8-.2zM570.6 506.1l.8 1.7 1.8.2-1.3 1.3.3 1.8-1.6-.9-1.6.9.3-1.8-1.3-1.3 1.8-.2zM564.2 508.7l.8 1.7 1.8.2-1.3 1.3.3 1.8-1.6-.9-1.6.9.3-1.8-1.3-1.3 1.8-.2z"/>
<clipPath id="cd"><rect x="478.6" y="1.9" width="277.6" height="300.1"/></clipPath>
<g clip-path="url(#cd)">
<path fill="none" stroke="#8c8f94" stroke-opacity="0.9" stroke-width="6.4" stroke-linecap="round" d="M520.4 57.6h.01M522.9 37.1h.01M521 56.5h.01M528 83.7h.01M512.3 22.9h.01M517.2 34.3h.01M523.4 53.2h.01M519.6 51.5h.01M527.5 66.1h.01M521.2 41.6h.01M513.7 12.9h.01M513 20.2h.01M519.6 70h.01M517.6 64.2h.01M527 63.4h.01M519.1 15h.01M503.5 14.2h.01M537.6 77.5h.01M516.6 41.8h.01M508.8 12.3h.01M513.8 24.7h.01M510.7 48.9h.01M510.4 34.4h.01M515.4 15.6h.01M523.8 74.5h.01M516 17.1h.01M513.7 23h.01M519.5 19.2h.01M521.5 81h.01M523.2 67.5h.01M529.3 98.8h.01M545.2 94.9h.01M535.4 93.9h.01M530.6 95.3h.01M526.3 99.9h.01M531.2 99.7h.01M537.5 105.5h.01M529.2 87.3h.01M525.5 88.6h.01M529.9 87.2h.01M531 90.7h.01M543.1 89.6h.01M536.2 89h.01M531.9 90.7h.01M536.9 102.8h.01M523.3 95.7h.01M530.9 104.4h.01M538.7 99.3h.01M538.1 91.1h.01M534.3 84.4h.01M529.2 94.4h.01M535.4 98.5h.01M543.1 104.9h.01M585.6 150h.01M615.8 174.5h.01M606.5 170.3h.01M606 172.5h.01M547.2 102.9h.01M586.4 142.2h.01M576.7 135.3h.01M602.6 170.8h.01M606.6 179.5h.01M564 121.6h.01M614.2 176.5h.01M588.4 142.3h.01M595.1 160.2h.01M560 122.8h.01M583.2 145.7h.01M608.9 174.3h.01M563 123.4h.01M567.6 131.7h.01M545.1 99.2h.01M587.8 147.1h.01M616.8 177.9h.01M595.9 166.5h.01M543.7 107h.01M602.8 166.1h.01M614.8 175.9h.01M561.5 115.3h.01M547.6 104.9h.01M569.7 137.6h.01M561.1 118.8h.01M542.7 108.6h.01M542.5 106.1h.01M545.8 108.7h.01M596.6 154.9h.01M580.4 145.3h.01M565.8 127.2h.01M614.1 177.3h.01M577.9 135.2h.01M577.1 139.4h.01M596.3 166.4h.01M602.2 163.8h.01M577 137.7h.01M552.3 111.7h.01M577.6 133.8h.01M567.5 132.7h.01M603.2 168.3h.01M561.4 116.9h.01M548.8 115.2h.01M576.4 143.1h.01M608.8 166.3h.01M572.8 138.5h.01M581 143.4h.01M562.2 119.2h.01M611.2 169.1h.01M548 102.6h.01M597.5 163.8h.01M582.7 137.3h.01M602.5 162.3h.01M550.7 114.5h.01M550.6 112.4h.01M599.5 159.1h.01M595.5 165.5h.01M563.1 118.4h.01M542.4 103.1h.01M597.9 166.6h.01M600.7 167.9h.01M606.8 167.6h.01M596 165.1h.01M565.6 121.5h.01M572.2 129.1h.01M609.9 172.8h.01M585.6 144.7h.01M559.4 115h.01M613.1 176.6h.01M551.6 113.5h.01M571.7 124.3h.01M612 174.9h.01M588.3 151.7h.01M584.9 155.4h.01M579.7 140.2h.01M596 158.4h.01M601.1 164h.01M577.5 145h.01M558.6 128.1h.01M556.9 119.7h.01M603.3 168.7h.01M590.2 155h.01M555.9 128.8h.01M550.6 104.9h.01M559 113.4h.01M607.5 169h.01M596.4 160.6h.01M570.7 133.8h.01M606.9 167.9h.01M560.4 114.5h.01M569.1 126.7h.01M554.7 115.9h.01M546.4 111.4h.01M575 135.8h.01M590.5 158.1h.01M602.9 161.4h.01M554 112.6h.01M545.5 110.3h.01M591 158.6h.01M561.5 119.3h.01M549.8 109.3h.01M563.6 132.7h.01M605.8 165.2h.01M542.6 110.7h.01M583.8 150.2h.01M582.4 138.2h.01M549.6 114h.01M554.7 107.9h.01M599.2 166h.01M561.5 123.6h.01M609.9 171.9h.01M593.6 147.9h.01M592.1 157.9h.01M580.9 139h.01M570 142.4h.01M561.1 118.9h.01M561.1 124.5h.01M608.7 167.5h.01M564.3 129.2h.01M578.3 139.4h.01M585.9 149.7h.01M570.4 122.5h.01M545.9 107.8h.01M575.3 141.4h.01M605.8 171.4h.01M612.1 176.6h.01M585.4 148.2h.01M569.8 128.8h.01M555.9 107.2h.01M585.6 154.4h.01M594.3 152.8h.01M562.9 123.2h.01M562.6 126.6h.01M545.8 111.6h.01M551 111.5h.01M572.4 123.4h.01M608.7 173.4h.01M579.3 127.5h.01M599.3 166.7h.01M555.7 116.8h.01M575.5 141.2h.01M559.7 115.3h.01M594.5 160.9h.01M540.8 109.5h.01M565.2 119.6h.01M591.9 156.5h.01M570.1 132h.01M544.5 106.5h.01M600.7 169.1h.01M546 103.2h.01M578.1 138.2h.01M596.3 166.9h.01M599.2 157.4h.01M542.2 103.3h.01M611.9 169.3h.01M607.2 174.7h.01M557.1 115.2h.01M551.2 110.4h.01M600.8 164h.01M572.8 132.3h.01M586.3 150.1h.01M548.4 109.3h.01M586.6 145.5h.01M599.3 170.5h.01M542.5 109.1h.01M557.8 112.5h.01M580.1 136.2h.01M584.3 144h.01M614.1 171h.01M607.3 164.3h.01M588.6 150.9h.01M574.6 132.5h.01M584.3 146.1h.01M595.1 152.6h.01M610.7 170.2h.01M598.2 159.6h.01M578.4 142.7h.01M578.8 141.5h.01M544.3 103.4h.01M572.7 131.5h.01M549.2 108.9h.01M613.5 171.3h.01M593.6 161.6h.01M545.9 109.5h.01M606.1 163.9h.01M599.2 141.4h.01M588.8 143h.01M568.7 110.2h.01M554.9 108.2h.01M614.2 169.6h.01M583 131.4h.01M602.3 159.3h.01M555.7 106.6h.01M601 152.7h.01M576 112.5h.01M571.5 123.2h.01M596.3 150.3h.01M588.1 136h.01M577.6 137.8h.01M573.4 112.9h.01M614.7 162.7h.01M565.5 110.7h.01M562 111.9h.01M591.9 140.4h.01M553.4 104.9h.01M569.9 130.7h.01M627.6 172.5h.01M616.4 175.7h.01M571.4 126.7h.01M580.1 121h.01M617.2 173.6h.01M583.9 140.2h.01M618.7 170.8h.01M574.4 126.5h.01M566.7 116.8h.01M561.5 120.5h.01M576.9 121.7h.01M594.5 138h.01M602.8 150.9h.01M572.9 118.3h.01M567.9 117.1h.01M587.9 145.8h.01M596 142.7h.01M598 146.3h.01M590.7 137.8h.01M565 108.8h.01M622 176.5h.01M589 131.7h.01M577.2 128.8h.01M553 101.5h.01M568.7 119.1h.01M558.3 109.8h.01M594.5 150.9h.01M614.4 170.8h.01M619.8 173.1h.01M617.1 168.9h.01M601.2 146.7h.01M606.2 151.6h.01M579.8 130.3h.01M618.2 179.7h.01M557.6 101.3h.01M587.5 143.5h.01M599.3 147h.01M589.2 143.8h.01M604 155.3h.01M616.6 177.6h.01M612.4 167.3h.01M612.9 166.8h.01M608.5 171.8h.01M594.5 161h.01M615.8 169.5h.01M626 177.9h.01M593.8 145.8h.01M612.6 170.7h.01M601.5 156.6h.01M591.7 144.4h.01M608.5 172.8h.01M603.9 162.6h.01M599.4 158.8h.01M600.6 155.2h.01M597.7 165.5h.01M620.5 166.7h.01M606.7 157.5h.01M604.5 157.3h.01M622.4 175.3h.01M611.4 167.5h.01M619 170.5h.01M625.8 175.9h.01M617.8 174.6h.01M609 168h.01M612.3 175.8h.01M624.1 172.5h.01M610 173.5h.01M623.8 168.5h.01M602.8 173.1h.01M615.2 172h.01M598.9 154.7h.01M622.4 181.7h.01M602.7 166.4h.01M602.8 164.4h.01M603.3 155.4h.01M603.5 161.3h.01M615.9 171.4h.01M620.3 178.8h.01M615.7 184.3h.01M603.9 162.1h.01M598.1 156.4h.01M614.7 174.3h.01M621.3 180.6h.01M621.9 172h.01M665 218.6h.01M630.9 190.9h.01M728.1 273.5h.01M737.4 266.1h.01M687.2 226.9h.01M720 260h.01M702.9 250.7h.01M636 200.1h.01M625.6 190.6h.01M743.4 276.3h.01M742 266h.01M745.7 250.8h.01M665.6 220.3h.01M693.1 231.3h.01M684 233.2h.01M619.7 184.8h.01M641.8 190.3h.01M754.9 251.8h.01M732.3 273.7h.01M735.9 239.4h.01M646.3 194.6h.01M677.8 234.2h.01M689.2 236.3h.01M724.6 278.4h.01M730.1 270.1h.01M693.7 247.3h.01M727.3 267.8h.01M690.1 235h.01M684.3 234.4h.01M659.1 206.5h.01M719.7 256.1h.01M700.7 236h.01M654.6 200.7h.01M650 214.7h.01M696.2 243.5h.01M641.3 193.8h.01M639.5 207.7h.01M729.3 242.3h.01M686.9 232.4h.01M687 233.6h.01M752.9 265.7h.01M662.2 215.7h.01M624.5 181.6h.01M646.3 202.4h.01M652.1 224h.01M640.3 192.7h.01M736.6 258.6h.01M715.9 258.8h.01M662.8 223.5h.01M688.8 235.4h.01M729.2 253.8h.01M734.4 259.1h.01M735.9 263.8h.01M669.1 239.6h.01M749.7 250.3h.01M660.6 216h.01M683.5 225h.01M623.2 182h.01M722.6 254.7h.01M722.7 288.7h.01M722.7 266.9h.01M626.3 179.2h.01M690.8 240.3h.01M726.1 243.1h.01M646.9 207.2h.01M630.7 187.2h.01M647 222.8h.01M635 184.7h.01M630.4 181h.01M727.7 273.4h.01M695.8 254.4h.01M747.5 276.1h.01M685.7 232.8h.01M664.2 218.3h.01M739.5 250h.01M733.8 261.4h.01M746.2 271.2h.01M633.8 185.8h.01M730 258.2h.01M659.1 208h.01M736.8 274.7h.01M695.5 249.4h.01M624 186.5h.01M636.9 195.5h.01M667.8 224.4h.01M725.3 248.4h.01M637.1 210.6h.01M735 258h.01M723.4 257.6h.01M646.4 201.3h.01M675.9 214.4h.01M730.6 273.6h.01M629 185.6h.01M724 239h.01M695 234.6h.01M653.8 213.5h.01M675.1 217.3h.01M693.2 231.8h.01M711.1 254.8h.01M643.3 197.7h.01M656.6 204.4h.01M707.6 264.2h.01M687.5 239.6h.01M686.5 226.1h.01M663.7 216.2h.01M633.3 210.2h.01M662.7 200.9h.01M685.5 233.9h.01M633.4 207.8h.01M749.6 274.4h.01M737 278.7h.01M682.4 220h.01M732.6 273h.01M641.5 197h.01M686.4 216.6h.01M737.1 261.1h.01M743.7 273.1h.01M626.7 192.3h.01M734.1 289.6h.01M659.4 208.5h.01M631.3 180.5h.01M635.1 184.3h.01M666.6 218.4h.01M674.9 218.6h.01M696.3 243.7h.01M650.8 209.5h.01M635.9 203.2h.01M744.5 255.2h.01M682.4 214h.01M639.8 198.7h.01M735.6 251.1h.01M671.3 226.8h.01M656.8 204.5h.01M688.9 223.4h.01M735.2 252.5h.01M665.5 238.6h.01M690.5 231.7h.01M730.3 255.1h.01M745.9 272.9h.01M702.9 239.3h.01M677.1 229.9h.01M730.5 267.9h.01M738.5 263.4h.01M711.8 271.8h.01M736.4 275.6h.01M733.9 275.7h.01M692.2 246.9h.01M740.1 276.6h.01M716.6 243.3h.01M625.7 187h.01M635.5 194.8h.01M683.8 239.7h.01M749.4 261.5h.01M631.2 206.8h.01M673 218h.01M744.1 278h.01M639.6 201h.01M721.9 270.6h.01M653.4 205.3h.01M623 181.2h.01M733.8 271.9h.01M664.9 231.1h.01M745.6 268.9h.01M648 212.1h.01M729.2 261.5h.01M699.5 243.2h.01M710.8 242.7h.01M739.6 268.8h.01M709.9 245.2h.01M641 187.9h.01M656.9 207.3h.01M675.2 205.2h.01M727.6 274.5h.01M711.6 261.9h.01M631.6 186.5h.01M653.3 198.3h.01M665.6 200.7h.01M717.1 249.3h.01M620.4 182.9h.01M718 243.6h.01M735.6 269.6h.01M699.2 227.1h.01M672.8 224h.01M721.5 256.9h.01M683.8 229.4h.01M627.7 178.1h.01M658.2 207.5h.01M704.4 231.5h.01M733.2 275.3h.01M745.7 265.4h.01M721.4 266.6h.01M721.2 252.6h.01M697.9 245.7h.01M685.4 242h.01M697.2 246.5h.01M699.6 236h.01M675.8 211h.01M647.1 201.7h.01M703.1 236.6h.01M682.3 235.1h.01M742.5 275.6h.01M670.6 229.2h.01M684.1 228.4h.01M738.4 273.4h.01M672.7 236.3h.01M694.1 262.8h.01M690.2 242.4h.01M740 265.2h.01M662.7 218.2h.01M745.4 271.2h.01M643.5 195.8h.01M623.8 181.4h.01M707.8 236.3h.01M729.8 272.1h.01M718.2 238.4h.01M754.5 268.7h.01M739 274.8h.01M713.5 239.1h.01M662 224h.01M721.3 246.1h.01M708.4 237.8h.01M690.1 236.2h.01M650.6 201h.01M635.6 194h.01M624.8 189.2h.01M637.1 191h.01M755 270.5h.01M679 223.1h.01M740.5 265.9h.01M706 264.5h.01M635.2 188.3h.01M672.2 217.1h.01M647.5 204.7h.01M676.6 252.1h.01M630.1 186.6h.01M673.8 227.8h.01M647.8 198.7h.01M660.8 202.6h.01M695.9 248h.01M644 202.9h.01M624.5 183.2h.01M711.1 251.2h.01M676.3 229.8h.01M725.3 253.9h.01M695.3 231.6h.01M677.2 232.2h.01M623.6 182.7h.01M693.8 243.3h.01M734.6 253.5h.01M702.6 237.3h.01M658.5 220.2h.01M658.9 197.9h.01M718.8 257h.01M682 220.2h.01M626.4 199.6h.01M717.3 255.4h.01M658.5 212.7h.01M693.1 237.1h.01M712.6 245.4h.01M755.8 258.3h.01M659.9 212.8h.01M666 221.7h.01M622.1 190.7h.01M626.5 177.6h.01M634.1 182.8h.01M710.8 276.3h.01M619.8 192h.01M641.3 196.8h.01M737.1 274.6h.01M661.3 194.4h.01M685.6 220.7h.01M741.5 235.7h.01M623.9 181.7h.01M729.4 257.9h.01M670.3 232.6h.01M698.5 252.1h.01M642.4 214.6h.01M642.1 199.4h.01M659.8 209.4h.01M684.7 233.1h.01M633.2 192.8h.01M658.9 212.8h.01M635.3 192.1h.01M701.4 237.4h.01M702.8 238.5h.01M624.6 185.6h.01M652.4 213.1h.01M710 269.9h.01M654.7 197.5h.01M634.5 180.1h.01M646.4 203.5h.01M717.2 257.5h.01M708.6 233.4h.01M682.6 215.7h.01M705.7 258.2h.01M688.3 229.3h.01M632.8 188.2h.01M624.8 188.5h.01M692.9 243.6h.01M722.2 264h.01M736.9 258.3h.01M739.7 259.8h.01M728.6 249.2h.01M724.2 278.1h.01M659.2 217.9h.01M684.9 219.4h.01M692.8 234.2h.01M642.1 192h.01M719 285.1h.01M698.9 266.1h.01M686.2 240.8h.01M626.9 188.7h.01M673.2 221.8h.01M703.3 252.9h.01M652.1 198.7h.01M663.9 218.7h.01M691.5 252.2h.01M754 265.6h.01M636.3 205.5h.01M673.6 220h.01M622.7 179.7h.01M675.7 218.9h.01M643.3 191.6h.01M711 253.8h.01M708 233.9h.01M626.2 183.6h.01M730.9 263.9h.01M644.3 181.3h.01M747.2 274.2h.01M710.7 246.9h.01M705.1 249h.01M708.6 228.1h.01M647 207.7h.01M655.5 205.1h.01M738.9 240.1h.01M712.6 242h.01M676.1 235h.01M743.4 250.1h.01M675.8 229.1h.01M733.9 276.6h.01M700.6 228.1h.01M715.5 235.7h.01M628.8 190.1h.01M728.9 240.5h.01M640.6 200.4h.01M698.9 230.8h.01M741 275.2h.01M635.8 180.6h.01M645.9 199.7h.01M737.7 275.8h.01M659.2 214h.01M692.1 226.4h.01M740.3 267.2h.01M733.5 280.8h.01M714.3 255.1h.01M679 225.9h.01M697.5 240.4h.01M642.3 210.5h.01M709.5 234.9h.01M621.8 185.7h.01M732.1 269.8h.01M685.3 232.4h.01M718.4 255.9h.01M658.6 203.7h.01M683.2 229.5h.01M698.7 248.1h.01M669.2 228.3h.01M724.6 259.9h.01M715 247.4h.01M752.6 272.1h.01M704.9 238.7h.01M710.9 229.9h.01M706.1 243.4h.01M633.8 191.5h.01M658.1 206.8h.01M669 231.5h.01M737.4 249.5h.01M625.3 194.5h.01M747.6 257.9h.01M646.7 191.3h.01M668.6 223h.01M719.8 240.8h.01M746.9 256.2h.01M700.9 213.8h.01M670.7 223.6h.01M670.9 226h.01M691.2 232.2h.01M647.5 208.5h.01M712.8 234.8h.01M746.1 259.6h.01M626.9 196.5h.01M643.4 205.7h.01M680.8 202.3h.01M709.1 249.2h.01M728.9 259.7h.01M674.8 223.3h.01M690 242.3h.01M649.6 206.4h.01M673.9 230.2h.01M681 246.4h.01M744.2 267.6h.01M730.5 269.8h.01M697 234h.01M651.5 212.3h.01M694.7 240h.01M633.8 188.6h.01M748 261.4h.01M625.5 189.4h.01M711.1 233h.01M736.3 275.3h.01M715.3 235.9h.01M719.8 260h.01M729.7 252.3h.01M659.4 218.4h.01M649.5 204.8h.01M695.8 229h.01M673.9 218.8h.01M699.1 227.7h.01M658.9 212.2h.01M745.9 254.7h.01M693 241.1h.01M637.4 209.7h.01M654.4 199.5h.01M702.9 234.5h.01M742.4 259.8h.01M657.1 205.4h.01M757.3 258.6h.01M625.3 189h.01M723.1 253.9h.01M731.1 276.6h.01M665.8 212.4h.01M663.5 231.3h.01M653.9 195.5h.01M661.6 211.9h.01M719 286.2h.01M656.4 224.6h.01M623.3 195.4h.01M694.8 226.3h.01M707.3 260.6h.01M650.2 217.6h.01M689.6 241.9h.01M724 267.1h.01M682.8 234.6h.01M701.4 250.4h.01M709.4 265.7h.01M703.6 244.4h.01M758.6 261.8h.01M747.5 278.8h.01M742.9 266.3h.01M730.8 261.2h.01M699.2 232.2h.01M638.5 193h.01M727.7 259.3h.01M735.1 265.8h.01M693.8 224.6h.01M697.6 245.4h.01M675.3 247.5h.01M732.7 279.5h.01M658.3 211.8h.01M719.1 272.7h.01M679.2 220.5h.01M745.6 260.4h.01M671.6 235.6h.01M721 269.2h.01M631.7 194.1h.01M642.1 217.2h.01M718.6 254.6h.01M679.2 226h.01M692.9 236.6h.01M726.8 254.7h.01M697.7 224.9h.01M717.9 258.6h.01M646 201.4h.01M657.2 223.3h.01M749.7 275.5h.01M730.8 276.8h.01M717.9 251.2h.01M723.1 250.9h.01M717.2 260.9h.01M699 230.2h.01M643.9 206.5h.01M678.9 224.2h.01M666.5 209.2h.01M676.7 232.8h.01M735.1 253.3h.01M723.5 259h.01M716.3 239.3h.01M694.7 240.5h.01M682.8 225h.01M701.9 240.3h.01M618.5 185.7h.01M639.8 204.1h.01M738.2 281.4h.01M744.7 248.9h.01M657.8 212.7h.01M718.7 264.6h.01M638.5 200.4h.01M674.6 232.1h.01M689.6 252.8h.01M704.9 228.8h.01M756.9 262.4h.01M687.2 223.7h.01M698.2 242.1h.01M630.3 194.8h.01M670.2 210.2h.01M719.6 257.9h.01M748.7 260.3h.01M644.6 196h.01M688.5 229.7h.01M725.4 249.1h.01M664.8 207.5h.01M683 225.6h.01M725.6 267.5h.01M670.1 226.9h.01M682 217.1h.01M627.3 197.3h.01M638.4 188h.01M720.5 256.4h.01M667.6 209.7h.01M727.6 269.2h.01M631.9 189.8h.01M703 255.9h.01M620 192.3h.01M630 190h.01M628.9 197.9h.01M673.7 207.7h.01M726.2 251.4h.01M629.8 196.3h.01M708.9 240.2h.01M642.9 195.2h.01M696.4 233.6h.01M648.7 196.4h.01M684.5 231.1h.01M685.2 243.8h.01M745.4 271.7h.01M718.5 239.8h.01M640.4 197.3h.01M724.1 257.5h.01M628.7 191.6h.01M653.3 199.6h.01M617.1 191.1h.01M627.9 188.5h.01M738.6 274.3h.01M736.9 268.1h.01M738.4 275.9h.01M661.2 214.5h.01M655.7 223.5h.01M694.1 242.9h.01M619.6 184.4h.01M713.8 252.8h.01M686.2 216.9h.01M629.7 185.7h.01M640.8 189.2h.01M685.1 226.3h.01M704 234.7h.01M628.8 180.2h.01M640 196.2h.01M649 201.6h.01M732.9 268.5h.01M621.2 182.2h.01M631 181.6h.01M661.1 220.3h.01M697.8 224.5h.01M739 248.2h.01M739.2 263.4h.01M707.2 242.9h.01M647.7 193.3h.01M691.2 229.1h.01M747.2 258.2h.01M646.2 200.6h.01M730.5 289h.01M645.8 202.1h.01M705.9 245.3h.01M720.3 259h.01M707.5 230.3h.01M648 201.2h.01M719.1 237.9h.01M631.9 188.4h.01M649.9 210.7h.01M720.7 266.5h.01M727.1 241.2h.01M640.9 209.8h.01M665.2 215.3h.01M621.4 185.5h.01M625.7 202.8h.01M682.9 221.1h.01M738.7 285.2h.01M664.3 223.9h.01M737 263h.01M657.9 206h.01M707.7 246.9h.01M639.1 195.5h.01M727.7 251.7h.01M639.6 198.2h.01M696.4 240.4h.01M621.8 182.6h.01M702.8 234.4h.01M693 230.9h.01M710.5 256.5h.01M664.3 207.4h.01M707.3 244.1h.01M676.6 216.6h.01M653.4 223.8h.01M711.2 241.5h.01M674.5 219.2h.01M731.2 276.8h.01M628.7 195.1h.01M672.4 215.4h.01M721.1 264.8h.01M669.6 210.9h.01M669.6 216.3h.01M663.1 221.2h.01M697.6 238.1h.01M627 186.1h.01M666 200.8h.01M654.1 203.9h.01M643.7 203.5h.01M721 263.6h.01M637.3 191.3h.01M623.4 182.6h.01M643.3 202.8h.01M654.5 201.9h.01M630.1 181.2h.01M691.8 241.3h.01M709.7 256.1h.01M633.3 183h.01M679.4 234h.01M694.1 231h.01M719.1 287.7h.01M708.6 243h.01M629.3 189h.01M645.9 187h.01M693.3 235h.01M723.6 270.4h.01M627.2 206.7h.01M660.2 199.9h.01M650.9 216.4h.01M699.1 226.6h.01M705.3 257.1h.01M620.1 195.3h.01M710.7 266.3h.01M722.1 245.7h.01M628.9 191.2h.01M714 251.5h.01M685.7 222.5h.01M659.9 193.5h.01M672.7 206.9h.01M629.8 193.4h.01M625.3 179.7h.01M719.1 280.2h.01M740.8 241.3h.01M642.1 186.3h.01M630.4 204.6h.01M652.4 217.7h.01M750 274.2h.01M632.7 190.8h.01M672.3 234.7h.01M702.3 256.6h.01M713.3 284.5h.01M732.6 272.7h.01M642.6 188.6h.01M724.2 248.7h.01M688.3 221.3h.01M725.5 261.3h.01M669.7 212.7h.01M687.3 240.9h.01M717 262.1h.01M716.9 239.6h.01M695.4 230.9h.01M727.2 254.1h.01M648.6 212.6h.01M719.3 251h.01M713.7 234.4h.01M629.3 179.5h.01M708.5 237.9h.01M646.7 213.3h.01M620.3 185.1h.01M621.2 190.1h.01M725 268.4h.01M728.1 263.5h.01M648.5 210.9h.01M738.8 278.4h.01M642.4 194.3h.01M628.4 192.1h.01M635.4 189.9h.01M726.7 263.3h.01M650.9 201.9h.01M704.5 250.2h.01M657.6 207.8h.01M705.7 244.3h.01M748.4 276h.01M683.1 230.4h.01M706 242.1h.01M710 239.5h.01M739.9 273.9h.01M709.5 253h.01M728.5 277h.01M652 192.1h.01M706.3 247.9h.01M701 230.3h.01M712.1 264.9h.01M694.9 227.2h.01M661.1 215.1h.01M649.5 193.9h.01M651.1 210.3h.01M647.3 208.3h.01M677.8 225.5h.01M658.3 207.5h.01M707.2 240.2h.01M676.3 217.1h.01M682.7 218.3h.01M693.5 243.1h.01M749.3 262.2h.01M642.5 184.1h.01M628.7 188.6h.01M715.9 256.1h.01M645.5 208.8h.01M701.1 240.9h.01M690.8 237.5h.01M721.6 268.2h.01M687.1 251.1h.01M689.7 232.5h.01M639.2 208h.01M628.2 187.4h.01M743.1 259.3h.01M713.1 266h.01M639.2 200.7h.01M630.4 190.8h.01M689.3 241.7h.01M642 206h.01M697.6 255h.01M726.1 269.4h.01M746.3 275.3h.01M655.2 201.6h.01M736.1 277.5h.01M643.8 197.6h.01M649.6 207.5h.01M643.9 207.7h.01M716.9 237.2h.01M630.9 211.2h.01M641.9 205h.01M648.7 199.3h.01M707.9 242.7h.01M748.9 250.4h.01M664.2 208.1h.01M699.6 230h.01M751.2 258.6h.01M738.8 259h.01M663.1 210.7h.01M690.7 246h.01M681.8 229.1h.01M684.6 218.3h.01M707 264.3h.01M681.1 218.9h.01M691.4 237.6h.01M641.5 198.9h.01M673.1 224.8h.01M637.5 206.7h.01M661.7 197.8h.01M727.8 281.1h.01M624.5 181.5h.01M722 263.5h.01M670.8 216h.01M647.8 196.4h.01M695.6 223.1h.01M694 231.9h.01M732.6 261h.01M701.4 248.3h.01M714 261.9h.01M642.6 176h.01M617.2 186.6h.01M732.4 285.3h.01M658.5 216.2h.01M687.4 232.3h.01M623.2 193.7h.01M709.7 258.3h.01M712.9 240.3h.01M734.2 274.6h.01M675 224.4h.01M725.4 249.8h.01M631 190.2h.01M630.2 182.8h.01M725.7 258.4h.01M677.5 228.7h.01M735.3 265.2h.01M692.3 250.8h.01M734.6 291.4h.01M663 219.8h.01M749.8 268.9h.01M739.5 271.8h.01M632.3 182.3h.01M702.5 243.5h.01M709.5 245.5h.01M629.8 189.5h.01M682.9 233.9h.01M670.6 214.6h.01M680.2 235.1h.01M644.1 198h.01M658.8 199.9h.01M666.1 225h.01M649.5 194.7h.01M644.9 204.1h.01M711.5 248h.01M747.6 270.7h.01M668.9 225h.01M722.9 259.6h.01M723.6 245.9h.01M709.9 234h.01M683.6 242.1h.01M748.1 267.7h.01M740.4 281.8h.01M674 224h.01M714.8 243.7h.01M698.2 234.2h.01M748.7 275h.01M714.7 255.7h.01M710.2 253.5h.01M641.3 190.5h.01M639.7 196.2h.01M697.1 239.9h.01M660.2 213.5h.01M650.4 213h.01M687.7 226h.01M743 265.5h.01M744.4 273.9h.01M672.5 204.8h.01M624.8 180.8h.01M670.4 204.8h.01M732.8 278.2h.01M659.6 211.1h.01M729.6 250.7h.01M673.6 211.7h.01M626.2 178.5h.01M748.6 253.6h.01M689.6 250.5h.01M726.8 265.2h.01M633.1 206.8h.01M656.5 207h.01M662.6 204.4h.01M634.9 204.7h.01M654.9 211.4h.01M651.4 209.5h.01M701.2 247.1h.01M718.2 257.4h.01M731 278.3h.01M670.2 224.3h.01M726.2 276.8h.01M740.3 274.6h.01M735.1 260.6h.01M644.2 195h.01M729.6 267.8h.01M630 190.2h.01M635.3 187.6h.01M670.4 215.2h.01M694.3 228.8h.01M700.1 230.3h.01M708.3 244.4h.01M725.1 268.7h.01M738.2 269.8h.01M736.4 273.9h.01M757.7 262.2h.01M634.1 193.6h.01M650 192.1h.01M643.3 197.7h.01M735.7 270.2h.01M688.3 227.1h.01M655.5 201.6h.01M730.6 261.7h.01M753.9 270.5h.01M709.3 257.7h.01M682.5 241.4h.01M689.6 241.6h.01M622.2 189.3h.01M655.6 201.3h.01M712 257.8h.01M725.7 263.2h.01M711.8 247h.01M704.6 233h.01M691.3 238.4h.01M743.9 272.1h.01M742.9 259.7h.01M690.5 248.2h.01M622.6 183.6h.01M683.5 222.8h.01M628.7 189h.01M709.3 258.5h.01M671.6 216.8h.01M743.7 279.7h.01M663.3 229.6h.01M677.4 236.1h.01M710.8 250h.01M737.2 267.4h.01M712.1 247.3h.01M629.1 197.6h.01M685.9 241.2h.01M632.9 196.1h.01M728.6 252.2h.01M672.9 218.7h.01M626 193.5h.01M713.2 226.3h.01M642.6 193.5h.01M671.3 213.6h.01M681.7 217.7h.01M680.1 198.5h.01M729.7 272.7h.01M681.7 242.4h.01M625.5 188.7h.01M722.1 264.3h.01M684.5 222.1h.01M688 233.5h.01M694.9 245.1h.01M698 246.4h.01M648.8 200.2h.01M714.5 249h.01M698.9 245.9h.01M673.7 228h.01M731.8 265.5h.01M708.9 247.6h.01M651.4 198.9h.01M676.6 233.6h.01M747.2 265.8h.01M662.3 217.7h.01M729.4 279.4h.01M738.7 269h.01M633.9 202h.01M639.5 196.9h.01M709.4 260.4h.01M735 270.8h.01M656.1 212.5h.01M659.2 206.1h.01M719.9 259.7h.01M675.4 231.9h.01M718.5 255h.01M689.7 208.3h.01M668.3 222.2h.01M657.2 207.2h.01M747.4 265.7h.01M725.7 262.9h.01M678.6 228.2h.01M675.8 233.9h.01M650.1 208.9h.01M745.6 266.4h.01M683.4 244h.01M735.2 276.2h.01M682.6 238.5h.01M685.2 233.8h.01M676.9 223.6h.01M703.8 232.9h.01M638.8 195.4h.01M691 229.3h.01M728.7 262.3h.01M654.3 208.1h.01M626.2 182.5h.01M648.8 204h.01M705.1 255.3h.01M689.8 223.5h.01M666.3 212.2h.01M645.7 199.7h.01M655.2 211.5h.01M731.6 266.4h.01M730.6 252.5h.01M704.9 262.8h.01M623.7 180.2h.01M716.5 267.4h.01M711.6 241h.01M676.7 209.5h.01M684.3 242.6h.01M655.1 208.3h.01M692.3 226.5h.01M626.1 186.7h.01M710.3 259.7h.01M755.1 267.8h.01M730.3 265.7h.01M751.4 270.4h.01M741 247.1h.01M687.8 242.8h.01M724.6 252.4h.01M735.6 256h.01M703.6 247.2h.01M668.6 203.4h.01M754 267.6h.01M730.4 244.1h.01M675.8 230.9h.01M635.7 185.3h.01M631.2 191.1h.01M730.9 262.3h.01M732.2 260.4h.01M729.1 271.8h.01M675.1 221.7h.01M664 225.3h.01M715.9 249.4h.01M744.5 271.2h.01M750.3 271.6h.01M735.9 286.8h.01M731.5 254h.01M715.5 267.6h.01M644.7 202.8h.01M667.3 203.9h.01M677.7 236.9h.01M619.8 185.7h.01M731.3 256.5h.01M686.6 223.4h.01M718.4 266.8h.01M677.2 227.8h.01M747.2 264.8h.01M719.4 251.3h.01M664.8 211.4h.01M622.1 182h.01M739.1 277.4h.01M662.5 227.7h.01M681.2 226h.01M695.4 239.6h.01M617.7 186.4h.01M679.3 230.6h.01M740 273.4h.01M719.6 247.6h.01M705.7 228.8h.01M655.7 200.8h.01M649.5 189.6h.01M620.4 186.5h.01M629.3 190.9h.01M690.9 231.6h.01M710.6 256.2h.01M737.5 271.9h.01M626.5 183.8h.01M676.2 232.9h.01M703.1 255h.01M643.8 192.3h.01M658.9 206.7h.01M722.9 272.7h.01M689.8 234.1h.01M741.7 277.6h.01M680.2 231.1h.01M733.2 289.5h.01M715.7 251.4h.01M653.6 203.1h.01M661 216.9h.01M644.4 185.6h.01M636 187.1h.01M623.3 185.4h.01M745 258.9h.01M656.4 212.3h.01M746.3 279.4h.01M620.7 192.9h.01M673.7 221.9h.01M655 192.1h.01M657.8 208.4h.01M741.4 260h.01M712 248.8h.01M705.5 233.3h.01M717.2 263.4h.01M721.9 259h.01M737.9 271.2h.01M685.8 235h.01M660.6 209h.01M640.9 207.8h.01M621 185.9h.01M714.8 267.8h.01M729.7 277.3h.01M694.4 238.6h.01M736.2 284.9h.01M728 236.3h.01M721.6 251.4h.01M693.4 232.1h.01M728.6 260.6h.01M699.5 235.6h.01M649.9 212.5h.01M646.7 214.3h.01M737.7 269.5h.01M672.3 213.4h.01M744.3 277.7h.01M633.7 191.9h.01M740.6 268.7h.01M629.5 188.3h.01M709.6 252.7h.01M678.1 211.6h.01M658.4 223.4h.01M660.6 216h.01M711.1 255.5h.01M706.2 244.2h.01M688.6 241.9h.01M678.6 231.6h.01M681.3 233.8h.01M635.1 200.3h.01M661.3 212.2h.01M649.6 193.1h.01M707.7 234.5h.01M633.4 197.9h.01M709.1 240h.01M742.3 273.4h.01M669.4 220.4h.01M700.3 242.8h.01M729.5 237.8h.01M688.8 229.1h.01M713.4 234.8h.01M648.1 191.1h.01M655.8 216.3h.01M635.6 197.6h.01M647 186.2h.01M722 265.2h.01M673.8 233.7h.01M681.3 236.3h.01M712.2 252.6h.01M691 219.1h.01M632.6 183.5h.01M614.8 191.9h.01M641 192.8h.01M658.8 197h.01M741.6 269.5h.01M651.6 201.7h.01M625.1 195.2h.01M713.9 248.5h.01M632.1 200.6h.01M715 271.7h.01M707.9 258.6h.01M676.9 217.7h.01M710.3 241.3h.01M685.1 212.1h.01M676 223.3h.01M730.2 251.4h.01M683.1 225.7h.01M628.7 189.3h.01M620.3 185h.01M702.3 240.3h.01M665.9 206.3h.01M704.4 247.2h.01M711.6 266.3h.01M744.2 274h.01M641.6 189.4h.01M679.6 216.3h.01M743.4 278.8h.01M735 274h.01M709.6 258.2h.01M744.1 278.2h.01M746.5 249.9h.01M660.9 211h.01M733 284.2h.01M682.4 229.6h.01M728.8 257.5h.01M660.5 230.8h.01M709 234.6h.01M646 189.7h.01M656.1 224.7h.01M729.8 269h.01M689.8 224.5h.01M638.3 202.4h.01M745.7 252h.01M644.6 197h.01M641.2 206.2h.01M716 263.9h.01M735.6 275.9h.01M630.1 186.3h.01M732.7 274.6h.01M733 293.6h.01M735.8 247.8h.01M707.5 247.5h.01M732 265.8h.01M645.3 201h.01M716.3 237.8h.01M736 265.1h.01M728.5 257.8h.01M684.8 226.7h.01M686.9 225.5h.01M720.9 263.2h.01M629.8 195.4h.01M723.1 269.9h.01M729.3 245.4h.01M745.7 269.1h.01M691.7 236.8h.01M666.8 219.9h.01M700 245.9h.01M727.5 253h.01M632.6 181.1h.01M622.6 187.5h.01M720.7 268.9h.01M653.4 202.3h.01M719.2 256.8h.01M692.8 240.4h.01M686.6 231h.01M638.8 194.9h.01M665.4 215.5h.01M665.9 223.1h.01M727.2 252.4h.01M641.2 197.5h.01M731.8 284.6h.01M628.1 189h.01M642.8 198.9h.01M630.9 192.5h.01M644.9 201.1h.01M700.9 253.4h.01M654.5 193.8h.01M696.5 240.8h.01M726.6 257.9h.01M713.7 243.5h.01M670.8 218.9h.01M735.3 264.2h.01M689.2 261.2h.01M675.4 219.6h.01M653.5 204.3h.01M644.8 197.3h.01M651.1 207.3h.01M681.7 239.2h.01M691.4 231.6h.01M739.9 285.5h.01M724.5 254.7h.01M731.6 262.2h.01M707.4 240.3h.01M675.5 226.4h.01M696.9 241.4h.01M676 219h.01M724.3 276.4h.01M742.3 278h.01M672.4 218.2h.01M652.9 200.8h.01M688.1 250h.01M642.2 197.1h.01M638 197h.01M648.4 207.9h.01M684.7 218.5h.01M738 287.1h.01M724.2 254.8h.01M636.4 190h.01M657 204.5h.01M670.1 216.2h.01M627.5 199.4h.01M683.1 240.6h.01M737.9 260.2h.01M706.2 221.4h.01M649.7 197.8h.01M651.2 211.6h.01M697.9 247h.01M654.6 202.3h.01M756.8 268.6h.01M665.1 213.2h.01M674.7 210.2h.01M715 251.9h.01M668.4 223.1h.01M710.1 247.6h.01M730.7 276.4h.01M709.2 240.2h.01M718.9 284.2h.01M747.8 269.6h.01M636.9 199h.01M695.7 229.8h.01M654 209h.01M744.9 254.6h.01M667.9 218.3h.01M634 191.2h.01M632.5 201.5h.01M673 212.8h.01M669.8 196.7h.01M727.4 249.8h.01M667.7 201.4h.01M747.2 261.3h.01M707.8 255.3h.01M694.5 221.9h.01M643 198.1h.01M675.6 211.2h.01M652.3 199.4h.01M708.7 248.2h.01M728.5 297.1h.01M690.1 225.9h.01M749.9 261h.01M695 224.3h.01M710.2 258.8h.01M744.4 263.7h.01M644.9 213.1h.01M674.7 218.1h.01M661 217.5h.01M722.4 264.4h.01M742.4 241.3h.01M740.1 257.9h.01M736 275.9h.01M756.7 268.6h.01M761.4 257.7h.01M683.1 227.4h.01M624.7 194.5h.01M691.3 249.9h.01M650.2 216.3h.01M652.2 199h.01M734.8 272.3h.01M701.6 235.3h.01M674.6 230.5h.01M659.6 218h.01M653 216.8h.01M651.7 209h.01M682.3 229h.01M688.4 253.7h.01M670.5 223h.01M715.3 251.4h.01M738.9 261.6h.01M682.8 222.4h.01M630.2 185.4h.01M717 261.9h.01M685.2 238.6h.01M624.2 178.8h.01M722.8 246.7h.01M646.6 195h.01M709.4 284h.01M643.4 199.2h.01M636.6 194.9h.01M659.2 212.6h.01M619.6 186.1h.01M651.8 210.2h.01M659.4 211.6h.01M690.1 236h.01M654.2 205.9h.01M690.3 233.8h.01M637.3 195.1h.01M635.9 195.4h.01M621.7 188.3h.01M683.7 234.5h.01M642.1 206.6h.01M697.5 242.6h.01M630.5 190h.01M706.8 254.4h.01M742.6 280.4h.01M649.3 200.4h.01M718.3 267.8h.01M705.1 244.7h.01M677.2 222.9h.01M737.2 273.3h.01M623.7 187h.01M627.2 193.8h.01M720.6 265.9h.01M652 212.8h.01M674.2 232.7h.01M694.7 237.3h.01M680 230.3h.01M630.7 192.5h.01M742.5 271.4h.01M643.2 201.8h.01M744.6 278.2h.01M705.6 243.6h.01M652.1 210.8h.01M662.7 217.1h.01M737.3 272.8h.01M711.9 246.2h.01M649.1 207.7h.01M686.6 233.5h.01M643.7 200.4h.01M734.6 279.7h.01M626.4 188.4h.01M638.3 194.2h.01M650 205.8h.01M742.6 283.9h.01M685.8 231h.01M716.1 262.2h.01M656.4 209.6h.01M715.3 258.3h.01M743 279.4h.01M722.4 262.3h.01M691.8 230.2h.01M710.5 249.8h.01M732.9 269h.01M710.5 250.8h.01M726.8 265.6h.01M644.6 201.3h.01M644.9 211.3h.01M625.3 190.5h.01M697.8 250.8h.01M710.3 254.4h.01M628.9 195.3h.01M669.2 216.7h.01M741.5 278.7h.01M650.6 207h.01M639.2 196.1h.01M734.1 266.2h.01M671.9 220.6h.01M718.4 254.6h.01M701.8 240.2h.01M711.3 254h.01M657.8 210.3h.01M680.3 226.9h.01M700.3 243.8h.01M717.2 254.4h.01M728.2 266.7h.01M667.2 219.1h.01M723.9 257.9h.01M678.1 224h.01M646.7 205.6h.01M620.9 183h.01M737.9 275.8h.01M730.3 270.6h.01M678.8 227.7h.01M726.6 265.2h.01M744.4 278.4h.01M700.8 246.3h.01M621.6 182.3h.01M713.9 259.1h.01M713.2 253.7h.01M637.8 196.8h.01M706.5 248.5h.01M676 224h.01M705.3 247.8h.01M667.1 213.8h.01M686.7 232.3h.01M705.4 245.5h.01M689.3 234.8h.01M689.3 230.7h.01M638.2 197.5h.01M719.2 256h.01M648.3 200.1h.01M639 197.9h.01M687.1 234h.01M699.4 238h.01M686.8 235.9h.01M624.9 182.4h.01M721 261h.01M684 232.9h.01M648.9 202.7h.01M631.5 187.7h.01M703.3 241.5h.01M740.4 279.4h.01M735.8 265.3h.01M682.1 228.2h.01M661.2 214.1h.01M647.4 201.8h.01M737.8 273.7h.01M636.7 193.4h.01M670.1 219h.01M656.7 206.7h.01M649.4 205.5h.01M656.8 209.4h.01M677.1 225.2h.01M644.4 200.4h.01M622.7 185.2h.01M632.3 194.3h.01M742.5 276h.01M700.3 245.2h.01M732.4 269h.01M637.3 194.7h.01M623.4 187.5h.01M647.9 202.5h.01M637.3 197.1h.01M621.4 187.3h.01M668.3 218.5h.01M656 211h.01M722.6 264h.01M711.3 251.7h.01M647.8 203.5h.01M716.6 259.2h.01M676.6 224h.01M734.6 280h.01M635.9 195.9h.01M717.1 257.1h.01M665.8 216.4h.01M703 247.7h.01M665.7 219.7h.01M740.6 271.9h.01M704.2 251.6h.01M661.6 212.9h.01M620.2 186.8h.01M717.6 252.4h.01M662.1 214.1h.01M655.6 212.3h.01M737.7 269.1h.01M657.5 217h.01M681.5 230.8h.01M635.4 195h.01M737.4 272h.01M721.6 256.7h.01M638.2 193.8h.01M641.9 202.1h.01M742 275.3h.01M744.7 281.1h.01M664.1 213.4h.01M747.4 278.8h.01M641.8 204.1h.01M624.2 182.5h.01M655.1 209.4h.01M676.3 223.2h.01M687.5 235.8h.01M740.5 284.2h.01M646.3 204.6h.01M737.5 273.9h.01M672.4 222.8h.01M638.3 198.3h.01M644.3 206.7h.01M636.7 191.8h.01M709.1 247.2h.01M644.2 197h.01M638.7 197.4h.01M639.1 200.5h.01M642.2 201.8h.01M690 237.1h.01M662.7 214.1h.01M676.7 221.8h.01M637.1 200.4h.01M621.4 188.6h.01M728 270.1h.01M659.2 209.2h.01M670 224.4h.01M648.4 206.7h.01M660.2 217.3h.01M657.6 209.4h.01M642.7 196.2h.01M692.1 236.8h.01M717 251.2h.01M701.7 239.9h.01M680.1 212.9h.01M747.8 269.2h.01M745.6 264.7h.01M704.3 231.8h.01M657.2 210.4h.01M674.5 219.7h.01M692 225.4h.01M685.7 214.2h.01M675.6 221.8h.01M746.2 255.4h.01M741.2 259.8h.01M703.9 215.5h.01M721.9 237.7h.01M661.3 185.8h.01M734.6 252.6h.01M742.8 269.1h.01M743.4 256h.01M691.3 223.9h.01M667.3 208.2h.01M651.4 201.4h.01M648.2 199.3h.01M697.4 221.4h.01M658.3 193.2h.01M709.2 243.1h.01M693.8 223.8h.01M743.8 257.3h.01M671.2 209.4h.01M741.5 274.5h.01M723.5 241.5h.01M718.5 237.9h.01M663.8 198.1h.01M690.1 226.1h.01M670.2 211.7h.01M753.3 263.3h.01M708.3 239.7h.01M705.4 228.7h.01M681.4 208.4h.01M749.6 267.5h.01M694.5 232.4h.01M714.7 238h.01M692.4 210.6h.01M683.2 223.3h.01M706 251h.01M699.7 238.7h.01M650.7 184.8h.01M682.9 220.8h.01M737.3 265.9h.01M678.8 217.4h.01M677.7 231.5h.01M702.5 237.2h.01M658.5 200.6h.01M650 195.6h.01M717.7 245.2h.01M724.3 251.9h.01M750.8 255.9h.01M732.4 256.8h.01M652 185.8h.01M694.9 221h.01M652.3 210.3h.01M752.7 261.5h.01"/>
<g class="r2_8" fill="none" stroke="#f2a30f" stroke-width="1.0" stroke-opacity="0.85"><circle cx="520.4" cy="57.6" r="2.8"/><circle cx="519.6" cy="51.5" r="2.8"/><circle cx="527.5" cy="66.1" r="2.8"/><circle cx="513.7" cy="12.9" r="2.8"/><circle cx="519.6" cy="70" r="2.8"/><circle cx="527" cy="63.4" r="2.8"/><circle cx="519.1" cy="15" r="2.8"/><circle cx="503.5" cy="14.2" r="2.8"/><circle cx="516.6" cy="41.8" r="2.8"/><circle cx="510.7" cy="48.9" r="2.8"/><circle cx="516" cy="17.1" r="2.8"/><circle cx="513.7" cy="23" r="2.8"/><circle cx="521.5" cy="81" r="2.8"/><circle cx="531.2" cy="99.7" r="2.8"/><circle cx="529.2" cy="87.3" r="2.8"/><circle cx="529.9" cy="87.2" r="2.8"/><circle cx="534.3" cy="84.4" r="2.8"/><circle cx="588.8" cy="143" r="2.8"/><circle cx="601" cy="152.7" r="2.8"/><circle cx="588.1" cy="136" r="2.8"/><circle cx="580.1" cy="121" r="2.8"/><circle cx="617.2" cy="173.6" r="2.8"/><circle cx="618.7" cy="170.8" r="2.8"/><circle cx="561.5" cy="120.5" r="2.8"/><circle cx="576.9" cy="121.7" r="2.8"/><circle cx="572.9" cy="118.3" r="2.8"/><circle cx="587.9" cy="145.8" r="2.8"/><circle cx="565" cy="108.8" r="2.8"/><circle cx="589" cy="131.7" r="2.8"/><circle cx="553" cy="101.5" r="2.8"/><circle cx="558.3" cy="109.8" r="2.8"/><circle cx="557.6" cy="101.3" r="2.8"/><circle cx="616.6" cy="177.6" r="2.8"/><circle cx="594.5" cy="161" r="2.8"/><circle cx="615.8" cy="169.5" r="2.8"/><circle cx="626" cy="177.9" r="2.8"/><circle cx="593.8" cy="145.8" r="2.8"/><circle cx="601.5" cy="156.6" r="2.8"/><circle cx="591.7" cy="144.4" r="2.8"/><circle cx="603.9" cy="162.6" r="2.8"/><circle cx="599.4" cy="158.8" r="2.8"/><circle cx="606.7" cy="157.5" r="2.8"/><circle cx="604.5" cy="157.3" r="2.8"/><circle cx="619" cy="170.5" r="2.8"/><circle cx="610" cy="173.5" r="2.8"/><circle cx="602.8" cy="173.1" r="2.8"/><circle cx="602.7" cy="166.4" r="2.8"/><circle cx="602.8" cy="164.4" r="2.8"/><circle cx="603.5" cy="161.3" r="2.8"/><circle cx="615.9" cy="171.4" r="2.8"/><circle cx="603.9" cy="162.1" r="2.8"/><circle cx="614.7" cy="174.3" r="2.8"/><circle cx="630.9" cy="190.9" r="2.8"/><circle cx="687.2" cy="226.9" r="2.8"/><circle cx="625.6" cy="190.6" r="2.8"/><circle cx="743.4" cy="276.3" r="2.8"/><circle cx="684" cy="233.2" r="2.8"/><circle cx="724.6" cy="278.4" r="2.8"/><circle cx="693.7" cy="247.3" r="2.8"/><circle cx="646.3" cy="202.4" r="2.8"/><circle cx="640.3" cy="192.7" r="2.8"/><circle cx="715.9" cy="258.8" r="2.8"/><circle cx="662.8" cy="223.5" r="2.8"/><circle cx="623.2" cy="182" r="2.8"/><circle cx="690.8" cy="240.3" r="2.8"/><circle cx="635" cy="184.7" r="2.8"/><circle cx="739.5" cy="250" r="2.8"/><circle cx="733.8" cy="261.4" r="2.8"/><circle cx="730" cy="258.2" r="2.8"/><circle cx="659.1" cy="208" r="2.8"/><circle cx="695.5" cy="249.4" r="2.8"/><circle cx="667.8" cy="224.4" r="2.8"/><circle cx="723.4" cy="257.6" r="2.8"/><circle cx="643.3" cy="197.7" r="2.8"/><circle cx="656.6" cy="204.4" r="2.8"/><circle cx="707.6" cy="264.2" r="2.8"/><circle cx="687.5" cy="239.6" r="2.8"/><circle cx="641.5" cy="197" r="2.8"/><circle cx="743.7" cy="273.1" r="2.8"/><circle cx="659.4" cy="208.5" r="2.8"/><circle cx="666.6" cy="218.4" r="2.8"/><circle cx="674.9" cy="218.6" r="2.8"/><circle cx="696.3" cy="243.7" r="2.8"/><circle cx="650.8" cy="209.5" r="2.8"/><circle cx="744.5" cy="255.2" r="2.8"/><circle cx="745.9" cy="272.9" r="2.8"/><circle cx="702.9" cy="239.3" r="2.8"/><circle cx="730.5" cy="267.9" r="2.8"/><circle cx="711.8" cy="271.8" r="2.8"/><circle cx="736.4" cy="275.6" r="2.8"/><circle cx="721.9" cy="270.6" r="2.8"/><circle cx="653.4" cy="205.3" r="2.8"/><circle cx="745.6" cy="268.9" r="2.8"/><circle cx="711.6" cy="261.9" r="2.8"/><circle cx="631.6" cy="186.5" r="2.8"/><circle cx="653.3" cy="198.3" r="2.8"/><circle cx="620.4" cy="182.9" r="2.8"/><circle cx="699.2" cy="227.1" r="2.8"/><circle cx="672.8" cy="224" r="2.8"/><circle cx="697.2" cy="246.5" r="2.8"/><circle cx="682.3" cy="235.1" r="2.8"/><circle cx="742.5" cy="275.6" r="2.8"/><circle cx="670.6" cy="229.2" r="2.8"/><circle cx="707.8" cy="236.3" r="2.8"/><circle cx="729.8" cy="272.1" r="2.8"/><circle cx="718.2" cy="238.4" r="2.8"/><circle cx="624.8" cy="189.2" r="2.8"/><circle cx="755" cy="270.5" r="2.8"/><circle cx="676.6" cy="252.1" r="2.8"/><circle cx="644" cy="202.9" r="2.8"/><circle cx="676.3" cy="229.8" r="2.8"/><circle cx="695.3" cy="231.6" r="2.8"/><circle cx="734.6" cy="253.5" r="2.8"/><circle cx="718.8" cy="257" r="2.8"/><circle cx="626.4" cy="199.6" r="2.8"/><circle cx="717.3" cy="255.4" r="2.8"/><circle cx="658.5" cy="212.7" r="2.8"/><circle cx="693.1" cy="237.1" r="2.8"/><circle cx="666" cy="221.7" r="2.8"/><circle cx="710.8" cy="276.3" r="2.8"/><circle cx="661.3" cy="194.4" r="2.8"/><circle cx="729.4" cy="257.9" r="2.8"/><circle cx="652.4" cy="213.1" r="2.8"/><circle cx="634.5" cy="180.1" r="2.8"/><circle cx="717.2" cy="257.5" r="2.8"/><circle cx="708.6" cy="233.4" r="2.8"/><circle cx="705.7" cy="258.2" r="2.8"/><circle cx="688.3" cy="229.3" r="2.8"/><circle cx="632.8" cy="188.2" r="2.8"/><circle cx="736.9" cy="258.3" r="2.8"/><circle cx="659.2" cy="217.9" r="2.8"/><circle cx="692.8" cy="234.2" r="2.8"/><circle cx="636.3" cy="205.5" r="2.8"/><circle cx="643.3" cy="191.6" r="2.8"/><circle cx="708.6" cy="228.1" r="2.8"/><circle cx="743.4" cy="250.1" r="2.8"/><circle cx="700.6" cy="228.1" r="2.8"/><circle cx="628.8" cy="190.1" r="2.8"/><circle cx="740.3" cy="267.2" r="2.8"/><circle cx="685.3" cy="232.4" r="2.8"/><circle cx="718.4" cy="255.9" r="2.8"/><circle cx="710.9" cy="229.9" r="2.8"/><circle cx="633.8" cy="191.5" r="2.8"/><circle cx="625.3" cy="194.5" r="2.8"/><circle cx="649.6" cy="206.4" r="2.8"/><circle cx="697" cy="234" r="2.8"/><circle cx="651.5" cy="212.3" r="2.8"/><circle cx="736.3" cy="275.3" r="2.8"/><circle cx="658.9" cy="212.2" r="2.8"/><circle cx="731.1" cy="276.6" r="2.8"/><circle cx="661.6" cy="211.9" r="2.8"/><circle cx="727.7" cy="259.3" r="2.8"/><circle cx="658.3" cy="211.8" r="2.8"/><circle cx="679.2" cy="220.5" r="2.8"/><circle cx="671.6" cy="235.6" r="2.8"/><circle cx="642.1" cy="217.2" r="2.8"/><circle cx="726.8" cy="254.7" r="2.8"/><circle cx="718.7" cy="264.6" r="2.8"/><circle cx="689.6" cy="252.8" r="2.8"/><circle cx="687.2" cy="223.7" r="2.8"/><circle cx="698.2" cy="242.1" r="2.8"/><circle cx="630.3" cy="194.8" r="2.8"/><circle cx="719.6" cy="257.9" r="2.8"/><circle cx="688.5" cy="229.7" r="2.8"/><circle cx="725.6" cy="267.5" r="2.8"/><circle cx="627.3" cy="197.3" r="2.8"/><circle cx="631.9" cy="189.8" r="2.8"/><circle cx="673.7" cy="207.7" r="2.8"/><circle cx="629.8" cy="196.3" r="2.8"/><circle cx="642.9" cy="195.2" r="2.8"/><circle cx="685.2" cy="243.8" r="2.8"/><circle cx="745.4" cy="271.7" r="2.8"/><circle cx="640.4" cy="197.3" r="2.8"/><circle cx="627.9" cy="188.5" r="2.8"/><circle cx="738.4" cy="275.9" r="2.8"/><circle cx="655.7" cy="223.5" r="2.8"/><circle cx="704" cy="234.7" r="2.8"/><circle cx="628.8" cy="180.2" r="2.8"/><circle cx="621.2" cy="182.2" r="2.8"/><circle cx="697.8" cy="224.5" r="2.8"/><circle cx="646.2" cy="200.6" r="2.8"/><circle cx="645.8" cy="202.1" r="2.8"/><circle cx="665.2" cy="215.3" r="2.8"/><circle cx="625.7" cy="202.8" r="2.8"/><circle cx="702.8" cy="234.4" r="2.8"/><circle cx="669.6" cy="216.3" r="2.8"/><circle cx="663.1" cy="221.2" r="2.8"/><circle cx="627" cy="186.1" r="2.8"/><circle cx="637.3" cy="191.3" r="2.8"/><circle cx="623.4" cy="182.6" r="2.8"/><circle cx="643.3" cy="202.8" r="2.8"/><circle cx="654.5" cy="201.9" r="2.8"/><circle cx="709.7" cy="256.1" r="2.8"/><circle cx="650.9" cy="216.4" r="2.8"/><circle cx="714" cy="251.5" r="2.8"/><circle cx="659.9" cy="193.5" r="2.8"/><circle cx="632.7" cy="190.8" r="2.8"/><circle cx="724.2" cy="248.7" r="2.8"/><circle cx="688.3" cy="221.3" r="2.8"/><circle cx="726.7" cy="263.3" r="2.8"/><circle cx="705.7" cy="244.3" r="2.8"/><circle cx="748.4" cy="276" r="2.8"/><circle cx="706" cy="242.1" r="2.8"/><circle cx="728.5" cy="277" r="2.8"/><circle cx="712.1" cy="264.9" r="2.8"/><circle cx="661.1" cy="215.1" r="2.8"/><circle cx="649.5" cy="193.9" r="2.8"/><circle cx="707.2" cy="240.2" r="2.8"/><circle cx="642.5" cy="184.1" r="2.8"/><circle cx="701.1" cy="240.9" r="2.8"/><circle cx="690.8" cy="237.5" r="2.8"/><circle cx="639.2" cy="208" r="2.8"/><circle cx="743.1" cy="259.3" r="2.8"/><circle cx="713.1" cy="266" r="2.8"/><circle cx="639.2" cy="200.7" r="2.8"/><circle cx="697.6" cy="255" r="2.8"/><circle cx="726.1" cy="269.4" r="2.8"/><circle cx="655.2" cy="201.6" r="2.8"/><circle cx="643.9" cy="207.7" r="2.8"/><circle cx="641.9" cy="205" r="2.8"/><circle cx="707.9" cy="242.7" r="2.8"/><circle cx="748.9" cy="250.4" r="2.8"/><circle cx="690.7" cy="246" r="2.8"/><circle cx="684.6" cy="218.3" r="2.8"/><circle cx="681.1" cy="218.9" r="2.8"/><circle cx="673.1" cy="224.8" r="2.8"/><circle cx="647.8" cy="196.4" r="2.8"/><circle cx="694" cy="231.9" r="2.8"/><circle cx="732.6" cy="261" r="2.8"/><circle cx="617.2" cy="186.6" r="2.8"/><circle cx="709.7" cy="258.3" r="2.8"/><circle cx="675" cy="224.4" r="2.8"/><circle cx="692.3" cy="250.8" r="2.8"/><circle cx="709.5" cy="245.5" r="2.8"/><circle cx="682.9" cy="233.9" r="2.8"/><circle cx="670.6" cy="214.6" r="2.8"/><circle cx="680.2" cy="235.1" r="2.8"/><circle cx="644.9" cy="204.1" r="2.8"/><circle cx="668.9" cy="225" r="2.8"/><circle cx="740.4" cy="281.8" r="2.8"/><circle cx="714.8" cy="243.7" r="2.8"/><circle cx="710.2" cy="253.5" r="2.8"/><circle cx="641.3" cy="190.5" r="2.8"/><circle cx="744.4" cy="273.9" r="2.8"/><circle cx="672.5" cy="204.8" r="2.8"/><circle cx="670.4" cy="204.8" r="2.8"/><circle cx="662.6" cy="204.4" r="2.8"/><circle cx="654.9" cy="211.4" r="2.8"/><circle cx="740.3" cy="274.6" r="2.8"/><circle cx="735.1" cy="260.6" r="2.8"/><circle cx="670.4" cy="215.2" r="2.8"/><circle cx="736.4" cy="273.9" r="2.8"/><circle cx="650" cy="192.1" r="2.8"/><circle cx="643.3" cy="197.7" r="2.8"/><circle cx="655.5" cy="201.6" r="2.8"/><circle cx="671.6" cy="216.8" r="2.8"/><circle cx="743.7" cy="279.7" r="2.8"/><circle cx="677.4" cy="236.1" r="2.8"/><circle cx="632.9" cy="196.1" r="2.8"/><circle cx="672.9" cy="218.7" r="2.8"/><circle cx="729.7" cy="272.7" r="2.8"/><circle cx="681.7" cy="242.4" r="2.8"/><circle cx="722.1" cy="264.3" r="2.8"/><circle cx="698.9" cy="245.9" r="2.8"/><circle cx="673.7" cy="228" r="2.8"/><circle cx="731.8" cy="265.5" r="2.8"/><circle cx="729.4" cy="279.4" r="2.8"/><circle cx="738.7" cy="269" r="2.8"/><circle cx="709.4" cy="260.4" r="2.8"/><circle cx="683.4" cy="244" r="2.8"/><circle cx="682.6" cy="238.5" r="2.8"/><circle cx="654.3" cy="208.1" r="2.8"/><circle cx="626.2" cy="182.5" r="2.8"/><circle cx="648.8" cy="204" r="2.8"/><circle cx="705.1" cy="255.3" r="2.8"/><circle cx="689.8" cy="223.5" r="2.8"/><circle cx="676.7" cy="209.5" r="2.8"/><circle cx="692.3" cy="226.5" r="2.8"/><circle cx="730.3" cy="265.7" r="2.8"/><circle cx="724.6" cy="252.4" r="2.8"/><circle cx="631.2" cy="191.1" r="2.8"/><circle cx="730.9" cy="262.3" r="2.8"/><circle cx="729.1" cy="271.8" r="2.8"/><circle cx="731.5" cy="254" r="2.8"/><circle cx="667.3" cy="203.9" r="2.8"/><circle cx="622.1" cy="182" r="2.8"/><circle cx="695.4" cy="239.6" r="2.8"/><circle cx="617.7" cy="186.4" r="2.8"/><circle cx="655.7" cy="200.8" r="2.8"/><circle cx="620.4" cy="186.5" r="2.8"/><circle cx="690.9" cy="231.6" r="2.8"/><circle cx="676.2" cy="232.9" r="2.8"/><circle cx="733.2" cy="289.5" r="2.8"/><circle cx="673.7" cy="221.9" r="2.8"/><circle cx="721.9" cy="259" r="2.8"/><circle cx="737.9" cy="271.2" r="2.8"/><circle cx="693.4" cy="232.1" r="2.8"/><circle cx="649.9" cy="212.5" r="2.8"/><circle cx="660.6" cy="216" r="2.8"/><circle cx="688.6" cy="241.9" r="2.8"/><circle cx="713.4" cy="234.8" r="2.8"/><circle cx="647" cy="186.2" r="2.8"/><circle cx="614.8" cy="191.9" r="2.8"/><circle cx="730.2" cy="251.4" r="2.8"/><circle cx="620.3" cy="185" r="2.8"/><circle cx="744.1" cy="278.2" r="2.8"/><circle cx="660.5" cy="230.8" r="2.8"/><circle cx="689.8" cy="224.5" r="2.8"/><circle cx="641.2" cy="206.2" r="2.8"/><circle cx="735.8" cy="247.8" r="2.8"/><circle cx="716.3" cy="237.8" r="2.8"/><circle cx="736" cy="265.1" r="2.8"/><circle cx="729.3" cy="245.4" r="2.8"/><circle cx="632.6" cy="181.1" r="2.8"/><circle cx="653.4" cy="202.3" r="2.8"/><circle cx="731.8" cy="284.6" r="2.8"/><circle cx="642.8" cy="198.9" r="2.8"/><circle cx="654.5" cy="193.8" r="2.8"/><circle cx="696.5" cy="240.8" r="2.8"/><circle cx="726.6" cy="257.9" r="2.8"/><circle cx="689.2" cy="261.2" r="2.8"/><circle cx="681.7" cy="239.2" r="2.8"/><circle cx="739.9" cy="285.5" r="2.8"/><circle cx="731.6" cy="262.2" r="2.8"/><circle cx="696.9" cy="241.4" r="2.8"/><circle cx="738" cy="287.1" r="2.8"/><circle cx="636.4" cy="190" r="2.8"/><circle cx="651.2" cy="211.6" r="2.8"/><circle cx="668.4" cy="223.1" r="2.8"/><circle cx="709.2" cy="240.2" r="2.8"/><circle cx="718.9" cy="284.2" r="2.8"/><circle cx="694.5" cy="221.9" r="2.8"/><circle cx="675.6" cy="211.2" r="2.8"/><circle cx="695" cy="224.3" r="2.8"/><circle cx="744.4" cy="263.7" r="2.8"/><circle cx="691.3" cy="249.9" r="2.8"/><circle cx="650.2" cy="216.3" r="2.8"/><circle cx="734.8" cy="272.3" r="2.8"/><circle cx="701.6" cy="235.3" r="2.8"/><circle cx="674.6" cy="230.5" r="2.8"/><circle cx="670.5" cy="223" r="2.8"/><circle cx="630.2" cy="185.4" r="2.8"/><circle cx="709.4" cy="284" r="2.8"/><circle cx="643.4" cy="199.2" r="2.8"/><circle cx="636.6" cy="194.9" r="2.8"/><circle cx="659.2" cy="212.6" r="2.8"/><circle cx="619.6" cy="186.1" r="2.8"/><circle cx="651.8" cy="210.2" r="2.8"/><circle cx="659.4" cy="211.6" r="2.8"/><circle cx="690.1" cy="236" r="2.8"/><circle cx="654.2" cy="205.9" r="2.8"/><circle cx="690.3" cy="233.8" r="2.8"/><circle cx="637.3" cy="195.1" r="2.8"/><circle cx="635.9" cy="195.4" r="2.8"/><circle cx="621.7" cy="188.3" r="2.8"/><circle cx="683.7" cy="234.5" r="2.8"/><circle cx="642.1" cy="206.6" r="2.8"/><circle cx="697.5" cy="242.6" r="2.8"/><circle cx="630.5" cy="190" r="2.8"/><circle cx="706.8" cy="254.4" r="2.8"/><circle cx="742.6" cy="280.4" r="2.8"/><circle cx="649.3" cy="200.4" r="2.8"/><circle cx="718.3" cy="267.8" r="2.8"/><circle cx="705.1" cy="244.7" r="2.8"/><circle cx="677.2" cy="222.9" r="2.8"/><circle cx="737.2" cy="273.3" r="2.8"/><circle cx="623.7" cy="187" r="2.8"/><circle cx="627.2" cy="193.8" r="2.8"/><circle cx="720.6" cy="265.9" r="2.8"/><circle cx="652" cy="212.8" r="2.8"/><circle cx="674.2" cy="232.7" r="2.8"/><circle cx="694.7" cy="237.3" r="2.8"/><circle cx="680" cy="230.3" r="2.8"/><circle cx="630.7" cy="192.5" r="2.8"/><circle cx="742.5" cy="271.4" r="2.8"/><circle cx="643.2" cy="201.8" r="2.8"/><circle cx="744.6" cy="278.2" r="2.8"/><circle cx="705.6" cy="243.6" r="2.8"/><circle cx="652.1" cy="210.8" r="2.8"/><circle cx="662.7" cy="217.1" r="2.8"/><circle cx="737.3" cy="272.8" r="2.8"/><circle cx="711.9" cy="246.2" r="2.8"/><circle cx="649.1" cy="207.7" r="2.8"/><circle cx="686.6" cy="233.5" r="2.8"/><circle cx="643.7" cy="200.4" r="2.8"/><circle cx="734.6" cy="279.7" r="2.8"/><circle cx="626.4" cy="188.4" r="2.8"/><circle cx="638.3" cy="194.2" r="2.8"/><circle cx="650" cy="205.8" r="2.8"/><circle cx="742.6" cy="283.9" r="2.8"/><circle cx="685.8" cy="231" r="2.8"/><circle cx="716.1" cy="262.2" r="2.8"/><circle cx="656.4" cy="209.6" r="2.8"/><circle cx="715.3" cy="258.3" r="2.8"/><circle cx="743" cy="279.4" r="2.8"/><circle cx="722.4" cy="262.3" r="2.8"/><circle cx="691.8" cy="230.2" r="2.8"/><circle cx="710.5" cy="249.8" r="2.8"/><circle cx="732.9" cy="269" r="2.8"/><circle cx="710.5" cy="250.8" r="2.8"/><circle cx="726.8" cy="265.6" r="2.8"/><circle cx="644.6" cy="201.3" r="2.8"/><circle cx="644.9" cy="211.3" r="2.8"/><circle cx="625.3" cy="190.5" r="2.8"/><circle cx="697.8" cy="250.8" r="2.8"/><circle cx="710.3" cy="254.4" r="2.8"/><circle cx="628.9" cy="195.3" r="2.8"/><circle cx="669.2" cy="216.7" r="2.8"/><circle cx="741.5" cy="278.7" r="2.8"/><circle cx="650.6" cy="207" r="2.8"/><circle cx="639.2" cy="196.1" r="2.8"/><circle cx="734.1" cy="266.2" r="2.8"/><circle cx="671.9" cy="220.6" r="2.8"/><circle cx="718.4" cy="254.6" r="2.8"/><circle cx="701.8" cy="240.2" r="2.8"/><circle cx="711.3" cy="254" r="2.8"/><circle cx="657.8" cy="210.3" r="2.8"/><circle cx="680.3" cy="226.9" r="2.8"/><circle cx="700.3" cy="243.8" r="2.8"/><circle cx="717.2" cy="254.4" r="2.8"/><circle cx="728.2" cy="266.7" r="2.8"/><circle cx="667.2" cy="219.1" r="2.8"/><circle cx="723.9" cy="257.9" r="2.8"/><circle cx="678.1" cy="224" r="2.8"/><circle cx="646.7" cy="205.6" r="2.8"/><circle cx="620.9" cy="183" r="2.8"/><circle cx="737.9" cy="275.8" r="2.8"/><circle cx="730.3" cy="270.6" r="2.8"/><circle cx="678.8" cy="227.7" r="2.8"/><circle cx="726.6" cy="265.2" r="2.8"/><circle cx="744.4" cy="278.4" r="2.8"/><circle cx="700.8" cy="246.3" r="2.8"/><circle cx="621.6" cy="182.3" r="2.8"/><circle cx="713.9" cy="259.1" r="2.8"/><circle cx="713.2" cy="253.7" r="2.8"/><circle cx="637.8" cy="196.8" r="2.8"/><circle cx="706.5" cy="248.5" r="2.8"/><circle cx="676" cy="224" r="2.8"/><circle cx="705.3" cy="247.8" r="2.8"/><circle cx="667.1" cy="213.8" r="2.8"/><circle cx="686.7" cy="232.3" r="2.8"/><circle cx="705.4" cy="245.5" r="2.8"/><circle cx="689.3" cy="234.8" r="2.8"/><circle cx="689.3" cy="230.7" r="2.8"/><circle cx="638.2" cy="197.5" r="2.8"/><circle cx="719.2" cy="256" r="2.8"/><circle cx="648.3" cy="200.1" r="2.8"/><circle cx="639" cy="197.9" r="2.8"/><circle cx="687.1" cy="234" r="2.8"/><circle cx="699.4" cy="238" r="2.8"/><circle cx="686.8" cy="235.9" r="2.8"/><circle cx="624.9" cy="182.4" r="2.8"/><circle cx="721" cy="261" r="2.8"/><circle cx="684" cy="232.9" r="2.8"/><circle cx="648.9" cy="202.7" r="2.8"/><circle cx="631.5" cy="187.7" r="2.8"/><circle cx="703.3" cy="241.5" r="2.8"/><circle cx="740.4" cy="279.4" r="2.8"/><circle cx="735.8" cy="265.3" r="2.8"/><circle cx="682.1" cy="228.2" r="2.8"/><circle cx="661.2" cy="214.1" r="2.8"/><circle cx="647.4" cy="201.8" r="2.8"/><circle cx="737.8" cy="273.7" r="2.8"/><circle cx="636.7" cy="193.4" r="2.8"/><circle cx="670.1" cy="219" r="2.8"/><circle cx="656.7" cy="206.7" r="2.8"/><circle cx="649.4" cy="205.5" r="2.8"/><circle cx="656.8" cy="209.4" r="2.8"/><circle cx="677.1" cy="225.2" r="2.8"/><circle cx="644.4" cy="200.4" r="2.8"/><circle cx="622.7" cy="185.2" r="2.8"/><circle cx="632.3" cy="194.3" r="2.8"/><circle cx="742.5" cy="276" r="2.8"/><circle cx="700.3" cy="245.2" r="2.8"/><circle cx="732.4" cy="269" r="2.8"/><circle cx="637.3" cy="194.7" r="2.8"/><circle cx="623.4" cy="187.5" r="2.8"/><circle cx="647.9" cy="202.5" r="2.8"/><circle cx="637.3" cy="197.1" r="2.8"/><circle cx="621.4" cy="187.3" r="2.8"/><circle cx="668.3" cy="218.5" r="2.8"/><circle cx="656" cy="211" r="2.8"/><circle cx="722.6" cy="264" r="2.8"/><circle cx="711.3" cy="251.7" r="2.8"/><circle cx="647.8" cy="203.5" r="2.8"/><circle cx="716.6" cy="259.2" r="2.8"/><circle cx="676.6" cy="224" r="2.8"/><circle cx="734.6" cy="280" r="2.8"/><circle cx="635.9" cy="195.9" r="2.8"/><circle cx="717.1" cy="257.1" r="2.8"/><circle cx="665.8" cy="216.4" r="2.8"/><circle cx="703" cy="247.7" r="2.8"/><circle cx="665.7" cy="219.7" r="2.8"/><circle cx="740.6" cy="271.9" r="2.8"/><circle cx="704.2" cy="251.6" r="2.8"/><circle cx="661.6" cy="212.9" r="2.8"/><circle cx="620.2" cy="186.8" r="2.8"/><circle cx="717.6" cy="252.4" r="2.8"/><circle cx="662.1" cy="214.1" r="2.8"/><circle cx="655.6" cy="212.3" r="2.8"/><circle cx="737.7" cy="269.1" r="2.8"/><circle cx="657.5" cy="217" r="2.8"/><circle cx="681.5" cy="230.8" r="2.8"/><circle cx="635.4" cy="195" r="2.8"/><circle cx="737.4" cy="272" r="2.8"/><circle cx="721.6" cy="256.7" r="2.8"/><circle cx="638.2" cy="193.8" r="2.8"/><circle cx="641.9" cy="202.1" r="2.8"/><circle cx="742" cy="275.3" r="2.8"/><circle cx="744.7" cy="281.1" r="2.8"/><circle cx="664.1" cy="213.4" r="2.8"/><circle cx="747.4" cy="278.8" r="2.8"/><circle cx="641.8" cy="204.1" r="2.8"/><circle cx="624.2" cy="182.5" r="2.8"/><circle cx="655.1" cy="209.4" r="2.8"/><circle cx="676.3" cy="223.2" r="2.8"/><circle cx="687.5" cy="235.8" r="2.8"/><circle cx="740.5" cy="284.2" r="2.8"/><circle cx="646.3" cy="204.6" r="2.8"/><circle cx="737.5" cy="273.9" r="2.8"/><circle cx="672.4" cy="222.8" r="2.8"/><circle cx="638.3" cy="198.3" r="2.8"/><circle cx="644.3" cy="206.7" r="2.8"/><circle cx="636.7" cy="191.8" r="2.8"/><circle cx="709.1" cy="247.2" r="2.8"/><circle cx="644.2" cy="197" r="2.8"/><circle cx="638.7" cy="197.4" r="2.8"/><circle cx="639.1" cy="200.5" r="2.8"/><circle cx="642.2" cy="201.8" r="2.8"/><circle cx="690" cy="237.1" r="2.8"/><circle cx="662.7" cy="214.1" r="2.8"/><circle cx="676.7" cy="221.8" r="2.8"/><circle cx="637.1" cy="200.4" r="2.8"/><circle cx="621.4" cy="188.6" r="2.8"/><circle cx="728" cy="270.1" r="2.8"/><circle cx="659.2" cy="209.2" r="2.8"/><circle cx="670" cy="224.4" r="2.8"/><circle cx="648.4" cy="206.7" r="2.8"/><circle cx="660.2" cy="217.3" r="2.8"/><circle cx="657.6" cy="209.4" r="2.8"/><circle cx="642.7" cy="196.2" r="2.8"/><circle cx="692.1" cy="236.8" r="2.8"/><circle cx="717" cy="251.2" r="2.8"/><circle cx="701.7" cy="239.9" r="2.8"/><circle cx="747.8" cy="269.2" r="2.8"/><circle cx="674.5" cy="219.7" r="2.8"/><circle cx="661.3" cy="185.8" r="2.8"/><circle cx="743.4" cy="256" r="2.8"/><circle cx="667.3" cy="208.2" r="2.8"/><circle cx="648.2" cy="199.3" r="2.8"/><circle cx="693.8" cy="223.8" r="2.8"/><circle cx="743.8" cy="257.3" r="2.8"/><circle cx="681.4" cy="208.4" r="2.8"/><circle cx="749.6" cy="267.5" r="2.8"/><circle cx="714.7" cy="238" r="2.8"/><circle cx="692.4" cy="210.6" r="2.8"/><circle cx="683.2" cy="223.3" r="2.8"/><circle cx="706" cy="251" r="2.8"/><circle cx="699.7" cy="238.7" r="2.8"/><circle cx="678.8" cy="217.4" r="2.8"/><circle cx="717.7" cy="245.2" r="2.8"/><circle cx="724.3" cy="251.9" r="2.8"/><circle cx="750.8" cy="255.9" r="2.8"/><circle cx="694.9" cy="221" r="2.8"/><circle cx="752.7" cy="261.5" r="2.8"/></g>
<g class="r2_8" fill="none" stroke="#111" stroke-width="0.9" stroke-opacity="0.75"><circle cx="543.1" cy="104.9" r="2.8"/><circle cx="585.6" cy="150" r="2.8"/><circle cx="615.8" cy="174.5" r="2.8"/><circle cx="606.5" cy="170.3" r="2.8"/><circle cx="606" cy="172.5" r="2.8"/><circle cx="547.2" cy="102.9" r="2.8"/><circle cx="586.4" cy="142.2" r="2.8"/><circle cx="576.7" cy="135.3" r="2.8"/><circle cx="602.6" cy="170.8" r="2.8"/><circle cx="606.6" cy="179.5" r="2.8"/><circle cx="564" cy="121.6" r="2.8"/><circle cx="614.2" cy="176.5" r="2.8"/><circle cx="588.4" cy="142.3" r="2.8"/><circle cx="595.1" cy="160.2" r="2.8"/><circle cx="560" cy="122.8" r="2.8"/><circle cx="583.2" cy="145.7" r="2.8"/><circle cx="608.9" cy="174.3" r="2.8"/><circle cx="563" cy="123.4" r="2.8"/><circle cx="567.6" cy="131.7" r="2.8"/><circle cx="545.1" cy="99.2" r="2.8"/><circle cx="587.8" cy="147.1" r="2.8"/><circle cx="616.8" cy="177.9" r="2.8"/><circle cx="595.9" cy="166.5" r="2.8"/><circle cx="543.7" cy="107" r="2.8"/><circle cx="602.8" cy="166.1" r="2.8"/><circle cx="614.8" cy="175.9" r="2.8"/><circle cx="561.5" cy="115.3" r="2.8"/><circle cx="547.6" cy="104.9" r="2.8"/><circle cx="569.7" cy="137.6" r="2.8"/><circle cx="561.1" cy="118.8" r="2.8"/><circle cx="542.7" cy="108.6" r="2.8"/><circle cx="542.5" cy="106.1" r="2.8"/><circle cx="545.8" cy="108.7" r="2.8"/><circle cx="596.6" cy="154.9" r="2.8"/><circle cx="580.4" cy="145.3" r="2.8"/><circle cx="565.8" cy="127.2" r="2.8"/><circle cx="614.1" cy="177.3" r="2.8"/><circle cx="577.9" cy="135.2" r="2.8"/><circle cx="577.1" cy="139.4" r="2.8"/><circle cx="596.3" cy="166.4" r="2.8"/><circle cx="602.2" cy="163.8" r="2.8"/><circle cx="577" cy="137.7" r="2.8"/><circle cx="552.3" cy="111.7" r="2.8"/><circle cx="577.6" cy="133.8" r="2.8"/><circle cx="567.5" cy="132.7" r="2.8"/><circle cx="603.2" cy="168.3" r="2.8"/><circle cx="561.4" cy="116.9" r="2.8"/><circle cx="548.8" cy="115.2" r="2.8"/><circle cx="576.4" cy="143.1" r="2.8"/><circle cx="608.8" cy="166.3" r="2.8"/><circle cx="572.8" cy="138.5" r="2.8"/><circle cx="581" cy="143.4" r="2.8"/><circle cx="562.2" cy="119.2" r="2.8"/><circle cx="611.2" cy="169.1" r="2.8"/><circle cx="548" cy="102.6" r="2.8"/><circle cx="597.5" cy="163.8" r="2.8"/><circle cx="582.7" cy="137.3" r="2.8"/><circle cx="602.5" cy="162.3" r="2.8"/><circle cx="550.7" cy="114.5" r="2.8"/><circle cx="550.6" cy="112.4" r="2.8"/><circle cx="599.5" cy="159.1" r="2.8"/><circle cx="595.5" cy="165.5" r="2.8"/><circle cx="563.1" cy="118.4" r="2.8"/><circle cx="542.4" cy="103.1" r="2.8"/><circle cx="597.9" cy="166.6" r="2.8"/><circle cx="600.7" cy="167.9" r="2.8"/><circle cx="606.8" cy="167.6" r="2.8"/><circle cx="596" cy="165.1" r="2.8"/><circle cx="565.6" cy="121.5" r="2.8"/><circle cx="572.2" cy="129.1" r="2.8"/><circle cx="609.9" cy="172.8" r="2.8"/><circle cx="585.6" cy="144.7" r="2.8"/><circle cx="559.4" cy="115" r="2.8"/><circle cx="613.1" cy="176.6" r="2.8"/><circle cx="551.6" cy="113.5" r="2.8"/><circle cx="571.7" cy="124.3" r="2.8"/><circle cx="612" cy="174.9" r="2.8"/><circle cx="588.3" cy="151.7" r="2.8"/><circle cx="584.9" cy="155.4" r="2.8"/><circle cx="579.7" cy="140.2" r="2.8"/><circle cx="596" cy="158.4" r="2.8"/><circle cx="601.1" cy="164" r="2.8"/><circle cx="577.5" cy="145" r="2.8"/><circle cx="558.6" cy="128.1" r="2.8"/><circle cx="556.9" cy="119.7" r="2.8"/><circle cx="603.3" cy="168.7" r="2.8"/><circle cx="590.2" cy="155" r="2.8"/><circle cx="555.9" cy="128.8" r="2.8"/><circle cx="550.6" cy="104.9" r="2.8"/><circle cx="559" cy="113.4" r="2.8"/><circle cx="607.5" cy="169" r="2.8"/><circle cx="596.4" cy="160.6" r="2.8"/><circle cx="570.7" cy="133.8" r="2.8"/><circle cx="606.9" cy="167.9" r="2.8"/><circle cx="560.4" cy="114.5" r="2.8"/><circle cx="569.1" cy="126.7" r="2.8"/><circle cx="554.7" cy="115.9" r="2.8"/><circle cx="546.4" cy="111.4" r="2.8"/><circle cx="575" cy="135.8" r="2.8"/><circle cx="590.5" cy="158.1" r="2.8"/><circle cx="602.9" cy="161.4" r="2.8"/><circle cx="554" cy="112.6" r="2.8"/><circle cx="545.5" cy="110.3" r="2.8"/><circle cx="591" cy="158.6" r="2.8"/><circle cx="561.5" cy="119.3" r="2.8"/><circle cx="549.8" cy="109.3" r="2.8"/><circle cx="563.6" cy="132.7" r="2.8"/><circle cx="605.8" cy="165.2" r="2.8"/><circle cx="542.6" cy="110.7" r="2.8"/><circle cx="583.8" cy="150.2" r="2.8"/><circle cx="582.4" cy="138.2" r="2.8"/><circle cx="549.6" cy="114" r="2.8"/><circle cx="554.7" cy="107.9" r="2.8"/><circle cx="599.2" cy="166" r="2.8"/><circle cx="561.5" cy="123.6" r="2.8"/><circle cx="609.9" cy="171.9" r="2.8"/><circle cx="593.6" cy="147.9" r="2.8"/><circle cx="592.1" cy="157.9" r="2.8"/><circle cx="580.9" cy="139" r="2.8"/><circle cx="570" cy="142.4" r="2.8"/><circle cx="561.1" cy="118.9" r="2.8"/><circle cx="561.1" cy="124.5" r="2.8"/><circle cx="608.7" cy="167.5" r="2.8"/><circle cx="564.3" cy="129.2" r="2.8"/><circle cx="578.3" cy="139.4" r="2.8"/><circle cx="585.9" cy="149.7" r="2.8"/><circle cx="570.4" cy="122.5" r="2.8"/><circle cx="545.9" cy="107.8" r="2.8"/><circle cx="575.3" cy="141.4" r="2.8"/><circle cx="605.8" cy="171.4" r="2.8"/><circle cx="612.1" cy="176.6" r="2.8"/><circle cx="585.4" cy="148.2" r="2.8"/><circle cx="569.8" cy="128.8" r="2.8"/><circle cx="555.9" cy="107.2" r="2.8"/><circle cx="585.6" cy="154.4" r="2.8"/><circle cx="594.3" cy="152.8" r="2.8"/><circle cx="562.9" cy="123.2" r="2.8"/><circle cx="562.6" cy="126.6" r="2.8"/><circle cx="545.8" cy="111.6" r="2.8"/><circle cx="551" cy="111.5" r="2.8"/><circle cx="572.4" cy="123.4" r="2.8"/><circle cx="608.7" cy="173.4" r="2.8"/><circle cx="579.3" cy="127.5" r="2.8"/><circle cx="599.3" cy="166.7" r="2.8"/><circle cx="555.7" cy="116.8" r="2.8"/><circle cx="575.5" cy="141.2" r="2.8"/><circle cx="559.7" cy="115.3" r="2.8"/><circle cx="594.5" cy="160.9" r="2.8"/><circle cx="540.8" cy="109.5" r="2.8"/><circle cx="565.2" cy="119.6" r="2.8"/><circle cx="591.9" cy="156.5" r="2.8"/><circle cx="570.1" cy="132" r="2.8"/><circle cx="544.5" cy="106.5" r="2.8"/><circle cx="600.7" cy="169.1" r="2.8"/><circle cx="546" cy="103.2" r="2.8"/><circle cx="578.1" cy="138.2" r="2.8"/><circle cx="596.3" cy="166.9" r="2.8"/><circle cx="599.2" cy="157.4" r="2.8"/><circle cx="542.2" cy="103.3" r="2.8"/><circle cx="611.9" cy="169.3" r="2.8"/><circle cx="607.2" cy="174.7" r="2.8"/><circle cx="557.1" cy="115.2" r="2.8"/><circle cx="551.2" cy="110.4" r="2.8"/><circle cx="600.8" cy="164" r="2.8"/><circle cx="572.8" cy="132.3" r="2.8"/><circle cx="586.3" cy="150.1" r="2.8"/><circle cx="548.4" cy="109.3" r="2.8"/><circle cx="586.6" cy="145.5" r="2.8"/><circle cx="599.3" cy="170.5" r="2.8"/><circle cx="542.5" cy="109.1" r="2.8"/><circle cx="557.8" cy="112.5" r="2.8"/><circle cx="580.1" cy="136.2" r="2.8"/><circle cx="584.3" cy="144" r="2.8"/><circle cx="614.1" cy="171" r="2.8"/><circle cx="607.3" cy="164.3" r="2.8"/><circle cx="588.6" cy="150.9" r="2.8"/><circle cx="574.6" cy="132.5" r="2.8"/><circle cx="584.3" cy="146.1" r="2.8"/><circle cx="595.1" cy="152.6" r="2.8"/><circle cx="610.7" cy="170.2" r="2.8"/><circle cx="598.2" cy="159.6" r="2.8"/><circle cx="578.4" cy="142.7" r="2.8"/><circle cx="578.8" cy="141.5" r="2.8"/><circle cx="544.3" cy="103.4" r="2.8"/><circle cx="572.7" cy="131.5" r="2.8"/><circle cx="549.2" cy="108.9" r="2.8"/><circle cx="613.5" cy="171.3" r="2.8"/><circle cx="593.6" cy="161.6" r="2.8"/><circle cx="545.9" cy="109.5" r="2.8"/><circle cx="606.1" cy="163.9" r="2.8"/></g>
<g fill="none" stroke="#a0574a" stroke-width="1.1"><path d="M510.5 1.9 513.6 17 515.9 31 519.8 51.2 523.7 65.1 526.4 80 530.8 91.8 535.5 98.2 541 102.1 547 107.5 550.5 109.5 553.5 106.5 557 105 562 106 568 110.5 574 120 580 128.8 584.3 137.3 594.2 154.2 602.6 165.4 615 179.7 621.6 188.3 628.2 195.5 640 202.1 653.2 209.3 663.7 217.9 675.5 227.1 690 237.6 705 250.7 725.8 266.2 756.9 289.5"/><path d="M510.5 1.9 513.6 17 515.9 31 519.8 51.2 523.7 65.1 526.4 80 530.8 91.8 535.5 98.2 541 102.1 546.6 106 554.5 114 562.4 124.2 577.3 144.3 591.3 161.2 605.4 178.1 613.7 186.3 626.8 203.4 642.6 211.3 658.4 220.5 674.2 235 687.4 246.8 702.5 255.9 731 279.2 757 300.6" stroke-dasharray="3.5 2"/></g></g>
<path d="M539.2 101.3L628.6 47.2M620.2 182.3L741.3 167.0" stroke="#bbb" stroke-width=".7" fill="none"/>
<rect x="539.2" y="101.3" width="81.0" height="81.0" fill="none" stroke="#333" stroke-width="1"/>
<rect x="628.6" y="47.2" width="112.7" height="119.8" fill="#fff"/>
<clipPath id="ci"><rect x="628.6" y="47.2" width="112.7" height="119.8"/></clipPath>
<g clip-path="url(#ci)"><path fill="none" stroke="#8c8f94" stroke-opacity="0.9" stroke-width="6.6" stroke-linecap="round" d="M626.2 53.4h.01M625.4 49.4h.01M627.8 44.3h.01M623.4 43.1h.01M634.1 52.6h.01M693.2 119.2h.01M735.2 155.4h.01M722.2 149.2h.01M721.5 152.6h.01M639.8 49.6h.01M694.3 107.7h.01M680.8 97.4h.01M716.8 150h.01M722.3 162.8h.01M663.1 77.2h.01M733 158.5h.01M697 107.9h.01M706.4 134.3h.01M657.5 79h.01M689.8 112.9h.01M725.5 155.1h.01M661.7 79.9h.01M668.2 92.2h.01M636.8 44.1h.01M696.2 114.9h.01M736.5 160.5h.01M707.5 143.7h.01M634.8 55.7h.01M717 143.1h.01M733.8 157.5h.01M659.7 67.8h.01M640.3 52.6h.01M671.1 100.8h.01M659.1 73.1h.01M633.5 58h.01M633.2 54.3h.01M637.8 58.2h.01M708.4 126.5h.01M685.9 112.3h.01M665.7 85.6h.01M732.9 159.6h.01M682.4 97.3h.01M681.3 103.5h.01M708 143.5h.01M716.2 139.7h.01M681.2 101.1h.01M646.8 62.7h.01M682.1 95.3h.01M668 93.6h.01M717.6 146.3h.01M659.4 70.3h.01M642 67.8h.01M680.4 109h.01M725.4 143.4h.01M675.3 102.3h.01M686.8 109.4h.01M660.6 73.6h.01M728.8 147.4h.01M640.9 49.2h.01M709.8 139.7h.01M689.1 100.4h.01M716.7 137.5h.01M644.6 66.8h.01M644.5 63.7h.01M712.5 132.6h.01M707 142.2h.01M661.9 72.5h.01M633.1 49.9h.01M710.3 143.8h.01M714.2 145.7h.01M722.7 145.3h.01M707.6 141.6h.01M665.3 77h.01M674.5 88.3h.01M727 153h.01M693.2 111.4h.01M656.7 67.4h.01M731.5 158.6h.01M645.8 65.3h.01M673.8 81.2h.01M729.9 156h.01M696.9 121.7h.01M692.2 127.2h.01M684.9 104.7h.01M707.6 131.7h.01M714.7 140h.01M681.9 111.9h.01M655.6 86.8h.01M653.2 74.4h.01M717.8 146.9h.01M699.6 126.7h.01M651.8 87.9h.01M644.4 52.6h.01M656.2 65h.01M723.6 147.3h.01M708.2 134.9h.01M672.4 95.3h.01M722.8 145.7h.01M658 66.7h.01M670.2 84.7h.01M650.1 68.7h.01M638.6 62.1h.01M678.4 98.2h.01M700 131.3h.01M717.3 136h.01M649.2 63.9h.01M637.4 60.5h.01M700.7 132h.01M659.7 73.8h.01M643.4 59h.01M662.6 93.6h.01M721.2 141.7h.01M633.4 61.1h.01M690.7 119.6h.01M688.7 101.8h.01M643.1 66.1h.01M650.1 56.9h.01M712 142.9h.01M659.6 80.3h.01M727 151.6h.01M704.3 116.1h.01M702.2 131h.01M686.7 102.9h.01M671.5 107.9h.01M659.1 73.2h.01M659.1 81.4h.01M725.2 145.2h.01M663.6 88.4h.01M683.1 103.6h.01M693.6 118.8h.01M672.1 78.6h.01M637.9 56.8h.01M678.8 106.4h.01M721.2 150.9h.01M730.1 158.6h.01M692.9 116.5h.01M671.2 87.9h.01M651.9 55.9h.01M693.1 125.7h.01M705.2 123.4h.01M661.6 79.6h.01M661.2 84.7h.01M637.8 62.5h.01M645.1 62.3h.01M674.7 79.9h.01M725.4 153.9h.01M684.5 85.9h.01M712.2 143.9h.01M651.6 70.2h.01M679.1 106.2h.01M657.1 67.9h.01M705.5 135.3h.01M630.8 59.3h.01M664.8 74.2h.01M702 128.8h.01M671.5 92.6h.01M636 55h.01M714.2 147.4h.01M638 50h.01M682.7 101.7h.01M708 144.3h.01M712 130.2h.01M632.8 50.1h.01M729.8 147.7h.01M723.2 155.7h.01M653.5 67.8h.01M645.3 60.6h.01M714.4 140h.01M675.4 93.1h.01M694.1 119.3h.01M641.4 59.1h.01M694.6 112.5h.01M712.3 149.5h.01M633.2 58.7h.01M654.5 63.8h.01M685.5 98.8h.01M691.3 110.4h.01M732.8 150.3h.01M723.3 140.3h.01M697.4 120.6h.01M677.8 93.3h.01M691.4 113.5h.01M706.4 123.1h.01M728.1 149.1h.01M710.6 133.4h.01M683.1 108.5h.01M683.7 106.6h.01M635.7 50.3h.01M675.2 91.9h.01M642.6 58.4h.01M732 150.7h.01M704.4 136.4h.01M637.9 59.3h.01M721.7 139.8h.01M712.1 106.6h.01M697.7 108.9h.01M669.7 60.4h.01M650.5 57.4h.01M733 148.2h.01M689.5 91.7h.01M716.4 133h.01M651.6 55.1h.01M714.6 123.2h.01M679.8 63.7h.01M673.6 79.5h.01M708 119.7h.01M696.6 98.6h.01M682 101.1h.01M676.2 64.3h.01M733.7 138.1h.01M665.2 61.2h.01M660.4 62.8h.01M701.9 105h.01M648.4 52.5h.01M671.3 90.7h.01M736 157.2h.01M673.4 84.8h.01M685.5 76.3h.01M737.1 154.1h.01M690.8 104.7h.01M739.2 149.9h.01M677.5 84.4h.01M666.8 70.2h.01M659.6 75.6h.01M681.1 77.4h.01M705.6 101.5h.01M717 120.6h.01M675.5 72.3h.01M668.5 70.6h.01M696.3 113.1h.01M707.7 108.4h.01M710.4 113.7h.01M700.3 101.2h.01M664.5 58.2h.01M743.8 158.4h.01M697.9 92.2h.01M681.5 87.9h.01M647.8 47.6h.01M669.7 73.5h.01M655.2 59.8h.01M705.6 120.6h.01M733.2 150h.01M740.8 153.4h.01M736.9 147.2h.01M714.9 114.3h.01M721.8 121.6h.01M685 90h.01M738.5 163.1h.01M654.1 47.2h.01M695.8 109.6h.01M712.2 114.9h.01M698.1 110h.01M718.7 127h.01M736.2 160h.01M730.5 144.8h.01M731.1 144h.01M725.1 151.5h.01M705.5 135.5h.01M735.2 148h.01M704.6 113.1h.01M730.7 149.9h.01M715.3 129h.01M701.6 111h.01M725 153h.01M718.6 137.9h.01M712.3 132.3h.01M714.1 126.9h.01M710 142.2h.01M741.7 144h.01M722.6 130.3h.01M719.5 130.1h.01M744.4 156.6h.01M729.1 145.2h.01M739.7 149.6h.01M737.9 155.7h.01M725.7 145.8h.01M730.3 157.4h.01M746.8 152.5h.01M727.1 154h.01M746.2 146.6h.01M717.1 153.4h.01M734.4 151.7h.01M711.7 126.2h.01M744.4 166.1h.01M717 143.4h.01M717.1 140.5h.01M717.7 127.2h.01M718 135.9h.01M735.3 150.9h.01M741.4 161.9h.01M735 170h.01M718.6 137.2h.01M710.5 128.7h.01M733.7 155.2h.01M742.8 164.4h.01M743.7 151.8h.01M740.7 170.8h.01M747.3 165.9h.01M745.5 166.6h.01M746.6 173.2h.01M745.2 165.3h.01M741.5 167.8h.01M746.3 165.7h.01M747.2 168.4h.01M746.1 167.7h.01M746.5 166.2h.01M747.4 171.9h.01M744.7 163.2h.01M743.5 172.1h.01M738.9 172h.01M740.4 170.1h.01M742.6 166.8h.01M743 171.7h.01M743.5 167.5h.01M745.8 167.5h.01M741.5 171.1h.01M747.3 165.9h.01M737.2 173.3h.01M747.7 164.8h.01M744.6 168.9h.01M746.2 163.9h.01M740.8 172h.01M743.9 166.5h.01M737.8 173h.01M741.6 173.2h.01M745.5 171.6h.01M742.5 172.3h.01M741.4 171h.01M746.9 161.8h.01M740.4 172.7h.01M746.2 174h.01M742.2 168h.01M743.3 167.1h.01M747.9 167.2h.01M744.8 171.2h.01M741.3 173.7h.01M746.9 167.3h.01"/><g class="r2_8" fill="none" stroke="#f2a30f" stroke-width="1.4" stroke-opacity="0.95"><circle cx="697.7" cy="108.9" r="2.8"/><circle cx="714.6" cy="123.2" r="2.8"/><circle cx="696.6" cy="98.6" r="2.8"/><circle cx="685.5" cy="76.3" r="2.8"/><circle cx="737.1" cy="154.1" r="2.8"/><circle cx="739.2" cy="149.9" r="2.8"/><circle cx="659.6" cy="75.6" r="2.8"/><circle cx="681.1" cy="77.4" r="2.8"/><circle cx="675.5" cy="72.3" r="2.8"/><circle cx="696.3" cy="113.1" r="2.8"/><circle cx="664.5" cy="58.2" r="2.8"/><circle cx="697.9" cy="92.2" r="2.8"/><circle cx="647.8" cy="47.6" r="2.8"/><circle cx="655.2" cy="59.8" r="2.8"/><circle cx="654.1" cy="47.2" r="2.8"/><circle cx="736.2" cy="160" r="2.8"/><circle cx="705.5" cy="135.5" r="2.8"/><circle cx="735.2" cy="148" r="2.8"/><circle cx="704.6" cy="113.1" r="2.8"/><circle cx="715.3" cy="129" r="2.8"/><circle cx="701.6" cy="111" r="2.8"/><circle cx="718.6" cy="137.9" r="2.8"/><circle cx="712.3" cy="132.3" r="2.8"/><circle cx="722.6" cy="130.3" r="2.8"/><circle cx="719.5" cy="130.1" r="2.8"/><circle cx="739.7" cy="149.6" r="2.8"/><circle cx="727.1" cy="154" r="2.8"/><circle cx="717.1" cy="153.4" r="2.8"/><circle cx="717" cy="143.4" r="2.8"/><circle cx="717.1" cy="140.5" r="2.8"/><circle cx="718" cy="135.9" r="2.8"/><circle cx="735.3" cy="150.9" r="2.8"/><circle cx="718.6" cy="137.2" r="2.8"/><circle cx="733.7" cy="155.2" r="2.8"/><circle cx="745.5" cy="166.6" r="2.8"/><circle cx="741.5" cy="167.8" r="2.8"/><circle cx="742.6" cy="166.8" r="2.8"/><circle cx="745.8" cy="167.5" r="2.8"/><circle cx="737.2" cy="173.3" r="2.8"/><circle cx="743.9" cy="166.5" r="2.8"/><circle cx="737.8" cy="173" r="2.8"/><circle cx="741.6" cy="173.2" r="2.8"/><circle cx="741.4" cy="171" r="2.8"/><circle cx="740.4" cy="172.7" r="2.8"/><circle cx="746.2" cy="174" r="2.8"/><circle cx="742.2" cy="168" r="2.8"/><circle cx="743.3" cy="167.1" r="2.8"/><circle cx="747.9" cy="167.2" r="2.8"/><circle cx="744.8" cy="171.2" r="2.8"/><circle cx="741.3" cy="173.7" r="2.8"/><circle cx="746.9" cy="167.3" r="2.8"/></g><g class="r2_9" fill="none" stroke="#111" stroke-width="1.2" stroke-opacity="0.85"><circle cx="634.1" cy="52.6" r="2.9"/><circle cx="693.2" cy="119.2" r="2.9"/><circle cx="735.2" cy="155.4" r="2.9"/><circle cx="722.2" cy="149.2" r="2.9"/><circle cx="721.5" cy="152.6" r="2.9"/><circle cx="639.8" cy="49.6" r="2.9"/><circle cx="694.3" cy="107.7" r="2.9"/><circle cx="680.8" cy="97.4" r="2.9"/><circle cx="716.8" cy="150" r="2.9"/><circle cx="722.3" cy="162.8" r="2.9"/><circle cx="663.1" cy="77.2" r="2.9"/><circle cx="733" cy="158.5" r="2.9"/><circle cx="697" cy="107.9" r="2.9"/><circle cx="706.4" cy="134.3" r="2.9"/><circle cx="657.5" cy="79" r="2.9"/><circle cx="689.8" cy="112.9" r="2.9"/><circle cx="725.5" cy="155.1" r="2.9"/><circle cx="661.7" cy="79.9" r="2.9"/><circle cx="668.2" cy="92.2" r="2.9"/><circle cx="636.8" cy="44.1" r="2.9"/><circle cx="696.2" cy="114.9" r="2.9"/><circle cx="736.5" cy="160.5" r="2.9"/><circle cx="707.5" cy="143.7" r="2.9"/><circle cx="634.8" cy="55.7" r="2.9"/><circle cx="717" cy="143.1" r="2.9"/><circle cx="733.8" cy="157.5" r="2.9"/><circle cx="659.7" cy="67.8" r="2.9"/><circle cx="640.3" cy="52.6" r="2.9"/><circle cx="671.1" cy="100.8" r="2.9"/><circle cx="659.1" cy="73.1" r="2.9"/><circle cx="633.5" cy="58" r="2.9"/><circle cx="633.2" cy="54.3" r="2.9"/><circle cx="637.8" cy="58.2" r="2.9"/><circle cx="708.4" cy="126.5" r="2.9"/><circle cx="685.9" cy="112.3" r="2.9"/><circle cx="665.7" cy="85.6" r="2.9"/><circle cx="732.9" cy="159.6" r="2.9"/><circle cx="682.4" cy="97.3" r="2.9"/><circle cx="681.3" cy="103.5" r="2.9"/><circle cx="708" cy="143.5" r="2.9"/><circle cx="716.2" cy="139.7" r="2.9"/><circle cx="681.2" cy="101.1" r="2.9"/><circle cx="646.8" cy="62.7" r="2.9"/><circle cx="682.1" cy="95.3" r="2.9"/><circle cx="668" cy="93.6" r="2.9"/><circle cx="717.6" cy="146.3" r="2.9"/><circle cx="659.4" cy="70.3" r="2.9"/><circle cx="642" cy="67.8" r="2.9"/><circle cx="680.4" cy="109" r="2.9"/><circle cx="725.4" cy="143.4" r="2.9"/><circle cx="675.3" cy="102.3" r="2.9"/><circle cx="686.8" cy="109.4" r="2.9"/><circle cx="660.6" cy="73.6" r="2.9"/><circle cx="728.8" cy="147.4" r="2.9"/><circle cx="640.9" cy="49.2" r="2.9"/><circle cx="709.8" cy="139.7" r="2.9"/><circle cx="689.1" cy="100.4" r="2.9"/><circle cx="716.7" cy="137.5" r="2.9"/><circle cx="644.6" cy="66.8" r="2.9"/><circle cx="644.5" cy="63.7" r="2.9"/><circle cx="712.5" cy="132.6" r="2.9"/><circle cx="707" cy="142.2" r="2.9"/><circle cx="661.9" cy="72.5" r="2.9"/><circle cx="633.1" cy="49.9" r="2.9"/><circle cx="710.3" cy="143.8" r="2.9"/><circle cx="714.2" cy="145.7" r="2.9"/><circle cx="722.7" cy="145.3" r="2.9"/><circle cx="707.6" cy="141.6" r="2.9"/><circle cx="665.3" cy="77" r="2.9"/><circle cx="674.5" cy="88.3" r="2.9"/><circle cx="727" cy="153" r="2.9"/><circle cx="693.2" cy="111.4" r="2.9"/><circle cx="656.7" cy="67.4" r="2.9"/><circle cx="731.5" cy="158.6" r="2.9"/><circle cx="645.8" cy="65.3" r="2.9"/><circle cx="673.8" cy="81.2" r="2.9"/><circle cx="729.9" cy="156" r="2.9"/><circle cx="696.9" cy="121.7" r="2.9"/><circle cx="692.2" cy="127.2" r="2.9"/><circle cx="684.9" cy="104.7" r="2.9"/><circle cx="707.6" cy="131.7" r="2.9"/><circle cx="714.7" cy="140" r="2.9"/><circle cx="681.9" cy="111.9" r="2.9"/><circle cx="655.6" cy="86.8" r="2.9"/><circle cx="653.2" cy="74.4" r="2.9"/><circle cx="717.8" cy="146.9" r="2.9"/><circle cx="699.6" cy="126.7" r="2.9"/><circle cx="651.8" cy="87.9" r="2.9"/><circle cx="644.4" cy="52.6" r="2.9"/><circle cx="656.2" cy="65" r="2.9"/><circle cx="723.6" cy="147.3" r="2.9"/><circle cx="708.2" cy="134.9" r="2.9"/><circle cx="672.4" cy="95.3" r="2.9"/><circle cx="722.8" cy="145.7" r="2.9"/><circle cx="658" cy="66.7" r="2.9"/><circle cx="670.2" cy="84.7" r="2.9"/><circle cx="650.1" cy="68.7" r="2.9"/><circle cx="638.6" cy="62.1" r="2.9"/><circle cx="678.4" cy="98.2" r="2.9"/><circle cx="700" cy="131.3" r="2.9"/><circle cx="717.3" cy="136" r="2.9"/><circle cx="649.2" cy="63.9" r="2.9"/><circle cx="637.4" cy="60.5" r="2.9"/><circle cx="700.7" cy="132" r="2.9"/><circle cx="659.7" cy="73.8" r="2.9"/><circle cx="643.4" cy="59" r="2.9"/><circle cx="662.6" cy="93.6" r="2.9"/><circle cx="721.2" cy="141.7" r="2.9"/><circle cx="633.4" cy="61.1" r="2.9"/><circle cx="690.7" cy="119.6" r="2.9"/><circle cx="688.7" cy="101.8" r="2.9"/><circle cx="643.1" cy="66.1" r="2.9"/><circle cx="650.1" cy="56.9" r="2.9"/><circle cx="712" cy="142.9" r="2.9"/><circle cx="659.6" cy="80.3" r="2.9"/><circle cx="727" cy="151.6" r="2.9"/><circle cx="704.3" cy="116.1" r="2.9"/><circle cx="702.2" cy="131" r="2.9"/><circle cx="686.7" cy="102.9" r="2.9"/><circle cx="671.5" cy="107.9" r="2.9"/><circle cx="659.1" cy="73.2" r="2.9"/><circle cx="659.1" cy="81.4" r="2.9"/><circle cx="725.2" cy="145.2" r="2.9"/><circle cx="663.6" cy="88.4" r="2.9"/><circle cx="683.1" cy="103.6" r="2.9"/><circle cx="693.6" cy="118.8" r="2.9"/><circle cx="672.1" cy="78.6" r="2.9"/><circle cx="637.9" cy="56.8" r="2.9"/><circle cx="678.8" cy="106.4" r="2.9"/><circle cx="721.2" cy="150.9" r="2.9"/><circle cx="730.1" cy="158.6" r="2.9"/><circle cx="692.9" cy="116.5" r="2.9"/><circle cx="671.2" cy="87.9" r="2.9"/><circle cx="651.9" cy="55.9" r="2.9"/><circle cx="693.1" cy="125.7" r="2.9"/><circle cx="705.2" cy="123.4" r="2.9"/><circle cx="661.6" cy="79.6" r="2.9"/><circle cx="661.2" cy="84.7" r="2.9"/><circle cx="637.8" cy="62.5" r="2.9"/><circle cx="645.1" cy="62.3" r="2.9"/><circle cx="674.7" cy="79.9" r="2.9"/><circle cx="725.4" cy="153.9" r="2.9"/><circle cx="684.5" cy="85.9" r="2.9"/><circle cx="712.2" cy="143.9" r="2.9"/><circle cx="651.6" cy="70.2" r="2.9"/><circle cx="679.1" cy="106.2" r="2.9"/><circle cx="657.1" cy="67.9" r="2.9"/><circle cx="705.5" cy="135.3" r="2.9"/><circle cx="630.8" cy="59.3" r="2.9"/><circle cx="664.8" cy="74.2" r="2.9"/><circle cx="702" cy="128.8" r="2.9"/><circle cx="671.5" cy="92.6" r="2.9"/><circle cx="636" cy="55" r="2.9"/><circle cx="714.2" cy="147.4" r="2.9"/><circle cx="638" cy="50" r="2.9"/><circle cx="682.7" cy="101.7" r="2.9"/><circle cx="708" cy="144.3" r="2.9"/><circle cx="712" cy="130.2" r="2.9"/><circle cx="632.8" cy="50.1" r="2.9"/><circle cx="729.8" cy="147.7" r="2.9"/><circle cx="723.2" cy="155.7" r="2.9"/><circle cx="653.5" cy="67.8" r="2.9"/><circle cx="645.3" cy="60.6" r="2.9"/><circle cx="714.4" cy="140" r="2.9"/><circle cx="675.4" cy="93.1" r="2.9"/><circle cx="694.1" cy="119.3" r="2.9"/><circle cx="641.4" cy="59.1" r="2.9"/><circle cx="694.6" cy="112.5" r="2.9"/><circle cx="712.3" cy="149.5" r="2.9"/><circle cx="633.2" cy="58.7" r="2.9"/><circle cx="654.5" cy="63.8" r="2.9"/><circle cx="685.5" cy="98.8" r="2.9"/><circle cx="691.3" cy="110.4" r="2.9"/><circle cx="732.8" cy="150.3" r="2.9"/><circle cx="723.3" cy="140.3" r="2.9"/><circle cx="697.4" cy="120.6" r="2.9"/><circle cx="677.8" cy="93.3" r="2.9"/><circle cx="691.4" cy="113.5" r="2.9"/><circle cx="706.4" cy="123.1" r="2.9"/><circle cx="728.1" cy="149.1" r="2.9"/><circle cx="710.6" cy="133.4" r="2.9"/><circle cx="683.1" cy="108.5" r="2.9"/><circle cx="683.7" cy="106.6" r="2.9"/><circle cx="635.7" cy="50.3" r="2.9"/><circle cx="675.2" cy="91.9" r="2.9"/><circle cx="642.6" cy="58.4" r="2.9"/><circle cx="732" cy="150.7" r="2.9"/><circle cx="704.4" cy="136.4" r="2.9"/><circle cx="637.9" cy="59.3" r="2.9"/><circle cx="721.7" cy="139.8" r="2.9"/></g><g fill="none" stroke="#a0574a" stroke-width="1.1"><path d="M588.7 -99.8 593 -77.5 596.2 -56.8 601.6 -26.9 607 -6.3 610.8 15.7 616.9 33.1 623.5 42.6 631.1 48.4 639.5 56.4 644.3 59.3 648.5 54.9 653.4 52.7 660.3 54.2 668.7 60.8 677 74.9 685.4 87.9 691.4 100.4 705.1 125.4 716.8 142 734.1 163.2 743.2 175.9 752.4 186.5 768.8 196.3 787.2 206.9 801.8 219.7 818.2 233.3 838.4 248.8 859.3 268.2 888.2 291.1 931.5 325.6"/><path d="M588.7 -99.8 593 -77.5 596.2 -56.8 601.6 -26.9 607 -6.3 610.8 15.7 616.9 33.1 623.5 42.6 631.1 48.4 638.9 54.2 649.9 66 660.9 81.1 681.6 110.8 701.1 135.8 720.7 160.8 732.3 172.9 750.5 198.2 772.5 209.9 794.4 223.5 816.4 244.9 834.8 262.4 855.8 275.9 895.5 310.3 931.6 342" stroke-dasharray="3.5 2"/></g></g>
<rect x="628.6" y="47.2" width="112.7" height="119.8" fill="none" stroke="#333" stroke-width="1"/>
<rect x="50.7" y="1.9" width="352.6" height="338.3" fill="none" stroke="#000" stroke-width="1.6"/>
<rect x="50.7" y="340.2" width="352.6" height="338.2" fill="none" stroke="#000" stroke-width="1.6"/>
<rect x="403.3" y="340.2" width="353.1" height="338.2" fill="none" stroke="#000" stroke-width="1.6"/>
<rect x="478.6" y="1.9" width="277.6" height="300.5" fill="none" stroke="#000" stroke-width="1.6"/>
<path d="M55.8 340.2v-4.6M55.8 1.9v4.6M102.8 340.2v-4.6M102.8 1.9v4.6M149.8 340.2v-4.6M149.8 1.9v4.6M196.8 340.2v-4.6M196.8 1.9v4.6M243.8 340.2v-4.6M243.8 1.9v4.6M290.8 340.2v-4.6M290.8 1.9v4.6M337.8 340.2v-4.6M337.8 1.9v4.6M384.8 340.2v-4.6M384.8 1.9v4.6" stroke="#000" stroke-width="1.1" fill="none"/>
<path d="M55.8 678.4v-4.6M55.8 340.2v4.6M102.8 678.4v-4.6M102.8 340.2v4.6M149.8 678.4v-4.6M149.8 340.2v4.6M196.8 678.4v-4.6M196.8 340.2v4.6M243.8 678.4v-4.6M243.8 340.2v4.6M290.8 678.4v-4.6M290.8 340.2v4.6M337.8 678.4v-4.6M337.8 340.2v4.6M384.8 678.4v-4.6M384.8 340.2v4.6" stroke="#000" stroke-width="1.1" fill="none"/>
<path d="M50.7 9.0h4.6M403.3 9.0h-4.6M50.7 47.4h4.6M403.3 47.4h-4.6M50.7 85.8h4.6M403.3 85.8h-4.6M50.7 124.2h4.6M403.3 124.2h-4.6M50.7 162.6h4.6M403.3 162.6h-4.6M50.7 201.0h4.6M403.3 201.0h-4.6M50.7 239.4h4.6M403.3 239.4h-4.6M50.7 277.8h4.6M403.3 277.8h-4.6M50.7 316.2h4.6M403.3 316.2h-4.6" stroke="#000" stroke-width="1.1" fill="none"/>
<path d="M50.7 366.1h4.6M403.3 366.1h-4.6M50.7 416.1h4.6M403.3 416.1h-4.6M50.7 466.1h4.6M403.3 466.1h-4.6M50.7 516.1h4.6M403.3 516.1h-4.6M50.7 566.1h4.6M403.3 566.1h-4.6M50.7 616.1h4.6M403.3 616.1h-4.6M50.7 666.1h4.6M403.3 666.1h-4.6" stroke="#000" stroke-width="1.1" fill="none"/>
<path d="M403.3 366.1h4.6M756.4 366.1h-4.6M403.3 416.1h4.6M756.4 416.1h-4.6M403.3 466.1h4.6M756.4 466.1h-4.6M403.3 516.1h4.6M756.4 516.1h-4.6M403.3 566.1h4.6M756.4 566.1h-4.6M403.3 616.1h4.6M756.4 616.1h-4.6M403.3 666.1h4.6M756.4 666.1h-4.6" stroke="#000" stroke-width="1.1" fill="none"/>
<path d="M471.3 678.4v-4.6M471.3 340.2v4.6M546.3 678.4v-4.6M546.3 340.2v4.6M621.3 678.4v-4.6M621.3 340.2v4.6M696.3 678.4v-4.6M696.3 340.2v4.6" stroke="#000" stroke-width="1.1" fill="none"/>
<path d="M524.5 302.4v-4.6M524.5 1.9v4.6M582.4 302.4v-4.6M582.4 1.9v4.6M640.3 302.4v-4.6M640.3 1.9v4.6M698.2 302.4v-4.6M698.2 1.9v4.6M756.1 302.4v-4.6M756.1 1.9v4.6" stroke="#000" stroke-width="1.1" fill="none"/>
<path d="M478.6 12.5h4.6M756.2 12.5h-4.6M478.6 53.9h4.6M756.2 53.9h-4.6M478.6 95.3h4.6M756.2 95.3h-4.6M478.6 136.7h4.6M756.2 136.7h-4.6M478.6 178.1h4.6M756.2 178.1h-4.6M478.6 219.5h4.6M756.2 219.5h-4.6M478.6 260.9h4.6M756.2 260.9h-4.6M478.6 302.3h4.6M756.2 302.3h-4.6" stroke="#000" stroke-width="1.1" fill="none"/>
<text x="45.2" y="13.2" font-size="10.2" text-anchor="end" textLength="27.5" lengthAdjust="spacingAndGlyphs" >−225</text>
<text x="45.2" y="51.6" font-size="10.2" text-anchor="end" textLength="27.5" lengthAdjust="spacingAndGlyphs" >−250</text>
<text x="45.2" y="90.0" font-size="10.2" text-anchor="end" textLength="27.5" lengthAdjust="spacingAndGlyphs" >−275</text>
<text x="45.2" y="128.4" font-size="10.2" text-anchor="end" textLength="27.5" lengthAdjust="spacingAndGlyphs" >−300</text>
<text x="45.2" y="166.8" font-size="10.2" text-anchor="end" textLength="27.5" lengthAdjust="spacingAndGlyphs" >−325</text>
<text x="45.2" y="205.2" font-size="10.2" text-anchor="end" textLength="27.5" lengthAdjust="spacingAndGlyphs" >−350</text>
<text x="45.2" y="243.6" font-size="10.2" text-anchor="end" textLength="27.5" lengthAdjust="spacingAndGlyphs" >−375</text>
<text x="45.2" y="282.0" font-size="10.2" text-anchor="end" textLength="27.5" lengthAdjust="spacingAndGlyphs" >−400</text>
<text x="45.2" y="320.4" font-size="10.2" text-anchor="end" textLength="27.5" lengthAdjust="spacingAndGlyphs" >−425</text>
<text x="45.2" y="370.3" font-size="10.2" text-anchor="end" textLength="12.7" lengthAdjust="spacingAndGlyphs" >20</text>
<text x="45.2" y="420.3" font-size="10.2" text-anchor="end" textLength="6.4" lengthAdjust="spacingAndGlyphs" >0</text>
<text x="45.2" y="470.3" font-size="10.2" text-anchor="end" textLength="21.1" lengthAdjust="spacingAndGlyphs" >−20</text>
<text x="45.2" y="520.3" font-size="10.2" text-anchor="end" textLength="21.1" lengthAdjust="spacingAndGlyphs" >−40</text>
<text x="45.2" y="570.3" font-size="10.2" text-anchor="end" textLength="21.1" lengthAdjust="spacingAndGlyphs" >−60</text>
<text x="45.2" y="620.3" font-size="10.2" text-anchor="end" textLength="21.1" lengthAdjust="spacingAndGlyphs" >−80</text>
<text x="45.2" y="670.3" font-size="10.2" text-anchor="end" textLength="27.5" lengthAdjust="spacingAndGlyphs" >−100</text>
<text x="55.8" y="691.6" font-size="10.2" text-anchor="middle" textLength="27.5" lengthAdjust="spacingAndGlyphs" >−140</text>
<text x="102.8" y="691.6" font-size="10.2" text-anchor="middle" textLength="27.5" lengthAdjust="spacingAndGlyphs" >−120</text>
<text x="149.8" y="691.6" font-size="10.2" text-anchor="middle" textLength="27.5" lengthAdjust="spacingAndGlyphs" >−100</text>
<text x="196.8" y="691.6" font-size="10.2" text-anchor="middle" textLength="21.1" lengthAdjust="spacingAndGlyphs" >−80</text>
<text x="243.8" y="691.6" font-size="10.2" text-anchor="middle" textLength="21.1" lengthAdjust="spacingAndGlyphs" >−60</text>
<text x="290.8" y="691.6" font-size="10.2" text-anchor="middle" textLength="21.1" lengthAdjust="spacingAndGlyphs" >−40</text>
<text x="337.8" y="691.6" font-size="10.2" text-anchor="middle" textLength="21.1" lengthAdjust="spacingAndGlyphs" >−20</text>
<text x="384.8" y="691.6" font-size="10.2" text-anchor="middle" textLength="6.4" lengthAdjust="spacingAndGlyphs" >0</text>
<text x="471.3" y="691.6" font-size="10.2" text-anchor="middle" textLength="27.5" lengthAdjust="spacingAndGlyphs" >−400</text>
<text x="546.3" y="691.6" font-size="10.2" text-anchor="middle" textLength="27.5" lengthAdjust="spacingAndGlyphs" >−350</text>
<text x="621.3" y="691.6" font-size="10.2" text-anchor="middle" textLength="27.5" lengthAdjust="spacingAndGlyphs" >−300</text>
<text x="696.3" y="691.6" font-size="10.2" text-anchor="middle" textLength="27.5" lengthAdjust="spacingAndGlyphs" >−250</text>
<text x="473.6" y="16.7" font-size="10.2" text-anchor="end" textLength="14.7" lengthAdjust="spacingAndGlyphs" >−2</text>
<text x="473.6" y="58.1" font-size="10.2" text-anchor="end" textLength="6.4" lengthAdjust="spacingAndGlyphs" >0</text>
<text x="473.6" y="99.5" font-size="10.2" text-anchor="end" textLength="6.4" lengthAdjust="spacingAndGlyphs" >2</text>
<text x="473.6" y="140.9" font-size="10.2" text-anchor="end" textLength="6.4" lengthAdjust="spacingAndGlyphs" >4</text>
<text x="473.6" y="182.3" font-size="10.2" text-anchor="end" textLength="6.4" lengthAdjust="spacingAndGlyphs" >6</text>
<text x="473.6" y="223.7" font-size="10.2" text-anchor="end" textLength="6.4" lengthAdjust="spacingAndGlyphs" >8</text>
<text x="473.6" y="265.1" font-size="10.2" text-anchor="end" textLength="12.7" lengthAdjust="spacingAndGlyphs" >10</text>
<text x="473.6" y="306.5" font-size="10.2" text-anchor="end" textLength="12.7" lengthAdjust="spacingAndGlyphs" >12</text>
<text x="524.5" y="315.6" font-size="10.2" text-anchor="middle" textLength="6.4" lengthAdjust="spacingAndGlyphs" >0</text>
<text x="582.4" y="315.6" font-size="10.2" text-anchor="middle" textLength="6.4" lengthAdjust="spacingAndGlyphs" >1</text>
<text x="640.3" y="315.6" font-size="10.2" text-anchor="middle" textLength="6.4" lengthAdjust="spacingAndGlyphs" >2</text>
<text x="698.2" y="315.6" font-size="10.2" text-anchor="middle" textLength="6.4" lengthAdjust="spacingAndGlyphs" >3</text>
<text x="756.1" y="315.6" font-size="10.2" text-anchor="middle" textLength="6.4" lengthAdjust="spacingAndGlyphs" >4</text>
<text x="68.7" y="25.3" font-size="12">(a)</text>
<text x="68.6" y="363.8" font-size="12">(b)</text>
<text x="421.6" y="363.8" font-size="12">(c)</text>
<text x="493.0" y="23.2" font-size="12">(d)</text>
<text x="506.6" y="282" font-size="10.3" textLength="44" lengthAdjust="spacingAndGlyphs">Vela OB2</text>
<text x="226.4" y="706.3" font-size="12" text-anchor="middle" textLength="41.4" lengthAdjust="spacingAndGlyphs"><tspan font-style="italic">X</tspan><tspan font-size="8.6" font-style="italic" dy="2.4">c</tspan><tspan dy="-2.4"> [pc]</tspan></text>
<text x="579.4" y="706.3" font-size="12" text-anchor="middle" textLength="41.4" lengthAdjust="spacingAndGlyphs"><tspan font-style="italic">Y</tspan><tspan font-size="8.6" font-style="italic" dy="2.4">c</tspan><tspan dy="-2.4"> [pc]</tspan></text>
<text x="11.0" y="171.3" font-size="12" text-anchor="middle" textLength="40.0" lengthAdjust="spacingAndGlyphs" transform="rotate(-90 11.0 171.3)"><tspan font-style="italic">Y</tspan><tspan font-size="8.6" font-style="italic" dy="2.4">c</tspan><tspan dy="-2.4"> [pc]</tspan></text>
<text x="11.0" y="510.0" font-size="12" text-anchor="middle" textLength="42.2" lengthAdjust="spacingAndGlyphs" transform="rotate(-90 11.0 510.0)"><tspan font-style="italic">Z</tspan><tspan font-size="8.6" font-style="italic" dy="2.4">c</tspan><tspan dy="-2.4"> [pc]</tspan></text>
<text x="451.9" y="152.9" font-size="11" text-anchor="middle" transform="rotate(-90 451.9 152.9)">M<tspan font-size="7.8" font-style="italic" dy="2">G</tspan></text>
<text x="617.2" y="328.9" font-size="12" text-anchor="middle" textLength="48.3" lengthAdjust="spacingAndGlyphs"><tspan font-style="italic">G</tspan><tspan font-size="8.2" dy="1.6">BP</tspan><tspan dy="-1.6"> − </tspan><tspan font-style="italic">G</tspan><tspan font-size="8.2" dy="1.6">RP</tspan></text>
<circle cx="315.8" cy="15.5" r="4.3" fill="#a3a3a3"/><circle cx="315.8" cy="31.3" r="3.5" fill="#a3a3a3"/><circle cx="315.8" cy="47.1" r="3.0" fill="#a3a3a3"/>
<circle cx="315.8" cy="62.9" r="3.4" fill="#e3938d"/>
<circle cx="315.8" cy="79.2" r="2.9" fill="#f5cf9a" stroke="#e8948c" stroke-width="1.1"/><path d="M315.8 76.8l1 2.4-1 2.4-1-2.4z M313.4 79.2l2.4-1 2.4 1-2.4 1z" fill="#ffd000"/>
<text x="337.2" y="19.2" font-size="10.2" textLength="6.2" lengthAdjust="spacingAndGlyphs" >&gt;</text>
<text x="347.8" y="19.2" font-size="10.2" textLength="15.1" lengthAdjust="spacingAndGlyphs" >5M</text>
<circle cx="366.0" cy="18.0" r="2.2" fill="none" stroke="#000" stroke-width=".7"/><circle cx="366.0" cy="18.0" r=".55" fill="#000"/>
<text x="335.0" y="35.0" font-size="10.2" textLength="6.3" lengthAdjust="spacingAndGlyphs" >2</text>
<text x="343.2" y="35.0" font-size="10.2" textLength="7.8" lengthAdjust="spacingAndGlyphs" >−</text>
<text x="354.7" y="35.0" font-size="10.2" textLength="15.1" lengthAdjust="spacingAndGlyphs" >5M</text>
<circle cx="372.8" cy="33.8" r="2.2" fill="none" stroke="#000" stroke-width=".7"/><circle cx="372.8" cy="33.8" r=".55" fill="#000"/>
<text x="335.0" y="50.8" font-size="10.2" textLength="6.3" lengthAdjust="spacingAndGlyphs" >1</text>
<text x="343.2" y="50.8" font-size="10.2" textLength="7.8" lengthAdjust="spacingAndGlyphs" >−</text>
<text x="354.7" y="50.8" font-size="10.2" textLength="15.1" lengthAdjust="spacingAndGlyphs" >2M</text>
<circle cx="372.8" cy="49.6" r="2.2" fill="none" stroke="#000" stroke-width=".7"/><circle cx="372.8" cy="49.6" r=".55" fill="#000"/>
<text x="335.0" y="66.8" font-size="10.2" textLength="58.8" lengthAdjust="spacingAndGlyphs" >Huluwa 1 A</text>
<text x="335.0" y="82.6" font-size="10.2" textLength="58.3" lengthAdjust="spacingAndGlyphs" >Huluwa 1 B</text>
<path d="M684.2 15.4H705.8" stroke="#a0574a" stroke-width="1.1"/><path d="M684.2 31H705.8" stroke="#a0574a" stroke-width="1.1" stroke-dasharray="3.5 2"/>
<text x="714.8" y="19.5" font-size="10.2" textLength="31.6" lengthAdjust="spacingAndGlyphs" >10Myr</text>
<text x="714.8" y="35.1" font-size="10.2" textLength="31.6" lengthAdjust="spacingAndGlyphs" >20Myr</text>
<path d="M671.2 353.6H691.6" stroke="#111" stroke-width="1.1" stroke-dasharray="4 2.4"/>
<path d="M681.7 363.8l1.45 3.9 4.1.2-3.2 2.6 1.1 4-3.45-2.3-3.45 2.3 1.1-4-3.2-2.6 4.1-.2z" fill="none" stroke="#f2c200" stroke-width="1"/>
<text x="700.9" y="357.6" font-size="10.2" textLength="16.2" lengthAdjust="spacingAndGlyphs" >rim</text>
<text x="700.9" y="372.6" font-size="10.2" textLength="45.4" lengthAdjust="spacingAndGlyphs" >rim stars</text>
</svg>
</body></html>
